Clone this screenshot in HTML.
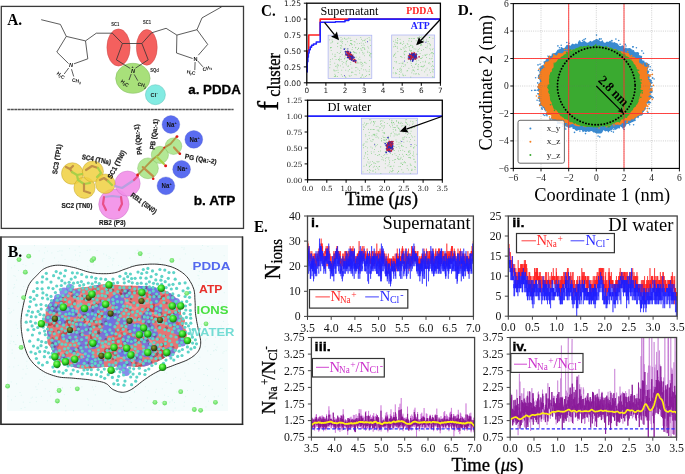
<!DOCTYPE html>
<html><head><meta charset="utf-8"><style>html,body{margin:0;padding:0;background:#fff;}svg{display:block;}</style></head>
<body><svg width="685" height="474" viewBox="0 0 685 474">
<rect width="685" height="474" fill="#fff"/>
<rect x="1.3" y="6.4" width="242.2" height="222" fill="#fff" stroke="#3a3a3a" stroke-width="1.3"/>
<text x="7.2" y="25.4" font-size="17" font-family="'Liberation Serif', 'DejaVu Serif', serif" fill="#000" font-weight="bold" textLength="15" lengthAdjust="spacingAndGlyphs" >A.</text>
<ellipse cx="118.5" cy="47.5" rx="11.6" ry="18.6" fill="#f4605e" stroke="#c84848" stroke-width="0.5"/>
<ellipse cx="146.8" cy="47.4" rx="10.4" ry="17.8" fill="#f4605e" stroke="#c84848" stroke-width="0.5"/>
<ellipse cx="132.9" cy="78.3" rx="17.2" ry="15" fill="#a8e07a" stroke="#7cb85a" stroke-width="0.5"/>
<circle cx="155.4" cy="94.7" r="10" fill="#82ebe2" stroke="#5cc0b8" stroke-width="0.5"/>
<polyline points="41.2,19.7 60.4,24.4 66.3,36.4" stroke="#333" stroke-width="0.8" fill="none" stroke-linejoin="round"/>
<polyline points="68.6,63.6 56.8,52.0 66.3,36.4 85.5,40.9 87.8,58.8 74.0,63.8" stroke="#333" stroke-width="0.8" fill="none" stroke-linejoin="round"/>
<polyline points="85.5,40.9 96.3,33.2 112.4,33.2 122.4,43.5 141.9,43.5 151.4,32.9 166.1,28.3 176.9,35.1" stroke="#333" stroke-width="0.8" fill="none" stroke-linejoin="round"/>
<polyline points="122.4,43.5 116.4,59.8 130.2,68.4" stroke="#333" stroke-width="0.8" fill="none" stroke-linejoin="round"/>
<polyline points="141.9,43.5 148.2,59.8 135.4,68.2" stroke="#333" stroke-width="0.8" fill="none" stroke-linejoin="round"/>
<polyline points="192.6,58.5 176.5,53.0 176.9,35.1 197.0,29.7 207.7,44.4 198.3,55.2" stroke="#333" stroke-width="0.8" fill="none" stroke-linejoin="round"/>
<polyline points="197.0,29.7 202.0,17.9 221.7,6.8" stroke="#333" stroke-width="0.8" fill="none" stroke-linejoin="round"/>
<polyline points="68.7,68.0 64.2,74.0" stroke="#333" stroke-width="0.8" fill="none" stroke-linejoin="round"/>
<polyline points="71.5,69.2 73.7,76.5" stroke="#333" stroke-width="0.8" fill="none" stroke-linejoin="round"/>
<polyline points="131.2,74.0 129.0,80.0" stroke="#333" stroke-width="0.8" fill="none" stroke-linejoin="round"/>
<polyline points="134.2,74.4 137.8,80.7" stroke="#333" stroke-width="0.8" fill="none" stroke-linejoin="round"/>
<polyline points="195.1,62.0 194.8,70.1" stroke="#333" stroke-width="0.8" fill="none" stroke-linejoin="round"/>
<polyline points="197.7,60.9 202.9,66.8" stroke="#333" stroke-width="0.8" fill="none" stroke-linejoin="round"/>
<text x="69.1" y="67.3" font-size="5.6" font-family="'Liberation Sans', 'DejaVu Sans', sans-serif" fill="#151515" font-weight="bold" font-style="italic">N</text>
<g transform="translate(56.3,74) rotate(38)" font-family="'Liberation Sans', 'DejaVu Sans', sans-serif" font-weight="bold" fill="#151515"><text x="0" y="0" font-size="5">H</text><text x="3.5" y="1.2" font-size="3.4">3</text><text x="5.1" y="0" font-size="5">C</text></g>
<g transform="translate(71.8,81.6) rotate(10)" font-family="'Liberation Sans', 'DejaVu Sans', sans-serif" font-weight="bold" fill="#151515"><text x="0" y="0" font-size="5">CH</text><text x="7.2" y="1.2" font-size="3.4">3</text></g>
<text x="130.9" y="72.8" font-size="5.6" font-family="'Liberation Sans', 'DejaVu Sans', sans-serif" fill="#151515" font-weight="bold" font-style="italic">N</text>
<text x="131.6" y="67.6" font-size="3.6" font-family="'Liberation Sans', 'DejaVu Sans', sans-serif" fill="#151515" font-weight="bold" >+</text>
<g transform="translate(120.2,82) rotate(35)" font-family="'Liberation Sans', 'DejaVu Sans', sans-serif" font-weight="bold" fill="#151515"><text x="0" y="0" font-size="5">H</text><text x="3.5" y="1.2" font-size="3.4">3</text><text x="5.1" y="0" font-size="5">C</text></g>
<g transform="translate(137.2,85.4) rotate(15)" font-family="'Liberation Sans', 'DejaVu Sans', sans-serif" font-weight="bold" fill="#151515"><text x="0" y="0" font-size="5">CH</text><text x="7.2" y="1.2" font-size="3.4">3</text></g>
<text x="193.6" y="60.9" font-size="5.6" font-family="'Liberation Sans', 'DejaVu Sans', sans-serif" fill="#151515" font-weight="bold" >N</text>
<g transform="translate(186.4,73.2) rotate(12)" font-family="'Liberation Sans', 'DejaVu Sans', sans-serif" font-weight="bold" fill="#151515"><text x="0" y="0" font-size="5">H</text><text x="3.5" y="1.2" font-size="3.4">3</text><text x="5.1" y="0" font-size="5">C</text></g>
<g transform="translate(203.2,71.4) rotate(-18)" font-family="'Liberation Sans', 'DejaVu Sans', sans-serif" font-weight="bold" fill="#151515"><text x="0" y="0" font-size="5">CH</text><text x="7.2" y="1.2" font-size="3.4">3</text></g>
<text x="111.2" y="26.2" font-size="4.6" font-family="'Liberation Sans', 'DejaVu Sans', sans-serif" fill="#151515" font-weight="bold" textLength="8" lengthAdjust="spacingAndGlyphs" >SC1</text>
<text x="143.0" y="24.4" font-size="4.6" font-family="'Liberation Sans', 'DejaVu Sans', sans-serif" fill="#151515" font-weight="bold" textLength="8" lengthAdjust="spacingAndGlyphs" >SC1</text>
<text x="150.2" y="71.8" font-size="4.8" font-family="'Liberation Sans', 'DejaVu Sans', sans-serif" fill="#151515" font-weight="bold" textLength="8.7" lengthAdjust="spacingAndGlyphs" >SQd</text>
<text x="150.6" y="97.4" font-size="5.8" font-family="'Liberation Sans', 'DejaVu Sans', sans-serif" fill="#151515" font-weight="bold" textLength="5.6" lengthAdjust="spacingAndGlyphs" >Cl</text>
<text x="156.4" y="93.6" font-size="3.5" font-family="'Liberation Sans', 'DejaVu Sans', sans-serif" fill="#151515" font-weight="bold" >-</text>
<text x="188.3" y="94.0" font-size="13.5" font-family="'Liberation Sans', 'DejaVu Sans', sans-serif" fill="#000" font-weight="bold" textLength="52.5" lengthAdjust="spacingAndGlyphs" stroke="#000" stroke-width="0.3">a. PDDA</text>
<line x1="7.3" y1="109.5" x2="233.6" y2="109.5" stroke="#505050" stroke-width="1.3" stroke-dasharray="3 0.5"/>
<circle cx="113.9" cy="204.2" r="15.2" fill="#f28ee8" fill-opacity="0.9" stroke="#c070c0" stroke-width="0.4"/>
<circle cx="127.6" cy="183.6" r="12.6" fill="#f28ee8" fill-opacity="0.9" stroke="#c070c0" stroke-width="0.4"/>
<circle cx="72.3" cy="173.5" r="10.8" fill="#f0d040" fill-opacity="0.85" stroke="#b89a20" stroke-width="0.4"/>
<circle cx="84.5" cy="187.8" r="10.6" fill="#f0d040" fill-opacity="0.85" stroke="#b89a20" stroke-width="0.4"/>
<circle cx="92.9" cy="171.5" r="10.6" fill="#f0d040" fill-opacity="0.85" stroke="#b89a20" stroke-width="0.4"/>
<circle cx="105.3" cy="183.8" r="9.8" fill="#f0d040" fill-opacity="0.85" stroke="#b89a20" stroke-width="0.4"/>
<circle cx="148" cy="168.3" r="10.4" fill="#ace68c" fill-opacity="0.92" stroke="#78b858" stroke-width="0.4"/>
<circle cx="159.9" cy="154.9" r="8.6" fill="#ace68c" fill-opacity="0.92" stroke="#78b858" stroke-width="0.4"/>
<circle cx="173.5" cy="146.2" r="8.3" fill="#ace68c" fill-opacity="0.92" stroke="#78b858" stroke-width="0.4"/>
<polyline points="66,167 70,169 73,166" stroke="#c09048" stroke-width="2.2" stroke-linecap="round" stroke-linejoin="round" fill="none"/>
<polyline points="70,169 72,172" stroke="#c09048" stroke-width="2.2" stroke-linecap="round" stroke-linejoin="round" fill="none"/>
<polyline points="72,172 77,175 82,174" stroke="#a8d048" stroke-width="2.2" stroke-linecap="round" stroke-linejoin="round" fill="none"/>
<polyline points="77,175 78,180" stroke="#a8d048" stroke-width="2.2" stroke-linecap="round" stroke-linejoin="round" fill="none"/>
<polyline points="78,180 84,184 90,183" stroke="#a8d048" stroke-width="2.2" stroke-linecap="round" stroke-linejoin="round" fill="none"/>
<polyline points="84,184 84,191 90,193" stroke="#c09048" stroke-width="2.2" stroke-linecap="round" stroke-linejoin="round" fill="none"/>
<polyline points="86,170 92,166 98,168" stroke="#c09048" stroke-width="2.2" stroke-linecap="round" stroke-linejoin="round" fill="none"/>
<polyline points="98,168 101,173 97,177" stroke="#a8d048" stroke-width="2.2" stroke-linecap="round" stroke-linejoin="round" fill="none"/>
<polyline points="100,180 104,178 108,181" stroke="#c09048" stroke-width="2.2" stroke-linecap="round" stroke-linejoin="round" fill="none"/>
<polyline points="108,181 112,185" stroke="#a8d048" stroke-width="2.2" stroke-linecap="round" stroke-linejoin="round" fill="none"/>
<polyline points="115,186 122,188 128,184 134,180" stroke="#b8a0e0" stroke-width="2.2" stroke-linecap="round" stroke-linejoin="round" fill="none"/>
<polyline points="134,180 138,176" stroke="#e8508a" stroke-width="2.2" stroke-linecap="round" stroke-linejoin="round" fill="none"/>
<polyline points="104,197 112,196 121,197" stroke="#b8a0e0" stroke-width="2.2" stroke-linecap="round" stroke-linejoin="round" fill="none"/>
<polyline points="104,197 103,204 106,210" stroke="#e8508a" stroke-width="2.2" stroke-linecap="round" stroke-linejoin="round" fill="none"/>
<polyline points="121,197 122,204 119,210" stroke="#e8508a" stroke-width="2.2" stroke-linecap="round" stroke-linejoin="round" fill="none"/>
<polyline points="138.1,174.7 147.4,164.8 153.2,159 159,154.4 164.8,147.4 170.6,143.9 176.4,137" stroke="#b09a48" stroke-width="1.9" stroke-linecap="round" stroke-linejoin="round" fill="none"/>
<polyline points="142.8,167.1 153.2,176.4" stroke="#c09048" stroke-width="2.2" stroke-linecap="round" stroke-linejoin="round" fill="none"/>
<polyline points="156.7,156.7 164,164" stroke="#a8d048" stroke-width="2.2" stroke-linecap="round" stroke-linejoin="round" fill="none"/>
<polyline points="174,147.4 179.5,153.4" stroke="#c09048" stroke-width="2.2" stroke-linecap="round" stroke-linejoin="round" fill="none"/>
<circle cx="137.5" cy="174.9" r="1.3" fill="#e01818"/>
<circle cx="153.2" cy="178.8" r="1.3" fill="#e01818"/>
<circle cx="165.6" cy="165.8" r="1.5" fill="#e01818"/>
<circle cx="179.9" cy="153.8" r="1.3" fill="#e01818"/>
<circle cx="177" cy="136.6" r="1.4" fill="#e01818"/>
<circle cx="164.2" cy="147.6" r="0.9" fill="#e01818"/>
<circle cx="170.9" cy="124.5" r="8.9" fill="#5a6cf0" stroke="#4a58c8" stroke-width="0.3"/>
<text x="166.6" y="126.6" font-size="6.3" font-family="'Liberation Sans', 'DejaVu Sans', sans-serif" fill="#101010" font-weight="bold" textLength="7.8" lengthAdjust="spacingAndGlyphs" >Na</text>
<text x="174.6" y="124.1" font-size="3.8" font-family="'Liberation Sans', 'DejaVu Sans', sans-serif" fill="#101010" font-weight="bold" >+</text>
<circle cx="193.8" cy="139.4" r="8.9" fill="#5a6cf0" stroke="#4a58c8" stroke-width="0.3"/>
<text x="189.5" y="141.5" font-size="6.3" font-family="'Liberation Sans', 'DejaVu Sans', sans-serif" fill="#101010" font-weight="bold" textLength="7.8" lengthAdjust="spacingAndGlyphs" >Na</text>
<text x="197.5" y="139.0" font-size="3.8" font-family="'Liberation Sans', 'DejaVu Sans', sans-serif" fill="#101010" font-weight="bold" >+</text>
<circle cx="181.6" cy="169.3" r="8.9" fill="#5a6cf0" stroke="#4a58c8" stroke-width="0.3"/>
<text x="177.3" y="171.4" font-size="6.3" font-family="'Liberation Sans', 'DejaVu Sans', sans-serif" fill="#101010" font-weight="bold" textLength="7.8" lengthAdjust="spacingAndGlyphs" >Na</text>
<text x="185.3" y="168.9" font-size="3.8" font-family="'Liberation Sans', 'DejaVu Sans', sans-serif" fill="#101010" font-weight="bold" >+</text>
<circle cx="165.9" cy="185.8" r="8.9" fill="#5a6cf0" stroke="#4a58c8" stroke-width="0.3"/>
<text x="161.6" y="187.9" font-size="6.3" font-family="'Liberation Sans', 'DejaVu Sans', sans-serif" fill="#101010" font-weight="bold" textLength="7.8" lengthAdjust="spacingAndGlyphs" >Na</text>
<text x="169.6" y="185.4" font-size="3.8" font-family="'Liberation Sans', 'DejaVu Sans', sans-serif" fill="#101010" font-weight="bold" >+</text>
<text x="57.0" y="174.5" font-size="7" font-family="'Liberation Sans', 'DejaVu Sans', sans-serif" fill="#1a1a1a" font-weight="bold" textLength="30.2" lengthAdjust="spacingAndGlyphs" transform="rotate(-81 57.0 174.5)" stroke="#1a1a1a" stroke-width="0.2">SC3 (TP1)</text>
<text x="81.5" y="158.9" font-size="7" font-family="'Liberation Sans', 'DejaVu Sans', sans-serif" fill="#1a1a1a" font-weight="bold" textLength="29.5" lengthAdjust="spacingAndGlyphs" transform="rotate(11.5 81.5 158.9)" stroke="#1a1a1a" stroke-width="0.2">SC4 (TNa)</text>
<text x="111.6" y="179.3" font-size="7" font-family="'Liberation Sans', 'DejaVu Sans', sans-serif" fill="#1a1a1a" font-weight="bold" textLength="31" lengthAdjust="spacingAndGlyphs" transform="rotate(-62.5 111.6 179.3)" stroke="#1a1a1a" stroke-width="0.2">SC1 (TN0)</text>
<text x="61.4" y="207.5" font-size="7" font-family="'Liberation Sans', 'DejaVu Sans', sans-serif" fill="#1a1a1a" font-weight="bold" textLength="31" lengthAdjust="spacingAndGlyphs" stroke="#1a1a1a" stroke-width="0.2">SC2 (TN0)</text>
<text x="99.1" y="224.8" font-size="7" font-family="'Liberation Sans', 'DejaVu Sans', sans-serif" fill="#1a1a1a" font-weight="bold" textLength="26.6" lengthAdjust="spacingAndGlyphs" stroke="#1a1a1a" stroke-width="0.2">RB2 (P3)</text>
<text x="130.0" y="196.2" font-size="7" font-family="'Liberation Sans', 'DejaVu Sans', sans-serif" fill="#1a1a1a" font-weight="bold" textLength="30.5" lengthAdjust="spacingAndGlyphs" transform="rotate(36 130.0 196.2)" stroke="#1a1a1a" stroke-width="0.2">RB1 (SN0)</text>
<text x="141.9" y="154.6" font-size="7" font-family="'Liberation Sans', 'DejaVu Sans', sans-serif" fill="#1a1a1a" font-weight="bold" textLength="30.6" lengthAdjust="spacingAndGlyphs" transform="rotate(-96 141.9 154.6)" stroke="#1a1a1a" stroke-width="0.2">PA (Qa:-1)</text>
<text x="154.6" y="149.8" font-size="7" font-family="'Liberation Sans', 'DejaVu Sans', sans-serif" fill="#1a1a1a" font-weight="bold" textLength="30.8" lengthAdjust="spacingAndGlyphs" transform="rotate(-83 154.6 149.8)" stroke="#1a1a1a" stroke-width="0.2">PB (Qa:-1)</text>
<text x="184.6" y="158.6" font-size="7" font-family="'Liberation Sans', 'DejaVu Sans', sans-serif" fill="#1a1a1a" font-weight="bold" textLength="32" lengthAdjust="spacingAndGlyphs" transform="rotate(10.5 184.6 158.6)" stroke="#1a1a1a" stroke-width="0.2">PG (Qa:-2)</text>
<text x="193.7" y="205.4" font-size="13.6" font-family="'Liberation Sans', 'DejaVu Sans', sans-serif" fill="#000" font-weight="bold" textLength="41.8" lengthAdjust="spacingAndGlyphs" stroke="#000" stroke-width="0.3">b. ATP</text>
<rect x="1" y="237" width="241.5" height="187.3" fill="#fff" stroke="#6a6a6a" stroke-width="1.5"/>
<rect x="7" y="245" width="221" height="166" fill="#f5fcfc"/>
<g fill="#d8f4f0"><rect x="35.4" y="386.4" width="0.9" height="0.9"/><rect x="117.3" y="341.2" width="0.9" height="0.9"/><rect x="139.9" y="345.5" width="0.9" height="0.9"/><rect x="13.3" y="309.7" width="0.9" height="0.9"/><rect x="39.7" y="379.1" width="0.9" height="0.9"/><rect x="212.1" y="328.3" width="0.9" height="0.9"/><rect x="22.6" y="368.8" width="0.9" height="0.9"/><rect x="35.7" y="396.8" width="0.9" height="0.9"/><rect x="216.6" y="346.6" width="0.9" height="0.9"/><rect x="144.4" y="317.2" width="0.9" height="0.9"/><rect x="88.5" y="288.8" width="0.9" height="0.9"/><rect x="120.0" y="396.4" width="0.9" height="0.9"/><rect x="153.5" y="372.0" width="0.9" height="0.9"/><rect x="67.8" y="377.7" width="0.9" height="0.9"/><rect x="37.5" y="281.8" width="0.9" height="0.9"/><rect x="181.2" y="317.5" width="0.9" height="0.9"/><rect x="155.1" y="391.7" width="0.9" height="0.9"/><rect x="120.2" y="285.8" width="0.9" height="0.9"/><rect x="187.5" y="380.1" width="0.9" height="0.9"/><rect x="128.3" y="334.4" width="0.9" height="0.9"/><rect x="223.8" y="281.3" width="0.9" height="0.9"/><rect x="52.2" y="307.3" width="0.9" height="0.9"/><rect x="129.4" y="257.7" width="0.9" height="0.9"/><rect x="113.9" y="356.7" width="0.9" height="0.9"/><rect x="85.1" y="365.7" width="0.9" height="0.9"/><rect x="137.7" y="249.8" width="0.9" height="0.9"/><rect x="59.0" y="295.0" width="0.9" height="0.9"/><rect x="184.3" y="372.6" width="0.9" height="0.9"/><rect x="198.7" y="278.3" width="0.9" height="0.9"/><rect x="35.5" y="334.1" width="0.9" height="0.9"/><rect x="110.2" y="378.8" width="0.9" height="0.9"/><rect x="68.2" y="339.6" width="0.9" height="0.9"/><rect x="25.4" y="265.3" width="0.9" height="0.9"/><rect x="205.0" y="395.9" width="0.9" height="0.9"/><rect x="102.0" y="369.0" width="0.9" height="0.9"/><rect x="39.6" y="338.8" width="0.9" height="0.9"/><rect x="155.8" y="300.3" width="0.9" height="0.9"/><rect x="51.7" y="341.7" width="0.9" height="0.9"/><rect x="206.2" y="310.0" width="0.9" height="0.9"/><rect x="55.0" y="264.7" width="0.9" height="0.9"/><rect x="14.3" y="265.3" width="0.9" height="0.9"/><rect x="51.4" y="252.5" width="0.9" height="0.9"/><rect x="83.4" y="273.3" width="0.9" height="0.9"/><rect x="110.6" y="285.8" width="0.9" height="0.9"/><rect x="207.3" y="350.5" width="0.9" height="0.9"/><rect x="161.1" y="341.3" width="0.9" height="0.9"/><rect x="82.0" y="343.0" width="0.9" height="0.9"/><rect x="10.7" y="381.5" width="0.9" height="0.9"/><rect x="42.3" y="260.8" width="0.9" height="0.9"/><rect x="227.2" y="309.6" width="0.9" height="0.9"/><rect x="108.6" y="258.2" width="0.9" height="0.9"/><rect x="159.7" y="314.5" width="0.9" height="0.9"/><rect x="19.1" y="258.1" width="0.9" height="0.9"/><rect x="14.5" y="256.0" width="0.9" height="0.9"/><rect x="193.9" y="262.3" width="0.9" height="0.9"/><rect x="136.9" y="309.7" width="0.9" height="0.9"/><rect x="75.2" y="371.7" width="0.9" height="0.9"/><rect x="77.1" y="291.8" width="0.9" height="0.9"/><rect x="26.7" y="368.1" width="0.9" height="0.9"/><rect x="45.2" y="283.7" width="0.9" height="0.9"/><rect x="12.4" y="292.7" width="0.9" height="0.9"/><rect x="192.4" y="323.3" width="0.9" height="0.9"/><rect x="110.1" y="257.4" width="0.9" height="0.9"/><rect x="35.1" y="319.5" width="0.9" height="0.9"/><rect x="170.4" y="341.9" width="0.9" height="0.9"/><rect x="50.2" y="381.9" width="0.9" height="0.9"/><rect x="20.7" y="254.3" width="0.9" height="0.9"/><rect x="139.2" y="377.8" width="0.9" height="0.9"/><rect x="205.0" y="339.6" width="0.9" height="0.9"/><rect x="13.0" y="341.0" width="0.9" height="0.9"/><rect x="184.9" y="253.5" width="0.9" height="0.9"/><rect x="49.0" y="391.1" width="0.9" height="0.9"/><rect x="27.5" y="291.0" width="0.9" height="0.9"/><rect x="11.0" y="335.7" width="0.9" height="0.9"/><rect x="71.7" y="334.4" width="0.9" height="0.9"/><rect x="167.7" y="396.1" width="0.9" height="0.9"/><rect x="116.0" y="344.8" width="0.9" height="0.9"/><rect x="195.5" y="409.6" width="0.9" height="0.9"/><rect x="55.0" y="283.5" width="0.9" height="0.9"/><rect x="76.7" y="354.9" width="0.9" height="0.9"/><rect x="64.0" y="340.8" width="0.9" height="0.9"/><rect x="223.2" y="330.2" width="0.9" height="0.9"/><rect x="215.0" y="349.2" width="0.9" height="0.9"/><rect x="82.3" y="336.4" width="0.9" height="0.9"/><rect x="103.4" y="300.9" width="0.9" height="0.9"/><rect x="76.5" y="351.5" width="0.9" height="0.9"/><rect x="172.0" y="258.8" width="0.9" height="0.9"/><rect x="15.8" y="324.5" width="0.9" height="0.9"/><rect x="21.9" y="320.2" width="0.9" height="0.9"/><rect x="96.3" y="280.4" width="0.9" height="0.9"/><rect x="61.2" y="339.3" width="0.9" height="0.9"/><rect x="193.8" y="356.2" width="0.9" height="0.9"/><rect x="170.9" y="265.8" width="0.9" height="0.9"/><rect x="127.6" y="294.3" width="0.9" height="0.9"/><rect x="153.2" y="255.3" width="0.9" height="0.9"/><rect x="160.0" y="344.1" width="0.9" height="0.9"/><rect x="179.6" y="258.6" width="0.9" height="0.9"/><rect x="212.0" y="283.1" width="0.9" height="0.9"/><rect x="40.1" y="319.3" width="0.9" height="0.9"/><rect x="145.4" y="320.0" width="0.9" height="0.9"/><rect x="38.7" y="250.5" width="0.9" height="0.9"/><rect x="104.9" y="402.3" width="0.9" height="0.9"/><rect x="180.8" y="283.2" width="0.9" height="0.9"/><rect x="204.7" y="346.3" width="0.9" height="0.9"/><rect x="174.8" y="281.9" width="0.9" height="0.9"/><rect x="14.8" y="343.9" width="0.9" height="0.9"/><rect x="86.4" y="303.6" width="0.9" height="0.9"/><rect x="43.0" y="297.9" width="0.9" height="0.9"/><rect x="227.7" y="323.8" width="0.9" height="0.9"/><rect x="38.8" y="342.3" width="0.9" height="0.9"/><rect x="61.0" y="344.3" width="0.9" height="0.9"/><rect x="85.9" y="359.3" width="0.9" height="0.9"/><rect x="20.5" y="289.6" width="0.9" height="0.9"/><rect x="199.4" y="260.2" width="0.9" height="0.9"/><rect x="147.6" y="287.1" width="0.9" height="0.9"/><rect x="42.3" y="299.2" width="0.9" height="0.9"/><rect x="117.1" y="345.8" width="0.9" height="0.9"/><rect x="24.4" y="313.8" width="0.9" height="0.9"/><rect x="142.0" y="296.7" width="0.9" height="0.9"/><rect x="58.2" y="261.3" width="0.9" height="0.9"/><rect x="15.5" y="344.0" width="0.9" height="0.9"/><rect x="32.5" y="263.3" width="0.9" height="0.9"/><rect x="129.7" y="330.8" width="0.9" height="0.9"/><rect x="147.8" y="359.3" width="0.9" height="0.9"/><rect x="78.8" y="348.4" width="0.9" height="0.9"/><rect x="149.2" y="271.5" width="0.9" height="0.9"/><rect x="84.8" y="304.1" width="0.9" height="0.9"/><rect x="35.9" y="401.2" width="0.9" height="0.9"/><rect x="76.7" y="260.1" width="0.9" height="0.9"/><rect x="94.4" y="357.7" width="0.9" height="0.9"/><rect x="208.7" y="317.4" width="0.9" height="0.9"/><rect x="32.6" y="346.8" width="0.9" height="0.9"/><rect x="26.0" y="310.4" width="0.9" height="0.9"/><rect x="131.1" y="265.5" width="0.9" height="0.9"/><rect x="219.9" y="338.4" width="0.9" height="0.9"/><rect x="207.5" y="246.0" width="0.9" height="0.9"/><rect x="161.8" y="388.4" width="0.9" height="0.9"/><rect x="21.8" y="377.6" width="0.9" height="0.9"/><rect x="185.2" y="307.0" width="0.9" height="0.9"/><rect x="158.0" y="334.2" width="0.9" height="0.9"/><rect x="38.8" y="332.6" width="0.9" height="0.9"/><rect x="109.8" y="407.6" width="0.9" height="0.9"/><rect x="17.9" y="252.3" width="0.9" height="0.9"/><rect x="184.2" y="294.4" width="0.9" height="0.9"/><rect x="165.8" y="312.6" width="0.9" height="0.9"/><rect x="184.8" y="375.7" width="0.9" height="0.9"/><rect x="175.1" y="366.2" width="0.9" height="0.9"/><rect x="66.1" y="315.3" width="0.9" height="0.9"/><rect x="181.5" y="246.9" width="0.9" height="0.9"/><rect x="62.1" y="352.6" width="0.9" height="0.9"/><rect x="37.5" y="312.5" width="0.9" height="0.9"/><rect x="93.3" y="264.4" width="0.9" height="0.9"/><rect x="117.0" y="349.7" width="0.9" height="0.9"/><rect x="70.2" y="318.9" width="0.9" height="0.9"/><rect x="140.9" y="295.9" width="0.9" height="0.9"/><rect x="140.2" y="289.7" width="0.9" height="0.9"/><rect x="60.0" y="331.5" width="0.9" height="0.9"/><rect x="144.6" y="286.1" width="0.9" height="0.9"/><rect x="86.0" y="310.3" width="0.9" height="0.9"/><rect x="169.4" y="401.4" width="0.9" height="0.9"/><rect x="71.2" y="324.3" width="0.9" height="0.9"/><rect x="183.5" y="287.1" width="0.9" height="0.9"/><rect x="98.7" y="331.5" width="0.9" height="0.9"/><rect x="129.3" y="397.3" width="0.9" height="0.9"/><rect x="155.8" y="388.8" width="0.9" height="0.9"/><rect x="121.6" y="357.4" width="0.9" height="0.9"/><rect x="63.9" y="394.2" width="0.9" height="0.9"/><rect x="223.4" y="370.6" width="0.9" height="0.9"/><rect x="28.2" y="357.9" width="0.9" height="0.9"/><rect x="78.8" y="316.1" width="0.9" height="0.9"/><rect x="128.4" y="269.8" width="0.9" height="0.9"/><rect x="13.3" y="366.5" width="0.9" height="0.9"/><rect x="41.2" y="350.3" width="0.9" height="0.9"/><rect x="183.6" y="405.7" width="0.9" height="0.9"/><rect x="180.2" y="298.3" width="0.9" height="0.9"/><rect x="147.8" y="390.5" width="0.9" height="0.9"/><rect x="206.3" y="281.3" width="0.9" height="0.9"/><rect x="174.0" y="402.1" width="0.9" height="0.9"/><rect x="73.0" y="410.3" width="0.9" height="0.9"/><rect x="149.5" y="252.8" width="0.9" height="0.9"/><rect x="82.2" y="298.9" width="0.9" height="0.9"/><rect x="172.7" y="410.7" width="0.9" height="0.9"/><rect x="92.0" y="405.7" width="0.9" height="0.9"/><rect x="40.9" y="356.3" width="0.9" height="0.9"/><rect x="200.7" y="267.3" width="0.9" height="0.9"/><rect x="159.6" y="246.1" width="0.9" height="0.9"/><rect x="171.6" y="286.4" width="0.9" height="0.9"/><rect x="130.7" y="401.8" width="0.9" height="0.9"/><rect x="180.0" y="378.6" width="0.9" height="0.9"/><rect x="106.0" y="316.1" width="0.9" height="0.9"/><rect x="132.0" y="371.4" width="0.9" height="0.9"/><rect x="20.8" y="394.8" width="0.9" height="0.9"/><rect x="129.7" y="294.8" width="0.9" height="0.9"/><rect x="187.0" y="390.1" width="0.9" height="0.9"/><rect x="162.9" y="289.7" width="0.9" height="0.9"/><rect x="184.5" y="299.6" width="0.9" height="0.9"/><rect x="116.6" y="252.4" width="0.9" height="0.9"/><rect x="201.8" y="271.6" width="0.9" height="0.9"/><rect x="30.9" y="336.4" width="0.9" height="0.9"/><rect x="200.5" y="249.0" width="0.9" height="0.9"/><rect x="89.1" y="335.6" width="0.9" height="0.9"/><rect x="27.1" y="273.2" width="0.9" height="0.9"/><rect x="143.9" y="369.3" width="0.9" height="0.9"/><rect x="107.5" y="266.2" width="0.9" height="0.9"/><rect x="101.7" y="279.4" width="0.9" height="0.9"/><rect x="195.3" y="289.6" width="0.9" height="0.9"/><rect x="37.5" y="341.7" width="0.9" height="0.9"/><rect x="143.3" y="379.2" width="0.9" height="0.9"/><rect x="98.4" y="370.0" width="0.9" height="0.9"/><rect x="123.7" y="368.0" width="0.9" height="0.9"/><rect x="117.4" y="358.2" width="0.9" height="0.9"/><rect x="36.6" y="335.2" width="0.9" height="0.9"/><rect x="120.2" y="301.9" width="0.9" height="0.9"/><rect x="197.5" y="274.9" width="0.9" height="0.9"/><rect x="44.8" y="388.4" width="0.9" height="0.9"/><rect x="9.5" y="312.9" width="0.9" height="0.9"/><rect x="21.9" y="352.9" width="0.9" height="0.9"/><rect x="108.6" y="256.3" width="0.9" height="0.9"/><rect x="222.4" y="304.9" width="0.9" height="0.9"/><rect x="16.8" y="261.7" width="0.9" height="0.9"/><rect x="226.0" y="303.9" width="0.9" height="0.9"/><rect x="125.5" y="366.7" width="0.9" height="0.9"/><rect x="33.6" y="301.6" width="0.9" height="0.9"/><rect x="99.5" y="358.2" width="0.9" height="0.9"/><rect x="52.8" y="265.4" width="0.9" height="0.9"/><rect x="164.8" y="308.9" width="0.9" height="0.9"/><rect x="126.7" y="313.1" width="0.9" height="0.9"/><rect x="70.6" y="329.5" width="0.9" height="0.9"/><rect x="63.4" y="282.9" width="0.9" height="0.9"/><rect x="198.6" y="361.0" width="0.9" height="0.9"/><rect x="176.3" y="391.5" width="0.9" height="0.9"/><rect x="103.4" y="379.9" width="0.9" height="0.9"/><rect x="96.6" y="250.1" width="0.9" height="0.9"/><rect x="170.0" y="326.0" width="0.9" height="0.9"/><rect x="221.5" y="302.1" width="0.9" height="0.9"/><rect x="24.6" y="340.1" width="0.9" height="0.9"/><rect x="42.2" y="258.8" width="0.9" height="0.9"/><rect x="87.1" y="366.1" width="0.9" height="0.9"/><rect x="119.2" y="314.2" width="0.9" height="0.9"/><rect x="22.8" y="401.7" width="0.9" height="0.9"/><rect x="18.8" y="248.2" width="0.9" height="0.9"/><rect x="55.5" y="314.3" width="0.9" height="0.9"/><rect x="92.3" y="325.8" width="0.9" height="0.9"/><rect x="170.4" y="383.0" width="0.9" height="0.9"/><rect x="141.8" y="370.6" width="0.9" height="0.9"/><rect x="13.5" y="275.2" width="0.9" height="0.9"/><rect x="16.9" y="296.1" width="0.9" height="0.9"/><rect x="106.9" y="367.1" width="0.9" height="0.9"/><rect x="200.3" y="314.7" width="0.9" height="0.9"/><rect x="209.2" y="288.7" width="0.9" height="0.9"/><rect x="87.7" y="399.5" width="0.9" height="0.9"/><rect x="203.1" y="385.0" width="0.9" height="0.9"/><rect x="212.3" y="304.0" width="0.9" height="0.9"/><rect x="96.9" y="336.2" width="0.9" height="0.9"/><rect x="171.9" y="399.2" width="0.9" height="0.9"/><rect x="87.7" y="280.9" width="0.9" height="0.9"/><rect x="40.9" y="395.9" width="0.9" height="0.9"/><rect x="134.1" y="391.8" width="0.9" height="0.9"/><rect x="26.1" y="365.6" width="0.9" height="0.9"/><rect x="153.6" y="358.9" width="0.9" height="0.9"/><rect x="185.8" y="358.7" width="0.9" height="0.9"/><rect x="209.3" y="335.3" width="0.9" height="0.9"/><rect x="106.0" y="341.7" width="0.9" height="0.9"/><rect x="32.9" y="277.8" width="0.9" height="0.9"/><rect x="206.5" y="338.4" width="0.9" height="0.9"/><rect x="199.4" y="356.7" width="0.9" height="0.9"/><rect x="220.8" y="325.6" width="0.9" height="0.9"/><rect x="138.3" y="357.8" width="0.9" height="0.9"/><rect x="155.8" y="321.1" width="0.9" height="0.9"/><rect x="89.5" y="378.4" width="0.9" height="0.9"/><rect x="47.5" y="364.7" width="0.9" height="0.9"/><rect x="71.5" y="259.8" width="0.9" height="0.9"/><rect x="166.3" y="372.7" width="0.9" height="0.9"/><rect x="78.8" y="292.3" width="0.9" height="0.9"/><rect x="159.8" y="258.5" width="0.9" height="0.9"/><rect x="118.0" y="265.1" width="0.9" height="0.9"/><rect x="106.2" y="298.8" width="0.9" height="0.9"/><rect x="220.8" y="332.1" width="0.9" height="0.9"/><rect x="43.7" y="299.8" width="0.9" height="0.9"/><rect x="114.7" y="278.8" width="0.9" height="0.9"/><rect x="42.3" y="372.7" width="0.9" height="0.9"/><rect x="214.2" y="307.0" width="0.9" height="0.9"/><rect x="115.0" y="390.1" width="0.9" height="0.9"/><rect x="80.4" y="285.6" width="0.9" height="0.9"/><rect x="44.2" y="359.5" width="0.9" height="0.9"/><rect x="138.3" y="304.3" width="0.9" height="0.9"/><rect x="95.2" y="386.1" width="0.9" height="0.9"/><rect x="35.1" y="352.3" width="0.9" height="0.9"/><rect x="14.2" y="357.6" width="0.9" height="0.9"/><rect x="93.5" y="260.4" width="0.9" height="0.9"/><rect x="135.9" y="369.7" width="0.9" height="0.9"/><rect x="121.7" y="303.8" width="0.9" height="0.9"/><rect x="205.9" y="367.9" width="0.9" height="0.9"/><rect x="208.5" y="385.3" width="0.9" height="0.9"/><rect x="213.9" y="265.3" width="0.9" height="0.9"/><rect x="183.7" y="247.5" width="0.9" height="0.9"/><rect x="112.6" y="370.8" width="0.9" height="0.9"/><rect x="122.8" y="405.8" width="0.9" height="0.9"/><rect x="94.8" y="394.5" width="0.9" height="0.9"/><rect x="95.3" y="317.3" width="0.9" height="0.9"/><rect x="16.2" y="383.4" width="0.9" height="0.9"/><rect x="183.5" y="248.9" width="0.9" height="0.9"/><rect x="61.4" y="254.7" width="0.9" height="0.9"/><rect x="13.5" y="341.5" width="0.9" height="0.9"/><rect x="110.1" y="332.6" width="0.9" height="0.9"/><rect x="165.6" y="381.9" width="0.9" height="0.9"/><rect x="103.4" y="283.8" width="0.9" height="0.9"/><rect x="87.5" y="321.8" width="0.9" height="0.9"/><rect x="152.5" y="409.3" width="0.9" height="0.9"/><rect x="43.0" y="295.3" width="0.9" height="0.9"/><rect x="9.5" y="312.1" width="0.9" height="0.9"/><rect x="137.9" y="345.8" width="0.9" height="0.9"/><rect x="124.2" y="410.2" width="0.9" height="0.9"/><rect x="198.3" y="275.3" width="0.9" height="0.9"/><rect x="98.9" y="359.7" width="0.9" height="0.9"/><rect x="180.7" y="313.8" width="0.9" height="0.9"/><rect x="11.0" y="311.5" width="0.9" height="0.9"/><rect x="13.0" y="287.6" width="0.9" height="0.9"/><rect x="139.3" y="322.3" width="0.9" height="0.9"/><rect x="57.0" y="340.4" width="0.9" height="0.9"/><rect x="21.9" y="310.1" width="0.9" height="0.9"/><rect x="35.2" y="328.9" width="0.9" height="0.9"/><rect x="89.8" y="350.6" width="0.9" height="0.9"/><rect x="81.5" y="386.4" width="0.9" height="0.9"/><rect x="131.6" y="338.1" width="0.9" height="0.9"/><rect x="203.2" y="308.5" width="0.9" height="0.9"/><rect x="87.8" y="404.6" width="0.9" height="0.9"/><rect x="47.7" y="273.6" width="0.9" height="0.9"/><rect x="134.7" y="252.6" width="0.9" height="0.9"/><rect x="7.5" y="395.8" width="0.9" height="0.9"/><rect x="92.0" y="289.1" width="0.9" height="0.9"/><rect x="77.1" y="270.2" width="0.9" height="0.9"/><rect x="92.6" y="309.0" width="0.9" height="0.9"/><rect x="18.2" y="301.9" width="0.9" height="0.9"/><rect x="129.5" y="303.9" width="0.9" height="0.9"/><rect x="144.9" y="386.3" width="0.9" height="0.9"/><rect x="172.6" y="293.2" width="0.9" height="0.9"/><rect x="218.6" y="267.0" width="0.9" height="0.9"/><rect x="85.4" y="280.8" width="0.9" height="0.9"/><rect x="152.0" y="402.6" width="0.9" height="0.9"/><rect x="104.7" y="316.2" width="0.9" height="0.9"/><rect x="54.5" y="304.9" width="0.9" height="0.9"/><rect x="203.5" y="374.0" width="0.9" height="0.9"/><rect x="171.8" y="400.3" width="0.9" height="0.9"/><rect x="215.4" y="329.7" width="0.9" height="0.9"/><rect x="188.6" y="380.2" width="0.9" height="0.9"/><rect x="209.8" y="288.9" width="0.9" height="0.9"/><rect x="35.3" y="303.2" width="0.9" height="0.9"/><rect x="10.5" y="340.7" width="0.9" height="0.9"/><rect x="50.9" y="284.2" width="0.9" height="0.9"/><rect x="98.1" y="290.7" width="0.9" height="0.9"/><rect x="159.0" y="276.1" width="0.9" height="0.9"/><rect x="103.9" y="288.5" width="0.9" height="0.9"/><rect x="120.4" y="384.3" width="0.9" height="0.9"/><rect x="175.2" y="376.9" width="0.9" height="0.9"/><rect x="22.6" y="263.9" width="0.9" height="0.9"/><rect x="156.9" y="302.9" width="0.9" height="0.9"/><rect x="17.8" y="364.9" width="0.9" height="0.9"/><rect x="62.0" y="387.7" width="0.9" height="0.9"/><rect x="166.6" y="338.0" width="0.9" height="0.9"/><rect x="158.0" y="365.6" width="0.9" height="0.9"/><rect x="96.6" y="284.4" width="0.9" height="0.9"/><rect x="72.1" y="374.8" width="0.9" height="0.9"/><rect x="190.0" y="381.3" width="0.9" height="0.9"/><rect x="67.7" y="312.6" width="0.9" height="0.9"/><rect x="13.9" y="284.1" width="0.9" height="0.9"/><rect x="61.6" y="250.5" width="0.9" height="0.9"/><rect x="11.7" y="349.5" width="0.9" height="0.9"/><rect x="186.2" y="350.0" width="0.9" height="0.9"/><rect x="34.0" y="245.2" width="0.9" height="0.9"/><rect x="222.2" y="331.3" width="0.9" height="0.9"/><rect x="54.1" y="400.8" width="0.9" height="0.9"/><rect x="74.6" y="249.8" width="0.9" height="0.9"/><rect x="136.3" y="267.8" width="0.9" height="0.9"/><rect x="75.1" y="254.6" width="0.9" height="0.9"/><rect x="90.8" y="317.5" width="0.9" height="0.9"/><rect x="30.0" y="308.9" width="0.9" height="0.9"/><rect x="93.0" y="389.4" width="0.9" height="0.9"/><rect x="12.6" y="256.0" width="0.9" height="0.9"/><rect x="56.5" y="278.3" width="0.9" height="0.9"/><rect x="208.0" y="400.7" width="0.9" height="0.9"/><rect x="69.1" y="248.2" width="0.9" height="0.9"/><rect x="66.9" y="288.0" width="0.9" height="0.9"/><rect x="157.1" y="310.4" width="0.9" height="0.9"/><rect x="202.1" y="245.1" width="0.9" height="0.9"/><rect x="72.4" y="292.7" width="0.9" height="0.9"/><rect x="90.2" y="345.1" width="0.9" height="0.9"/><rect x="164.9" y="347.1" width="0.9" height="0.9"/><rect x="182.1" y="346.1" width="0.9" height="0.9"/><rect x="142.6" y="353.0" width="0.9" height="0.9"/><rect x="46.6" y="347.0" width="0.9" height="0.9"/><rect x="46.9" y="250.7" width="0.9" height="0.9"/><rect x="174.5" y="353.7" width="0.9" height="0.9"/><rect x="163.2" y="341.9" width="0.9" height="0.9"/><rect x="205.1" y="281.1" width="0.9" height="0.9"/><rect x="179.3" y="314.6" width="0.9" height="0.9"/><rect x="100.1" y="284.5" width="0.9" height="0.9"/><rect x="36.5" y="389.1" width="0.9" height="0.9"/><rect x="203.8" y="291.3" width="0.9" height="0.9"/><rect x="160.7" y="272.0" width="0.9" height="0.9"/><rect x="134.4" y="377.2" width="0.9" height="0.9"/><rect x="157.7" y="371.3" width="0.9" height="0.9"/><rect x="92.1" y="386.5" width="0.9" height="0.9"/><rect x="82.9" y="357.4" width="0.9" height="0.9"/><rect x="134.2" y="314.2" width="0.9" height="0.9"/><rect x="113.7" y="323.9" width="0.9" height="0.9"/><rect x="163.7" y="337.2" width="0.9" height="0.9"/><rect x="213.9" y="343.9" width="0.9" height="0.9"/><rect x="194.3" y="401.9" width="0.9" height="0.9"/><rect x="92.6" y="289.1" width="0.9" height="0.9"/><rect x="89.3" y="372.6" width="0.9" height="0.9"/><rect x="211.8" y="247.8" width="0.9" height="0.9"/><rect x="94.2" y="276.6" width="0.9" height="0.9"/><rect x="183.9" y="401.8" width="0.9" height="0.9"/><rect x="27.5" y="286.7" width="0.9" height="0.9"/><rect x="106.7" y="329.8" width="0.9" height="0.9"/><rect x="121.1" y="397.1" width="0.9" height="0.9"/><rect x="185.8" y="353.7" width="0.9" height="0.9"/><rect x="201.0" y="326.1" width="0.9" height="0.9"/><rect x="40.7" y="361.5" width="0.9" height="0.9"/><rect x="143.4" y="407.4" width="0.9" height="0.9"/><rect x="146.0" y="401.2" width="0.9" height="0.9"/><rect x="40.5" y="275.1" width="0.9" height="0.9"/><rect x="191.2" y="268.2" width="0.9" height="0.9"/><rect x="129.3" y="292.8" width="0.9" height="0.9"/><rect x="219.5" y="269.1" width="0.9" height="0.9"/><rect x="48.2" y="371.8" width="0.9" height="0.9"/><rect x="123.0" y="383.4" width="0.9" height="0.9"/><rect x="78.5" y="268.4" width="0.9" height="0.9"/><rect x="149.0" y="257.1" width="0.9" height="0.9"/><rect x="141.4" y="298.7" width="0.9" height="0.9"/><rect x="120.2" y="359.0" width="0.9" height="0.9"/><rect x="78.8" y="372.9" width="0.9" height="0.9"/><rect x="118.4" y="321.5" width="0.9" height="0.9"/><rect x="89.3" y="351.1" width="0.9" height="0.9"/><rect x="203.9" y="397.3" width="0.9" height="0.9"/><rect x="109.0" y="391.1" width="0.9" height="0.9"/><rect x="112.0" y="264.5" width="0.9" height="0.9"/><rect x="64.1" y="363.4" width="0.9" height="0.9"/><rect x="63.1" y="373.9" width="0.9" height="0.9"/><rect x="217.8" y="395.6" width="0.9" height="0.9"/><rect x="76.4" y="314.4" width="0.9" height="0.9"/><rect x="198.9" y="270.9" width="0.9" height="0.9"/><rect x="138.4" y="323.6" width="0.9" height="0.9"/><rect x="223.7" y="306.5" width="0.9" height="0.9"/><rect x="43.3" y="310.4" width="0.9" height="0.9"/><rect x="215.1" y="378.3" width="0.9" height="0.9"/><rect x="177.7" y="353.2" width="0.9" height="0.9"/><rect x="132.5" y="357.9" width="0.9" height="0.9"/><rect x="163.7" y="353.3" width="0.9" height="0.9"/><rect x="166.7" y="268.5" width="0.9" height="0.9"/><rect x="106.1" y="254.7" width="0.9" height="0.9"/><rect x="147.2" y="310.6" width="0.9" height="0.9"/><rect x="57.5" y="386.1" width="0.9" height="0.9"/><rect x="11.7" y="352.7" width="0.9" height="0.9"/><rect x="156.5" y="376.4" width="0.9" height="0.9"/><rect x="111.9" y="348.3" width="0.9" height="0.9"/><rect x="207.1" y="375.2" width="0.9" height="0.9"/><rect x="65.4" y="410.4" width="0.9" height="0.9"/><rect x="187.8" y="363.4" width="0.9" height="0.9"/><rect x="225.0" y="388.0" width="0.9" height="0.9"/><rect x="205.5" y="406.5" width="0.9" height="0.9"/><rect x="220.1" y="367.9" width="0.9" height="0.9"/><rect x="42.2" y="380.0" width="0.9" height="0.9"/><rect x="43.5" y="258.0" width="0.9" height="0.9"/><rect x="57.5" y="251.0" width="0.9" height="0.9"/><rect x="86.9" y="398.3" width="0.9" height="0.9"/><rect x="32.5" y="284.5" width="0.9" height="0.9"/><rect x="40.3" y="295.7" width="0.9" height="0.9"/><rect x="11.1" y="267.4" width="0.9" height="0.9"/><rect x="213.3" y="350.3" width="0.9" height="0.9"/><rect x="86.8" y="249.9" width="0.9" height="0.9"/><rect x="145.4" y="377.6" width="0.9" height="0.9"/><rect x="107.5" y="294.5" width="0.9" height="0.9"/><rect x="171.2" y="368.5" width="0.9" height="0.9"/><rect x="185.2" y="396.2" width="0.9" height="0.9"/><rect x="91.6" y="359.6" width="0.9" height="0.9"/><rect x="125.3" y="315.5" width="0.9" height="0.9"/><rect x="28.5" y="348.7" width="0.9" height="0.9"/><rect x="70.1" y="387.0" width="0.9" height="0.9"/><rect x="56.2" y="363.1" width="0.9" height="0.9"/><rect x="75.2" y="286.9" width="0.9" height="0.9"/><rect x="78.7" y="246.3" width="0.9" height="0.9"/><rect x="134.1" y="391.0" width="0.9" height="0.9"/><rect x="80.5" y="348.5" width="0.9" height="0.9"/><rect x="79.2" y="255.5" width="0.9" height="0.9"/><rect x="190.7" y="336.5" width="0.9" height="0.9"/><rect x="9.7" y="342.8" width="0.9" height="0.9"/><rect x="8.2" y="293.7" width="0.9" height="0.9"/><rect x="19.6" y="392.1" width="0.9" height="0.9"/><rect x="198.3" y="284.8" width="0.9" height="0.9"/><rect x="147.1" y="268.9" width="0.9" height="0.9"/><rect x="167.9" y="296.3" width="0.9" height="0.9"/><rect x="218.6" y="301.2" width="0.9" height="0.9"/><rect x="55.2" y="391.8" width="0.9" height="0.9"/><rect x="210.3" y="354.1" width="0.9" height="0.9"/><rect x="60.6" y="265.2" width="0.9" height="0.9"/><rect x="121.7" y="310.3" width="0.9" height="0.9"/><rect x="157.5" y="262.1" width="0.9" height="0.9"/><rect x="183.2" y="362.2" width="0.9" height="0.9"/><rect x="61.8" y="386.9" width="0.9" height="0.9"/><rect x="112.4" y="260.5" width="0.9" height="0.9"/><rect x="17.1" y="328.0" width="0.9" height="0.9"/><rect x="70.6" y="285.6" width="0.9" height="0.9"/><rect x="223.8" y="292.3" width="0.9" height="0.9"/><rect x="207.0" y="369.0" width="0.9" height="0.9"/><rect x="135.6" y="407.2" width="0.9" height="0.9"/><rect x="180.8" y="291.3" width="0.9" height="0.9"/><rect x="206.4" y="335.1" width="0.9" height="0.9"/><rect x="80.3" y="296.5" width="0.9" height="0.9"/><rect x="223.7" y="255.3" width="0.9" height="0.9"/><rect x="106.1" y="345.0" width="0.9" height="0.9"/><rect x="42.1" y="270.8" width="0.9" height="0.9"/><rect x="124.1" y="359.2" width="0.9" height="0.9"/><rect x="138.2" y="369.0" width="0.9" height="0.9"/><rect x="160.1" y="268.6" width="0.9" height="0.9"/><rect x="155.3" y="344.0" width="0.9" height="0.9"/><rect x="16.2" y="279.6" width="0.9" height="0.9"/><rect x="148.2" y="371.7" width="0.9" height="0.9"/><rect x="210.7" y="292.5" width="0.9" height="0.9"/><rect x="155.1" y="359.5" width="0.9" height="0.9"/><rect x="222.5" y="352.6" width="0.9" height="0.9"/><rect x="120.0" y="340.5" width="0.9" height="0.9"/><rect x="186.1" y="281.1" width="0.9" height="0.9"/><rect x="38.0" y="383.5" width="0.9" height="0.9"/><rect x="204.9" y="303.9" width="0.9" height="0.9"/><rect x="103.5" y="372.9" width="0.9" height="0.9"/><rect x="200.7" y="323.8" width="0.9" height="0.9"/><rect x="77.9" y="319.4" width="0.9" height="0.9"/><rect x="145.0" y="363.2" width="0.9" height="0.9"/><rect x="194.1" y="301.6" width="0.9" height="0.9"/><rect x="164.2" y="371.7" width="0.9" height="0.9"/><rect x="144.0" y="318.9" width="0.9" height="0.9"/><rect x="221.5" y="367.9" width="0.9" height="0.9"/><rect x="26.4" y="360.8" width="0.9" height="0.9"/><rect x="29.5" y="401.9" width="0.9" height="0.9"/><rect x="128.9" y="312.8" width="0.9" height="0.9"/><rect x="218.0" y="302.9" width="0.9" height="0.9"/><rect x="158.7" y="410.1" width="0.9" height="0.9"/><rect x="75.4" y="330.7" width="0.9" height="0.9"/><rect x="30.8" y="314.5" width="0.9" height="0.9"/><rect x="106.1" y="361.3" width="0.9" height="0.9"/><rect x="113.1" y="286.5" width="0.9" height="0.9"/><rect x="110.5" y="404.0" width="0.9" height="0.9"/><rect x="143.9" y="370.1" width="0.9" height="0.9"/><rect x="67.3" y="352.7" width="0.9" height="0.9"/><rect x="201.6" y="293.4" width="0.9" height="0.9"/><rect x="70.7" y="379.3" width="0.9" height="0.9"/><rect x="30.7" y="397.6" width="0.9" height="0.9"/><rect x="84.1" y="376.4" width="0.9" height="0.9"/><rect x="213.8" y="396.4" width="0.9" height="0.9"/><rect x="42.2" y="260.3" width="0.9" height="0.9"/><rect x="68.4" y="368.0" width="0.9" height="0.9"/><rect x="211.8" y="388.8" width="0.9" height="0.9"/><rect x="83.9" y="324.0" width="0.9" height="0.9"/><rect x="193.3" y="258.3" width="0.9" height="0.9"/><rect x="17.0" y="335.1" width="0.9" height="0.9"/><rect x="203.4" y="285.3" width="0.9" height="0.9"/><rect x="59.4" y="250.4" width="0.9" height="0.9"/><rect x="46.9" y="400.3" width="0.9" height="0.9"/><rect x="171.0" y="383.2" width="0.9" height="0.9"/><rect x="225.7" y="350.3" width="0.9" height="0.9"/><rect x="219.0" y="369.3" width="0.9" height="0.9"/><rect x="173.3" y="356.5" width="0.9" height="0.9"/><rect x="209.1" y="321.8" width="0.9" height="0.9"/><rect x="225.1" y="265.1" width="0.9" height="0.9"/><rect x="129.2" y="292.9" width="0.9" height="0.9"/><rect x="39.0" y="329.0" width="0.9" height="0.9"/><rect x="194.7" y="341.6" width="0.9" height="0.9"/><rect x="94.5" y="295.0" width="0.9" height="0.9"/><rect x="76.1" y="266.1" width="0.9" height="0.9"/><rect x="117.7" y="301.8" width="0.9" height="0.9"/><rect x="14.7" y="275.8" width="0.9" height="0.9"/><rect x="11.1" y="399.5" width="0.9" height="0.9"/><rect x="65.4" y="281.7" width="0.9" height="0.9"/><rect x="138.7" y="310.4" width="0.9" height="0.9"/><rect x="172.6" y="334.9" width="0.9" height="0.9"/><rect x="218.5" y="286.9" width="0.9" height="0.9"/><rect x="187.8" y="327.2" width="0.9" height="0.9"/><rect x="215.0" y="336.8" width="0.9" height="0.9"/><rect x="147.6" y="253.2" width="0.9" height="0.9"/><rect x="169.2" y="402.3" width="0.9" height="0.9"/><rect x="136.8" y="334.3" width="0.9" height="0.9"/><rect x="25.0" y="269.2" width="0.9" height="0.9"/><rect x="20.7" y="408.1" width="0.9" height="0.9"/><rect x="175.0" y="272.9" width="0.9" height="0.9"/><rect x="51.7" y="365.8" width="0.9" height="0.9"/><rect x="181.6" y="325.1" width="0.9" height="0.9"/><rect x="109.6" y="287.8" width="0.9" height="0.9"/><rect x="8.5" y="308.0" width="0.9" height="0.9"/><rect x="131.1" y="324.9" width="0.9" height="0.9"/><rect x="104.9" y="306.6" width="0.9" height="0.9"/><rect x="23.3" y="286.0" width="0.9" height="0.9"/><rect x="64.7" y="314.1" width="0.9" height="0.9"/><rect x="74.8" y="317.3" width="0.9" height="0.9"/><rect x="83.4" y="359.2" width="0.9" height="0.9"/><rect x="163.2" y="277.8" width="0.9" height="0.9"/><rect x="44.0" y="252.5" width="0.9" height="0.9"/><rect x="105.0" y="383.4" width="0.9" height="0.9"/><rect x="141.1" y="256.5" width="0.9" height="0.9"/><rect x="216.1" y="349.8" width="0.9" height="0.9"/><rect x="32.4" y="336.1" width="0.9" height="0.9"/><rect x="24.5" y="406.9" width="0.9" height="0.9"/><rect x="49.4" y="276.5" width="0.9" height="0.9"/><rect x="55.7" y="392.4" width="0.9" height="0.9"/><rect x="43.0" y="266.6" width="0.9" height="0.9"/><rect x="23.8" y="273.5" width="0.9" height="0.9"/><rect x="53.3" y="353.5" width="0.9" height="0.9"/><rect x="56.4" y="272.5" width="0.9" height="0.9"/><rect x="113.0" y="342.4" width="0.9" height="0.9"/><rect x="150.1" y="357.1" width="0.9" height="0.9"/><rect x="87.4" y="265.8" width="0.9" height="0.9"/><rect x="44.2" y="376.2" width="0.9" height="0.9"/><rect x="27.9" y="315.2" width="0.9" height="0.9"/><rect x="65.1" y="405.5" width="0.9" height="0.9"/><rect x="44.8" y="246.9" width="0.9" height="0.9"/><rect x="113.3" y="258.0" width="0.9" height="0.9"/><rect x="199.5" y="347.9" width="0.9" height="0.9"/><rect x="165.3" y="287.7" width="0.9" height="0.9"/><rect x="51.9" y="311.8" width="0.9" height="0.9"/><rect x="14.9" y="395.9" width="0.9" height="0.9"/><rect x="21.9" y="302.1" width="0.9" height="0.9"/><rect x="103.3" y="253.5" width="0.9" height="0.9"/><rect x="87.4" y="268.7" width="0.9" height="0.9"/><rect x="157.8" y="337.2" width="0.9" height="0.9"/><rect x="25.5" y="373.6" width="0.9" height="0.9"/><rect x="63.3" y="370.8" width="0.9" height="0.9"/><rect x="158.6" y="323.3" width="0.9" height="0.9"/><rect x="132.5" y="284.8" width="0.9" height="0.9"/><rect x="121.2" y="266.3" width="0.9" height="0.9"/><rect x="206.3" y="282.1" width="0.9" height="0.9"/><rect x="32.0" y="278.3" width="0.9" height="0.9"/><rect x="50.2" y="395.6" width="0.9" height="0.9"/><rect x="132.0" y="312.7" width="0.9" height="0.9"/><rect x="131.9" y="264.4" width="0.9" height="0.9"/><rect x="223.6" y="350.9" width="0.9" height="0.9"/><rect x="223.0" y="320.9" width="0.9" height="0.9"/><rect x="136.8" y="249.8" width="0.9" height="0.9"/><rect x="174.7" y="407.6" width="0.9" height="0.9"/><rect x="161.1" y="402.1" width="0.9" height="0.9"/><rect x="36.4" y="288.6" width="0.9" height="0.9"/><rect x="140.1" y="383.3" width="0.9" height="0.9"/><rect x="74.6" y="320.5" width="0.9" height="0.9"/><rect x="86.3" y="356.8" width="0.9" height="0.9"/><rect x="41.5" y="353.5" width="0.9" height="0.9"/><rect x="8.8" y="366.5" width="0.9" height="0.9"/><rect x="195.7" y="318.1" width="0.9" height="0.9"/><rect x="165.5" y="269.3" width="0.9" height="0.9"/><rect x="173.2" y="378.5" width="0.9" height="0.9"/><rect x="70.7" y="318.1" width="0.9" height="0.9"/><rect x="99.2" y="318.4" width="0.9" height="0.9"/><rect x="45.9" y="371.0" width="0.9" height="0.9"/><rect x="140.1" y="358.8" width="0.9" height="0.9"/><rect x="192.5" y="409.2" width="0.9" height="0.9"/><rect x="179.1" y="309.4" width="0.9" height="0.9"/><rect x="213.4" y="350.4" width="0.9" height="0.9"/><rect x="64.6" y="258.9" width="0.9" height="0.9"/><rect x="162.0" y="263.7" width="0.9" height="0.9"/><rect x="35.0" y="287.3" width="0.9" height="0.9"/><rect x="125.5" y="291.5" width="0.9" height="0.9"/><rect x="31.4" y="319.1" width="0.9" height="0.9"/><rect x="126.4" y="283.0" width="0.9" height="0.9"/><rect x="126.8" y="400.4" width="0.9" height="0.9"/><rect x="83.7" y="316.0" width="0.9" height="0.9"/><rect x="84.2" y="308.5" width="0.9" height="0.9"/><rect x="164.2" y="394.7" width="0.9" height="0.9"/><rect x="113.3" y="377.1" width="0.9" height="0.9"/><rect x="97.1" y="372.8" width="0.9" height="0.9"/><rect x="31.9" y="396.7" width="0.9" height="0.9"/><rect x="69.4" y="367.3" width="0.9" height="0.9"/><rect x="194.2" y="295.7" width="0.9" height="0.9"/><rect x="221.8" y="404.6" width="0.9" height="0.9"/><rect x="89.5" y="249.5" width="0.9" height="0.9"/><rect x="199.4" y="393.9" width="0.9" height="0.9"/><rect x="200.1" y="314.6" width="0.9" height="0.9"/><rect x="55.2" y="301.1" width="0.9" height="0.9"/><rect x="67.5" y="323.8" width="0.9" height="0.9"/><rect x="160.8" y="311.4" width="0.9" height="0.9"/><rect x="74.6" y="387.8" width="0.9" height="0.9"/><rect x="218.1" y="378.8" width="0.9" height="0.9"/><rect x="87.7" y="368.9" width="0.9" height="0.9"/><rect x="168.4" y="283.6" width="0.9" height="0.9"/><rect x="163.3" y="318.0" width="0.9" height="0.9"/><rect x="54.2" y="257.5" width="0.9" height="0.9"/><rect x="198.4" y="368.3" width="0.9" height="0.9"/><rect x="79.6" y="252.0" width="0.9" height="0.9"/><rect x="31.3" y="310.7" width="0.9" height="0.9"/><rect x="18.1" y="270.1" width="0.9" height="0.9"/><rect x="106.9" y="386.4" width="0.9" height="0.9"/><rect x="146.9" y="397.5" width="0.9" height="0.9"/><rect x="67.0" y="293.1" width="0.9" height="0.9"/><rect x="193.1" y="389.8" width="0.9" height="0.9"/><rect x="66.1" y="274.6" width="0.9" height="0.9"/><rect x="194.3" y="363.0" width="0.9" height="0.9"/><rect x="14.3" y="286.6" width="0.9" height="0.9"/><rect x="65.0" y="319.0" width="0.9" height="0.9"/><rect x="42.2" y="346.4" width="0.9" height="0.9"/><rect x="105.9" y="303.3" width="0.9" height="0.9"/><rect x="84.5" y="277.8" width="0.9" height="0.9"/><rect x="94.2" y="342.6" width="0.9" height="0.9"/></g>
<text x="7.8" y="256.5" font-size="17" font-family="'Liberation Serif', 'DejaVu Serif', serif" fill="#000" font-weight="bold" textLength="14.5" lengthAdjust="spacingAndGlyphs" >B.</text>
<path d="M36.9,275.3 L37.9,274.3 L38.8,273.3 L39.7,272.4 L40.5,271.5 L41.5,270.6 L42.5,269.8 L43.6,269.1 L44.8,268.4 L46.1,267.8 L47.6,267.2 L49.1,266.7 L50.7,266.2 L52.3,265.8 L54.0,265.5 L55.7,265.3 L57.5,265.2 L59.3,265.2 L61.2,265.3 L63.2,265.5 L65.2,265.8 L67.2,266.1 L69.3,266.5 L71.3,267.0 L73.3,267.4 L75.3,267.9 L77.3,268.5 L79.4,269.2 L81.4,269.8 L83.5,270.5 L85.5,271.2 L87.4,271.7 L89.2,272.2 L90.9,272.6 L92.6,272.9 L94.2,273.1 L95.7,273.3 L97.2,273.5 L98.7,273.6 L100.2,273.6 L101.8,273.7 L103.4,273.7 L105.0,273.7 L106.6,273.7 L108.3,273.6 L109.9,273.5 L111.5,273.3 L113.0,273.1 L114.5,272.8 L115.9,272.5 L117.3,272.1 L118.6,271.6 L119.9,271.1 L121.2,270.6 L122.5,270.0 L123.9,269.5 L125.3,269.0 L126.8,268.5 L128.2,268.0 L129.6,267.5 L131.1,266.9 L132.7,266.4 L134.3,266.0 L136.1,265.5 L138.0,265.2 L140.1,264.9 L142.4,264.7 L144.8,264.4 L147.3,264.3 L149.8,264.1 L152.3,264.1 L154.7,264.1 L157.0,264.2 L159.1,264.4 L161.2,264.6 L163.3,264.9 L165.3,265.2 L167.2,265.7 L169.1,266.2 L171.0,266.7 L172.8,267.4 L174.6,268.1 L176.3,268.9 L178.0,269.8 L179.6,270.8 L181.2,271.8 L182.7,272.9 L184.2,274.1 L185.5,275.3 L186.8,276.7 L188.0,278.1 L189.1,279.7 L190.1,281.4 L191.1,283.0 L192.0,284.7 L192.7,286.4 L193.4,288.0 L193.9,289.6 L194.3,291.2 L194.5,292.8 L194.7,294.4 L194.8,295.9 L194.8,297.5 L194.9,299.1 L195.0,300.7 L195.1,302.3 L195.2,303.8 L195.2,305.3 L195.2,306.8 L195.2,308.3 L195.2,309.9 L195.3,311.6 L195.5,313.3 L195.7,315.2 L196.0,317.1 L196.4,319.2 L196.7,321.3 L197.1,323.3 L197.5,325.4 L197.9,327.3 L198.2,329.2 L198.6,331.0 L199.0,332.7 L199.4,334.3 L199.8,335.9 L200.1,337.4 L200.4,338.9 L200.6,340.4 L200.7,341.8 L200.7,343.1 L200.6,344.4 L200.4,345.7 L200.2,346.8 L199.9,348.0 L199.4,349.1 L198.9,350.2 L198.2,351.3 L197.4,352.4 L196.5,353.4 L195.4,354.4 L194.3,355.4 L193.0,356.4 L191.7,357.4 L190.2,358.3 L188.7,359.2 L187.0,360.1 L185.2,360.9 L183.2,361.7 L181.1,362.5 L179.0,363.3 L176.9,364.0 L174.8,364.8 L172.8,365.6 L170.8,366.4 L168.8,367.1 L166.7,367.9 L164.7,368.7 L162.7,369.4 L160.7,370.2 L158.8,371.0 L157.0,371.9 L155.3,372.8 L153.6,373.7 L152.0,374.7 L150.5,375.6 L148.9,376.6 L147.4,377.7 L145.9,378.7 L144.3,379.8 L142.7,381.0 L141.1,382.2 L139.4,383.5 L137.8,384.9 L136.2,386.1 L134.6,387.3 L133.1,388.4 L131.7,389.3 L130.4,390.0 L129.1,390.6 L127.9,391.2 L126.8,391.6 L125.6,391.9 L124.5,392.1 L123.4,392.3 L122.2,392.3 L121.0,392.2 L119.8,392.0 L118.6,391.8 L117.3,391.4 L116.1,390.9 L114.9,390.4 L113.8,389.9 L112.7,389.3 L111.7,388.6 L110.8,387.9 L110.0,387.0 L109.2,386.2 L108.4,385.3 L107.5,384.4 L106.3,383.7 L105.0,383.0 L103.4,382.4 L101.6,381.9 L99.7,381.5 L97.6,381.1 L95.5,380.7 L93.3,380.4 L91.2,380.1 L89.2,379.8 L87.2,379.5 L85.2,379.3 L83.2,379.1 L81.3,378.9 L79.3,378.7 L77.3,378.6 L75.3,378.4 L73.3,378.2 L71.3,378.0 L69.3,377.9 L67.4,377.8 L65.4,377.7 L63.4,377.6 L61.4,377.4 L59.5,377.1 L57.5,376.7 L55.5,376.2 L53.5,375.6 L51.4,374.9 L49.4,374.2 L47.4,373.4 L45.4,372.5 L43.5,371.4 L41.7,370.3 L39.9,369.1 L38.2,367.7 L36.4,366.3 L34.8,364.8 L33.2,363.2 L31.7,361.4 L30.3,359.6 L29.0,357.7 L27.9,355.6 L26.9,353.4 L26.0,351.0 L25.2,348.6 L24.4,346.1 L23.8,343.6 L23.2,341.1 L22.7,338.7 L22.2,336.3 L21.9,333.9 L21.5,331.6 L21.3,329.2 L21.1,326.8 L21.1,324.4 L21.0,322.1 L21.1,319.7 L21.3,317.3 L21.5,314.9 L21.9,312.4 L22.3,310.0 L22.8,307.6 L23.3,305.2 L23.8,302.9 L24.3,300.7 L24.8,298.5 L25.3,296.4 L25.8,294.2 L26.4,292.2 L26.9,290.2 L27.6,288.3 L28.2,286.5 L29.0,284.8 L29.8,283.3 L30.8,281.9 L31.7,280.7 L32.8,279.5 L33.8,278.4 L34.9,277.3 L35.9,276.3 Z" fill="#fff" stroke="none"/>
<path d="M183.3,326.0 L184.3,327.8 L185.9,329.7 L187.0,331.6 L187.2,333.4 L187.0,335.3 L186.5,337.2 L185.8,339.1 L184.9,340.9 L183.7,342.7 L182.0,344.3 L180.1,345.8 L178.3,347.4 L177.2,349.2 L176.3,351.2 L174.9,352.9 L172.6,354.1 L169.7,355.2 L167.0,356.3 L164.7,357.6 L162.6,359.0 L160.3,360.3 L157.9,361.6 L155.4,362.7 L152.7,363.8 L150.0,364.8 L147.1,365.7 L144.1,366.4 L141.0,366.7 L137.7,366.8 L134.4,366.7 L131.2,366.5 L128.0,366.2 L124.9,366.1 L121.9,366.2 L118.9,366.4 L116.0,366.6 L113.0,366.7 L110.0,366.8 L106.9,366.9 L103.8,367.1 L100.6,367.4 L97.2,367.7 L93.6,368.2 L89.8,368.7 L86.1,368.9 L82.5,368.8 L79.0,368.3 L75.6,367.6 L72.3,366.8 L69.1,365.8 L66.1,364.6 L63.2,363.4 L60.4,362.0 L58.0,360.5 L56.1,358.6 L54.7,356.6 L53.5,354.5 L52.6,352.4 L52.1,350.2 L51.3,348.2 L50.0,346.4 L48.4,344.7 L47.4,342.9 L47.2,340.9 L47.6,338.9 L47.8,336.9 L47.5,335.0 L47.2,333.2 L46.9,331.4 L47.0,329.6 L47.1,327.8 L46.9,326.0 L46.0,324.1 L44.8,322.3 L44.0,320.4 L44.2,318.5 L44.9,316.7 L45.5,314.8 L45.7,312.8 L45.8,310.8 L46.2,308.8 L47.0,306.9 L48.1,305.0 L49.4,303.2 L51.0,301.4 L52.8,299.7 L55.0,298.2 L57.8,297.1 L61.0,296.1 L63.9,295.1 L66.1,293.5 L67.9,291.8 L70.0,290.4 L72.7,289.3 L75.7,288.4 L78.8,287.8 L82.1,287.3 L85.4,287.0 L88.6,286.7 L91.6,286.1 L94.5,285.5 L97.5,284.9 L100.5,284.6 L103.6,284.3 L106.7,284.2 L109.8,284.3 L112.9,284.5 L116.0,284.8 L119.0,285.1 L122.0,285.4 L124.9,285.6 L128.0,285.7 L131.1,285.7 L134.2,285.7 L137.4,285.8 L140.6,285.9 L143.8,286.1 L147.1,286.4 L150.3,286.9 L153.5,287.4 L156.7,288.0 L160.0,288.7 L163.0,289.6 L165.7,290.8 L168.2,292.2 L170.5,293.6 L172.7,295.1 L174.7,296.8 L176.2,298.5 L177.0,300.6 L177.4,302.7 L177.8,304.8 L178.8,306.6 L179.9,308.3 L180.7,310.1 L181.0,311.9 L181.0,313.8 L181.4,315.6 L182.6,317.3 L184.1,318.9 L185.1,320.6 L184.7,322.4 L183.7,324.2 Z" fill="#e57575"/>
<clipPath id="coreclip"><path d="M183.3,326.0 L184.3,327.8 L185.9,329.7 L187.0,331.6 L187.2,333.4 L187.0,335.3 L186.5,337.2 L185.8,339.1 L184.9,340.9 L183.7,342.7 L182.0,344.3 L180.1,345.8 L178.3,347.4 L177.2,349.2 L176.3,351.2 L174.9,352.9 L172.6,354.1 L169.7,355.2 L167.0,356.3 L164.7,357.6 L162.6,359.0 L160.3,360.3 L157.9,361.6 L155.4,362.7 L152.7,363.8 L150.0,364.8 L147.1,365.7 L144.1,366.4 L141.0,366.7 L137.7,366.8 L134.4,366.7 L131.2,366.5 L128.0,366.2 L124.9,366.1 L121.9,366.2 L118.9,366.4 L116.0,366.6 L113.0,366.7 L110.0,366.8 L106.9,366.9 L103.8,367.1 L100.6,367.4 L97.2,367.7 L93.6,368.2 L89.8,368.7 L86.1,368.9 L82.5,368.8 L79.0,368.3 L75.6,367.6 L72.3,366.8 L69.1,365.8 L66.1,364.6 L63.2,363.4 L60.4,362.0 L58.0,360.5 L56.1,358.6 L54.7,356.6 L53.5,354.5 L52.6,352.4 L52.1,350.2 L51.3,348.2 L50.0,346.4 L48.4,344.7 L47.4,342.9 L47.2,340.9 L47.6,338.9 L47.8,336.9 L47.5,335.0 L47.2,333.2 L46.9,331.4 L47.0,329.6 L47.1,327.8 L46.9,326.0 L46.0,324.1 L44.8,322.3 L44.0,320.4 L44.2,318.5 L44.9,316.7 L45.5,314.8 L45.7,312.8 L45.8,310.8 L46.2,308.8 L47.0,306.9 L48.1,305.0 L49.4,303.2 L51.0,301.4 L52.8,299.7 L55.0,298.2 L57.8,297.1 L61.0,296.1 L63.9,295.1 L66.1,293.5 L67.9,291.8 L70.0,290.4 L72.7,289.3 L75.7,288.4 L78.8,287.8 L82.1,287.3 L85.4,287.0 L88.6,286.7 L91.6,286.1 L94.5,285.5 L97.5,284.9 L100.5,284.6 L103.6,284.3 L106.7,284.2 L109.8,284.3 L112.9,284.5 L116.0,284.8 L119.0,285.1 L122.0,285.4 L124.9,285.6 L128.0,285.7 L131.1,285.7 L134.2,285.7 L137.4,285.8 L140.6,285.9 L143.8,286.1 L147.1,286.4 L150.3,286.9 L153.5,287.4 L156.7,288.0 L160.0,288.7 L163.0,289.6 L165.7,290.8 L168.2,292.2 L170.5,293.6 L172.7,295.1 L174.7,296.8 L176.2,298.5 L177.0,300.6 L177.4,302.7 L177.8,304.8 L178.8,306.6 L179.9,308.3 L180.7,310.1 L181.0,311.9 L181.0,313.8 L181.4,315.6 L182.6,317.3 L184.1,318.9 L185.1,320.6 L184.7,322.4 L183.7,324.2 Z"/></clipPath>
<g clip-path="url(#coreclip)">
<polyline points="158.7,369.6 156.8,373.1 158.6,376.7 162.5,377.6 166.5,377.3 169.6,379.8" fill="none" stroke="#d85a5a" stroke-width="2.2" stroke-linecap="round" stroke-linejoin="round"/>
<polyline points="137.8,306.5 134.7,309.1 131.1,307.3 130.6,303.3 126.7,302.7 125.0,299.1" fill="none" stroke="#f08a8a" stroke-width="2.2" stroke-linecap="round" stroke-linejoin="round"/>
<polyline points="174.1,280.8 177.0,278.1 176.7,274.1 176.3,270.1 172.8,268.1 168.9,268.6" fill="none" stroke="#c84848" stroke-width="2.2" stroke-linecap="round" stroke-linejoin="round"/>
<polyline points="176.8,335.5 180.8,335.8 182.4,339.4 185.0,342.5 185.8,346.4 189.3,348.4" fill="none" stroke="#d85a5a" stroke-width="2.2" stroke-linecap="round" stroke-linejoin="round"/>
<polyline points="50.0,282.6 50.9,286.5 54.4,288.5 58.2,289.6 62.2,289.2 65.2,291.9" fill="none" stroke="#f08a8a" stroke-width="2.2" stroke-linecap="round" stroke-linejoin="round"/>
<polyline points="162.6,343.8 163.1,347.8 162.1,351.6 162.6,355.6 166.5,356.6 168.4,360.1" fill="none" stroke="#c84848" stroke-width="2.2" stroke-linecap="round" stroke-linejoin="round"/>
<polyline points="70.8,356.6 67.7,359.1 67.8,363.1 69.1,366.9 68.4,370.8 64.5,371.7" fill="none" stroke="#d85a5a" stroke-width="2.2" stroke-linecap="round" stroke-linejoin="round"/>
<polyline points="176.7,322.3 179.7,319.7 177.8,316.1 178.5,312.2 181.0,309.1 183.2,312.5" fill="none" stroke="#f08a8a" stroke-width="2.2" stroke-linecap="round" stroke-linejoin="round"/>
<polyline points="131.8,285.0 129.8,288.4 127.2,291.5 125.4,295.1 121.6,293.9 118.7,291.2" fill="none" stroke="#c84848" stroke-width="2.2" stroke-linecap="round" stroke-linejoin="round"/>
<polyline points="116.5,336.1 112.8,334.5 108.8,334.5 104.9,333.6 101.9,330.9 99.4,327.8" fill="none" stroke="#d85a5a" stroke-width="2.2" stroke-linecap="round" stroke-linejoin="round"/>
<polyline points="147.7,291.2 148.8,295.0 147.7,298.8 148.1,302.8 144.2,303.5 140.2,303.4" fill="none" stroke="#f08a8a" stroke-width="2.2" stroke-linecap="round" stroke-linejoin="round"/>
<polyline points="67.0,320.6 68.6,324.2 69.6,328.1 69.3,332.1 65.7,333.7 61.7,333.9" fill="none" stroke="#c84848" stroke-width="2.2" stroke-linecap="round" stroke-linejoin="round"/>
<polyline points="167.6,284.6 168.8,280.8 171.0,277.5 169.5,273.8 171.6,270.4 171.6,266.4" fill="none" stroke="#d85a5a" stroke-width="2.2" stroke-linecap="round" stroke-linejoin="round"/>
<polyline points="61.0,298.2 57.8,295.9 57.4,291.9 61.3,291.0 64.3,293.7 68.3,293.0" fill="none" stroke="#f08a8a" stroke-width="2.2" stroke-linecap="round" stroke-linejoin="round"/>
<polyline points="161.2,297.8 157.3,296.8 153.6,295.3 150.4,292.9 148.8,289.2 149.1,285.3" fill="none" stroke="#c84848" stroke-width="2.2" stroke-linecap="round" stroke-linejoin="round"/>
<polyline points="109.4,314.0 105.9,315.9 105.8,319.9 107.8,323.4 111.7,323.9 115.6,325.1" fill="none" stroke="#d85a5a" stroke-width="2.2" stroke-linecap="round" stroke-linejoin="round"/>
<polyline points="165.1,351.4 161.8,349.1 158.9,346.5 155.0,345.3 151.8,342.9 149.3,339.8" fill="none" stroke="#f08a8a" stroke-width="2.2" stroke-linecap="round" stroke-linejoin="round"/>
<polyline points="86.9,330.6 90.9,331.1 91.0,335.1 91.3,339.1 89.1,342.4 86.7,345.7" fill="none" stroke="#c84848" stroke-width="2.2" stroke-linecap="round" stroke-linejoin="round"/>
<polyline points="138.9,339.5 135.6,337.3 131.6,337.0 127.7,338.0 124.7,335.3 121.5,333.0" fill="none" stroke="#d85a5a" stroke-width="2.2" stroke-linecap="round" stroke-linejoin="round"/>
<polyline points="96.1,305.5 93.3,308.3 90.2,310.9 89.6,306.9 91.6,303.4 95.4,302.4" fill="none" stroke="#f08a8a" stroke-width="2.2" stroke-linecap="round" stroke-linejoin="round"/>
<polyline points="179.6,309.7 177.1,312.9 173.7,315.0 169.7,314.7 165.9,315.6 162.2,317.2" fill="none" stroke="#c84848" stroke-width="2.2" stroke-linecap="round" stroke-linejoin="round"/>
<polyline points="122.1,337.2 118.5,338.9 115.1,341.0 116.5,344.7 120.2,346.3 124.1,345.9" fill="none" stroke="#d85a5a" stroke-width="2.2" stroke-linecap="round" stroke-linejoin="round"/>
<polyline points="77.7,304.9 78.8,301.1 76.7,297.7 73.0,296.1 70.2,293.2 68.3,289.7" fill="none" stroke="#f08a8a" stroke-width="2.2" stroke-linecap="round" stroke-linejoin="round"/>
<polyline points="104.6,353.6 105.4,349.7 109.4,349.2 113.0,347.4 116.9,346.9 120.9,347.5" fill="none" stroke="#c84848" stroke-width="2.2" stroke-linecap="round" stroke-linejoin="round"/>
<polyline points="178.7,289.9 182.7,289.9 186.7,290.0 190.7,290.0 194.7,290.0 197.7,287.3" fill="none" stroke="#d85a5a" stroke-width="2.2" stroke-linecap="round" stroke-linejoin="round"/>
<polyline points="102.0,286.6 105.6,285.0 108.7,282.4 112.6,281.7 116.3,280.1 118.9,277.1" fill="none" stroke="#f08a8a" stroke-width="2.2" stroke-linecap="round" stroke-linejoin="round"/>
<polyline points="102.9,315.8 99.0,316.6 96.8,313.2 96.4,309.3 97.4,305.4 94.6,302.4" fill="none" stroke="#c84848" stroke-width="2.2" stroke-linecap="round" stroke-linejoin="round"/>
<polyline points="182.9,343.5 186.9,343.9 186.8,347.9 190.7,348.7 192.3,352.3 191.7,356.3" fill="none" stroke="#d85a5a" stroke-width="2.2" stroke-linecap="round" stroke-linejoin="round"/>
<polyline points="80.6,306.0 76.7,306.5 76.4,310.5 77.9,314.2 81.8,315.0 84.9,312.5" fill="none" stroke="#f08a8a" stroke-width="2.2" stroke-linecap="round" stroke-linejoin="round"/>
<polyline points="57.8,322.2 53.9,322.9 50.4,324.8 46.4,324.8 42.8,323.0 39.0,324.1" fill="none" stroke="#c84848" stroke-width="2.2" stroke-linecap="round" stroke-linejoin="round"/>
<polyline points="126.5,320.4 127.5,324.3 124.0,326.2 121.2,329.1 118.1,331.5 114.3,330.2" fill="none" stroke="#d85a5a" stroke-width="2.2" stroke-linecap="round" stroke-linejoin="round"/>
<polyline points="57.6,366.8 56.0,363.1 56.2,359.1 58.8,356.2 61.3,353.0 65.1,354.2" fill="none" stroke="#f08a8a" stroke-width="2.2" stroke-linecap="round" stroke-linejoin="round"/>
<polyline points="150.8,295.5 151.1,291.5 149.2,288.0 148.3,284.1 150.5,280.7 150.8,276.8" fill="none" stroke="#c84848" stroke-width="2.2" stroke-linecap="round" stroke-linejoin="round"/>
<polyline points="112.7,330.6 112.7,326.6 115.7,323.9 115.2,319.9 113.5,316.3 113.6,312.3" fill="none" stroke="#d85a5a" stroke-width="2.2" stroke-linecap="round" stroke-linejoin="round"/>
<polyline points="77.5,308.7 79.1,305.0 80.0,301.2 81.2,297.3 79.2,293.9 83.1,294.6" fill="none" stroke="#f08a8a" stroke-width="2.2" stroke-linecap="round" stroke-linejoin="round"/>
<polyline points="91.5,316.7 91.0,320.6 87.1,321.7 83.3,322.9 79.3,322.3 75.5,323.6" fill="none" stroke="#c84848" stroke-width="2.2" stroke-linecap="round" stroke-linejoin="round"/>
<polyline points="95.5,325.6 92.0,327.5 89.3,330.5 85.7,332.1 81.9,333.5 78.0,334.3" fill="none" stroke="#d85a5a" stroke-width="2.2" stroke-linecap="round" stroke-linejoin="round"/>
<polyline points="118.0,353.5 121.0,356.2 124.4,358.3 127.3,361.0 131.1,362.2 132.0,358.3" fill="none" stroke="#f08a8a" stroke-width="2.2" stroke-linecap="round" stroke-linejoin="round"/>
<polyline points="186.8,310.9 183.8,313.5 185.1,317.2 188.1,320.0 191.8,321.5 195.7,322.2" fill="none" stroke="#c84848" stroke-width="2.2" stroke-linecap="round" stroke-linejoin="round"/>
<polyline points="172.9,362.3 175.2,365.6 176.7,369.3 178.8,372.7 176.0,375.6 172.9,378.1" fill="none" stroke="#d85a5a" stroke-width="2.2" stroke-linecap="round" stroke-linejoin="round"/>
<polyline points="154.5,319.2 156.8,316.0 154.1,313.0 150.1,313.0 146.5,311.4 143.1,313.4" fill="none" stroke="#f08a8a" stroke-width="2.2" stroke-linecap="round" stroke-linejoin="round"/>
<polyline points="165.0,359.3 161.5,357.3 162.8,353.5 161.2,349.8 157.2,349.6 153.5,348.1" fill="none" stroke="#c84848" stroke-width="2.2" stroke-linecap="round" stroke-linejoin="round"/>
<polyline points="74.6,353.4 78.0,355.5 81.0,358.2 80.7,362.2 76.7,361.6 72.7,361.6" fill="none" stroke="#d85a5a" stroke-width="2.2" stroke-linecap="round" stroke-linejoin="round"/>
<polyline points="71.2,361.0 75.1,361.7 78.6,359.8 82.5,358.9 84.7,355.6 88.5,354.2" fill="none" stroke="#f08a8a" stroke-width="2.2" stroke-linecap="round" stroke-linejoin="round"/>
<polyline points="178.7,291.3 182.6,290.4 186.6,289.8 189.8,292.1 185.8,292.4 183.9,296.0" fill="none" stroke="#c84848" stroke-width="2.2" stroke-linecap="round" stroke-linejoin="round"/>
<polyline points="104.7,281.2 100.8,282.1 98.6,285.5 96.8,289.0 92.9,289.8 94.0,293.6" fill="none" stroke="#d85a5a" stroke-width="2.2" stroke-linecap="round" stroke-linejoin="round"/>
<polyline points="120.2,345.9 116.2,346.6 112.2,346.4 108.4,347.6 105.1,345.3 101.6,347.1" fill="none" stroke="#f08a8a" stroke-width="2.2" stroke-linecap="round" stroke-linejoin="round"/>
<polyline points="164.0,295.7 160.5,297.7 157.9,300.7 154.0,301.7 153.7,305.7 154.3,309.6" fill="none" stroke="#c84848" stroke-width="2.2" stroke-linecap="round" stroke-linejoin="round"/>
<polyline points="109.6,352.6 113.5,351.7 113.0,347.7 113.4,343.7 113.1,339.7 113.8,335.8" fill="none" stroke="#d85a5a" stroke-width="2.2" stroke-linecap="round" stroke-linejoin="round"/>
<polyline points="88.1,353.7 84.1,353.6 80.2,353.1 76.9,355.4 72.9,355.2 69.7,357.6" fill="none" stroke="#f08a8a" stroke-width="2.2" stroke-linecap="round" stroke-linejoin="round"/>
<polyline points="179.0,335.7 179.8,339.6 183.3,341.6 186.4,344.1 187.1,348.1 183.1,348.5" fill="none" stroke="#c84848" stroke-width="2.2" stroke-linecap="round" stroke-linejoin="round"/>
<polyline points="150.7,292.4 147.0,293.7 143.0,294.1 139.0,294.1 135.5,292.2 131.5,292.4" fill="none" stroke="#d85a5a" stroke-width="2.2" stroke-linecap="round" stroke-linejoin="round"/>
<polyline points="86.9,364.9 83.2,363.4 79.2,363.4 77.8,367.1 73.8,367.0 71.1,364.0" fill="none" stroke="#f08a8a" stroke-width="2.2" stroke-linecap="round" stroke-linejoin="round"/>
<polyline points="161.3,369.5 161.9,365.6 164.3,362.4 163.8,358.4 163.3,354.4 162.8,350.5" fill="none" stroke="#c84848" stroke-width="2.2" stroke-linecap="round" stroke-linejoin="round"/>
<polyline points="156.2,288.9 153.7,285.7 150.6,283.2 147.4,285.7 146.0,289.4 144.8,293.2" fill="none" stroke="#d85a5a" stroke-width="2.2" stroke-linecap="round" stroke-linejoin="round"/>
<polyline points="125.3,350.9 121.8,352.9 120.2,356.6 124.0,355.3 124.9,351.4 121.5,349.3" fill="none" stroke="#f08a8a" stroke-width="2.2" stroke-linecap="round" stroke-linejoin="round"/>
<polyline points="157.9,318.2 154.1,317.0 150.9,319.5 149.3,315.8 148.4,311.9 146.4,308.4" fill="none" stroke="#c84848" stroke-width="2.2" stroke-linecap="round" stroke-linejoin="round"/>
<polyline points="73.2,302.4 73.3,306.4 69.5,307.8 65.9,306.0 64.1,302.5 66.0,298.9" fill="none" stroke="#d85a5a" stroke-width="2.2" stroke-linecap="round" stroke-linejoin="round"/>
<polyline points="80.5,324.7 84.4,325.5 87.0,322.5 89.1,319.1 90.1,315.2 92.7,312.2" fill="none" stroke="#f08a8a" stroke-width="2.2" stroke-linecap="round" stroke-linejoin="round"/>
<polyline points="153.5,311.1 149.7,309.9 148.3,313.6 149.4,317.5 150.6,321.3 154.6,321.8" fill="none" stroke="#c84848" stroke-width="2.2" stroke-linecap="round" stroke-linejoin="round"/>
<polyline points="142.2,291.3 145.3,293.7 147.6,297.0 151.6,296.6 155.6,296.1 158.6,298.7" fill="none" stroke="#d85a5a" stroke-width="2.2" stroke-linecap="round" stroke-linejoin="round"/>
<polyline points="86.5,328.1 82.8,326.4 81.3,322.7 80.8,318.7 77.6,316.4 75.5,313.0" fill="none" stroke="#f08a8a" stroke-width="2.2" stroke-linecap="round" stroke-linejoin="round"/>
<polyline points="75.2,283.8 74.7,287.8 71.0,289.3 67.1,290.2 64.0,287.7 64.6,283.7" fill="none" stroke="#c84848" stroke-width="2.2" stroke-linecap="round" stroke-linejoin="round"/>
<polyline points="135.5,329.8 131.9,331.6 128.5,333.6 126.3,337.0 124.3,340.5 122.6,344.1" fill="none" stroke="#d85a5a" stroke-width="2.2" stroke-linecap="round" stroke-linejoin="round"/>
<polyline points="48.9,296.5 45.5,294.5 42.7,291.7 41.1,288.0 39.7,284.3 43.6,284.9" fill="none" stroke="#f08a8a" stroke-width="2.2" stroke-linecap="round" stroke-linejoin="round"/>
<polyline points="131.3,361.9 134.5,364.4 136.9,367.6 140.4,365.8 144.1,364.2 147.9,362.8" fill="none" stroke="#c84848" stroke-width="2.2" stroke-linecap="round" stroke-linejoin="round"/>
<polyline points="59.4,331.2 60.8,335.0 59.3,338.7 58.7,342.7 57.6,346.5 53.9,348.0" fill="none" stroke="#d85a5a" stroke-width="2.2" stroke-linecap="round" stroke-linejoin="round"/>
<polyline points="136.4,352.5 134.4,356.0 133.1,359.7 133.3,363.7 133.9,367.7 130.6,370.0" fill="none" stroke="#f08a8a" stroke-width="2.2" stroke-linecap="round" stroke-linejoin="round"/>
<polyline points="186.2,288.1 190.1,287.3 193.3,289.7 192.7,293.6 189.1,295.2 186.9,298.6" fill="none" stroke="#c84848" stroke-width="2.2" stroke-linecap="round" stroke-linejoin="round"/>
<polyline points="173.1,323.0 173.5,327.0 177.4,327.9 178.1,323.9 175.1,321.3 172.7,318.1" fill="none" stroke="#d85a5a" stroke-width="2.2" stroke-linecap="round" stroke-linejoin="round"/>
<g fill="#6f72e4" fill-opacity="0.85"><circle cx="110.3" cy="331.0" r="4.9"/><circle cx="60.0" cy="319.4" r="4.2"/><circle cx="96.1" cy="283.8" r="3.3"/><circle cx="114.7" cy="300.7" r="5.2"/><circle cx="109.6" cy="315.6" r="3.7"/><circle cx="137.1" cy="327.9" r="4.8"/><circle cx="142.6" cy="288.4" r="3.4"/><circle cx="152.2" cy="335.7" r="4.1"/><circle cx="122.1" cy="353.6" r="3.1"/><circle cx="50.3" cy="310.0" r="3.3"/><circle cx="155.3" cy="286.0" r="3.5"/><circle cx="157.2" cy="293.2" r="2.9"/><circle cx="149.6" cy="348.7" r="4.8"/><circle cx="108.1" cy="327.9" r="3.9"/><circle cx="171.9" cy="292.2" r="3.5"/><circle cx="59.7" cy="295.1" r="4.3"/><circle cx="151.1" cy="355.0" r="3.2"/><circle cx="130.7" cy="341.2" r="3.8"/><circle cx="145.4" cy="342.6" r="4.2"/><circle cx="55.6" cy="292.6" r="4.3"/><circle cx="183.5" cy="369.1" r="3.8"/><circle cx="50.3" cy="302.9" r="4.7"/><circle cx="71.1" cy="311.9" r="5.1"/><circle cx="119.4" cy="301.1" r="5.4"/><circle cx="127.4" cy="364.8" r="4.2"/><circle cx="71.3" cy="336.8" r="5.4"/><circle cx="86.8" cy="329.8" r="5.3"/><circle cx="176.0" cy="317.3" r="4.5"/><circle cx="91.6" cy="344.5" r="2.9"/><circle cx="109.2" cy="322.2" r="4.4"/><circle cx="61.8" cy="321.5" r="4.1"/><circle cx="126.8" cy="293.7" r="4.6"/><circle cx="145.5" cy="354.1" r="3.3"/><circle cx="151.2" cy="286.0" r="5.5"/><circle cx="79.0" cy="361.7" r="3.5"/><circle cx="98.4" cy="362.5" r="5.5"/><circle cx="138.9" cy="327.1" r="3.3"/><circle cx="184.2" cy="294.7" r="3.9"/><circle cx="155.3" cy="299.6" r="4.5"/><circle cx="77.1" cy="292.6" r="3.3"/><circle cx="55.3" cy="343.1" r="3.7"/><circle cx="92.6" cy="312.6" r="4.5"/><circle cx="121.2" cy="368.4" r="4.8"/><circle cx="84.6" cy="310.7" r="5.3"/><circle cx="158.2" cy="309.7" r="4.2"/><circle cx="82.4" cy="340.9" r="5.4"/><circle cx="63.6" cy="359.0" r="3.3"/><circle cx="131.5" cy="327.4" r="4.3"/><circle cx="153.9" cy="291.0" r="4.8"/><circle cx="75.1" cy="295.4" r="2.7"/><circle cx="93.4" cy="344.4" r="4.9"/><circle cx="82.9" cy="348.9" r="5.0"/><circle cx="50.1" cy="369.1" r="4.2"/><circle cx="143.0" cy="331.6" r="5.3"/><circle cx="53.2" cy="350.4" r="4.6"/><circle cx="132.9" cy="340.7" r="3.6"/><circle cx="135.1" cy="329.5" r="4.9"/><circle cx="121.3" cy="352.7" r="4.1"/><circle cx="52.0" cy="298.3" r="4.5"/><circle cx="51.3" cy="293.8" r="5.5"/><circle cx="119.1" cy="307.9" r="4.6"/><circle cx="115.7" cy="314.6" r="4.8"/><circle cx="48.2" cy="365.5" r="4.9"/><circle cx="47.5" cy="354.2" r="3.1"/><circle cx="155.8" cy="347.0" r="2.6"/><circle cx="92.1" cy="360.2" r="2.7"/><circle cx="147.8" cy="314.5" r="3.9"/><circle cx="74.2" cy="368.6" r="5.4"/><circle cx="83.7" cy="361.7" r="3.8"/><circle cx="173.5" cy="296.7" r="5.3"/><circle cx="74.1" cy="314.0" r="3.4"/><circle cx="104.0" cy="307.7" r="2.9"/><circle cx="116.8" cy="297.4" r="3.7"/><circle cx="147.1" cy="364.4" r="5.0"/><circle cx="91.5" cy="315.2" r="5.4"/><circle cx="138.2" cy="358.2" r="4.1"/><circle cx="77.6" cy="333.7" r="3.6"/><circle cx="142.8" cy="285.4" r="4.9"/><circle cx="49.0" cy="319.0" r="3.8"/><circle cx="72.5" cy="350.2" r="3.4"/><circle cx="54.7" cy="308.7" r="4.8"/><circle cx="60.5" cy="306.3" r="2.7"/><circle cx="152.2" cy="288.4" r="4.8"/><circle cx="111.9" cy="322.7" r="5.4"/><circle cx="157.2" cy="364.8" r="2.8"/><circle cx="184.4" cy="281.7" r="4.8"/><circle cx="72.4" cy="359.8" r="2.6"/><circle cx="155.2" cy="334.0" r="2.9"/><circle cx="184.0" cy="305.2" r="3.4"/><circle cx="89.9" cy="360.9" r="5.5"/><circle cx="57.0" cy="363.5" r="2.7"/><circle cx="111.6" cy="367.6" r="3.9"/><circle cx="123.0" cy="321.6" r="3.8"/><circle cx="143.7" cy="317.3" r="3.0"/><circle cx="127.1" cy="339.8" r="5.4"/><circle cx="88.8" cy="360.0" r="3.2"/><circle cx="69.1" cy="311.5" r="5.2"/><circle cx="94.3" cy="309.9" r="4.1"/><circle cx="112.6" cy="316.8" r="4.6"/><circle cx="72.4" cy="281.9" r="4.7"/><circle cx="88.4" cy="355.6" r="4.5"/><circle cx="171.5" cy="321.2" r="4.9"/><circle cx="106.1" cy="322.0" r="5.1"/><circle cx="63.8" cy="337.0" r="2.9"/><circle cx="140.5" cy="352.8" r="2.8"/><circle cx="96.4" cy="343.5" r="3.9"/><circle cx="119.1" cy="310.0" r="2.8"/><circle cx="101.8" cy="306.5" r="4.3"/><circle cx="62.3" cy="310.0" r="5.3"/><circle cx="150.7" cy="327.9" r="4.0"/><circle cx="126.8" cy="353.0" r="3.0"/><circle cx="186.4" cy="280.7" r="2.9"/><circle cx="46.7" cy="334.5" r="4.1"/><circle cx="128.0" cy="355.9" r="4.7"/><circle cx="106.5" cy="330.5" r="4.9"/><circle cx="107.7" cy="314.3" r="4.8"/><circle cx="148.6" cy="322.7" r="3.9"/><circle cx="80.4" cy="326.3" r="5.1"/><circle cx="102.8" cy="336.4" r="4.1"/><circle cx="64.9" cy="286.8" r="4.5"/></g>
<g fill="#5a3a4a" fill-opacity="0.45"><circle cx="46.4" cy="355.5" r="1.2"/><circle cx="115.7" cy="306.0" r="0.8"/><circle cx="58.3" cy="330.8" r="1.3"/><circle cx="76.2" cy="314.4" r="1.2"/><circle cx="88.8" cy="286.3" r="1.1"/><circle cx="127.4" cy="283.3" r="0.9"/><circle cx="56.9" cy="342.5" r="0.9"/><circle cx="147.1" cy="336.5" r="1.5"/><circle cx="102.0" cy="324.3" r="1.3"/><circle cx="76.9" cy="296.0" r="1.1"/><circle cx="181.7" cy="310.6" r="1.5"/><circle cx="139.8" cy="325.6" r="0.9"/><circle cx="93.7" cy="299.4" r="1.1"/><circle cx="63.4" cy="331.9" r="0.9"/><circle cx="115.6" cy="355.6" r="1.4"/><circle cx="155.6" cy="296.0" r="1.5"/><circle cx="118.7" cy="363.8" r="1.0"/><circle cx="90.0" cy="325.7" r="1.5"/><circle cx="62.0" cy="368.0" r="1.6"/><circle cx="77.8" cy="367.1" r="1.0"/><circle cx="158.2" cy="285.7" r="1.6"/><circle cx="68.7" cy="341.4" r="1.1"/><circle cx="185.3" cy="301.9" r="1.4"/><circle cx="149.6" cy="335.9" r="1.2"/><circle cx="103.3" cy="360.1" r="1.1"/><circle cx="72.8" cy="321.2" r="1.3"/><circle cx="112.1" cy="338.8" r="0.8"/><circle cx="181.3" cy="340.1" r="1.2"/><circle cx="62.9" cy="296.9" r="1.2"/><circle cx="80.6" cy="318.3" r="1.3"/><circle cx="56.9" cy="306.2" r="1.4"/><circle cx="148.8" cy="323.5" r="1.5"/><circle cx="181.0" cy="348.6" r="1.4"/><circle cx="125.1" cy="293.1" r="1.5"/><circle cx="88.3" cy="329.8" r="1.1"/><circle cx="182.9" cy="325.4" r="0.9"/><circle cx="129.4" cy="314.6" r="1.3"/><circle cx="182.3" cy="355.8" r="0.8"/><circle cx="99.0" cy="311.5" r="1.6"/><circle cx="66.7" cy="352.0" r="1.2"/><circle cx="55.9" cy="286.4" r="1.0"/><circle cx="83.9" cy="319.5" r="0.8"/><circle cx="107.5" cy="289.8" r="1.5"/><circle cx="154.4" cy="356.2" r="1.5"/><circle cx="112.6" cy="339.8" r="0.9"/><circle cx="84.2" cy="299.1" r="1.4"/><circle cx="173.9" cy="313.5" r="0.9"/><circle cx="127.9" cy="291.4" r="1.4"/><circle cx="131.6" cy="359.7" r="1.2"/><circle cx="162.5" cy="360.3" r="1.3"/><circle cx="141.3" cy="360.3" r="0.9"/><circle cx="80.3" cy="334.5" r="1.4"/><circle cx="181.3" cy="303.8" r="1.4"/><circle cx="68.9" cy="321.0" r="1.5"/><circle cx="68.8" cy="339.8" r="1.1"/><circle cx="138.1" cy="318.3" r="1.0"/><circle cx="128.7" cy="285.2" r="1.2"/><circle cx="78.5" cy="327.3" r="1.4"/><circle cx="145.7" cy="287.9" r="1.4"/><circle cx="60.1" cy="301.2" r="1.2"/><circle cx="113.5" cy="353.5" r="1.3"/><circle cx="180.5" cy="335.2" r="1.3"/><circle cx="173.2" cy="351.7" r="1.3"/><circle cx="131.7" cy="341.1" r="1.4"/><circle cx="158.6" cy="339.2" r="1.0"/><circle cx="140.2" cy="302.3" r="1.0"/><circle cx="79.1" cy="343.7" r="1.0"/><circle cx="167.9" cy="291.4" r="1.4"/><circle cx="132.8" cy="281.6" r="1.6"/><circle cx="130.6" cy="310.5" r="1.1"/><circle cx="181.4" cy="294.1" r="1.3"/><circle cx="125.4" cy="342.5" r="1.3"/><circle cx="92.3" cy="305.7" r="1.5"/><circle cx="106.0" cy="283.1" r="0.8"/><circle cx="124.9" cy="349.8" r="1.3"/><circle cx="169.8" cy="364.1" r="1.5"/><circle cx="165.6" cy="344.0" r="1.6"/><circle cx="102.5" cy="366.0" r="1.1"/><circle cx="115.4" cy="350.5" r="1.2"/><circle cx="53.1" cy="363.6" r="1.5"/><circle cx="136.7" cy="340.6" r="1.5"/><circle cx="160.0" cy="350.6" r="1.0"/><circle cx="74.1" cy="351.6" r="1.5"/><circle cx="136.3" cy="290.5" r="0.9"/><circle cx="65.9" cy="308.8" r="0.8"/><circle cx="165.1" cy="335.5" r="0.8"/><circle cx="149.7" cy="308.9" r="0.9"/><circle cx="178.7" cy="358.6" r="0.9"/><circle cx="86.3" cy="284.9" r="1.0"/><circle cx="70.2" cy="291.5" r="1.0"/><circle cx="127.0" cy="309.5" r="1.6"/><circle cx="54.2" cy="310.9" r="1.4"/><circle cx="162.6" cy="354.9" r="0.9"/><circle cx="75.0" cy="281.3" r="1.0"/><circle cx="64.9" cy="354.4" r="1.4"/><circle cx="67.0" cy="367.5" r="1.3"/><circle cx="145.9" cy="284.5" r="1.2"/><circle cx="53.0" cy="365.7" r="1.1"/><circle cx="105.9" cy="339.4" r="1.4"/><circle cx="71.8" cy="291.9" r="1.2"/><circle cx="156.8" cy="354.8" r="1.4"/><circle cx="53.7" cy="290.7" r="0.8"/><circle cx="73.9" cy="314.6" r="0.9"/><circle cx="155.6" cy="301.5" r="0.9"/><circle cx="119.2" cy="314.6" r="1.3"/><circle cx="62.4" cy="293.1" r="1.3"/><circle cx="186.6" cy="314.1" r="1.5"/><circle cx="98.7" cy="331.2" r="1.5"/><circle cx="105.6" cy="321.8" r="1.4"/><circle cx="151.3" cy="326.9" r="1.1"/><circle cx="115.9" cy="360.4" r="0.8"/><circle cx="163.8" cy="356.6" r="1.5"/><circle cx="122.1" cy="290.2" r="1.5"/><circle cx="80.9" cy="346.1" r="0.8"/><circle cx="122.1" cy="351.7" r="0.8"/><circle cx="165.1" cy="361.8" r="0.9"/><circle cx="85.8" cy="315.4" r="1.1"/><circle cx="136.3" cy="363.1" r="1.4"/><circle cx="128.3" cy="330.1" r="1.2"/><circle cx="144.4" cy="322.2" r="1.3"/><circle cx="97.1" cy="325.7" r="1.5"/><circle cx="78.2" cy="317.1" r="0.9"/><circle cx="140.4" cy="342.1" r="1.0"/><circle cx="166.4" cy="327.9" r="1.6"/><circle cx="112.9" cy="359.0" r="1.2"/><circle cx="65.4" cy="322.2" r="1.2"/><circle cx="160.2" cy="284.7" r="1.2"/><circle cx="121.0" cy="294.1" r="1.2"/><circle cx="142.9" cy="317.1" r="1.4"/><circle cx="60.4" cy="322.4" r="1.5"/><circle cx="157.4" cy="353.2" r="1.3"/><circle cx="98.9" cy="333.2" r="1.3"/><circle cx="172.4" cy="295.3" r="1.3"/><circle cx="81.2" cy="307.2" r="1.0"/><circle cx="46.9" cy="328.3" r="1.4"/><circle cx="91.3" cy="351.4" r="1.0"/><circle cx="148.8" cy="343.8" r="1.0"/><circle cx="148.2" cy="337.6" r="1.1"/><circle cx="166.4" cy="303.0" r="1.2"/><circle cx="75.9" cy="331.3" r="1.5"/><circle cx="130.3" cy="302.1" r="1.1"/><circle cx="56.3" cy="285.9" r="1.3"/><circle cx="77.9" cy="348.3" r="1.1"/><circle cx="52.5" cy="338.5" r="1.2"/><circle cx="135.3" cy="368.9" r="1.6"/><circle cx="173.1" cy="347.2" r="1.3"/><circle cx="131.4" cy="302.7" r="0.8"/><circle cx="131.6" cy="282.5" r="1.5"/><circle cx="174.3" cy="318.7" r="1.2"/><circle cx="92.8" cy="310.6" r="1.6"/><circle cx="125.1" cy="326.4" r="0.9"/><circle cx="161.0" cy="313.7" r="1.6"/><circle cx="73.6" cy="284.3" r="1.3"/><circle cx="145.9" cy="286.2" r="1.3"/><circle cx="56.9" cy="312.3" r="1.2"/><circle cx="98.5" cy="333.0" r="1.6"/><circle cx="72.3" cy="295.8" r="1.5"/><circle cx="107.4" cy="296.2" r="1.2"/><circle cx="75.0" cy="300.9" r="1.1"/><circle cx="54.7" cy="346.8" r="1.1"/><circle cx="109.1" cy="348.8" r="1.2"/><circle cx="101.4" cy="323.9" r="0.9"/><circle cx="150.2" cy="284.9" r="1.0"/><circle cx="48.0" cy="364.6" r="1.3"/><circle cx="136.3" cy="358.2" r="1.4"/><circle cx="52.3" cy="307.1" r="1.5"/><circle cx="115.0" cy="280.8" r="0.9"/><circle cx="48.9" cy="324.3" r="1.0"/><circle cx="175.4" cy="295.1" r="0.9"/><circle cx="115.2" cy="314.2" r="1.3"/><circle cx="113.8" cy="316.0" r="1.0"/><circle cx="56.1" cy="308.0" r="1.1"/><circle cx="157.7" cy="362.2" r="0.9"/><circle cx="83.8" cy="315.1" r="1.4"/><circle cx="112.8" cy="290.1" r="1.5"/><circle cx="148.5" cy="331.7" r="0.9"/><circle cx="158.4" cy="359.9" r="1.2"/><circle cx="100.8" cy="300.8" r="1.4"/><circle cx="54.6" cy="325.7" r="1.5"/><circle cx="186.0" cy="314.0" r="1.1"/><circle cx="82.2" cy="340.8" r="0.8"/><circle cx="52.0" cy="308.1" r="1.4"/><circle cx="134.0" cy="303.0" r="1.4"/><circle cx="170.0" cy="366.5" r="1.1"/><circle cx="58.5" cy="354.1" r="1.6"/><circle cx="52.5" cy="343.3" r="1.4"/><circle cx="142.2" cy="339.1" r="1.3"/><circle cx="127.3" cy="364.0" r="1.3"/><circle cx="82.8" cy="285.1" r="0.9"/><circle cx="83.6" cy="319.6" r="1.6"/><circle cx="155.0" cy="336.1" r="1.6"/><circle cx="49.0" cy="291.6" r="0.9"/><circle cx="80.2" cy="369.6" r="1.4"/><circle cx="97.5" cy="341.8" r="1.3"/><circle cx="155.9" cy="348.3" r="1.1"/><circle cx="90.6" cy="366.9" r="1.3"/><circle cx="53.7" cy="332.0" r="0.9"/><circle cx="151.6" cy="362.2" r="1.1"/><circle cx="143.7" cy="313.6" r="1.1"/><circle cx="64.1" cy="362.9" r="1.3"/><circle cx="149.4" cy="325.7" r="1.2"/><circle cx="134.5" cy="349.8" r="0.8"/><circle cx="98.2" cy="304.4" r="1.0"/><circle cx="128.1" cy="322.9" r="1.1"/><circle cx="117.4" cy="330.1" r="1.1"/><circle cx="158.7" cy="326.4" r="1.4"/><circle cx="181.1" cy="363.1" r="1.5"/><circle cx="94.4" cy="321.1" r="1.6"/><circle cx="58.8" cy="358.8" r="1.6"/><circle cx="97.8" cy="290.0" r="1.2"/><circle cx="131.1" cy="298.9" r="1.2"/><circle cx="82.4" cy="295.8" r="1.3"/><circle cx="68.0" cy="296.5" r="1.2"/><circle cx="76.1" cy="332.7" r="0.8"/><circle cx="166.5" cy="289.2" r="0.9"/><circle cx="147.4" cy="340.6" r="1.4"/><circle cx="63.8" cy="358.4" r="1.4"/><circle cx="88.5" cy="363.0" r="1.0"/><circle cx="84.5" cy="285.0" r="1.0"/><circle cx="62.0" cy="302.2" r="1.3"/></g>
</g>
<circle cx="178" cy="330" r="5" fill="#7378e6" fill-opacity="0.85"/>
<circle cx="182" cy="342" r="4.5" fill="#7378e6" fill-opacity="0.85"/>
<circle cx="170" cy="352" r="5" fill="#7378e6" fill-opacity="0.85"/>
<circle cx="122" cy="366" r="5" fill="#7378e6" fill-opacity="0.85"/>
<circle cx="64" cy="292" r="4.5" fill="#7378e6" fill-opacity="0.85"/>
<circle cx="58" cy="298" r="4" fill="#7378e6" fill-opacity="0.85"/>
<circle cx="176" cy="302" r="4" fill="#7378e6" fill-opacity="0.85"/>
<circle cx="88" cy="352" r="4" fill="#7378e6" fill-opacity="0.85"/>
<circle cx="126" cy="372" r="4" fill="#7378e6" fill-opacity="0.85"/>
<circle cx="70" cy="288" r="4" fill="#7378e6" fill-opacity="0.85"/>
<g fill="#5ed4c8"><circle cx="30.4" cy="297.3" r="1.6"/><circle cx="62.3" cy="359.4" r="1.6"/><circle cx="68.1" cy="365.9" r="1.6"/><circle cx="103.0" cy="353.1" r="1.6"/><circle cx="160.1" cy="358.0" r="1.6"/><circle cx="38.1" cy="311.4" r="1.6"/><circle cx="113.1" cy="342.0" r="1.6"/><circle cx="145.6" cy="290.7" r="1.6"/><circle cx="124.0" cy="385.2" r="1.6"/><circle cx="44.4" cy="356.7" r="1.6"/><circle cx="196.5" cy="343.8" r="1.6"/><circle cx="136.8" cy="377.1" r="1.6"/><circle cx="132.3" cy="282.8" r="1.6"/><circle cx="93.0" cy="334.9" r="1.6"/><circle cx="124.3" cy="282.8" r="1.6"/><circle cx="89.5" cy="324.4" r="1.6"/><circle cx="43.9" cy="315.2" r="1.6"/><circle cx="78.4" cy="329.0" r="1.6"/><circle cx="53.9" cy="322.8" r="1.6"/><circle cx="174.5" cy="309.0" r="1.6"/><circle cx="33.5" cy="346.1" r="1.6"/><circle cx="113.0" cy="279.1" r="1.6"/><circle cx="42.1" cy="282.1" r="1.6"/><circle cx="138.0" cy="272.1" r="1.6"/><circle cx="61.8" cy="328.9" r="1.6"/><circle cx="124.5" cy="333.8" r="1.6"/><circle cx="46.3" cy="273.3" r="1.6"/><circle cx="176.6" cy="288.4" r="1.6"/><circle cx="112.9" cy="365.1" r="1.6"/><circle cx="164.8" cy="329.6" r="1.6"/><circle cx="121.9" cy="325.9" r="1.6"/><circle cx="72.9" cy="310.4" r="1.6"/><circle cx="74.2" cy="353.3" r="1.6"/><circle cx="93.0" cy="352.9" r="1.6"/><circle cx="164.9" cy="355.6" r="1.6"/><circle cx="56.5" cy="337.9" r="1.6"/><circle cx="51.0" cy="282.1" r="1.6"/><circle cx="182.2" cy="338.8" r="1.6"/><circle cx="144.4" cy="341.7" r="1.6"/><circle cx="50.0" cy="332.8" r="1.6"/><circle cx="66.2" cy="370.3" r="1.6"/><circle cx="32.4" cy="335.0" r="1.6"/><circle cx="143.9" cy="303.1" r="1.6"/><circle cx="71.8" cy="306.5" r="1.6"/><circle cx="144.8" cy="327.3" r="1.6"/><circle cx="186.7" cy="301.4" r="1.6"/><circle cx="142.4" cy="309.3" r="1.6"/><circle cx="157.7" cy="344.9" r="1.6"/><circle cx="106.7" cy="334.7" r="1.6"/><circle cx="99.8" cy="326.9" r="1.6"/><circle cx="54.3" cy="333.8" r="1.6"/><circle cx="32.4" cy="312.2" r="1.6"/><circle cx="92.1" cy="365.3" r="1.6"/><circle cx="125.1" cy="352.8" r="1.6"/><circle cx="159.9" cy="269.5" r="1.6"/><circle cx="166.0" cy="310.0" r="1.6"/><circle cx="54.5" cy="360.0" r="1.6"/><circle cx="165.2" cy="281.7" r="1.6"/><circle cx="79.7" cy="285.5" r="1.6"/><circle cx="127.0" cy="300.5" r="1.6"/><circle cx="179.1" cy="351.2" r="1.6"/><circle cx="98.5" cy="365.4" r="1.6"/><circle cx="175.2" cy="279.2" r="1.6"/><circle cx="128.1" cy="346.4" r="1.6"/><circle cx="63.0" cy="335.2" r="1.6"/><circle cx="179.2" cy="310.8" r="1.6"/><circle cx="133.2" cy="352.4" r="1.6"/><circle cx="167.9" cy="353.5" r="1.6"/><circle cx="84.9" cy="325.0" r="1.6"/><circle cx="129.4" cy="323.0" r="1.6"/><circle cx="95.3" cy="359.8" r="1.6"/><circle cx="104.3" cy="285.9" r="1.6"/><circle cx="186.5" cy="342.9" r="1.6"/><circle cx="50.4" cy="357.2" r="1.6"/><circle cx="88.8" cy="304.7" r="1.6"/><circle cx="146.7" cy="353.9" r="1.6"/><circle cx="46.9" cy="310.0" r="1.6"/><circle cx="190.4" cy="310.5" r="1.6"/><circle cx="73.0" cy="331.8" r="1.6"/><circle cx="117.9" cy="330.0" r="1.6"/><circle cx="130.4" cy="274.0" r="1.6"/><circle cx="121.5" cy="309.6" r="1.6"/><circle cx="137.8" cy="351.3" r="1.6"/><circle cx="102.7" cy="301.0" r="1.6"/><circle cx="179.5" cy="283.4" r="1.6"/><circle cx="56.2" cy="271.6" r="1.6"/><circle cx="120.7" cy="346.0" r="1.6"/><circle cx="73.9" cy="291.9" r="1.6"/><circle cx="155.2" cy="351.4" r="1.6"/><circle cx="143.3" cy="363.5" r="1.6"/><circle cx="185.5" cy="306.0" r="1.6"/><circle cx="149.7" cy="292.5" r="1.6"/><circle cx="52.0" cy="345.3" r="1.6"/><circle cx="140.6" cy="332.2" r="1.6"/><circle cx="160.8" cy="305.7" r="1.6"/><circle cx="133.7" cy="368.8" r="1.6"/><circle cx="126.7" cy="362.4" r="1.6"/><circle cx="86.6" cy="337.5" r="1.6"/><circle cx="106.5" cy="289.3" r="1.6"/><circle cx="69.9" cy="337.4" r="1.6"/><circle cx="61.3" cy="285.5" r="1.6"/><circle cx="89.7" cy="351.0" r="1.6"/><circle cx="156.6" cy="294.0" r="1.6"/><circle cx="74.4" cy="297.1" r="1.6"/><circle cx="65.3" cy="299.5" r="1.6"/><circle cx="82.2" cy="374.0" r="1.6"/><circle cx="87.1" cy="307.9" r="1.6"/><circle cx="169.7" cy="340.9" r="1.6"/><circle cx="78.5" cy="360.6" r="1.6"/><circle cx="129.4" cy="293.1" r="1.6"/><circle cx="59.5" cy="350.5" r="1.6"/><circle cx="43.4" cy="318.9" r="1.6"/><circle cx="99.3" cy="316.4" r="1.6"/><circle cx="62.4" cy="316.6" r="1.6"/><circle cx="82.3" cy="351.1" r="1.6"/><circle cx="149.1" cy="347.5" r="1.6"/><circle cx="66.9" cy="352.6" r="1.6"/><circle cx="121.6" cy="302.1" r="1.6"/><circle cx="178.8" cy="330.7" r="1.6"/><circle cx="171.3" cy="289.0" r="1.6"/><circle cx="53.6" cy="275.7" r="1.6"/><circle cx="44.8" cy="351.4" r="1.6"/><circle cx="166.1" cy="287.6" r="1.6"/><circle cx="46.6" cy="324.7" r="1.6"/><circle cx="123.2" cy="329.3" r="1.6"/><circle cx="75.7" cy="337.0" r="1.6"/><circle cx="98.0" cy="288.9" r="1.6"/><circle cx="175.3" cy="350.3" r="1.6"/><circle cx="152.5" cy="270.9" r="1.6"/><circle cx="109.2" cy="364.6" r="1.6"/><circle cx="91.9" cy="361.7" r="1.6"/><circle cx="106.2" cy="323.7" r="1.6"/><circle cx="153.5" cy="283.3" r="1.6"/><circle cx="98.2" cy="295.9" r="1.6"/><circle cx="149.5" cy="337.2" r="1.6"/><circle cx="63.2" cy="308.8" r="1.6"/><circle cx="37.8" cy="327.5" r="1.6"/><circle cx="141.6" cy="339.4" r="1.6"/><circle cx="129.7" cy="368.1" r="1.6"/><circle cx="101.4" cy="372.0" r="1.6"/><circle cx="38.1" cy="339.7" r="1.6"/><circle cx="118.7" cy="311.9" r="1.6"/><circle cx="188.2" cy="352.0" r="1.6"/><circle cx="139.8" cy="297.9" r="1.6"/><circle cx="31.3" cy="316.7" r="1.6"/><circle cx="91.6" cy="277.1" r="1.6"/><circle cx="65.5" cy="304.5" r="1.6"/><circle cx="71.1" cy="374.0" r="1.6"/><circle cx="146.1" cy="278.2" r="1.6"/><circle cx="36.9" cy="295.4" r="1.6"/><circle cx="160.3" cy="352.4" r="1.6"/><circle cx="77.9" cy="354.4" r="1.6"/><circle cx="29.7" cy="341.2" r="1.6"/><circle cx="172.4" cy="331.9" r="1.6"/><circle cx="108.7" cy="286.3" r="1.6"/><circle cx="83.7" cy="284.7" r="1.6"/><circle cx="97.1" cy="299.9" r="1.6"/><circle cx="105.1" cy="309.8" r="1.6"/><circle cx="146.3" cy="284.1" r="1.6"/><circle cx="82.5" cy="366.7" r="1.6"/><circle cx="110.7" cy="290.4" r="1.6"/><circle cx="169.4" cy="321.1" r="1.6"/><circle cx="94.9" cy="339.2" r="1.6"/><circle cx="39.7" cy="351.7" r="1.6"/><circle cx="163.9" cy="302.5" r="1.6"/><circle cx="37.1" cy="282.6" r="1.6"/><circle cx="51.9" cy="340.2" r="1.6"/><circle cx="147.9" cy="268.4" r="1.6"/><circle cx="192.4" cy="337.2" r="1.6"/><circle cx="65.2" cy="330.8" r="1.6"/><circle cx="119.8" cy="335.9" r="1.6"/><circle cx="168.7" cy="330.5" r="1.6"/><circle cx="134.1" cy="365.1" r="1.6"/><circle cx="53.8" cy="313.3" r="1.6"/><circle cx="105.5" cy="360.0" r="1.6"/><circle cx="92.1" cy="313.9" r="1.6"/><circle cx="151.6" cy="306.4" r="1.6"/><circle cx="112.4" cy="346.1" r="1.6"/><circle cx="96.6" cy="374.7" r="1.6"/><circle cx="101.5" cy="307.3" r="1.6"/><circle cx="187.2" cy="339.3" r="1.6"/><circle cx="125.8" cy="273.4" r="1.6"/><circle cx="88.4" cy="356.1" r="1.6"/><circle cx="162.9" cy="318.3" r="1.6"/><circle cx="160.1" cy="335.1" r="1.6"/><circle cx="170.3" cy="348.7" r="1.6"/><circle cx="162.6" cy="322.3" r="1.6"/><circle cx="184.9" cy="327.3" r="1.6"/><circle cx="151.9" cy="365.5" r="1.6"/><circle cx="143.7" cy="350.1" r="1.6"/><circle cx="82.9" cy="288.1" r="1.6"/><circle cx="84.2" cy="363.3" r="1.6"/><circle cx="185.1" cy="282.8" r="1.6"/><circle cx="148.8" cy="369.0" r="1.6"/><circle cx="115.2" cy="317.6" r="1.6"/><circle cx="103.1" cy="346.6" r="1.6"/><circle cx="130.7" cy="377.0" r="1.6"/><circle cx="186.4" cy="317.4" r="1.6"/><circle cx="81.4" cy="281.6" r="1.6"/><circle cx="58.8" cy="357.5" r="1.6"/><circle cx="94.2" cy="302.7" r="1.6"/><circle cx="150.4" cy="344.0" r="1.6"/><circle cx="151.2" cy="358.1" r="1.6"/><circle cx="128.6" cy="337.1" r="1.6"/><circle cx="46.7" cy="295.0" r="1.6"/><circle cx="148.9" cy="321.6" r="1.6"/><circle cx="99.2" cy="283.6" r="1.6"/><circle cx="114.1" cy="371.5" r="1.6"/><circle cx="139.2" cy="319.4" r="1.6"/><circle cx="95.9" cy="278.3" r="1.6"/><circle cx="175.9" cy="301.4" r="1.6"/><circle cx="69.4" cy="322.1" r="1.6"/><circle cx="99.1" cy="358.9" r="1.6"/><circle cx="159.5" cy="314.7" r="1.6"/><circle cx="191.0" cy="348.9" r="1.6"/><circle cx="131.6" cy="384.7" r="1.6"/><circle cx="124.4" cy="365.4" r="1.6"/><circle cx="72.4" cy="272.8" r="1.6"/><circle cx="60.4" cy="289.5" r="1.6"/><circle cx="112.4" cy="377.4" r="1.6"/><circle cx="114.9" cy="357.3" r="1.6"/><circle cx="46.3" cy="347.3" r="1.6"/><circle cx="110.2" cy="370.1" r="1.6"/><circle cx="36.2" cy="305.1" r="1.6"/><circle cx="72.8" cy="286.8" r="1.6"/><circle cx="76.4" cy="324.2" r="1.6"/><circle cx="149.5" cy="286.9" r="1.6"/><circle cx="135.1" cy="278.3" r="1.6"/><circle cx="57.8" cy="296.1" r="1.6"/><circle cx="57.3" cy="367.0" r="1.6"/><circle cx="130.3" cy="307.3" r="1.6"/><circle cx="98.5" cy="350.1" r="1.6"/><circle cx="167.2" cy="292.5" r="1.6"/><circle cx="70.5" cy="351.2" r="1.6"/><circle cx="105.7" cy="341.8" r="1.6"/><circle cx="146.6" cy="332.3" r="1.6"/><circle cx="109.3" cy="305.0" r="1.6"/><circle cx="108.8" cy="343.8" r="1.6"/><circle cx="190.4" cy="314.3" r="1.6"/><circle cx="73.5" cy="283.2" r="1.6"/><circle cx="41.0" cy="304.5" r="1.6"/><circle cx="117.1" cy="323.2" r="1.6"/><circle cx="140.5" cy="313.4" r="1.6"/><circle cx="137.3" cy="311.4" r="1.6"/><circle cx="116.5" cy="307.3" r="1.6"/><circle cx="154.1" cy="334.5" r="1.6"/><circle cx="153.3" cy="354.3" r="1.6"/><circle cx="82.2" cy="334.7" r="1.6"/><circle cx="79.5" cy="315.2" r="1.6"/><circle cx="134.6" cy="358.1" r="1.6"/><circle cx="46.2" cy="305.6" r="1.6"/><circle cx="140.6" cy="277.8" r="1.6"/><circle cx="139.3" cy="289.0" r="1.6"/><circle cx="97.3" cy="346.0" r="1.6"/><circle cx="52.9" cy="367.1" r="1.6"/><circle cx="139.3" cy="368.2" r="1.6"/><circle cx="37.3" cy="288.5" r="1.6"/><circle cx="149.2" cy="361.2" r="1.6"/><circle cx="172.1" cy="315.2" r="1.6"/><circle cx="48.3" cy="337.8" r="1.6"/><circle cx="156.6" cy="308.7" r="1.6"/><circle cx="194.6" cy="347.4" r="1.6"/><circle cx="36.4" cy="358.5" r="1.6"/><circle cx="110.1" cy="324.6" r="1.6"/><circle cx="131.7" cy="318.6" r="1.6"/><circle cx="119.9" cy="276.3" r="1.6"/><circle cx="100.0" cy="338.2" r="1.6"/><circle cx="71.2" cy="279.1" r="1.6"/><circle cx="163.3" cy="348.6" r="1.6"/><circle cx="73.0" cy="314.2" r="1.6"/><circle cx="126.2" cy="310.3" r="1.6"/><circle cx="65.5" cy="270.5" r="1.6"/><circle cx="52.4" cy="353.3" r="1.6"/><circle cx="143.3" cy="346.5" r="1.6"/><circle cx="113.5" cy="303.2" r="1.6"/><circle cx="55.4" cy="292.6" r="1.6"/><circle cx="84.0" cy="369.9" r="1.6"/><circle cx="155.8" cy="279.9" r="1.6"/><circle cx="118.6" cy="376.3" r="1.6"/><circle cx="190.8" cy="323.2" r="1.6"/><circle cx="118.2" cy="384.5" r="1.6"/><circle cx="189.1" cy="333.5" r="1.6"/><circle cx="116.7" cy="296.6" r="1.6"/><circle cx="168.4" cy="316.9" r="1.6"/><circle cx="174.4" cy="324.8" r="1.6"/><circle cx="132.0" cy="360.4" r="1.6"/><circle cx="59.8" cy="322.4" r="1.6"/><circle cx="71.8" cy="365.6" r="1.6"/><circle cx="93.1" cy="307.1" r="1.6"/><circle cx="131.9" cy="296.7" r="1.6"/><circle cx="143.2" cy="353.8" r="1.6"/><circle cx="87.5" cy="319.5" r="1.6"/><circle cx="165.1" cy="315.0" r="1.6"/><circle cx="55.8" cy="304.9" r="1.6"/><circle cx="80.7" cy="324.4" r="1.6"/><circle cx="177.2" cy="342.1" r="1.6"/><circle cx="95.5" cy="332.0" r="1.6"/><circle cx="149.9" cy="296.8" r="1.6"/><circle cx="155.3" cy="330.1" r="1.6"/><circle cx="129.7" cy="287.7" r="1.6"/><circle cx="123.8" cy="287.7" r="1.6"/><circle cx="151.7" cy="318.0" r="1.6"/><circle cx="104.9" cy="316.6" r="1.6"/><circle cx="109.4" cy="339.2" r="1.6"/><circle cx="118.7" cy="319.7" r="1.6"/><circle cx="34.1" cy="299.2" r="1.6"/><circle cx="172.7" cy="297.7" r="1.6"/><circle cx="143.3" cy="321.4" r="1.6"/><circle cx="56.1" cy="351.9" r="1.6"/><circle cx="42.5" cy="365.0" r="1.6"/><circle cx="193.1" cy="329.6" r="1.6"/><circle cx="125.1" cy="291.0" r="1.6"/><circle cx="102.4" cy="343.2" r="1.6"/><circle cx="169.0" cy="272.5" r="1.6"/><circle cx="152.1" cy="327.7" r="1.6"/><circle cx="185.1" cy="296.5" r="1.6"/><circle cx="81.8" cy="356.8" r="1.6"/><circle cx="139.5" cy="373.7" r="1.6"/><circle cx="151.0" cy="302.6" r="1.6"/><circle cx="68.8" cy="333.6" r="1.6"/><circle cx="122.4" cy="296.2" r="1.6"/><circle cx="155.7" cy="363.6" r="1.6"/><circle cx="109.2" cy="359.5" r="1.6"/><circle cx="53.0" cy="288.6" r="1.6"/><circle cx="91.3" cy="369.7" r="1.6"/><circle cx="86.6" cy="288.9" r="1.6"/><circle cx="76.8" cy="340.5" r="1.6"/><circle cx="48.4" cy="352.8" r="1.6"/><circle cx="39.6" cy="333.1" r="1.6"/><circle cx="95.6" cy="314.9" r="1.6"/><circle cx="96.2" cy="322.0" r="1.6"/><circle cx="73.2" cy="370.0" r="1.6"/><circle cx="27.9" cy="329.8" r="1.6"/><circle cx="65.8" cy="314.3" r="1.6"/><circle cx="147.8" cy="317.4" r="1.6"/><circle cx="173.0" cy="284.3" r="1.6"/><circle cx="166.0" cy="360.1" r="1.6"/><circle cx="70.7" cy="289.6" r="1.6"/><circle cx="145.7" cy="338.2" r="1.6"/><circle cx="120.0" cy="371.9" r="1.6"/><circle cx="134.8" cy="325.6" r="1.6"/><circle cx="107.2" cy="350.3" r="1.6"/><circle cx="131.4" cy="341.5" r="1.6"/><circle cx="140.6" cy="357.1" r="1.6"/><circle cx="137.0" cy="335.9" r="1.6"/><circle cx="88.3" cy="283.0" r="1.6"/><circle cx="70.3" cy="345.0" r="1.6"/><circle cx="172.8" cy="354.6" r="1.6"/><circle cx="123.8" cy="313.6" r="1.6"/><circle cx="40.9" cy="321.8" r="1.6"/><circle cx="78.1" cy="305.9" r="1.6"/><circle cx="117.7" cy="282.7" r="1.6"/><circle cx="158.1" cy="288.4" r="1.6"/><circle cx="133.3" cy="335.1" r="1.6"/><circle cx="136.7" cy="354.9" r="1.6"/><circle cx="86.3" cy="300.0" r="1.6"/><circle cx="98.1" cy="369.6" r="1.6"/><circle cx="114.9" cy="326.7" r="1.6"/><circle cx="81.9" cy="298.6" r="1.6"/><circle cx="102.8" cy="365.7" r="1.6"/><circle cx="107.2" cy="292.7" r="1.6"/><circle cx="78.9" cy="343.6" r="1.6"/><circle cx="42.5" cy="298.1" r="1.6"/><circle cx="43.2" cy="327.1" r="1.6"/><circle cx="62.9" cy="295.7" r="1.6"/><circle cx="95.6" cy="282.0" r="1.6"/><circle cx="67.2" cy="340.9" r="1.6"/><circle cx="72.1" cy="358.8" r="1.6"/><circle cx="173.8" cy="360.1" r="1.6"/><circle cx="113.1" cy="338.5" r="1.6"/><circle cx="57.1" cy="325.9" r="1.6"/><circle cx="55.7" cy="343.7" r="1.6"/><circle cx="112.0" cy="333.0" r="1.6"/><circle cx="133.9" cy="302.8" r="1.6"/><circle cx="58.7" cy="278.0" r="1.6"/><circle cx="151.1" cy="276.7" r="1.6"/><circle cx="123.6" cy="375.0" r="1.6"/><circle cx="183.1" cy="290.8" r="1.6"/><circle cx="105.6" cy="279.4" r="1.6"/><circle cx="125.8" cy="326.4" r="1.6"/><circle cx="68.2" cy="348.1" r="1.6"/><circle cx="132.6" cy="312.1" r="1.6"/><circle cx="187.4" cy="346.9" r="1.6"/><circle cx="110.8" cy="311.7" r="1.6"/><circle cx="119.7" cy="366.6" r="1.6"/><circle cx="64.3" cy="364.5" r="1.6"/><circle cx="77.7" cy="371.6" r="1.6"/><circle cx="51.0" cy="296.4" r="1.6"/><circle cx="137.3" cy="283.4" r="1.6"/><circle cx="81.0" cy="347.8" r="1.6"/><circle cx="102.1" cy="295.4" r="1.6"/><circle cx="72.3" cy="326.5" r="1.6"/><circle cx="59.0" cy="332.0" r="1.6"/><circle cx="156.4" cy="301.3" r="1.6"/><circle cx="100.9" cy="278.8" r="1.6"/><circle cx="78.0" cy="298.4" r="1.6"/><circle cx="145.6" cy="360.7" r="1.6"/><circle cx="42.1" cy="288.8" r="1.6"/><circle cx="177.7" cy="356.4" r="1.6"/><circle cx="59.0" cy="309.1" r="1.6"/><circle cx="185.8" cy="310.0" r="1.6"/><circle cx="90.6" cy="287.0" r="1.6"/><circle cx="58.6" cy="318.4" r="1.6"/><circle cx="184.0" cy="313.4" r="1.6"/><circle cx="99.1" cy="341.7" r="1.6"/><circle cx="117.4" cy="380.4" r="1.6"/><circle cx="138.5" cy="325.9" r="1.6"/><circle cx="127.8" cy="356.8" r="1.6"/><circle cx="143.3" cy="269.5" r="1.6"/><circle cx="140.1" cy="292.9" r="1.6"/><circle cx="155.7" cy="319.1" r="1.6"/><circle cx="91.4" cy="374.6" r="1.6"/><circle cx="108.3" cy="318.2" r="1.6"/><circle cx="119.7" cy="350.9" r="1.6"/><circle cx="115.8" cy="362.8" r="1.6"/><circle cx="108.2" cy="374.7" r="1.6"/><circle cx="135.5" cy="344.5" r="1.6"/><circle cx="35.9" cy="316.8" r="1.6"/><circle cx="171.5" cy="344.7" r="1.6"/><circle cx="65.9" cy="291.8" r="1.6"/><circle cx="59.1" cy="371.8" r="1.6"/><circle cx="63.2" cy="355.3" r="1.6"/><circle cx="179.6" cy="345.6" r="1.6"/><circle cx="35.5" cy="323.1" r="1.6"/><circle cx="189.7" cy="292.4" r="1.6"/><circle cx="64.7" cy="348.8" r="1.6"/><circle cx="129.9" cy="331.4" r="1.6"/><circle cx="123.2" cy="339.4" r="1.6"/><circle cx="172.8" cy="293.9" r="1.6"/><circle cx="100.9" cy="376.6" r="1.6"/><circle cx="77.0" cy="294.5" r="1.6"/><circle cx="148.2" cy="328.9" r="1.6"/><circle cx="83.5" cy="291.8" r="1.6"/><circle cx="48.5" cy="287.8" r="1.6"/><circle cx="75.1" cy="319.9" r="1.6"/><circle cx="140.2" cy="361.6" r="1.6"/><circle cx="84.6" cy="295.9" r="1.6"/><circle cx="115.2" cy="353.0" r="1.6"/><circle cx="108.6" cy="299.8" r="1.6"/><circle cx="125.0" cy="381.1" r="1.6"/><circle cx="159.0" cy="349.1" r="1.6"/><circle cx="87.2" cy="359.6" r="1.6"/><circle cx="51.5" cy="300.6" r="1.6"/><circle cx="84.9" cy="316.8" r="1.6"/><circle cx="35.5" cy="353.6" r="1.6"/><circle cx="101.5" cy="330.1" r="1.6"/><circle cx="144.9" cy="374.5" r="1.6"/><circle cx="82.3" cy="319.6" r="1.6"/><circle cx="163.7" cy="336.2" r="1.6"/><circle cx="81.7" cy="339.6" r="1.6"/><circle cx="175.4" cy="317.2" r="1.6"/><circle cx="141.7" cy="273.5" r="1.6"/><circle cx="155.7" cy="313.2" r="1.6"/><circle cx="182.4" cy="349.5" r="1.6"/><circle cx="83.4" cy="310.5" r="1.6"/><circle cx="61.8" cy="280.7" r="1.6"/><circle cx="76.6" cy="311.0" r="1.6"/><circle cx="77.3" cy="273.0" r="1.6"/><circle cx="165.6" cy="339.6" r="1.6"/><circle cx="146.9" cy="313.1" r="1.6"/><circle cx="161.8" cy="276.4" r="1.6"/><circle cx="157.3" cy="339.2" r="1.6"/><circle cx="124.1" cy="357.8" r="1.6"/><circle cx="141.2" cy="283.2" r="1.6"/><circle cx="152.8" cy="338.7" r="1.6"/><circle cx="51.4" cy="329.5" r="1.6"/><circle cx="95.1" cy="286.6" r="1.6"/><circle cx="41.0" cy="345.7" r="1.6"/><circle cx="136.0" cy="315.1" r="1.6"/><circle cx="58.0" cy="361.7" r="1.6"/><circle cx="45.3" cy="334.7" r="1.6"/><circle cx="181.8" cy="302.0" r="1.6"/><circle cx="68.2" cy="358.3" r="1.6"/><circle cx="98.4" cy="353.7" r="1.6"/><circle cx="117.9" cy="291.6" r="1.6"/><circle cx="41.2" cy="309.1" r="1.6"/><circle cx="94.1" cy="318.7" r="1.6"/><circle cx="76.7" cy="332.3" r="1.6"/><circle cx="161.4" cy="344.6" r="1.6"/><circle cx="45.9" cy="342.4" r="1.6"/><circle cx="158.8" cy="322.7" r="1.6"/><circle cx="162.1" cy="288.1" r="1.6"/><circle cx="156.2" cy="274.3" r="1.6"/><circle cx="68.2" cy="286.2" r="1.6"/><circle cx="180.9" cy="333.8" r="1.6"/><circle cx="182.3" cy="323.3" r="1.6"/><circle cx="86.6" cy="276.9" r="1.6"/><circle cx="150.4" cy="313.5" r="1.6"/><circle cx="183.0" cy="318.9" r="1.6"/><circle cx="149.4" cy="281.8" r="1.6"/><circle cx="128.8" cy="314.1" r="1.6"/><circle cx="91.0" cy="340.6" r="1.6"/><circle cx="73.1" cy="341.6" r="1.6"/><circle cx="163.5" cy="298.7" r="1.6"/><circle cx="52.8" cy="316.9" r="1.6"/><circle cx="127.0" cy="306.1" r="1.6"/><circle cx="67.5" cy="327.3" r="1.6"/><circle cx="135.1" cy="320.1" r="1.6"/><circle cx="60.5" cy="273.2" r="1.6"/><circle cx="105.5" cy="296.2" r="1.6"/><circle cx="124.0" cy="278.9" r="1.6"/><circle cx="128.8" cy="281.3" r="1.6"/><circle cx="185.6" cy="332.4" r="1.6"/><circle cx="108.4" cy="282.0" r="1.6"/><circle cx="113.8" cy="383.8" r="1.6"/><circle cx="50.3" cy="312.6" r="1.6"/><circle cx="105.1" cy="331.5" r="1.6"/><circle cx="160.9" cy="280.2" r="1.6"/><circle cx="178.7" cy="295.5" r="1.6"/><circle cx="118.4" cy="341.4" r="1.6"/><circle cx="124.2" cy="319.0" r="1.6"/><circle cx="26.2" cy="322.2" r="1.6"/><circle cx="124.9" cy="343.3" r="1.6"/><circle cx="86.2" cy="347.0" r="1.6"/><circle cx="64.5" cy="276.0" r="1.6"/><circle cx="90.7" cy="346.6" r="1.6"/><circle cx="165.4" cy="343.7" r="1.6"/><circle cx="75.2" cy="277.2" r="1.6"/><circle cx="161.7" cy="284.4" r="1.6"/><circle cx="78.4" cy="366.0" r="1.6"/><circle cx="81.7" cy="274.5" r="1.6"/><circle cx="176.0" cy="337.0" r="1.6"/><circle cx="159.3" cy="296.7" r="1.6"/><circle cx="190.7" cy="318.2" r="1.6"/><circle cx="33.6" cy="291.4" r="1.6"/><circle cx="52.8" cy="348.8" r="1.6"/><circle cx="73.0" cy="323.0" r="1.6"/><circle cx="192.6" cy="343.1" r="1.6"/><circle cx="127.7" cy="276.7" r="1.6"/><circle cx="29.5" cy="306.8" r="1.6"/><circle cx="163.3" cy="292.3" r="1.6"/><circle cx="89.2" cy="291.8" r="1.6"/><circle cx="144.3" cy="295.9" r="1.6"/><circle cx="119.9" cy="287.7" r="1.6"/><circle cx="138.9" cy="342.5" r="1.6"/><circle cx="190.1" cy="304.6" r="1.6"/><circle cx="134.7" cy="288.9" r="1.6"/><circle cx="59.6" cy="313.2" r="1.6"/><circle cx="41.6" cy="341.6" r="1.6"/><circle cx="159.7" cy="327.7" r="1.6"/><circle cx="47.7" cy="298.9" r="1.6"/><circle cx="153.3" cy="346.3" r="1.6"/><circle cx="177.5" cy="326.8" r="1.6"/><circle cx="127.9" cy="317.7" r="1.6"/><circle cx="168.3" cy="278.3" r="1.6"/><circle cx="54.4" cy="371.4" r="1.6"/><circle cx="186.0" cy="323.4" r="1.6"/><circle cx="47.2" cy="362.4" r="1.6"/><circle cx="90.2" cy="332.8" r="1.6"/><circle cx="60.8" cy="299.0" r="1.6"/><circle cx="30.6" cy="321.5" r="1.6"/><circle cx="94.2" cy="343.8" r="1.6"/><circle cx="123.5" cy="370.0" r="1.6"/><circle cx="95.2" cy="363.4" r="1.6"/><circle cx="127.7" cy="350.2" r="1.6"/><circle cx="98.4" cy="311.7" r="1.6"/><circle cx="86.2" cy="329.5" r="1.6"/><circle cx="177.7" cy="305.8" r="1.6"/><circle cx="100.1" cy="321.7" r="1.6"/><circle cx="188.5" cy="325.9" r="1.6"/><circle cx="61.3" cy="303.3" r="1.6"/><circle cx="182.0" cy="355.5" r="1.6"/><circle cx="133.1" cy="374.1" r="1.6"/><circle cx="93.0" cy="356.6" r="1.6"/><circle cx="142.5" cy="335.2" r="1.6"/><circle cx="134.3" cy="329.9" r="1.6"/><circle cx="79.2" cy="289.8" r="1.6"/><circle cx="174.2" cy="328.5" r="1.6"/><circle cx="94.5" cy="295.2" r="1.6"/><circle cx="69.1" cy="282.3" r="1.6"/><circle cx="74.9" cy="362.8" r="1.6"/><circle cx="31.0" cy="352.0" r="1.6"/><circle cx="59.0" cy="341.9" r="1.6"/><circle cx="150.2" cy="332.3" r="1.6"/><circle cx="52.1" cy="308.3" r="1.6"/><circle cx="189.5" cy="297.3" r="1.6"/><circle cx="180.5" cy="316.4" r="1.6"/><circle cx="112.9" cy="299.6" r="1.6"/><circle cx="26.9" cy="315.0" r="1.6"/><circle cx="85.3" cy="353.8" r="1.6"/><circle cx="81.0" cy="304.0" r="1.6"/><circle cx="88.0" cy="314.3" r="1.6"/><circle cx="170.3" cy="325.4" r="1.6"/><circle cx="147.9" cy="309.6" r="1.6"/><circle cx="104.3" cy="369.1" r="1.6"/><circle cx="48.0" cy="317.5" r="1.6"/><circle cx="65.2" cy="318.8" r="1.6"/><circle cx="69.5" cy="301.9" r="1.6"/><circle cx="74.5" cy="303.9" r="1.6"/><circle cx="168.3" cy="297.4" r="1.6"/><circle cx="169.4" cy="311.9" r="1.6"/><circle cx="146.8" cy="272.5" r="1.6"/><circle cx="57.1" cy="300.2" r="1.6"/><circle cx="91.5" cy="321.1" r="1.6"/><circle cx="82.3" cy="331.0" r="1.6"/><circle cx="153.0" cy="287.4" r="1.6"/><circle cx="37.8" cy="347.9" r="1.6"/><circle cx="131.6" cy="278.6" r="1.6"/><circle cx="144.0" cy="287.4" r="1.6"/><circle cx="86.2" cy="343.1" r="1.6"/><circle cx="67.8" cy="309.2" r="1.6"/><circle cx="114.6" cy="349.2" r="1.6"/><circle cx="150.5" cy="352.1" r="1.6"/><circle cx="170.9" cy="358.1" r="1.6"/><circle cx="154.0" cy="296.7" r="1.6"/><circle cx="164.8" cy="270.1" r="1.6"/><circle cx="69.4" cy="313.7" r="1.6"/><circle cx="131.8" cy="346.9" r="1.6"/><circle cx="65.6" cy="344.5" r="1.6"/><circle cx="68.2" cy="295.9" r="1.6"/><circle cx="187.9" cy="288.2" r="1.6"/><circle cx="135.4" cy="340.3" r="1.6"/><circle cx="63.5" cy="325.2" r="1.6"/><circle cx="166.2" cy="323.4" r="1.6"/><circle cx="134.5" cy="292.8" r="1.6"/><circle cx="163.5" cy="363.3" r="1.6"/><circle cx="179.4" cy="320.5" r="1.6"/><circle cx="65.0" cy="283.1" r="1.6"/><circle cx="93.8" cy="327.0" r="1.6"/><circle cx="121.2" cy="360.5" r="1.6"/><circle cx="76.1" cy="349.6" r="1.6"/><circle cx="109.9" cy="329.9" r="1.6"/><circle cx="195.4" cy="339.8" r="1.6"/><circle cx="110.8" cy="356.3" r="1.6"/><circle cx="93.2" cy="298.9" r="1.6"/><circle cx="173.7" cy="272.6" r="1.6"/><circle cx="175.7" cy="312.3" r="1.6"/><circle cx="94.5" cy="291.1" r="1.6"/><circle cx="137.6" cy="305.2" r="1.6"/><circle cx="104.4" cy="356.5" r="1.6"/><circle cx="96.4" cy="305.7" r="1.6"/><circle cx="169.3" cy="305.6" r="1.6"/><circle cx="181.6" cy="342.5" r="1.6"/><circle cx="28.4" cy="311.0" r="1.6"/><circle cx="102.1" cy="291.4" r="1.6"/><circle cx="38.7" cy="362.8" r="1.6"/><circle cx="50.6" cy="320.7" r="1.6"/><circle cx="111.0" cy="350.3" r="1.6"/><circle cx="42.6" cy="276.9" r="1.6"/><circle cx="68.9" cy="318.0" r="1.6"/><circle cx="130.1" cy="371.8" r="1.6"/><circle cx="83.9" cy="306.2" r="1.6"/><circle cx="46.8" cy="279.0" r="1.6"/><circle cx="174.3" cy="304.6" r="1.6"/><circle cx="118.2" cy="356.0" r="1.6"/><circle cx="135.1" cy="348.8" r="1.6"/><circle cx="169.1" cy="284.9" r="1.6"/><circle cx="42.9" cy="292.9" r="1.6"/><circle cx="145.3" cy="370.5" r="1.6"/><circle cx="159.8" cy="310.5" r="1.6"/><circle cx="87.6" cy="373.5" r="1.6"/><circle cx="106.0" cy="302.9" r="1.6"/><circle cx="90.8" cy="329.1" r="1.6"/><circle cx="112.9" cy="307.6" r="1.6"/><circle cx="40.0" cy="314.4" r="1.6"/><circle cx="147.0" cy="300.9" r="1.6"/><circle cx="153.2" cy="321.7" r="1.6"/><circle cx="114.2" cy="293.5" r="1.6"/><circle cx="112.8" cy="287.1" r="1.6"/><circle cx="157.5" cy="284.0" r="1.6"/><circle cx="124.6" cy="323.0" r="1.6"/><circle cx="135.7" cy="381.2" r="1.6"/><circle cx="32.1" cy="325.9" r="1.6"/><circle cx="74.6" cy="345.0" r="1.6"/><circle cx="115.1" cy="311.6" r="1.6"/><circle cx="63.7" cy="338.8" r="1.6"/><circle cx="62.0" cy="344.2" r="1.6"/><circle cx="144.3" cy="316.9" r="1.6"/><circle cx="87.5" cy="369.6" r="1.6"/><circle cx="154.0" cy="342.5" r="1.6"/><circle cx="78.8" cy="320.0" r="1.6"/><circle cx="33.8" cy="329.5" r="1.6"/><circle cx="124.4" cy="347.5" r="1.6"/><circle cx="170.9" cy="336.2" r="1.6"/><circle cx="131.0" cy="355.3" r="1.6"/><circle cx="100.6" cy="362.4" r="1.6"/><circle cx="113.4" cy="283.4" r="1.6"/><circle cx="115.8" cy="334.0" r="1.6"/><circle cx="56.7" cy="286.0" r="1.6"/><circle cx="116.8" cy="368.8" r="1.6"/><circle cx="89.3" cy="296.2" r="1.6"/><circle cx="47.5" cy="329.0" r="1.6"/><circle cx="120.3" cy="315.9" r="1.6"/><circle cx="87.0" cy="365.5" r="1.6"/><circle cx="153.3" cy="290.9" r="1.6"/><circle cx="44.6" cy="331.1" r="1.6"/><circle cx="117.5" cy="301.7" r="1.6"/><circle cx="155.9" cy="358.6" r="1.6"/><circle cx="92.2" cy="283.8" r="1.6"/><circle cx="63.1" cy="373.1" r="1.6"/><circle cx="126.9" cy="295.6" r="1.6"/><circle cx="123.4" cy="306.2" r="1.6"/><circle cx="30.5" cy="301.5" r="1.6"/><circle cx="101.5" cy="313.6" r="1.6"/><circle cx="77.7" cy="282.5" r="1.6"/><circle cx="97.2" cy="335.8" r="1.6"/><circle cx="104.7" cy="378.3" r="1.6"/><circle cx="50.5" cy="304.9" r="1.6"/><circle cx="127.6" cy="340.6" r="1.6"/></g>
<path d="M36.9,275.3 L37.9,274.3 L38.8,273.3 L39.7,272.4 L40.5,271.5 L41.5,270.6 L42.5,269.8 L43.6,269.1 L44.8,268.4 L46.1,267.8 L47.6,267.2 L49.1,266.7 L50.7,266.2 L52.3,265.8 L54.0,265.5 L55.7,265.3 L57.5,265.2 L59.3,265.2 L61.2,265.3 L63.2,265.5 L65.2,265.8 L67.2,266.1 L69.3,266.5 L71.3,267.0 L73.3,267.4 L75.3,267.9 L77.3,268.5 L79.4,269.2 L81.4,269.8 L83.5,270.5 L85.5,271.2 L87.4,271.7 L89.2,272.2 L90.9,272.6 L92.6,272.9 L94.2,273.1 L95.7,273.3 L97.2,273.5 L98.7,273.6 L100.2,273.6 L101.8,273.7 L103.4,273.7 L105.0,273.7 L106.6,273.7 L108.3,273.6 L109.9,273.5 L111.5,273.3 L113.0,273.1 L114.5,272.8 L115.9,272.5 L117.3,272.1 L118.6,271.6 L119.9,271.1 L121.2,270.6 L122.5,270.0 L123.9,269.5 L125.3,269.0 L126.8,268.5 L128.2,268.0 L129.6,267.5 L131.1,266.9 L132.7,266.4 L134.3,266.0 L136.1,265.5 L138.0,265.2 L140.1,264.9 L142.4,264.7 L144.8,264.4 L147.3,264.3 L149.8,264.1 L152.3,264.1 L154.7,264.1 L157.0,264.2 L159.1,264.4 L161.2,264.6 L163.3,264.9 L165.3,265.2 L167.2,265.7 L169.1,266.2 L171.0,266.7 L172.8,267.4 L174.6,268.1 L176.3,268.9 L178.0,269.8 L179.6,270.8 L181.2,271.8 L182.7,272.9 L184.2,274.1 L185.5,275.3 L186.8,276.7 L188.0,278.1 L189.1,279.7 L190.1,281.4 L191.1,283.0 L192.0,284.7 L192.7,286.4 L193.4,288.0 L193.9,289.6 L194.3,291.2 L194.5,292.8 L194.7,294.4 L194.8,295.9 L194.8,297.5 L194.9,299.1 L195.0,300.7 L195.1,302.3 L195.2,303.8 L195.2,305.3 L195.2,306.8 L195.2,308.3 L195.2,309.9 L195.3,311.6 L195.5,313.3 L195.7,315.2 L196.0,317.1 L196.4,319.2 L196.7,321.3 L197.1,323.3 L197.5,325.4 L197.9,327.3 L198.2,329.2 L198.6,331.0 L199.0,332.7 L199.4,334.3 L199.8,335.9 L200.1,337.4 L200.4,338.9 L200.6,340.4 L200.7,341.8 L200.7,343.1 L200.6,344.4 L200.4,345.7 L200.2,346.8 L199.9,348.0 L199.4,349.1 L198.9,350.2 L198.2,351.3 L197.4,352.4 L196.5,353.4 L195.4,354.4 L194.3,355.4 L193.0,356.4 L191.7,357.4 L190.2,358.3 L188.7,359.2 L187.0,360.1 L185.2,360.9 L183.2,361.7 L181.1,362.5 L179.0,363.3 L176.9,364.0 L174.8,364.8 L172.8,365.6 L170.8,366.4 L168.8,367.1 L166.7,367.9 L164.7,368.7 L162.7,369.4 L160.7,370.2 L158.8,371.0 L157.0,371.9 L155.3,372.8 L153.6,373.7 L152.0,374.7 L150.5,375.6 L148.9,376.6 L147.4,377.7 L145.9,378.7 L144.3,379.8 L142.7,381.0 L141.1,382.2 L139.4,383.5 L137.8,384.9 L136.2,386.1 L134.6,387.3 L133.1,388.4 L131.7,389.3 L130.4,390.0 L129.1,390.6 L127.9,391.2 L126.8,391.6 L125.6,391.9 L124.5,392.1 L123.4,392.3 L122.2,392.3 L121.0,392.2 L119.8,392.0 L118.6,391.8 L117.3,391.4 L116.1,390.9 L114.9,390.4 L113.8,389.9 L112.7,389.3 L111.7,388.6 L110.8,387.9 L110.0,387.0 L109.2,386.2 L108.4,385.3 L107.5,384.4 L106.3,383.7 L105.0,383.0 L103.4,382.4 L101.6,381.9 L99.7,381.5 L97.6,381.1 L95.5,380.7 L93.3,380.4 L91.2,380.1 L89.2,379.8 L87.2,379.5 L85.2,379.3 L83.2,379.1 L81.3,378.9 L79.3,378.7 L77.3,378.6 L75.3,378.4 L73.3,378.2 L71.3,378.0 L69.3,377.9 L67.4,377.8 L65.4,377.7 L63.4,377.6 L61.4,377.4 L59.5,377.1 L57.5,376.7 L55.5,376.2 L53.5,375.6 L51.4,374.9 L49.4,374.2 L47.4,373.4 L45.4,372.5 L43.5,371.4 L41.7,370.3 L39.9,369.1 L38.2,367.7 L36.4,366.3 L34.8,364.8 L33.2,363.2 L31.7,361.4 L30.3,359.6 L29.0,357.7 L27.9,355.6 L26.9,353.4 L26.0,351.0 L25.2,348.6 L24.4,346.1 L23.8,343.6 L23.2,341.1 L22.7,338.7 L22.2,336.3 L21.9,333.9 L21.5,331.6 L21.3,329.2 L21.1,326.8 L21.1,324.4 L21.0,322.1 L21.1,319.7 L21.3,317.3 L21.5,314.9 L21.9,312.4 L22.3,310.0 L22.8,307.6 L23.3,305.2 L23.8,302.9 L24.3,300.7 L24.8,298.5 L25.3,296.4 L25.8,294.2 L26.4,292.2 L26.9,290.2 L27.6,288.3 L28.2,286.5 L29.0,284.8 L29.8,283.3 L30.8,281.9 L31.7,280.7 L32.8,279.5 L33.8,278.4 L34.9,277.3 L35.9,276.3 Z" fill="none" stroke="#1a1a1a" stroke-width="0.9"/>
<defs><radialGradient id="gi" cx="0.4" cy="0.35" r="0.65"><stop offset="0" stop-color="#8cff70"/><stop offset="0.55" stop-color="#2ed620"/><stop offset="1" stop-color="#157010"/></radialGradient><radialGradient id="gb" cx="0.4" cy="0.35" r="0.65"><stop offset="0" stop-color="#8aa030"/><stop offset="0.6" stop-color="#4a5a18"/><stop offset="1" stop-color="#2a2a10"/></radialGradient><radialGradient id="go" cx="0.45" cy="0.4" r="0.6"><stop offset="0" stop-color="#a8f8a0"/><stop offset="1" stop-color="#5cd85a"/></radialGradient></defs>
<circle cx="54.9" cy="318.7" r="3.1" fill="url(#gb)"/>
<circle cx="88.7" cy="297.6" r="3.1" fill="url(#gb)"/>
<circle cx="110.6" cy="313.6" r="3.1" fill="url(#gb)"/>
<circle cx="141.5" cy="301" r="3.1" fill="url(#gb)"/>
<circle cx="129.6" cy="320.8" r="3.1" fill="url(#gb)"/>
<circle cx="101.4" cy="355.8" r="3.1" fill="url(#gb)"/>
<circle cx="154.1" cy="348.2" r="3.1" fill="url(#gb)"/>
<circle cx="70" cy="330" r="3.1" fill="url(#gb)"/>
<circle cx="160" cy="320" r="3.1" fill="url(#gb)"/>
<circle cx="63.3" cy="307.3" r="3.7" fill="url(#gi)"/>
<circle cx="84.5" cy="308.5" r="3.7" fill="url(#gi)"/>
<circle cx="41.4" cy="323.8" r="3.7" fill="url(#gi)"/>
<circle cx="105.6" cy="304.3" r="3.7" fill="url(#gi)"/>
<circle cx="92" cy="294.2" r="3.7" fill="url(#gi)"/>
<circle cx="109" cy="284.9" r="3.7" fill="url(#gi)"/>
<circle cx="141.9" cy="292.5" r="3.7" fill="url(#gi)"/>
<circle cx="161.3" cy="288.3" r="3.7" fill="url(#gi)"/>
<circle cx="172.3" cy="306" r="3.7" fill="url(#gi)"/>
<circle cx="180.7" cy="306" r="3.7" fill="url(#gi)"/>
<circle cx="173.1" cy="318.7" r="3.7" fill="url(#gi)"/>
<circle cx="182.4" cy="333.9" r="3.7" fill="url(#gi)"/>
<circle cx="187.5" cy="340.6" r="3.7" fill="url(#gi)"/>
<circle cx="147.8" cy="333.9" r="3.7" fill="url(#gi)"/>
<circle cx="143.6" cy="328" r="3.7" fill="url(#gi)"/>
<circle cx="139.4" cy="334.7" r="3.7" fill="url(#gi)"/>
<circle cx="114" cy="347.4" r="3.7" fill="url(#gi)"/>
<circle cx="126.7" cy="348.2" r="3.7" fill="url(#gi)"/>
<circle cx="130.9" cy="355" r="3.7" fill="url(#gi)"/>
<circle cx="147.8" cy="352.5" r="3.7" fill="url(#gi)"/>
<circle cx="166.8" cy="352.5" r="3.7" fill="url(#gi)"/>
<circle cx="54.9" cy="356.7" r="3.7" fill="url(#gi)"/>
<circle cx="57" cy="364.3" r="3.7" fill="url(#gi)"/>
<circle cx="65.5" cy="361.8" r="3.7" fill="url(#gi)"/>
<circle cx="111.1" cy="370.2" r="3.7" fill="url(#gi)"/>
<circle cx="162.6" cy="367.2" r="3.7" fill="url(#gi)"/>
<circle cx="92.9" cy="343.2" r="3.7" fill="url(#gi)"/>
<circle cx="108.1" cy="355.8" r="3.7" fill="url(#gi)"/>
<circle cx="74.7" cy="359.2" r="3.7" fill="url(#gi)"/>
<g><circle cx="19" cy="259.6" r="2.4" fill="url(#go)"/><circle cx="28.7" cy="256.2" r="2.4" fill="url(#go)"/><circle cx="25.3" cy="272.2" r="2.4" fill="url(#go)"/><circle cx="92" cy="260.4" r="2.4" fill="url(#go)"/><circle cx="93.7" cy="258.7" r="2.4" fill="url(#go)"/><circle cx="140.2" cy="253.6" r="2.4" fill="url(#go)"/><circle cx="171.9" cy="260.4" r="2.4" fill="url(#go)"/><circle cx="23.6" cy="297.6" r="2.4" fill="url(#go)"/><circle cx="21.1" cy="347.4" r="2.4" fill="url(#go)"/><circle cx="186.7" cy="293.3" r="2.4" fill="url(#go)"/><circle cx="206" cy="323.8" r="2.4" fill="url(#go)"/><circle cx="7.6" cy="386.2" r="2.4" fill="url(#go)"/><circle cx="59.1" cy="390.5" r="2.4" fill="url(#go)"/><circle cx="77.3" cy="388.8" r="2.4" fill="url(#go)"/><circle cx="57.4" cy="401" r="2.4" fill="url(#go)"/><circle cx="155" cy="402.3" r="2.4" fill="url(#go)"/><circle cx="164.7" cy="403.1" r="2.4" fill="url(#go)"/><circle cx="180.7" cy="391.7" r="2.4" fill="url(#go)"/><circle cx="194.3" cy="409.5" r="2.4" fill="url(#go)"/><circle cx="200.6" cy="410.3" r="2.4" fill="url(#go)"/><circle cx="215.4" cy="402.3" r="2.4" fill="url(#go)"/></g>
<text x="192.5" y="270.2" font-size="10.5" font-family="'Liberation Sans', 'DejaVu Sans', sans-serif" fill="#5468ee" font-weight="bold" textLength="38" lengthAdjust="spacingAndGlyphs" >PDDA</text>
<text x="199.0" y="293.3" font-size="10.5" font-family="'Liberation Sans', 'DejaVu Sans', sans-serif" fill="#e8302a" font-weight="bold" textLength="23.5" lengthAdjust="spacingAndGlyphs" >ATP</text>
<text x="196.5" y="313.8" font-size="10.5" font-family="'Liberation Sans', 'DejaVu Sans', sans-serif" fill="#48e040" font-weight="bold" textLength="32" lengthAdjust="spacingAndGlyphs" >IONS</text>
<text x="188.5" y="336.0" font-size="10.5" font-family="'Liberation Sans', 'DejaVu Sans', sans-serif" fill="#74dcd4" font-weight="bold" textLength="46" lengthAdjust="spacingAndGlyphs" >WATER</text>
<line x1="0.9" y1="236.5" x2="0.9" y2="424.8" stroke="#2a2a2a" stroke-width="1.4" />
<line x1="0.5" y1="424.3" x2="243.2" y2="424.3" stroke="#2a2a2a" stroke-width="1.3" />
<line x1="242.5" y1="236.5" x2="242.5" y2="424.8" stroke="#2a2a2a" stroke-width="1.3" />
<text x="261.1" y="16.4" font-size="17" font-family="'Liberation Serif', 'DejaVu Serif', serif" fill="#000" font-weight="bold" textLength="14.6" lengthAdjust="spacingAndGlyphs" >C.</text>
<rect x="328.1" y="35.2" width="43.7" height="43.3" fill="#eeeeee" stroke="#a8b0f4" stroke-width="0.7"/>
<g fill="#50c050" fill-opacity="0.75"><rect x="350.4" y="63.9" width="0.75" height="0.75"/><rect x="368.7" y="71.1" width="0.75" height="0.75"/><rect x="335.1" y="75.0" width="0.75" height="0.75"/><rect x="368.7" y="37.1" width="0.75" height="0.75"/><rect x="342.1" y="41.1" width="0.75" height="0.75"/><rect x="346.8" y="51.1" width="0.75" height="0.75"/><rect x="363.6" y="40.1" width="0.75" height="0.75"/><rect x="346.2" y="61.0" width="0.75" height="0.75"/><rect x="352.0" y="47.0" width="0.75" height="0.75"/><rect x="330.2" y="47.1" width="0.75" height="0.75"/><rect x="360.5" y="48.1" width="0.75" height="0.75"/><rect x="351.5" y="40.2" width="0.75" height="0.75"/><rect x="342.8" y="66.8" width="0.75" height="0.75"/><rect x="362.0" y="63.1" width="0.75" height="0.75"/><rect x="341.7" y="61.2" width="0.75" height="0.75"/><rect x="348.0" y="37.6" width="0.75" height="0.75"/><rect x="334.7" y="53.9" width="0.75" height="0.75"/><rect x="345.9" y="64.5" width="0.75" height="0.75"/><rect x="337.6" y="42.7" width="0.75" height="0.75"/><rect x="340.0" y="52.1" width="0.75" height="0.75"/><rect x="360.4" y="37.0" width="0.75" height="0.75"/><rect x="340.8" y="39.6" width="0.75" height="0.75"/><rect x="349.3" y="45.1" width="0.75" height="0.75"/><rect x="370.0" y="53.3" width="0.75" height="0.75"/><rect x="369.2" y="55.3" width="0.75" height="0.75"/><rect x="359.3" y="72.7" width="0.75" height="0.75"/><rect x="351.7" y="49.3" width="0.75" height="0.75"/><rect x="340.6" y="37.1" width="0.75" height="0.75"/><rect x="335.8" y="70.3" width="0.75" height="0.75"/><rect x="369.5" y="38.8" width="0.75" height="0.75"/><rect x="350.6" y="40.0" width="0.75" height="0.75"/><rect x="333.9" y="76.0" width="0.75" height="0.75"/><rect x="355.1" y="67.3" width="0.75" height="0.75"/><rect x="361.5" y="50.2" width="0.75" height="0.75"/><rect x="354.7" y="41.7" width="0.75" height="0.75"/><rect x="367.4" y="52.2" width="0.75" height="0.75"/><rect x="330.8" y="50.2" width="0.75" height="0.75"/><rect x="351.1" y="72.3" width="0.75" height="0.75"/><rect x="348.3" y="53.5" width="0.75" height="0.75"/><rect x="331.7" y="39.6" width="0.75" height="0.75"/><rect x="355.8" y="74.5" width="0.75" height="0.75"/><rect x="364.7" y="61.9" width="0.75" height="0.75"/><rect x="353.8" y="41.0" width="0.75" height="0.75"/><rect x="339.9" y="40.9" width="0.75" height="0.75"/><rect x="364.1" y="55.4" width="0.75" height="0.75"/><rect x="350.3" y="40.0" width="0.75" height="0.75"/><rect x="350.4" y="62.3" width="0.75" height="0.75"/><rect x="360.5" y="61.7" width="0.75" height="0.75"/><rect x="335.3" y="37.5" width="0.75" height="0.75"/><rect x="363.3" y="69.5" width="0.75" height="0.75"/><rect x="357.6" y="68.7" width="0.75" height="0.75"/><rect x="361.9" y="74.0" width="0.75" height="0.75"/><rect x="337.1" y="63.9" width="0.75" height="0.75"/><rect x="362.6" y="64.8" width="0.75" height="0.75"/><rect x="337.1" y="43.0" width="0.75" height="0.75"/><rect x="332.5" y="37.2" width="0.75" height="0.75"/><rect x="364.8" y="38.9" width="0.75" height="0.75"/><rect x="365.0" y="76.0" width="0.75" height="0.75"/><rect x="365.7" y="62.9" width="0.75" height="0.75"/><rect x="348.8" y="75.3" width="0.75" height="0.75"/><rect x="340.5" y="50.6" width="0.75" height="0.75"/><rect x="329.4" y="67.4" width="0.75" height="0.75"/><rect x="356.0" y="38.9" width="0.75" height="0.75"/><rect x="359.1" y="43.1" width="0.75" height="0.75"/><rect x="363.9" y="47.6" width="0.75" height="0.75"/><rect x="340.9" y="58.9" width="0.75" height="0.75"/><rect x="338.1" y="59.2" width="0.75" height="0.75"/><rect x="355.8" y="56.8" width="0.75" height="0.75"/><rect x="362.7" y="53.7" width="0.75" height="0.75"/><rect x="369.3" y="60.0" width="0.75" height="0.75"/><rect x="335.4" y="76.1" width="0.75" height="0.75"/><rect x="349.2" y="55.1" width="0.75" height="0.75"/><rect x="366.4" y="70.8" width="0.75" height="0.75"/><rect x="346.7" y="38.5" width="0.75" height="0.75"/><rect x="353.7" y="52.1" width="0.75" height="0.75"/><rect x="330.1" y="59.3" width="0.75" height="0.75"/><rect x="357.2" y="61.8" width="0.75" height="0.75"/><rect x="367.4" y="46.5" width="0.75" height="0.75"/><rect x="363.6" y="52.7" width="0.75" height="0.75"/><rect x="366.0" y="75.3" width="0.75" height="0.75"/><rect x="356.6" y="63.0" width="0.75" height="0.75"/><rect x="339.3" y="60.4" width="0.75" height="0.75"/><rect x="361.1" y="38.9" width="0.75" height="0.75"/><rect x="337.9" y="38.4" width="0.75" height="0.75"/><rect x="363.8" y="44.9" width="0.75" height="0.75"/><rect x="331.7" y="41.9" width="0.75" height="0.75"/><rect x="363.5" y="76.8" width="0.75" height="0.75"/><rect x="336.0" y="36.3" width="0.75" height="0.75"/><rect x="344.7" y="51.3" width="0.75" height="0.75"/><rect x="342.3" y="38.6" width="0.75" height="0.75"/><rect x="357.9" y="62.6" width="0.75" height="0.75"/><rect x="336.5" y="38.1" width="0.75" height="0.75"/><rect x="345.6" y="39.0" width="0.75" height="0.75"/><rect x="329.3" y="39.5" width="0.75" height="0.75"/><rect x="340.0" y="47.4" width="0.75" height="0.75"/><rect x="346.7" y="60.0" width="0.75" height="0.75"/><rect x="333.5" y="69.5" width="0.75" height="0.75"/><rect x="355.5" y="47.2" width="0.75" height="0.75"/><rect x="345.0" y="47.9" width="0.75" height="0.75"/><rect x="359.3" y="70.3" width="0.75" height="0.75"/><rect x="356.4" y="67.0" width="0.75" height="0.75"/><rect x="347.1" y="41.4" width="0.75" height="0.75"/><rect x="365.3" y="69.5" width="0.75" height="0.75"/><rect x="355.5" y="70.5" width="0.75" height="0.75"/><rect x="362.9" y="43.5" width="0.75" height="0.75"/><rect x="343.4" y="62.1" width="0.75" height="0.75"/><rect x="351.8" y="44.3" width="0.75" height="0.75"/><rect x="337.3" y="46.3" width="0.75" height="0.75"/><rect x="370.6" y="56.6" width="0.75" height="0.75"/><rect x="339.2" y="57.8" width="0.75" height="0.75"/><rect x="339.8" y="56.0" width="0.75" height="0.75"/><rect x="332.2" y="58.5" width="0.75" height="0.75"/><rect x="339.9" y="45.0" width="0.75" height="0.75"/><rect x="360.9" y="68.4" width="0.75" height="0.75"/><rect x="358.2" y="47.7" width="0.75" height="0.75"/><rect x="334.5" y="73.9" width="0.75" height="0.75"/><rect x="344.8" y="57.5" width="0.75" height="0.75"/><rect x="346.7" y="48.7" width="0.75" height="0.75"/><rect x="356.8" y="43.4" width="0.75" height="0.75"/><rect x="348.1" y="56.2" width="0.75" height="0.75"/><rect x="353.6" y="51.7" width="0.75" height="0.75"/><rect x="364.1" y="61.9" width="0.75" height="0.75"/><rect x="359.4" y="56.8" width="0.75" height="0.75"/><rect x="344.3" y="37.7" width="0.75" height="0.75"/><rect x="347.8" y="70.6" width="0.75" height="0.75"/><rect x="344.4" y="38.3" width="0.75" height="0.75"/><rect x="333.7" y="70.4" width="0.75" height="0.75"/><rect x="337.6" y="69.8" width="0.75" height="0.75"/><rect x="340.9" y="74.4" width="0.75" height="0.75"/><rect x="342.2" y="63.6" width="0.75" height="0.75"/><rect x="342.2" y="42.8" width="0.75" height="0.75"/><rect x="353.1" y="54.5" width="0.75" height="0.75"/><rect x="369.6" y="54.3" width="0.75" height="0.75"/><rect x="361.4" y="62.3" width="0.75" height="0.75"/><rect x="362.1" y="51.9" width="0.75" height="0.75"/><rect x="360.8" y="64.1" width="0.75" height="0.75"/><rect x="354.0" y="44.6" width="0.75" height="0.75"/><rect x="367.4" y="50.8" width="0.75" height="0.75"/><rect x="357.9" y="58.6" width="0.75" height="0.75"/><rect x="350.0" y="53.9" width="0.75" height="0.75"/><rect x="332.3" y="41.3" width="0.75" height="0.75"/><rect x="349.5" y="76.1" width="0.75" height="0.75"/><rect x="338.0" y="64.8" width="0.75" height="0.75"/><rect x="334.6" y="70.6" width="0.75" height="0.75"/><rect x="350.2" y="51.0" width="0.75" height="0.75"/><rect x="361.8" y="75.2" width="0.75" height="0.75"/><rect x="341.4" y="69.8" width="0.75" height="0.75"/><rect x="361.2" y="76.7" width="0.75" height="0.75"/><rect x="351.0" y="44.4" width="0.75" height="0.75"/><rect x="335.3" y="55.9" width="0.75" height="0.75"/><rect x="369.3" y="52.1" width="0.75" height="0.75"/><rect x="345.8" y="61.6" width="0.75" height="0.75"/><rect x="341.4" y="46.5" width="0.75" height="0.75"/><rect x="364.4" y="40.3" width="0.75" height="0.75"/><rect x="334.3" y="55.9" width="0.75" height="0.75"/><rect x="359.7" y="62.6" width="0.75" height="0.75"/><rect x="336.9" y="52.1" width="0.75" height="0.75"/><rect x="345.5" y="77.0" width="0.75" height="0.75"/><rect x="338.8" y="53.0" width="0.75" height="0.75"/><rect x="364.2" y="48.6" width="0.75" height="0.75"/><rect x="345.4" y="69.8" width="0.75" height="0.75"/><rect x="369.7" y="55.5" width="0.75" height="0.75"/><rect x="355.2" y="47.5" width="0.75" height="0.75"/><rect x="358.0" y="48.0" width="0.75" height="0.75"/><rect x="350.8" y="75.3" width="0.75" height="0.75"/><rect x="342.0" y="75.9" width="0.75" height="0.75"/><rect x="345.6" y="62.9" width="0.75" height="0.75"/><rect x="368.3" y="47.7" width="0.75" height="0.75"/><rect x="337.5" y="65.6" width="0.75" height="0.75"/><rect x="370.3" y="45.2" width="0.75" height="0.75"/><rect x="360.7" y="49.5" width="0.75" height="0.75"/><rect x="344.1" y="58.6" width="0.75" height="0.75"/><rect x="355.9" y="52.8" width="0.75" height="0.75"/><rect x="345.0" y="50.7" width="0.75" height="0.75"/><rect x="345.0" y="76.4" width="0.75" height="0.75"/><rect x="350.1" y="43.2" width="0.75" height="0.75"/><rect x="329.8" y="61.5" width="0.75" height="0.75"/><rect x="349.7" y="37.8" width="0.75" height="0.75"/><rect x="369.6" y="40.0" width="0.75" height="0.75"/><rect x="341.0" y="44.9" width="0.75" height="0.75"/><rect x="360.3" y="77.2" width="0.75" height="0.75"/><rect x="347.6" y="66.2" width="0.75" height="0.75"/><rect x="337.8" y="72.0" width="0.75" height="0.75"/><rect x="366.8" y="38.2" width="0.75" height="0.75"/><rect x="329.8" y="64.3" width="0.75" height="0.75"/><rect x="341.8" y="54.4" width="0.75" height="0.75"/><rect x="370.8" y="53.4" width="0.75" height="0.75"/><rect x="340.0" y="65.5" width="0.75" height="0.75"/><rect x="364.5" y="48.9" width="0.75" height="0.75"/><rect x="354.4" y="57.4" width="0.75" height="0.75"/><rect x="362.7" y="47.0" width="0.75" height="0.75"/><rect x="355.4" y="52.4" width="0.75" height="0.75"/><rect x="344.2" y="58.2" width="0.75" height="0.75"/><rect x="360.8" y="42.7" width="0.75" height="0.75"/><rect x="330.2" y="47.6" width="0.75" height="0.75"/><rect x="347.7" y="53.6" width="0.75" height="0.75"/><rect x="344.6" y="55.7" width="0.75" height="0.75"/><rect x="349.0" y="69.2" width="0.75" height="0.75"/><rect x="334.4" y="62.8" width="0.75" height="0.75"/><rect x="338.4" y="59.4" width="0.75" height="0.75"/><rect x="352.5" y="72.1" width="0.75" height="0.75"/><rect x="345.3" y="44.4" width="0.75" height="0.75"/><rect x="362.1" y="40.5" width="0.75" height="0.75"/><rect x="354.3" y="52.5" width="0.75" height="0.75"/><rect x="365.0" y="41.9" width="0.75" height="0.75"/><rect x="359.6" y="59.2" width="0.75" height="0.75"/><rect x="354.2" y="59.9" width="0.75" height="0.75"/><rect x="341.1" y="41.6" width="0.75" height="0.75"/><rect x="361.7" y="65.8" width="0.75" height="0.75"/><rect x="339.6" y="59.2" width="0.75" height="0.75"/><rect x="332.2" y="53.7" width="0.75" height="0.75"/><rect x="369.3" y="74.1" width="0.75" height="0.75"/><rect x="351.6" y="71.5" width="0.75" height="0.75"/><rect x="361.4" y="45.3" width="0.75" height="0.75"/><rect x="351.2" y="43.1" width="0.75" height="0.75"/><rect x="354.6" y="74.0" width="0.75" height="0.75"/><rect x="330.5" y="42.7" width="0.75" height="0.75"/><rect x="336.9" y="67.5" width="0.75" height="0.75"/><rect x="357.2" y="49.1" width="0.75" height="0.75"/><rect x="352.9" y="51.1" width="0.75" height="0.75"/><rect x="335.7" y="59.1" width="0.75" height="0.75"/><rect x="368.8" y="74.4" width="0.75" height="0.75"/><rect x="335.5" y="36.3" width="0.75" height="0.75"/><rect x="350.4" y="42.9" width="0.75" height="0.75"/><rect x="335.1" y="65.9" width="0.75" height="0.75"/><rect x="359.0" y="52.5" width="0.75" height="0.75"/><rect x="340.6" y="48.1" width="0.75" height="0.75"/><rect x="334.7" y="76.0" width="0.75" height="0.75"/><rect x="331.0" y="47.1" width="0.75" height="0.75"/><rect x="336.4" y="65.7" width="0.75" height="0.75"/><rect x="337.1" y="76.0" width="0.75" height="0.75"/><rect x="351.5" y="67.7" width="0.75" height="0.75"/><rect x="347.9" y="65.5" width="0.75" height="0.75"/><rect x="369.0" y="66.1" width="0.75" height="0.75"/><rect x="368.9" y="69.5" width="0.75" height="0.75"/><rect x="362.3" y="47.4" width="0.75" height="0.75"/></g>
<g><circle cx="350.5" cy="56.4" r="0.85" fill="#2a2ab8"/><circle cx="349.8" cy="56.1" r="0.85" fill="#c0203c"/><circle cx="351.8" cy="56.9" r="0.85" fill="#2a2ab8"/><circle cx="351.4" cy="55.5" r="0.85" fill="#c0203c"/><circle cx="350.4" cy="57.5" r="0.85" fill="#2a2ab8"/><circle cx="350.4" cy="57.1" r="0.85" fill="#c0203c"/><circle cx="352.0" cy="57.4" r="0.85" fill="#2a2ab8"/><circle cx="349.4" cy="56.3" r="0.85" fill="#c0203c"/><circle cx="352.0" cy="59.1" r="0.85" fill="#2a2ab8"/><circle cx="355.6" cy="62.3" r="0.85" fill="#c0203c"/><circle cx="351.4" cy="59.6" r="0.85" fill="#2a2ab8"/><circle cx="350.6" cy="55.7" r="0.85" fill="#c0203c"/><circle cx="347.8" cy="53.9" r="0.85" fill="#2a2ab8"/><circle cx="352.4" cy="59.2" r="0.85" fill="#c0203c"/><circle cx="350.9" cy="56.7" r="0.85" fill="#2a2ab8"/><circle cx="353.0" cy="56.4" r="0.85" fill="#c0203c"/><circle cx="350.8" cy="57.1" r="0.85" fill="#2a2ab8"/><circle cx="345.9" cy="54.8" r="0.85" fill="#c0203c"/><circle cx="348.3" cy="52.6" r="0.85" fill="#2a2ab8"/><circle cx="347.0" cy="54.4" r="0.85" fill="#c0203c"/><circle cx="348.0" cy="54.9" r="0.85" fill="#2a2ab8"/><circle cx="351.3" cy="58.0" r="0.85" fill="#c0203c"/><circle cx="348.1" cy="53.1" r="0.85" fill="#2a2ab8"/><circle cx="354.7" cy="59.5" r="0.85" fill="#c0203c"/><circle cx="348.7" cy="54.5" r="0.85" fill="#2a2ab8"/><circle cx="351.8" cy="58.5" r="0.85" fill="#c0203c"/><circle cx="352.6" cy="57.5" r="0.85" fill="#2a2ab8"/><circle cx="351.8" cy="59.1" r="0.85" fill="#c0203c"/><circle cx="345.9" cy="53.8" r="0.85" fill="#2a2ab8"/><circle cx="355.5" cy="61.3" r="0.85" fill="#c0203c"/><circle cx="349.4" cy="57.5" r="0.85" fill="#2a2ab8"/><circle cx="348.8" cy="51.8" r="0.85" fill="#c0203c"/><circle cx="348.1" cy="53.1" r="0.85" fill="#2a2ab8"/><circle cx="348.7" cy="55.6" r="0.85" fill="#c0203c"/><circle cx="351.8" cy="56.3" r="0.85" fill="#2a2ab8"/><circle cx="350.1" cy="59.0" r="0.85" fill="#c0203c"/><circle cx="352.0" cy="59.9" r="0.85" fill="#2a2ab8"/><circle cx="349.6" cy="57.2" r="0.85" fill="#c0203c"/><circle cx="347.8" cy="54.8" r="0.85" fill="#2a2ab8"/><circle cx="349.3" cy="57.0" r="0.85" fill="#c0203c"/><circle cx="352.1" cy="56.9" r="0.85" fill="#2a2ab8"/><circle cx="349.7" cy="57.6" r="0.85" fill="#c0203c"/><circle cx="348.4" cy="53.5" r="0.85" fill="#2a2ab8"/><circle cx="349.8" cy="53.7" r="0.85" fill="#c0203c"/><circle cx="351.3" cy="59.6" r="0.85" fill="#2a2ab8"/><circle cx="351.7" cy="58.5" r="0.85" fill="#c0203c"/><circle cx="350.0" cy="56.5" r="0.85" fill="#2a2ab8"/><circle cx="348.1" cy="55.4" r="0.85" fill="#c0203c"/><circle cx="351.7" cy="59.5" r="0.85" fill="#2a2ab8"/><circle cx="349.2" cy="55.3" r="0.85" fill="#c0203c"/><circle cx="348.6" cy="57.3" r="0.85" fill="#2a2ab8"/><circle cx="352.1" cy="55.7" r="0.85" fill="#c0203c"/><circle cx="349.7" cy="58.7" r="0.85" fill="#2a2ab8"/><circle cx="351.0" cy="58.7" r="0.85" fill="#c0203c"/><circle cx="351.8" cy="55.3" r="0.85" fill="#2a2ab8"/><circle cx="347.5" cy="51.5" r="0.85" fill="#c0203c"/><circle cx="349.8" cy="56.4" r="0.85" fill="#2a2ab8"/><circle cx="352.0" cy="57.9" r="0.85" fill="#c0203c"/><circle cx="352.5" cy="58.5" r="0.85" fill="#2a2ab8"/><circle cx="348.2" cy="55.4" r="0.85" fill="#c0203c"/><circle cx="350.5" cy="52.6" r="0.85" fill="#2a2ab8"/><circle cx="348.1" cy="54.1" r="0.85" fill="#c0203c"/><circle cx="344.3" cy="49.1" r="0.85" fill="#2a2ab8"/><circle cx="350.7" cy="54.8" r="0.85" fill="#c0203c"/><circle cx="347.6" cy="52.8" r="0.85" fill="#2a2ab8"/><circle cx="348.3" cy="56.1" r="0.85" fill="#c0203c"/><circle cx="352.2" cy="56.3" r="0.85" fill="#2a2ab8"/><circle cx="348.0" cy="55.0" r="0.85" fill="#c0203c"/><circle cx="353.9" cy="61.1" r="0.85" fill="#2a2ab8"/><circle cx="349.5" cy="58.4" r="0.85" fill="#c0203c"/><circle cx="350.5" cy="56.2" r="0.85" fill="#2a2ab8"/><circle cx="347.8" cy="52.9" r="0.85" fill="#c0203c"/><circle cx="355.8" cy="60.6" r="0.85" fill="#2a2ab8"/><circle cx="351.4" cy="55.6" r="0.85" fill="#c0203c"/><circle cx="349.9" cy="57.4" r="0.85" fill="#2a2ab8"/><circle cx="349.3" cy="56.4" r="0.85" fill="#c0203c"/><circle cx="351.4" cy="58.5" r="0.85" fill="#2a2ab8"/><circle cx="353.2" cy="61.0" r="0.85" fill="#c0203c"/><circle cx="350.2" cy="55.3" r="0.85" fill="#2a2ab8"/><circle cx="348.2" cy="54.9" r="0.85" fill="#c0203c"/><circle cx="347.6" cy="57.5" r="0.85" fill="#2a2ab8"/><circle cx="354.2" cy="60.6" r="0.85" fill="#c0203c"/><circle cx="348.4" cy="56.8" r="0.85" fill="#2a2ab8"/><circle cx="346.8" cy="51.8" r="0.85" fill="#c0203c"/><circle cx="352.9" cy="58.1" r="0.85" fill="#2a2ab8"/><circle cx="349.6" cy="55.2" r="0.85" fill="#c0203c"/><circle cx="351.5" cy="58.1" r="0.85" fill="#2a2ab8"/><circle cx="350.7" cy="57.8" r="0.85" fill="#c0203c"/><circle cx="349.5" cy="57.3" r="0.85" fill="#2a2ab8"/><circle cx="349.9" cy="53.9" r="0.85" fill="#c0203c"/><circle cx="347.9" cy="51.3" r="0.85" fill="#2a2ab8"/><circle cx="348.4" cy="55.9" r="0.85" fill="#c0203c"/><circle cx="351.1" cy="56.5" r="0.85" fill="#2a2ab8"/><circle cx="348.5" cy="53.7" r="0.85" fill="#c0203c"/><circle cx="349.9" cy="55.2" r="0.85" fill="#2a2ab8"/><circle cx="347.7" cy="52.9" r="0.85" fill="#c0203c"/><circle cx="354.0" cy="57.4" r="0.85" fill="#2a2ab8"/><circle cx="351.4" cy="54.6" r="0.85" fill="#c0203c"/><circle cx="351.2" cy="56.4" r="0.85" fill="#2a2ab8"/><circle cx="346.0" cy="51.7" r="0.85" fill="#c0203c"/><circle cx="353.9" cy="60.8" r="0.85" fill="#2a2ab8"/><circle cx="352.7" cy="59.1" r="0.85" fill="#c0203c"/><circle cx="345.5" cy="51.8" r="0.85" fill="#2a2ab8"/><circle cx="350.5" cy="54.6" r="0.85" fill="#c0203c"/><circle cx="351.7" cy="58.5" r="0.85" fill="#2a2ab8"/><circle cx="348.6" cy="55.9" r="0.85" fill="#c0203c"/><circle cx="348.0" cy="54.9" r="0.85" fill="#2a2ab8"/><circle cx="348.0" cy="54.7" r="0.85" fill="#c0203c"/><circle cx="347.0" cy="54.9" r="0.85" fill="#2a2ab8"/><circle cx="349.8" cy="58.0" r="0.85" fill="#c0203c"/></g>
<rect x="347.4" y="48.4" width="0.9" height="0.9" fill="#3030c0"/>
<rect x="344.0" y="75.3" width="0.9" height="0.9" fill="#3030c0"/>
<rect x="367.1" y="41.3" width="0.9" height="0.9" fill="#3030c0"/>
<rect x="391.7" y="35" width="43.0" height="42.8" fill="#eeeeee" stroke="#a8b0f4" stroke-width="0.7"/>
<g fill="#50c050" fill-opacity="0.75"><rect x="403.4" y="42.9" width="0.75" height="0.75"/><rect x="404.9" y="50.6" width="0.75" height="0.75"/><rect x="426.1" y="39.6" width="0.75" height="0.75"/><rect x="396.5" y="42.2" width="0.75" height="0.75"/><rect x="417.3" y="37.8" width="0.75" height="0.75"/><rect x="422.6" y="61.4" width="0.75" height="0.75"/><rect x="400.4" y="56.1" width="0.75" height="0.75"/><rect x="395.0" y="45.9" width="0.75" height="0.75"/><rect x="404.0" y="57.5" width="0.75" height="0.75"/><rect x="419.7" y="53.3" width="0.75" height="0.75"/><rect x="415.8" y="62.9" width="0.75" height="0.75"/><rect x="398.9" y="74.1" width="0.75" height="0.75"/><rect x="410.4" y="50.4" width="0.75" height="0.75"/><rect x="420.1" y="62.3" width="0.75" height="0.75"/><rect x="410.0" y="44.9" width="0.75" height="0.75"/><rect x="418.7" y="74.3" width="0.75" height="0.75"/><rect x="432.4" y="61.2" width="0.75" height="0.75"/><rect x="420.7" y="42.5" width="0.75" height="0.75"/><rect x="408.8" y="46.5" width="0.75" height="0.75"/><rect x="400.4" y="42.5" width="0.75" height="0.75"/><rect x="406.9" y="43.3" width="0.75" height="0.75"/><rect x="413.7" y="48.5" width="0.75" height="0.75"/><rect x="429.2" y="69.6" width="0.75" height="0.75"/><rect x="424.5" y="54.6" width="0.75" height="0.75"/><rect x="405.7" y="47.3" width="0.75" height="0.75"/><rect x="430.6" y="53.1" width="0.75" height="0.75"/><rect x="412.0" y="46.9" width="0.75" height="0.75"/><rect x="421.1" y="65.9" width="0.75" height="0.75"/><rect x="397.1" y="38.4" width="0.75" height="0.75"/><rect x="397.0" y="47.8" width="0.75" height="0.75"/><rect x="401.0" y="49.2" width="0.75" height="0.75"/><rect x="429.0" y="43.4" width="0.75" height="0.75"/><rect x="420.6" y="66.1" width="0.75" height="0.75"/><rect x="427.5" y="43.4" width="0.75" height="0.75"/><rect x="419.1" y="48.3" width="0.75" height="0.75"/><rect x="409.4" y="38.3" width="0.75" height="0.75"/><rect x="413.9" y="66.8" width="0.75" height="0.75"/><rect x="417.0" y="50.8" width="0.75" height="0.75"/><rect x="428.0" y="62.8" width="0.75" height="0.75"/><rect x="410.7" y="44.9" width="0.75" height="0.75"/><rect x="429.3" y="36.9" width="0.75" height="0.75"/><rect x="417.9" y="49.2" width="0.75" height="0.75"/><rect x="426.7" y="67.8" width="0.75" height="0.75"/><rect x="413.1" y="70.2" width="0.75" height="0.75"/><rect x="421.1" y="50.2" width="0.75" height="0.75"/><rect x="406.6" y="70.6" width="0.75" height="0.75"/><rect x="414.1" y="38.1" width="0.75" height="0.75"/><rect x="401.6" y="57.3" width="0.75" height="0.75"/><rect x="396.8" y="46.5" width="0.75" height="0.75"/><rect x="394.3" y="53.9" width="0.75" height="0.75"/><rect x="421.5" y="45.0" width="0.75" height="0.75"/><rect x="411.4" y="72.5" width="0.75" height="0.75"/><rect x="429.5" y="48.3" width="0.75" height="0.75"/><rect x="426.9" y="74.6" width="0.75" height="0.75"/><rect x="408.5" y="40.5" width="0.75" height="0.75"/><rect x="432.6" y="53.5" width="0.75" height="0.75"/><rect x="417.0" y="54.1" width="0.75" height="0.75"/><rect x="424.1" y="64.9" width="0.75" height="0.75"/><rect x="409.4" y="50.1" width="0.75" height="0.75"/><rect x="400.7" y="56.1" width="0.75" height="0.75"/><rect x="399.7" y="38.9" width="0.75" height="0.75"/><rect x="400.1" y="48.7" width="0.75" height="0.75"/><rect x="417.5" y="65.6" width="0.75" height="0.75"/><rect x="397.3" y="40.3" width="0.75" height="0.75"/><rect x="393.5" y="54.9" width="0.75" height="0.75"/><rect x="426.9" y="45.7" width="0.75" height="0.75"/><rect x="396.8" y="42.8" width="0.75" height="0.75"/><rect x="411.2" y="40.9" width="0.75" height="0.75"/><rect x="412.7" y="69.2" width="0.75" height="0.75"/><rect x="418.1" y="64.0" width="0.75" height="0.75"/><rect x="413.4" y="51.5" width="0.75" height="0.75"/><rect x="431.1" y="52.0" width="0.75" height="0.75"/><rect x="423.5" y="65.7" width="0.75" height="0.75"/><rect x="416.3" y="60.6" width="0.75" height="0.75"/><rect x="418.0" y="73.4" width="0.75" height="0.75"/><rect x="413.5" y="73.5" width="0.75" height="0.75"/><rect x="432.3" y="55.7" width="0.75" height="0.75"/><rect x="402.0" y="62.9" width="0.75" height="0.75"/><rect x="421.0" y="58.2" width="0.75" height="0.75"/><rect x="415.5" y="48.7" width="0.75" height="0.75"/><rect x="394.4" y="54.5" width="0.75" height="0.75"/><rect x="404.8" y="65.4" width="0.75" height="0.75"/><rect x="430.7" y="58.5" width="0.75" height="0.75"/><rect x="424.9" y="61.8" width="0.75" height="0.75"/><rect x="393.2" y="55.9" width="0.75" height="0.75"/><rect x="404.9" y="74.9" width="0.75" height="0.75"/><rect x="393.1" y="67.7" width="0.75" height="0.75"/><rect x="426.6" y="41.3" width="0.75" height="0.75"/><rect x="397.2" y="69.2" width="0.75" height="0.75"/><rect x="395.1" y="73.4" width="0.75" height="0.75"/><rect x="433.0" y="69.3" width="0.75" height="0.75"/><rect x="411.0" y="50.0" width="0.75" height="0.75"/><rect x="405.8" y="51.0" width="0.75" height="0.75"/><rect x="394.7" y="45.9" width="0.75" height="0.75"/><rect x="408.7" y="38.3" width="0.75" height="0.75"/><rect x="407.7" y="55.3" width="0.75" height="0.75"/><rect x="414.2" y="70.7" width="0.75" height="0.75"/><rect x="393.0" y="67.4" width="0.75" height="0.75"/><rect x="398.8" y="63.0" width="0.75" height="0.75"/><rect x="401.3" y="70.6" width="0.75" height="0.75"/><rect x="410.8" y="62.9" width="0.75" height="0.75"/><rect x="405.1" y="45.1" width="0.75" height="0.75"/><rect x="417.8" y="68.8" width="0.75" height="0.75"/><rect x="404.4" y="51.0" width="0.75" height="0.75"/><rect x="430.0" y="72.3" width="0.75" height="0.75"/><rect x="432.1" y="49.3" width="0.75" height="0.75"/><rect x="395.1" y="39.7" width="0.75" height="0.75"/><rect x="401.3" y="65.8" width="0.75" height="0.75"/><rect x="415.8" y="40.4" width="0.75" height="0.75"/><rect x="424.3" y="71.5" width="0.75" height="0.75"/><rect x="395.3" y="52.8" width="0.75" height="0.75"/><rect x="400.3" y="67.8" width="0.75" height="0.75"/><rect x="411.4" y="38.1" width="0.75" height="0.75"/><rect x="420.1" y="58.2" width="0.75" height="0.75"/><rect x="429.7" y="63.6" width="0.75" height="0.75"/><rect x="428.2" y="41.3" width="0.75" height="0.75"/><rect x="425.2" y="60.8" width="0.75" height="0.75"/><rect x="394.9" y="41.8" width="0.75" height="0.75"/><rect x="432.7" y="48.4" width="0.75" height="0.75"/><rect x="417.9" y="50.9" width="0.75" height="0.75"/><rect x="396.2" y="61.3" width="0.75" height="0.75"/><rect x="403.2" y="41.3" width="0.75" height="0.75"/><rect x="418.2" y="43.5" width="0.75" height="0.75"/><rect x="408.5" y="67.9" width="0.75" height="0.75"/><rect x="411.0" y="65.2" width="0.75" height="0.75"/><rect x="425.7" y="54.5" width="0.75" height="0.75"/><rect x="426.5" y="47.5" width="0.75" height="0.75"/><rect x="415.1" y="64.2" width="0.75" height="0.75"/><rect x="425.2" y="55.1" width="0.75" height="0.75"/><rect x="409.3" y="48.7" width="0.75" height="0.75"/><rect x="432.7" y="71.7" width="0.75" height="0.75"/><rect x="417.5" y="44.2" width="0.75" height="0.75"/><rect x="432.4" y="68.8" width="0.75" height="0.75"/><rect x="394.5" y="61.2" width="0.75" height="0.75"/><rect x="428.9" y="62.4" width="0.75" height="0.75"/><rect x="415.6" y="63.8" width="0.75" height="0.75"/><rect x="422.0" y="66.5" width="0.75" height="0.75"/><rect x="400.6" y="71.9" width="0.75" height="0.75"/><rect x="415.2" y="73.6" width="0.75" height="0.75"/><rect x="404.6" y="46.4" width="0.75" height="0.75"/><rect x="397.0" y="42.7" width="0.75" height="0.75"/><rect x="392.8" y="72.6" width="0.75" height="0.75"/><rect x="429.9" y="44.3" width="0.75" height="0.75"/><rect x="420.2" y="45.1" width="0.75" height="0.75"/><rect x="401.1" y="68.9" width="0.75" height="0.75"/><rect x="403.3" y="75.4" width="0.75" height="0.75"/><rect x="411.8" y="70.5" width="0.75" height="0.75"/><rect x="426.2" y="57.1" width="0.75" height="0.75"/><rect x="397.5" y="51.3" width="0.75" height="0.75"/><rect x="432.4" y="76.3" width="0.75" height="0.75"/><rect x="431.4" y="66.0" width="0.75" height="0.75"/><rect x="402.7" y="61.7" width="0.75" height="0.75"/><rect x="419.0" y="36.5" width="0.75" height="0.75"/><rect x="407.5" y="44.0" width="0.75" height="0.75"/><rect x="421.3" y="36.6" width="0.75" height="0.75"/><rect x="396.3" y="73.0" width="0.75" height="0.75"/><rect x="412.0" y="45.6" width="0.75" height="0.75"/><rect x="416.8" y="43.0" width="0.75" height="0.75"/><rect x="418.4" y="59.8" width="0.75" height="0.75"/><rect x="421.1" y="44.3" width="0.75" height="0.75"/><rect x="429.2" y="58.3" width="0.75" height="0.75"/><rect x="402.6" y="74.8" width="0.75" height="0.75"/><rect x="399.0" y="71.2" width="0.75" height="0.75"/><rect x="408.7" y="46.0" width="0.75" height="0.75"/><rect x="416.0" y="73.4" width="0.75" height="0.75"/><rect x="432.1" y="52.3" width="0.75" height="0.75"/><rect x="421.8" y="57.3" width="0.75" height="0.75"/><rect x="423.0" y="49.3" width="0.75" height="0.75"/><rect x="432.6" y="76.8" width="0.75" height="0.75"/><rect x="403.7" y="48.5" width="0.75" height="0.75"/><rect x="403.3" y="66.1" width="0.75" height="0.75"/><rect x="410.0" y="61.3" width="0.75" height="0.75"/><rect x="404.8" y="64.1" width="0.75" height="0.75"/><rect x="419.4" y="40.2" width="0.75" height="0.75"/><rect x="431.7" y="57.9" width="0.75" height="0.75"/><rect x="399.0" y="76.7" width="0.75" height="0.75"/><rect x="413.9" y="59.0" width="0.75" height="0.75"/><rect x="420.5" y="44.0" width="0.75" height="0.75"/><rect x="412.9" y="38.1" width="0.75" height="0.75"/><rect x="430.2" y="49.5" width="0.75" height="0.75"/><rect x="422.9" y="66.4" width="0.75" height="0.75"/><rect x="428.9" y="37.0" width="0.75" height="0.75"/><rect x="397.3" y="38.0" width="0.75" height="0.75"/><rect x="400.7" y="62.8" width="0.75" height="0.75"/><rect x="395.4" y="72.0" width="0.75" height="0.75"/><rect x="426.7" y="53.9" width="0.75" height="0.75"/><rect x="432.2" y="61.5" width="0.75" height="0.75"/><rect x="393.3" y="46.5" width="0.75" height="0.75"/><rect x="425.1" y="47.1" width="0.75" height="0.75"/><rect x="422.5" y="55.4" width="0.75" height="0.75"/><rect x="429.9" y="44.9" width="0.75" height="0.75"/><rect x="403.8" y="54.5" width="0.75" height="0.75"/><rect x="422.0" y="42.1" width="0.75" height="0.75"/><rect x="402.4" y="73.7" width="0.75" height="0.75"/><rect x="395.8" y="62.4" width="0.75" height="0.75"/><rect x="423.3" y="39.8" width="0.75" height="0.75"/><rect x="394.4" y="43.9" width="0.75" height="0.75"/><rect x="421.4" y="69.8" width="0.75" height="0.75"/><rect x="404.3" y="51.2" width="0.75" height="0.75"/><rect x="412.7" y="46.6" width="0.75" height="0.75"/><rect x="429.3" y="37.0" width="0.75" height="0.75"/><rect x="402.7" y="63.5" width="0.75" height="0.75"/><rect x="411.9" y="59.3" width="0.75" height="0.75"/><rect x="407.3" y="70.3" width="0.75" height="0.75"/><rect x="400.5" y="42.9" width="0.75" height="0.75"/><rect x="412.1" y="66.7" width="0.75" height="0.75"/><rect x="400.1" y="69.7" width="0.75" height="0.75"/><rect x="425.5" y="69.6" width="0.75" height="0.75"/><rect x="417.9" y="66.5" width="0.75" height="0.75"/><rect x="404.3" y="54.0" width="0.75" height="0.75"/><rect x="432.6" y="37.9" width="0.75" height="0.75"/><rect x="406.9" y="62.3" width="0.75" height="0.75"/><rect x="420.2" y="37.0" width="0.75" height="0.75"/><rect x="422.8" y="39.5" width="0.75" height="0.75"/><rect x="403.6" y="52.7" width="0.75" height="0.75"/><rect x="393.2" y="40.9" width="0.75" height="0.75"/><rect x="429.3" y="54.4" width="0.75" height="0.75"/><rect x="431.9" y="70.7" width="0.75" height="0.75"/><rect x="399.7" y="43.1" width="0.75" height="0.75"/><rect x="399.0" y="68.6" width="0.75" height="0.75"/><rect x="410.4" y="76.7" width="0.75" height="0.75"/><rect x="417.2" y="37.5" width="0.75" height="0.75"/><rect x="433.2" y="53.3" width="0.75" height="0.75"/><rect x="432.2" y="64.9" width="0.75" height="0.75"/><rect x="433.2" y="65.9" width="0.75" height="0.75"/><rect x="402.8" y="47.4" width="0.75" height="0.75"/><rect x="417.3" y="69.0" width="0.75" height="0.75"/><rect x="410.6" y="51.1" width="0.75" height="0.75"/><rect x="402.2" y="44.2" width="0.75" height="0.75"/><rect x="395.4" y="57.1" width="0.75" height="0.75"/></g>
<g><circle cx="416.2" cy="54.1" r="0.85" fill="#2a2ab8"/><circle cx="411.7" cy="54.8" r="0.85" fill="#c0203c"/><circle cx="409.7" cy="54.1" r="0.85" fill="#2a2ab8"/><circle cx="410.7" cy="57.3" r="0.85" fill="#c0203c"/><circle cx="412.5" cy="55.5" r="0.85" fill="#2a2ab8"/><circle cx="414.1" cy="57.0" r="0.85" fill="#c0203c"/><circle cx="412.3" cy="56.9" r="0.85" fill="#2a2ab8"/><circle cx="410.9" cy="57.2" r="0.85" fill="#c0203c"/><circle cx="413.9" cy="55.9" r="0.85" fill="#2a2ab8"/><circle cx="409.9" cy="58.5" r="0.85" fill="#c0203c"/><circle cx="412.5" cy="61.1" r="0.85" fill="#2a2ab8"/><circle cx="411.2" cy="57.6" r="0.85" fill="#c0203c"/><circle cx="411.8" cy="56.7" r="0.85" fill="#2a2ab8"/><circle cx="414.7" cy="55.4" r="0.85" fill="#c0203c"/><circle cx="412.6" cy="56.6" r="0.85" fill="#2a2ab8"/><circle cx="413.0" cy="57.3" r="0.85" fill="#c0203c"/><circle cx="414.9" cy="57.9" r="0.85" fill="#2a2ab8"/><circle cx="413.4" cy="55.9" r="0.85" fill="#c0203c"/><circle cx="410.4" cy="55.0" r="0.85" fill="#2a2ab8"/><circle cx="411.5" cy="57.3" r="0.85" fill="#c0203c"/><circle cx="412.2" cy="54.4" r="0.85" fill="#2a2ab8"/><circle cx="414.3" cy="55.3" r="0.85" fill="#c0203c"/><circle cx="411.2" cy="55.9" r="0.85" fill="#2a2ab8"/><circle cx="414.2" cy="52.8" r="0.85" fill="#c0203c"/><circle cx="410.3" cy="56.4" r="0.85" fill="#2a2ab8"/><circle cx="412.1" cy="55.0" r="0.85" fill="#c0203c"/><circle cx="411.4" cy="58.4" r="0.85" fill="#2a2ab8"/><circle cx="411.7" cy="57.4" r="0.85" fill="#c0203c"/><circle cx="414.6" cy="55.9" r="0.85" fill="#2a2ab8"/><circle cx="413.8" cy="55.8" r="0.85" fill="#c0203c"/><circle cx="411.6" cy="54.5" r="0.85" fill="#2a2ab8"/><circle cx="414.8" cy="56.0" r="0.85" fill="#c0203c"/><circle cx="411.8" cy="54.6" r="0.85" fill="#2a2ab8"/><circle cx="416.6" cy="57.9" r="0.85" fill="#c0203c"/><circle cx="412.6" cy="55.3" r="0.85" fill="#2a2ab8"/><circle cx="409.4" cy="56.5" r="0.85" fill="#c0203c"/><circle cx="413.6" cy="54.3" r="0.85" fill="#2a2ab8"/><circle cx="415.2" cy="57.8" r="0.85" fill="#c0203c"/><circle cx="410.8" cy="55.3" r="0.85" fill="#2a2ab8"/><circle cx="411.8" cy="56.6" r="0.85" fill="#c0203c"/><circle cx="412.7" cy="53.9" r="0.85" fill="#2a2ab8"/><circle cx="416.0" cy="57.2" r="0.85" fill="#c0203c"/><circle cx="415.4" cy="58.6" r="0.85" fill="#2a2ab8"/><circle cx="412.3" cy="56.9" r="0.85" fill="#c0203c"/><circle cx="414.3" cy="57.7" r="0.85" fill="#2a2ab8"/><circle cx="412.5" cy="55.4" r="0.85" fill="#c0203c"/><circle cx="413.0" cy="55.2" r="0.85" fill="#2a2ab8"/><circle cx="411.9" cy="53.2" r="0.85" fill="#c0203c"/><circle cx="413.1" cy="54.8" r="0.85" fill="#2a2ab8"/><circle cx="411.6" cy="56.2" r="0.85" fill="#c0203c"/><circle cx="413.2" cy="59.4" r="0.85" fill="#2a2ab8"/><circle cx="413.5" cy="54.3" r="0.85" fill="#c0203c"/><circle cx="413.2" cy="55.5" r="0.85" fill="#2a2ab8"/><circle cx="413.8" cy="55.4" r="0.85" fill="#c0203c"/><circle cx="411.3" cy="55.5" r="0.85" fill="#2a2ab8"/><circle cx="411.7" cy="53.5" r="0.85" fill="#c0203c"/><circle cx="411.3" cy="56.2" r="0.85" fill="#2a2ab8"/><circle cx="415.5" cy="56.2" r="0.85" fill="#c0203c"/><circle cx="411.9" cy="57.2" r="0.85" fill="#2a2ab8"/><circle cx="413.7" cy="59.0" r="0.85" fill="#c0203c"/><circle cx="414.1" cy="56.5" r="0.85" fill="#2a2ab8"/><circle cx="415.5" cy="59.0" r="0.85" fill="#c0203c"/><circle cx="411.7" cy="56.5" r="0.85" fill="#2a2ab8"/><circle cx="409.2" cy="55.5" r="0.85" fill="#c0203c"/><circle cx="410.9" cy="55.9" r="0.85" fill="#2a2ab8"/><circle cx="411.8" cy="56.0" r="0.85" fill="#c0203c"/><circle cx="412.5" cy="57.1" r="0.85" fill="#2a2ab8"/><circle cx="413.4" cy="55.6" r="0.85" fill="#c0203c"/><circle cx="409.8" cy="58.0" r="0.85" fill="#2a2ab8"/><circle cx="416.0" cy="56.0" r="0.85" fill="#c0203c"/><circle cx="414.3" cy="54.2" r="0.85" fill="#2a2ab8"/><circle cx="409.4" cy="55.6" r="0.85" fill="#c0203c"/><circle cx="416.2" cy="55.1" r="0.85" fill="#2a2ab8"/><circle cx="410.7" cy="58.7" r="0.85" fill="#c0203c"/><circle cx="408.6" cy="57.0" r="0.85" fill="#2a2ab8"/><circle cx="413.9" cy="56.2" r="0.85" fill="#c0203c"/><circle cx="412.8" cy="60.5" r="0.85" fill="#2a2ab8"/><circle cx="410.4" cy="55.7" r="0.85" fill="#c0203c"/><circle cx="412.4" cy="55.3" r="0.85" fill="#2a2ab8"/><circle cx="409.6" cy="58.5" r="0.85" fill="#c0203c"/><circle cx="413.6" cy="53.8" r="0.85" fill="#2a2ab8"/><circle cx="411.2" cy="56.9" r="0.85" fill="#c0203c"/><circle cx="413.9" cy="54.3" r="0.85" fill="#2a2ab8"/><circle cx="412.6" cy="56.8" r="0.85" fill="#c0203c"/><circle cx="413.6" cy="57.1" r="0.85" fill="#2a2ab8"/><circle cx="408.5" cy="58.8" r="0.85" fill="#c0203c"/><circle cx="413.0" cy="59.2" r="0.85" fill="#2a2ab8"/><circle cx="419.1" cy="56.8" r="0.85" fill="#c0203c"/><circle cx="410.0" cy="57.5" r="0.85" fill="#2a2ab8"/><circle cx="412.5" cy="55.7" r="0.85" fill="#c0203c"/><circle cx="410.3" cy="58.8" r="0.85" fill="#2a2ab8"/><circle cx="412.0" cy="54.2" r="0.85" fill="#c0203c"/><circle cx="412.0" cy="54.5" r="0.85" fill="#2a2ab8"/><circle cx="413.2" cy="55.8" r="0.85" fill="#c0203c"/><circle cx="410.4" cy="57.1" r="0.85" fill="#2a2ab8"/><circle cx="411.3" cy="57.4" r="0.85" fill="#c0203c"/><circle cx="415.6" cy="56.1" r="0.85" fill="#2a2ab8"/><circle cx="411.4" cy="56.6" r="0.85" fill="#c0203c"/><circle cx="414.8" cy="56.6" r="0.85" fill="#2a2ab8"/><circle cx="413.1" cy="56.4" r="0.85" fill="#c0203c"/><circle cx="413.4" cy="57.4" r="0.85" fill="#2a2ab8"/><circle cx="411.3" cy="55.5" r="0.85" fill="#c0203c"/><circle cx="413.0" cy="55.4" r="0.85" fill="#2a2ab8"/><circle cx="413.0" cy="57.3" r="0.85" fill="#c0203c"/><circle cx="412.8" cy="55.5" r="0.85" fill="#2a2ab8"/><circle cx="410.8" cy="58.9" r="0.85" fill="#c0203c"/><circle cx="414.9" cy="54.9" r="0.85" fill="#2a2ab8"/><circle cx="410.7" cy="59.1" r="0.85" fill="#c0203c"/><circle cx="416.1" cy="56.9" r="0.85" fill="#2a2ab8"/><circle cx="415.6" cy="54.4" r="0.85" fill="#c0203c"/></g>
<rect x="404.0" y="60.6" width="0.9" height="0.9" fill="#3030c0"/>
<rect x="425.4" y="41.8" width="0.9" height="0.9" fill="#3030c0"/>
<rect x="410.1" y="59.8" width="0.9" height="0.9" fill="#3030c0"/>
<polyline points="306.8,60.5 307.2,60.5 307.2,51.0 308.7,51.0 308.7,35.0 320.2,35.0 320.2,19.1 440.4,19.1" fill="none" stroke="#ff2020" stroke-width="1.6" stroke-linejoin="round" />
<polyline points="306.8,72.0 307.2,72.0 307.2,61.8 307.8,61.8 307.8,57.3 308.3,57.3 308.3,52.9 309.1,52.9 309.1,49.7 310.2,49.7 310.2,47.1 311.6,47.1 311.6,45.2 313.5,45.2 313.5,44.0 316.3,44.0 316.3,42.0 320.2,42.0 320.2,22.3 335.4,22.3 335.4,21.7 345.0,21.7 345.0,20.4 348.8,20.4 348.8,19.1 440.4,19.1" fill="none" stroke="#2020ff" stroke-width="1.6" stroke-linejoin="round" />
<line x1="324.5" y1="22.4" x2="334.6" y2="34.8" stroke="#000" stroke-width="1.3" />
<polygon points="339.0,40.2 331.0,36.4 334.7,34.9 336.9,31.6" fill="#000"/>
<line x1="440.2" y1="19.5" x2="421.0" y2="40.2" stroke="#000" stroke-width="1.3" />
<polygon points="416.2,45.3 418.9,36.9 420.8,40.3 424.4,42.0" fill="#000"/>
<rect x="306.8" y="3.2" width="133.6" height="79.6" fill="none" stroke="#000" stroke-width="1.3"/>
<line x1="303.8" y1="82.8" x2="306.8" y2="82.8" stroke="#000" stroke-width="1" />
<text x="301.0" y="85.6" font-size="7.6" font-family="'DejaVu Sans', 'Liberation Sans', sans-serif" fill="#222" text-anchor="end" >0.00</text>
<line x1="303.8" y1="66.9" x2="306.8" y2="66.9" stroke="#000" stroke-width="1" />
<text x="301.0" y="69.7" font-size="7.6" font-family="'DejaVu Sans', 'Liberation Sans', sans-serif" fill="#222" text-anchor="end" >0.25</text>
<line x1="303.8" y1="51.0" x2="306.8" y2="51.0" stroke="#000" stroke-width="1" />
<text x="301.0" y="53.8" font-size="7.6" font-family="'DejaVu Sans', 'Liberation Sans', sans-serif" fill="#222" text-anchor="end" >0.50</text>
<line x1="303.8" y1="35.0" x2="306.8" y2="35.0" stroke="#000" stroke-width="1" />
<text x="301.0" y="37.8" font-size="7.6" font-family="'DejaVu Sans', 'Liberation Sans', sans-serif" fill="#222" text-anchor="end" >0.75</text>
<line x1="303.8" y1="19.1" x2="306.8" y2="19.1" stroke="#000" stroke-width="1" />
<text x="301.0" y="21.9" font-size="7.6" font-family="'DejaVu Sans', 'Liberation Sans', sans-serif" fill="#222" text-anchor="end" >1.00</text>
<line x1="303.8" y1="3.2" x2="306.8" y2="3.2" stroke="#000" stroke-width="1" />
<text x="301.0" y="6.0" font-size="7.6" font-family="'DejaVu Sans', 'Liberation Sans', sans-serif" fill="#222" text-anchor="end" >1.25</text>
<line x1="306.8" y1="82.8" x2="306.8" y2="85.8" stroke="#000" stroke-width="1" />
<text x="306.8" y="93.4" font-size="7.3" font-family="'DejaVu Sans', 'Liberation Sans', sans-serif" fill="#222" text-anchor="middle" >0</text>
<line x1="325.9" y1="82.8" x2="325.9" y2="85.8" stroke="#000" stroke-width="1" />
<text x="325.9" y="93.4" font-size="7.3" font-family="'DejaVu Sans', 'Liberation Sans', sans-serif" fill="#222" text-anchor="middle" >1</text>
<line x1="345.0" y1="82.8" x2="345.0" y2="85.8" stroke="#000" stroke-width="1" />
<text x="345.0" y="93.4" font-size="7.3" font-family="'DejaVu Sans', 'Liberation Sans', sans-serif" fill="#222" text-anchor="middle" >2</text>
<line x1="364.1" y1="82.8" x2="364.1" y2="85.8" stroke="#000" stroke-width="1" />
<text x="364.1" y="93.4" font-size="7.3" font-family="'DejaVu Sans', 'Liberation Sans', sans-serif" fill="#222" text-anchor="middle" >3</text>
<line x1="383.1" y1="82.8" x2="383.1" y2="85.8" stroke="#000" stroke-width="1" />
<text x="383.1" y="93.4" font-size="7.3" font-family="'DejaVu Sans', 'Liberation Sans', sans-serif" fill="#222" text-anchor="middle" >4</text>
<line x1="402.2" y1="82.8" x2="402.2" y2="85.8" stroke="#000" stroke-width="1" />
<text x="402.2" y="93.4" font-size="7.3" font-family="'DejaVu Sans', 'Liberation Sans', sans-serif" fill="#222" text-anchor="middle" >5</text>
<line x1="421.3" y1="82.8" x2="421.3" y2="85.8" stroke="#000" stroke-width="1" />
<text x="421.3" y="93.4" font-size="7.3" font-family="'DejaVu Sans', 'Liberation Sans', sans-serif" fill="#222" text-anchor="middle" >6</text>
<line x1="440.4" y1="82.8" x2="440.4" y2="85.8" stroke="#000" stroke-width="1" />
<text x="440.4" y="93.4" font-size="7.3" font-family="'DejaVu Sans', 'Liberation Sans', sans-serif" fill="#222" text-anchor="middle" >7</text>
<text x="320.5" y="15.2" font-size="12.5" font-family="'Liberation Serif', 'DejaVu Serif', serif" fill="#000" textLength="58" lengthAdjust="spacingAndGlyphs" >Supernatant</text>
<text x="406.3" y="13.7" font-size="9.5" font-family="'Liberation Serif', 'DejaVu Serif', serif" fill="#ff2020" font-weight="bold" textLength="27.2" lengthAdjust="spacingAndGlyphs" >PDDA</text>
<text x="410.8" y="28.9" font-size="9.5" font-family="'Liberation Serif', 'DejaVu Serif', serif" fill="#2020ff" font-weight="bold" textLength="18.9" lengthAdjust="spacingAndGlyphs" >ATP</text>
<rect x="361.5" y="118.2" width="56.0" height="55.8" fill="#eeeeee" stroke="#a8b0f4" stroke-width="0.7"/>
<g fill="#50c050" fill-opacity="0.75"><rect x="367.1" y="147.5" width="0.75" height="0.75"/><rect x="375.3" y="171.8" width="0.75" height="0.75"/><rect x="405.8" y="147.3" width="0.75" height="0.75"/><rect x="393.9" y="123.7" width="0.75" height="0.75"/><rect x="367.6" y="123.2" width="0.75" height="0.75"/><rect x="385.9" y="151.2" width="0.75" height="0.75"/><rect x="388.4" y="158.6" width="0.75" height="0.75"/><rect x="371.1" y="153.0" width="0.75" height="0.75"/><rect x="402.2" y="159.2" width="0.75" height="0.75"/><rect x="368.6" y="135.0" width="0.75" height="0.75"/><rect x="383.6" y="139.2" width="0.75" height="0.75"/><rect x="390.4" y="133.5" width="0.75" height="0.75"/><rect x="385.8" y="139.2" width="0.75" height="0.75"/><rect x="394.2" y="133.5" width="0.75" height="0.75"/><rect x="402.3" y="164.1" width="0.75" height="0.75"/><rect x="414.1" y="127.2" width="0.75" height="0.75"/><rect x="377.8" y="130.4" width="0.75" height="0.75"/><rect x="397.5" y="157.6" width="0.75" height="0.75"/><rect x="400.1" y="140.6" width="0.75" height="0.75"/><rect x="378.3" y="137.6" width="0.75" height="0.75"/><rect x="362.6" y="171.6" width="0.75" height="0.75"/><rect x="415.1" y="167.3" width="0.75" height="0.75"/><rect x="378.6" y="131.0" width="0.75" height="0.75"/><rect x="379.5" y="127.6" width="0.75" height="0.75"/><rect x="410.7" y="145.7" width="0.75" height="0.75"/><rect x="394.1" y="150.1" width="0.75" height="0.75"/><rect x="388.0" y="137.9" width="0.75" height="0.75"/><rect x="404.3" y="151.0" width="0.75" height="0.75"/><rect x="364.1" y="155.7" width="0.75" height="0.75"/><rect x="400.7" y="163.0" width="0.75" height="0.75"/><rect x="382.7" y="132.2" width="0.75" height="0.75"/><rect x="367.4" y="153.9" width="0.75" height="0.75"/><rect x="398.2" y="122.3" width="0.75" height="0.75"/><rect x="412.8" y="122.7" width="0.75" height="0.75"/><rect x="373.7" y="122.2" width="0.75" height="0.75"/><rect x="396.5" y="125.5" width="0.75" height="0.75"/><rect x="378.6" y="161.3" width="0.75" height="0.75"/><rect x="402.6" y="139.2" width="0.75" height="0.75"/><rect x="401.5" y="145.7" width="0.75" height="0.75"/><rect x="374.3" y="143.5" width="0.75" height="0.75"/><rect x="407.3" y="130.3" width="0.75" height="0.75"/><rect x="398.0" y="121.7" width="0.75" height="0.75"/><rect x="399.4" y="129.0" width="0.75" height="0.75"/><rect x="406.8" y="165.4" width="0.75" height="0.75"/><rect x="385.6" y="137.4" width="0.75" height="0.75"/><rect x="403.5" y="141.8" width="0.75" height="0.75"/><rect x="409.9" y="133.4" width="0.75" height="0.75"/><rect x="368.0" y="159.1" width="0.75" height="0.75"/><rect x="408.4" y="157.0" width="0.75" height="0.75"/><rect x="383.8" y="139.9" width="0.75" height="0.75"/><rect x="388.4" y="146.4" width="0.75" height="0.75"/><rect x="370.4" y="140.5" width="0.75" height="0.75"/><rect x="400.2" y="150.0" width="0.75" height="0.75"/><rect x="378.3" y="151.1" width="0.75" height="0.75"/><rect x="409.5" y="150.3" width="0.75" height="0.75"/><rect x="377.4" y="167.7" width="0.75" height="0.75"/><rect x="392.8" y="170.3" width="0.75" height="0.75"/><rect x="384.1" y="122.0" width="0.75" height="0.75"/><rect x="395.6" y="139.6" width="0.75" height="0.75"/><rect x="373.1" y="121.4" width="0.75" height="0.75"/><rect x="372.2" y="139.4" width="0.75" height="0.75"/><rect x="402.8" y="162.4" width="0.75" height="0.75"/><rect x="403.1" y="155.8" width="0.75" height="0.75"/><rect x="393.1" y="149.7" width="0.75" height="0.75"/><rect x="412.2" y="123.8" width="0.75" height="0.75"/><rect x="373.6" y="162.9" width="0.75" height="0.75"/><rect x="408.4" y="152.1" width="0.75" height="0.75"/><rect x="371.6" y="135.5" width="0.75" height="0.75"/><rect x="414.6" y="161.5" width="0.75" height="0.75"/><rect x="396.2" y="121.3" width="0.75" height="0.75"/><rect x="395.3" y="129.3" width="0.75" height="0.75"/><rect x="414.9" y="161.7" width="0.75" height="0.75"/><rect x="405.0" y="121.7" width="0.75" height="0.75"/><rect x="405.2" y="126.3" width="0.75" height="0.75"/><rect x="365.4" y="146.2" width="0.75" height="0.75"/><rect x="382.4" y="157.4" width="0.75" height="0.75"/><rect x="367.1" y="150.9" width="0.75" height="0.75"/><rect x="373.0" y="121.2" width="0.75" height="0.75"/><rect x="374.0" y="134.0" width="0.75" height="0.75"/><rect x="408.9" y="157.2" width="0.75" height="0.75"/><rect x="369.3" y="137.9" width="0.75" height="0.75"/><rect x="378.5" y="129.6" width="0.75" height="0.75"/><rect x="389.1" y="119.3" width="0.75" height="0.75"/><rect x="408.4" y="133.3" width="0.75" height="0.75"/><rect x="414.6" y="169.3" width="0.75" height="0.75"/><rect x="400.7" y="121.9" width="0.75" height="0.75"/><rect x="374.0" y="149.0" width="0.75" height="0.75"/><rect x="391.9" y="168.1" width="0.75" height="0.75"/><rect x="400.6" y="156.9" width="0.75" height="0.75"/><rect x="365.3" y="134.3" width="0.75" height="0.75"/><rect x="399.2" y="154.1" width="0.75" height="0.75"/><rect x="382.4" y="125.6" width="0.75" height="0.75"/><rect x="394.3" y="146.0" width="0.75" height="0.75"/><rect x="398.7" y="133.4" width="0.75" height="0.75"/><rect x="398.6" y="166.3" width="0.75" height="0.75"/><rect x="390.7" y="165.8" width="0.75" height="0.75"/><rect x="392.5" y="160.2" width="0.75" height="0.75"/><rect x="373.2" y="139.4" width="0.75" height="0.75"/><rect x="389.2" y="162.1" width="0.75" height="0.75"/><rect x="369.3" y="171.9" width="0.75" height="0.75"/><rect x="388.5" y="139.1" width="0.75" height="0.75"/><rect x="391.5" y="147.5" width="0.75" height="0.75"/><rect x="404.3" y="127.9" width="0.75" height="0.75"/><rect x="383.8" y="125.0" width="0.75" height="0.75"/><rect x="363.6" y="157.9" width="0.75" height="0.75"/><rect x="391.0" y="122.4" width="0.75" height="0.75"/><rect x="373.6" y="151.6" width="0.75" height="0.75"/><rect x="402.5" y="125.3" width="0.75" height="0.75"/><rect x="383.5" y="155.2" width="0.75" height="0.75"/><rect x="383.0" y="159.7" width="0.75" height="0.75"/><rect x="411.6" y="169.8" width="0.75" height="0.75"/><rect x="383.7" y="140.2" width="0.75" height="0.75"/><rect x="381.3" y="140.2" width="0.75" height="0.75"/><rect x="381.3" y="140.7" width="0.75" height="0.75"/><rect x="388.5" y="157.2" width="0.75" height="0.75"/><rect x="367.5" y="161.6" width="0.75" height="0.75"/><rect x="392.0" y="125.4" width="0.75" height="0.75"/><rect x="412.3" y="136.7" width="0.75" height="0.75"/><rect x="392.9" y="122.2" width="0.75" height="0.75"/><rect x="402.7" y="131.8" width="0.75" height="0.75"/><rect x="413.6" y="158.7" width="0.75" height="0.75"/><rect x="408.0" y="169.6" width="0.75" height="0.75"/><rect x="402.7" y="171.9" width="0.75" height="0.75"/><rect x="406.4" y="122.9" width="0.75" height="0.75"/><rect x="406.8" y="140.8" width="0.75" height="0.75"/><rect x="376.2" y="166.1" width="0.75" height="0.75"/><rect x="388.5" y="146.4" width="0.75" height="0.75"/><rect x="381.0" y="138.0" width="0.75" height="0.75"/><rect x="376.6" y="161.3" width="0.75" height="0.75"/><rect x="393.4" y="165.7" width="0.75" height="0.75"/><rect x="379.7" y="127.1" width="0.75" height="0.75"/><rect x="395.9" y="147.0" width="0.75" height="0.75"/><rect x="394.0" y="127.1" width="0.75" height="0.75"/><rect x="368.1" y="128.9" width="0.75" height="0.75"/><rect x="386.4" y="147.7" width="0.75" height="0.75"/><rect x="383.6" y="132.8" width="0.75" height="0.75"/><rect x="400.7" y="162.5" width="0.75" height="0.75"/><rect x="367.3" y="138.9" width="0.75" height="0.75"/><rect x="371.6" y="129.0" width="0.75" height="0.75"/><rect x="390.2" y="153.1" width="0.75" height="0.75"/><rect x="384.3" y="133.3" width="0.75" height="0.75"/><rect x="398.4" y="122.8" width="0.75" height="0.75"/><rect x="380.5" y="173.0" width="0.75" height="0.75"/><rect x="373.1" y="129.1" width="0.75" height="0.75"/><rect x="412.8" y="126.3" width="0.75" height="0.75"/><rect x="375.7" y="145.1" width="0.75" height="0.75"/><rect x="370.4" y="119.4" width="0.75" height="0.75"/><rect x="377.6" y="161.7" width="0.75" height="0.75"/><rect x="380.8" y="123.2" width="0.75" height="0.75"/><rect x="374.7" y="121.3" width="0.75" height="0.75"/><rect x="391.5" y="171.2" width="0.75" height="0.75"/><rect x="413.1" y="147.0" width="0.75" height="0.75"/><rect x="369.3" y="169.2" width="0.75" height="0.75"/><rect x="384.9" y="167.5" width="0.75" height="0.75"/><rect x="398.6" y="158.7" width="0.75" height="0.75"/><rect x="410.3" y="120.8" width="0.75" height="0.75"/><rect x="416.5" y="153.8" width="0.75" height="0.75"/><rect x="370.3" y="122.7" width="0.75" height="0.75"/><rect x="391.5" y="119.8" width="0.75" height="0.75"/><rect x="410.1" y="164.6" width="0.75" height="0.75"/><rect x="365.4" y="135.7" width="0.75" height="0.75"/><rect x="394.3" y="159.4" width="0.75" height="0.75"/><rect x="371.9" y="147.7" width="0.75" height="0.75"/><rect x="404.0" y="161.4" width="0.75" height="0.75"/><rect x="413.1" y="153.6" width="0.75" height="0.75"/><rect x="391.6" y="171.5" width="0.75" height="0.75"/><rect x="363.0" y="144.7" width="0.75" height="0.75"/><rect x="366.0" y="165.1" width="0.75" height="0.75"/><rect x="384.9" y="163.4" width="0.75" height="0.75"/><rect x="408.3" y="150.8" width="0.75" height="0.75"/><rect x="375.3" y="146.4" width="0.75" height="0.75"/><rect x="398.6" y="142.3" width="0.75" height="0.75"/><rect x="384.4" y="154.0" width="0.75" height="0.75"/><rect x="376.8" y="129.7" width="0.75" height="0.75"/><rect x="400.5" y="142.8" width="0.75" height="0.75"/><rect x="379.1" y="154.0" width="0.75" height="0.75"/><rect x="382.6" y="135.7" width="0.75" height="0.75"/><rect x="403.8" y="130.9" width="0.75" height="0.75"/><rect x="389.2" y="124.9" width="0.75" height="0.75"/><rect x="404.8" y="162.5" width="0.75" height="0.75"/><rect x="390.4" y="166.3" width="0.75" height="0.75"/><rect x="371.1" y="164.1" width="0.75" height="0.75"/><rect x="386.5" y="157.2" width="0.75" height="0.75"/><rect x="409.6" y="151.7" width="0.75" height="0.75"/><rect x="393.0" y="122.3" width="0.75" height="0.75"/><rect x="414.6" y="166.6" width="0.75" height="0.75"/><rect x="362.6" y="144.7" width="0.75" height="0.75"/><rect x="380.9" y="156.1" width="0.75" height="0.75"/><rect x="404.0" y="125.7" width="0.75" height="0.75"/><rect x="399.6" y="159.3" width="0.75" height="0.75"/><rect x="392.8" y="127.1" width="0.75" height="0.75"/><rect x="398.3" y="170.8" width="0.75" height="0.75"/><rect x="409.8" y="157.4" width="0.75" height="0.75"/><rect x="399.4" y="147.7" width="0.75" height="0.75"/><rect x="392.1" y="154.3" width="0.75" height="0.75"/><rect x="392.9" y="131.6" width="0.75" height="0.75"/><rect x="398.5" y="146.0" width="0.75" height="0.75"/><rect x="380.0" y="123.8" width="0.75" height="0.75"/><rect x="398.6" y="134.2" width="0.75" height="0.75"/><rect x="395.7" y="134.6" width="0.75" height="0.75"/><rect x="404.9" y="128.1" width="0.75" height="0.75"/><rect x="388.4" y="141.6" width="0.75" height="0.75"/><rect x="364.0" y="122.6" width="0.75" height="0.75"/><rect x="391.5" y="120.6" width="0.75" height="0.75"/><rect x="408.8" y="137.1" width="0.75" height="0.75"/><rect x="397.1" y="172.5" width="0.75" height="0.75"/><rect x="397.2" y="158.3" width="0.75" height="0.75"/><rect x="383.6" y="142.2" width="0.75" height="0.75"/><rect x="381.8" y="129.9" width="0.75" height="0.75"/><rect x="401.3" y="125.7" width="0.75" height="0.75"/><rect x="366.7" y="141.6" width="0.75" height="0.75"/><rect x="409.3" y="154.4" width="0.75" height="0.75"/><rect x="409.8" y="163.6" width="0.75" height="0.75"/><rect x="414.5" y="144.1" width="0.75" height="0.75"/><rect x="369.8" y="165.0" width="0.75" height="0.75"/><rect x="368.7" y="162.8" width="0.75" height="0.75"/><rect x="410.8" y="164.9" width="0.75" height="0.75"/><rect x="384.2" y="137.1" width="0.75" height="0.75"/><rect x="377.1" y="144.3" width="0.75" height="0.75"/><rect x="383.1" y="127.8" width="0.75" height="0.75"/><rect x="398.1" y="150.6" width="0.75" height="0.75"/><rect x="371.2" y="121.5" width="0.75" height="0.75"/><rect x="388.8" y="144.5" width="0.75" height="0.75"/><rect x="398.1" y="128.0" width="0.75" height="0.75"/><rect x="401.4" y="144.9" width="0.75" height="0.75"/><rect x="363.2" y="129.0" width="0.75" height="0.75"/><rect x="406.3" y="119.3" width="0.75" height="0.75"/><rect x="385.9" y="141.9" width="0.75" height="0.75"/><rect x="386.0" y="142.2" width="0.75" height="0.75"/><rect x="392.9" y="148.3" width="0.75" height="0.75"/><rect x="377.6" y="125.9" width="0.75" height="0.75"/><rect x="410.4" y="146.0" width="0.75" height="0.75"/><rect x="374.0" y="135.3" width="0.75" height="0.75"/><rect x="391.8" y="123.6" width="0.75" height="0.75"/><rect x="371.6" y="141.3" width="0.75" height="0.75"/><rect x="395.8" y="155.1" width="0.75" height="0.75"/><rect x="411.2" y="135.5" width="0.75" height="0.75"/><rect x="410.2" y="157.6" width="0.75" height="0.75"/><rect x="369.8" y="161.6" width="0.75" height="0.75"/><rect x="396.2" y="120.0" width="0.75" height="0.75"/><rect x="410.7" y="130.8" width="0.75" height="0.75"/><rect x="373.3" y="134.5" width="0.75" height="0.75"/><rect x="384.9" y="151.1" width="0.75" height="0.75"/><rect x="401.0" y="145.4" width="0.75" height="0.75"/><rect x="402.4" y="149.8" width="0.75" height="0.75"/><rect x="386.9" y="123.2" width="0.75" height="0.75"/><rect x="397.0" y="134.6" width="0.75" height="0.75"/><rect x="398.6" y="127.9" width="0.75" height="0.75"/><rect x="381.6" y="159.3" width="0.75" height="0.75"/><rect x="397.7" y="156.0" width="0.75" height="0.75"/><rect x="393.7" y="135.6" width="0.75" height="0.75"/><rect x="400.2" y="166.3" width="0.75" height="0.75"/><rect x="390.1" y="126.5" width="0.75" height="0.75"/><rect x="380.7" y="120.2" width="0.75" height="0.75"/><rect x="386.0" y="139.3" width="0.75" height="0.75"/><rect x="412.3" y="155.2" width="0.75" height="0.75"/><rect x="372.6" y="170.1" width="0.75" height="0.75"/><rect x="370.5" y="146.6" width="0.75" height="0.75"/><rect x="363.2" y="126.5" width="0.75" height="0.75"/><rect x="408.5" y="151.3" width="0.75" height="0.75"/><rect x="415.9" y="120.1" width="0.75" height="0.75"/><rect x="375.3" y="163.2" width="0.75" height="0.75"/><rect x="376.9" y="136.5" width="0.75" height="0.75"/><rect x="373.2" y="124.7" width="0.75" height="0.75"/><rect x="394.9" y="127.2" width="0.75" height="0.75"/><rect x="388.7" y="163.8" width="0.75" height="0.75"/><rect x="406.8" y="168.0" width="0.75" height="0.75"/><rect x="373.8" y="129.1" width="0.75" height="0.75"/><rect x="409.9" y="172.9" width="0.75" height="0.75"/><rect x="387.6" y="165.5" width="0.75" height="0.75"/><rect x="406.1" y="136.9" width="0.75" height="0.75"/><rect x="405.8" y="122.0" width="0.75" height="0.75"/><rect x="411.7" y="127.3" width="0.75" height="0.75"/><rect x="389.4" y="142.7" width="0.75" height="0.75"/><rect x="395.4" y="130.3" width="0.75" height="0.75"/><rect x="392.8" y="129.0" width="0.75" height="0.75"/><rect x="372.8" y="133.9" width="0.75" height="0.75"/><rect x="389.6" y="166.4" width="0.75" height="0.75"/><rect x="412.5" y="121.2" width="0.75" height="0.75"/><rect x="411.6" y="168.8" width="0.75" height="0.75"/><rect x="363.7" y="143.4" width="0.75" height="0.75"/><rect x="398.3" y="158.9" width="0.75" height="0.75"/><rect x="380.1" y="146.7" width="0.75" height="0.75"/><rect x="369.8" y="170.1" width="0.75" height="0.75"/><rect x="370.0" y="129.0" width="0.75" height="0.75"/><rect x="405.4" y="132.9" width="0.75" height="0.75"/><rect x="414.3" y="146.5" width="0.75" height="0.75"/><rect x="390.6" y="146.5" width="0.75" height="0.75"/><rect x="383.2" y="137.0" width="0.75" height="0.75"/><rect x="390.0" y="135.6" width="0.75" height="0.75"/><rect x="407.3" y="124.0" width="0.75" height="0.75"/><rect x="402.8" y="146.2" width="0.75" height="0.75"/><rect x="366.0" y="163.9" width="0.75" height="0.75"/><rect x="374.0" y="165.8" width="0.75" height="0.75"/><rect x="409.4" y="141.5" width="0.75" height="0.75"/><rect x="389.1" y="171.9" width="0.75" height="0.75"/><rect x="398.0" y="171.2" width="0.75" height="0.75"/><rect x="404.5" y="136.4" width="0.75" height="0.75"/><rect x="396.9" y="125.5" width="0.75" height="0.75"/><rect x="402.1" y="164.2" width="0.75" height="0.75"/><rect x="392.0" y="169.8" width="0.75" height="0.75"/><rect x="374.9" y="154.1" width="0.75" height="0.75"/><rect x="372.6" y="171.1" width="0.75" height="0.75"/><rect x="416.2" y="144.9" width="0.75" height="0.75"/><rect x="363.1" y="147.4" width="0.75" height="0.75"/><rect x="399.8" y="123.2" width="0.75" height="0.75"/><rect x="410.1" y="139.1" width="0.75" height="0.75"/><rect x="375.0" y="168.9" width="0.75" height="0.75"/><rect x="365.1" y="124.8" width="0.75" height="0.75"/><rect x="384.1" y="126.6" width="0.75" height="0.75"/><rect x="380.3" y="121.0" width="0.75" height="0.75"/><rect x="387.4" y="145.9" width="0.75" height="0.75"/><rect x="385.6" y="151.7" width="0.75" height="0.75"/><rect x="413.4" y="147.8" width="0.75" height="0.75"/><rect x="368.9" y="166.5" width="0.75" height="0.75"/><rect x="413.5" y="155.8" width="0.75" height="0.75"/><rect x="365.0" y="153.5" width="0.75" height="0.75"/><rect x="413.2" y="151.6" width="0.75" height="0.75"/><rect x="380.5" y="146.4" width="0.75" height="0.75"/><rect x="401.8" y="123.2" width="0.75" height="0.75"/><rect x="362.7" y="124.4" width="0.75" height="0.75"/><rect x="386.7" y="153.9" width="0.75" height="0.75"/><rect x="399.1" y="130.6" width="0.75" height="0.75"/><rect x="396.4" y="141.5" width="0.75" height="0.75"/><rect x="406.0" y="154.0" width="0.75" height="0.75"/><rect x="370.8" y="151.5" width="0.75" height="0.75"/><rect x="384.2" y="132.3" width="0.75" height="0.75"/><rect x="395.6" y="133.6" width="0.75" height="0.75"/><rect x="364.1" y="126.8" width="0.75" height="0.75"/><rect x="407.6" y="154.8" width="0.75" height="0.75"/><rect x="385.0" y="157.9" width="0.75" height="0.75"/><rect x="375.8" y="126.3" width="0.75" height="0.75"/><rect x="374.5" y="133.8" width="0.75" height="0.75"/><rect x="397.6" y="127.2" width="0.75" height="0.75"/><rect x="365.1" y="152.1" width="0.75" height="0.75"/><rect x="375.7" y="135.1" width="0.75" height="0.75"/><rect x="378.9" y="166.0" width="0.75" height="0.75"/><rect x="376.5" y="133.5" width="0.75" height="0.75"/><rect x="402.0" y="153.9" width="0.75" height="0.75"/><rect x="394.5" y="153.4" width="0.75" height="0.75"/><rect x="411.3" y="169.9" width="0.75" height="0.75"/><rect x="400.4" y="158.1" width="0.75" height="0.75"/><rect x="378.4" y="169.4" width="0.75" height="0.75"/><rect x="380.0" y="150.6" width="0.75" height="0.75"/><rect x="369.2" y="119.4" width="0.75" height="0.75"/><rect x="375.6" y="136.8" width="0.75" height="0.75"/><rect x="395.1" y="159.0" width="0.75" height="0.75"/><rect x="402.0" y="137.6" width="0.75" height="0.75"/><rect x="378.5" y="154.6" width="0.75" height="0.75"/><rect x="381.1" y="125.5" width="0.75" height="0.75"/><rect x="405.9" y="154.0" width="0.75" height="0.75"/><rect x="414.3" y="139.9" width="0.75" height="0.75"/><rect x="367.1" y="170.1" width="0.75" height="0.75"/><rect x="366.3" y="123.0" width="0.75" height="0.75"/><rect x="403.5" y="138.6" width="0.75" height="0.75"/><rect x="389.3" y="160.5" width="0.75" height="0.75"/><rect x="385.5" y="140.3" width="0.75" height="0.75"/><rect x="396.7" y="144.1" width="0.75" height="0.75"/><rect x="403.6" y="137.2" width="0.75" height="0.75"/><rect x="366.3" y="124.4" width="0.75" height="0.75"/><rect x="414.4" y="136.4" width="0.75" height="0.75"/><rect x="414.2" y="166.4" width="0.75" height="0.75"/><rect x="385.0" y="160.5" width="0.75" height="0.75"/><rect x="387.9" y="135.9" width="0.75" height="0.75"/><rect x="377.2" y="155.2" width="0.75" height="0.75"/><rect x="394.2" y="161.9" width="0.75" height="0.75"/><rect x="373.6" y="162.1" width="0.75" height="0.75"/><rect x="391.4" y="122.2" width="0.75" height="0.75"/><rect x="411.3" y="128.0" width="0.75" height="0.75"/><rect x="389.8" y="170.6" width="0.75" height="0.75"/><rect x="407.2" y="134.3" width="0.75" height="0.75"/><rect x="372.2" y="161.1" width="0.75" height="0.75"/><rect x="410.2" y="153.1" width="0.75" height="0.75"/><rect x="369.2" y="166.1" width="0.75" height="0.75"/><rect x="374.0" y="123.4" width="0.75" height="0.75"/><rect x="401.4" y="169.4" width="0.75" height="0.75"/><rect x="378.8" y="166.3" width="0.75" height="0.75"/><rect x="368.9" y="132.0" width="0.75" height="0.75"/><rect x="367.2" y="157.4" width="0.75" height="0.75"/><rect x="405.3" y="119.5" width="0.75" height="0.75"/><rect x="363.6" y="165.8" width="0.75" height="0.75"/><rect x="365.5" y="141.5" width="0.75" height="0.75"/><rect x="413.6" y="159.0" width="0.75" height="0.75"/><rect x="404.7" y="162.0" width="0.75" height="0.75"/><rect x="382.5" y="120.6" width="0.75" height="0.75"/><rect x="372.9" y="166.7" width="0.75" height="0.75"/><rect x="409.3" y="124.8" width="0.75" height="0.75"/><rect x="405.0" y="127.5" width="0.75" height="0.75"/><rect x="398.6" y="143.8" width="0.75" height="0.75"/><rect x="391.1" y="132.8" width="0.75" height="0.75"/></g>
<g><circle cx="389.7" cy="143.7" r="0.85" fill="#2a2ab8"/><circle cx="386.8" cy="145.6" r="0.85" fill="#c0203c"/><circle cx="392.3" cy="147.5" r="0.85" fill="#2a2ab8"/><circle cx="388.3" cy="150.1" r="0.85" fill="#c0203c"/><circle cx="389.3" cy="144.2" r="0.85" fill="#2a2ab8"/><circle cx="388.2" cy="143.1" r="0.85" fill="#c0203c"/><circle cx="388.6" cy="151.1" r="0.85" fill="#2a2ab8"/><circle cx="389.9" cy="143.2" r="0.85" fill="#c0203c"/><circle cx="388.9" cy="145.2" r="0.85" fill="#2a2ab8"/><circle cx="387.0" cy="145.8" r="0.85" fill="#c0203c"/><circle cx="390.8" cy="146.9" r="0.85" fill="#2a2ab8"/><circle cx="391.3" cy="142.7" r="0.85" fill="#c0203c"/><circle cx="386.5" cy="148.8" r="0.85" fill="#2a2ab8"/><circle cx="392.2" cy="142.1" r="0.85" fill="#c0203c"/><circle cx="390.1" cy="146.0" r="0.85" fill="#2a2ab8"/><circle cx="390.6" cy="146.6" r="0.85" fill="#c0203c"/><circle cx="388.9" cy="146.3" r="0.85" fill="#2a2ab8"/><circle cx="390.1" cy="145.8" r="0.85" fill="#c0203c"/><circle cx="388.0" cy="137.6" r="0.85" fill="#2a2ab8"/><circle cx="389.2" cy="141.4" r="0.85" fill="#c0203c"/><circle cx="389.9" cy="147.8" r="0.85" fill="#2a2ab8"/><circle cx="390.4" cy="145.0" r="0.85" fill="#c0203c"/><circle cx="389.5" cy="149.0" r="0.85" fill="#2a2ab8"/><circle cx="388.2" cy="148.1" r="0.85" fill="#c0203c"/><circle cx="390.9" cy="146.8" r="0.85" fill="#2a2ab8"/><circle cx="392.5" cy="144.4" r="0.85" fill="#c0203c"/><circle cx="391.7" cy="143.7" r="0.85" fill="#2a2ab8"/><circle cx="389.0" cy="142.9" r="0.85" fill="#c0203c"/><circle cx="390.9" cy="143.6" r="0.85" fill="#2a2ab8"/><circle cx="390.3" cy="142.9" r="0.85" fill="#c0203c"/><circle cx="390.8" cy="151.0" r="0.85" fill="#2a2ab8"/><circle cx="389.5" cy="150.2" r="0.85" fill="#c0203c"/><circle cx="389.9" cy="151.7" r="0.85" fill="#2a2ab8"/><circle cx="390.6" cy="141.8" r="0.85" fill="#c0203c"/><circle cx="392.3" cy="145.9" r="0.85" fill="#2a2ab8"/><circle cx="388.4" cy="143.9" r="0.85" fill="#c0203c"/><circle cx="387.2" cy="145.1" r="0.85" fill="#2a2ab8"/><circle cx="387.5" cy="149.5" r="0.85" fill="#c0203c"/><circle cx="391.5" cy="141.7" r="0.85" fill="#2a2ab8"/><circle cx="387.6" cy="144.0" r="0.85" fill="#c0203c"/><circle cx="386.7" cy="145.1" r="0.85" fill="#2a2ab8"/><circle cx="390.0" cy="143.9" r="0.85" fill="#c0203c"/><circle cx="388.7" cy="147.1" r="0.85" fill="#2a2ab8"/><circle cx="391.5" cy="150.2" r="0.85" fill="#c0203c"/><circle cx="389.5" cy="148.1" r="0.85" fill="#2a2ab8"/><circle cx="388.4" cy="146.8" r="0.85" fill="#c0203c"/><circle cx="387.9" cy="147.6" r="0.85" fill="#2a2ab8"/><circle cx="388.2" cy="143.1" r="0.85" fill="#c0203c"/><circle cx="389.6" cy="147.4" r="0.85" fill="#2a2ab8"/><circle cx="387.7" cy="144.1" r="0.85" fill="#c0203c"/><circle cx="389.9" cy="146.5" r="0.85" fill="#2a2ab8"/><circle cx="388.4" cy="145.9" r="0.85" fill="#c0203c"/><circle cx="388.8" cy="149.5" r="0.85" fill="#2a2ab8"/><circle cx="391.2" cy="142.6" r="0.85" fill="#c0203c"/><circle cx="386.2" cy="145.6" r="0.85" fill="#2a2ab8"/><circle cx="391.7" cy="146.6" r="0.85" fill="#c0203c"/><circle cx="391.4" cy="144.9" r="0.85" fill="#2a2ab8"/><circle cx="387.3" cy="147.5" r="0.85" fill="#c0203c"/><circle cx="389.7" cy="147.7" r="0.85" fill="#2a2ab8"/><circle cx="387.5" cy="146.0" r="0.85" fill="#c0203c"/><circle cx="388.5" cy="147.9" r="0.85" fill="#2a2ab8"/><circle cx="389.1" cy="144.2" r="0.85" fill="#c0203c"/><circle cx="388.3" cy="149.1" r="0.85" fill="#2a2ab8"/><circle cx="390.1" cy="143.9" r="0.85" fill="#c0203c"/><circle cx="388.5" cy="142.9" r="0.85" fill="#2a2ab8"/><circle cx="392.9" cy="141.5" r="0.85" fill="#c0203c"/><circle cx="388.2" cy="147.4" r="0.85" fill="#2a2ab8"/><circle cx="391.8" cy="145.8" r="0.85" fill="#c0203c"/><circle cx="390.8" cy="148.1" r="0.85" fill="#2a2ab8"/><circle cx="391.4" cy="146.3" r="0.85" fill="#c0203c"/><circle cx="392.4" cy="146.9" r="0.85" fill="#2a2ab8"/><circle cx="392.8" cy="143.5" r="0.85" fill="#c0203c"/><circle cx="391.9" cy="142.9" r="0.85" fill="#2a2ab8"/><circle cx="387.2" cy="146.9" r="0.85" fill="#c0203c"/><circle cx="388.3" cy="146.9" r="0.85" fill="#2a2ab8"/><circle cx="387.5" cy="149.9" r="0.85" fill="#c0203c"/><circle cx="390.3" cy="143.1" r="0.85" fill="#2a2ab8"/><circle cx="389.8" cy="148.4" r="0.85" fill="#c0203c"/><circle cx="388.4" cy="147.2" r="0.85" fill="#2a2ab8"/><circle cx="392.9" cy="148.8" r="0.85" fill="#c0203c"/><circle cx="390.1" cy="144.6" r="0.85" fill="#2a2ab8"/><circle cx="391.4" cy="142.2" r="0.85" fill="#c0203c"/><circle cx="385.2" cy="143.6" r="0.85" fill="#2a2ab8"/><circle cx="387.4" cy="150.3" r="0.85" fill="#c0203c"/><circle cx="390.5" cy="143.5" r="0.85" fill="#2a2ab8"/><circle cx="387.8" cy="147.1" r="0.85" fill="#c0203c"/><circle cx="388.7" cy="144.3" r="0.85" fill="#2a2ab8"/><circle cx="389.7" cy="146.3" r="0.85" fill="#c0203c"/><circle cx="390.0" cy="146.4" r="0.85" fill="#2a2ab8"/><circle cx="391.3" cy="150.9" r="0.85" fill="#c0203c"/><circle cx="386.2" cy="152.4" r="0.85" fill="#2a2ab8"/><circle cx="389.6" cy="149.4" r="0.85" fill="#c0203c"/><circle cx="388.6" cy="146.8" r="0.85" fill="#2a2ab8"/><circle cx="390.2" cy="146.5" r="0.85" fill="#c0203c"/><circle cx="391.0" cy="148.0" r="0.85" fill="#2a2ab8"/><circle cx="388.3" cy="145.6" r="0.85" fill="#c0203c"/><circle cx="390.8" cy="148.1" r="0.85" fill="#2a2ab8"/><circle cx="389.5" cy="145.3" r="0.85" fill="#c0203c"/><circle cx="390.1" cy="143.2" r="0.85" fill="#2a2ab8"/><circle cx="387.2" cy="149.9" r="0.85" fill="#c0203c"/><circle cx="389.2" cy="146.3" r="0.85" fill="#2a2ab8"/><circle cx="388.2" cy="149.3" r="0.85" fill="#c0203c"/><circle cx="392.8" cy="146.0" r="0.85" fill="#2a2ab8"/><circle cx="391.0" cy="144.3" r="0.85" fill="#c0203c"/><circle cx="392.4" cy="149.0" r="0.85" fill="#2a2ab8"/><circle cx="388.0" cy="149.2" r="0.85" fill="#c0203c"/><circle cx="390.3" cy="147.3" r="0.85" fill="#2a2ab8"/><circle cx="390.7" cy="144.5" r="0.85" fill="#c0203c"/><circle cx="388.8" cy="147.6" r="0.85" fill="#2a2ab8"/><circle cx="390.2" cy="143.6" r="0.85" fill="#c0203c"/></g>
<rect x="401.3" y="141.0" width="0.9" height="0.9" fill="#3030c0"/>
<rect x="410.6" y="144.0" width="0.9" height="0.9" fill="#3030c0"/>
<rect x="374.2" y="144.3" width="0.9" height="0.9" fill="#3030c0"/>
<polyline points="307.6,116.1 442.3,116.1" fill="none" stroke="#2020ff" stroke-width="1.8" stroke-linejoin="round" />
<line x1="441.8" y1="116.5" x2="406.4" y2="129.1" stroke="#000" stroke-width="1.3" />
<polygon points="399.8,131.5 406.1,125.2 406.2,129.2 408.6,132.4" fill="#000"/>
<rect x="307.6" y="100.2" width="134.7" height="79.6" fill="none" stroke="#000" stroke-width="1.3"/>
<line x1="304.6" y1="179.8" x2="307.6" y2="179.8" stroke="#000" stroke-width="1" />
<text x="302.4" y="182.6" font-size="7.2" font-family="'DejaVu Serif', 'Liberation Serif', serif" fill="#222" text-anchor="end" >0.00</text>
<line x1="304.6" y1="163.9" x2="307.6" y2="163.9" stroke="#000" stroke-width="1" />
<text x="302.4" y="166.7" font-size="7.2" font-family="'DejaVu Serif', 'Liberation Serif', serif" fill="#222" text-anchor="end" >0.25</text>
<line x1="304.6" y1="148.0" x2="307.6" y2="148.0" stroke="#000" stroke-width="1" />
<text x="302.4" y="150.8" font-size="7.2" font-family="'DejaVu Serif', 'Liberation Serif', serif" fill="#222" text-anchor="end" >0.50</text>
<line x1="304.6" y1="132.0" x2="307.6" y2="132.0" stroke="#000" stroke-width="1" />
<text x="302.4" y="134.8" font-size="7.2" font-family="'DejaVu Serif', 'Liberation Serif', serif" fill="#222" text-anchor="end" >0.75</text>
<line x1="304.6" y1="116.1" x2="307.6" y2="116.1" stroke="#000" stroke-width="1" />
<text x="302.4" y="118.9" font-size="7.2" font-family="'DejaVu Serif', 'Liberation Serif', serif" fill="#222" text-anchor="end" >1.00</text>
<line x1="304.6" y1="100.2" x2="307.6" y2="100.2" stroke="#000" stroke-width="1" />
<text x="302.4" y="103.0" font-size="7.2" font-family="'DejaVu Serif', 'Liberation Serif', serif" fill="#222" text-anchor="end" >1.25</text>
<line x1="307.6" y1="179.8" x2="307.6" y2="182.8" stroke="#000" stroke-width="1" />
<text x="307.6" y="190.6" font-size="7.1" font-family="'DejaVu Serif', 'Liberation Serif', serif" fill="#222" text-anchor="middle" >0.0</text>
<line x1="326.8" y1="179.8" x2="326.8" y2="182.8" stroke="#000" stroke-width="1" />
<text x="326.8" y="190.6" font-size="7.1" font-family="'DejaVu Serif', 'Liberation Serif', serif" fill="#222" text-anchor="middle" >0.5</text>
<line x1="346.1" y1="179.8" x2="346.1" y2="182.8" stroke="#000" stroke-width="1" />
<text x="346.1" y="190.6" font-size="7.1" font-family="'DejaVu Serif', 'Liberation Serif', serif" fill="#222" text-anchor="middle" >1.0</text>
<line x1="365.3" y1="179.8" x2="365.3" y2="182.8" stroke="#000" stroke-width="1" />
<text x="365.3" y="190.6" font-size="7.1" font-family="'DejaVu Serif', 'Liberation Serif', serif" fill="#222" text-anchor="middle" >1.5</text>
<line x1="384.6" y1="179.8" x2="384.6" y2="182.8" stroke="#000" stroke-width="1" />
<text x="384.6" y="190.6" font-size="7.1" font-family="'DejaVu Serif', 'Liberation Serif', serif" fill="#222" text-anchor="middle" >2.0</text>
<line x1="403.8" y1="179.8" x2="403.8" y2="182.8" stroke="#000" stroke-width="1" />
<text x="403.8" y="190.6" font-size="7.1" font-family="'DejaVu Serif', 'Liberation Serif', serif" fill="#222" text-anchor="middle" >2.5</text>
<line x1="423.1" y1="179.8" x2="423.1" y2="182.8" stroke="#000" stroke-width="1" />
<text x="423.1" y="190.6" font-size="7.1" font-family="'DejaVu Serif', 'Liberation Serif', serif" fill="#222" text-anchor="middle" >3.0</text>
<line x1="442.3" y1="179.8" x2="442.3" y2="182.8" stroke="#000" stroke-width="1" />
<text x="442.3" y="190.6" font-size="7.1" font-family="'DejaVu Serif', 'Liberation Serif', serif" fill="#222" text-anchor="middle" >3.5</text>
<text x="327.4" y="111.0" font-size="12.5" font-family="'Liberation Serif', 'DejaVu Serif', serif" fill="#000" textLength="43.8" lengthAdjust="spacingAndGlyphs" >DI water</text>
<text x="344.9" y="205.4" font-size="18.5" font-family="'Liberation Serif', 'DejaVu Serif', serif" fill="#000" textLength="73" lengthAdjust="spacingAndGlyphs" stroke="#000" stroke-width="0.3">Time (<tspan font-style="italic">μ</tspan>s)</text>
<g transform="translate(278,110.4) rotate(-90)" font-family="'Liberation Serif', 'DejaVu Serif', serif" stroke="#000" stroke-width="0.35"><text x="0" y="0" font-size="28.5">f</text><text x="13.7" y="1.5" font-size="18.3" textLength="43.6" lengthAdjust="spacingAndGlyphs">cluster</text></g>
<text x="457.8" y="14.8" font-size="15.5" font-family="'Liberation Serif', 'DejaVu Serif', serif" fill="#000" font-weight="bold" textLength="15" lengthAdjust="spacingAndGlyphs" >D.</text>
<path d="M649.8,86.5 L650.1,87.7 L652.4,88.9 L651.5,90.1 L652.6,91.3 L652.5,92.6 L649.7,93.4 L649.6,94.6 L652.8,96.3 L652.8,97.6 L650.3,98.4 L648.9,99.3 L648.6,100.4 L651.3,102.5 L650.1,103.4 L646.2,103.5 L647.2,105.1 L645.6,105.8 L645.7,107.2 L645.9,108.6 L645.4,109.8 L644.3,110.7 L643.6,111.8 L642.7,112.7 L642.5,114.1 L642.1,115.4 L640.0,115.7 L638.5,116.3 L637.7,117.3 L636.2,117.8 L635.4,118.9 L635.8,121.0 L634.1,121.3 L632.7,121.9 L631.3,122.4 L630.1,123.2 L628.9,123.9 L626.9,123.7 L626.2,125.1 L625.6,126.6 L624.5,127.5 L623.4,128.5 L620.3,126.3 L619.9,128.4 L618.1,128.2 L616.9,129.1 L615.7,130.0 L613.3,128.1 L612.4,129.7 L611.1,130.2 L609.8,130.9 L608.3,131.3 L606.7,131.1 L605.3,131.4 L603.5,130.1 L602.4,132.3 L601.1,133.6 L599.5,133.5 L597.9,133.4 L596.4,133.5 L594.8,132.4 L593.3,132.4 L591.9,130.9 L590.4,131.3 L588.9,132.0 L587.5,131.3 L585.8,132.3 L584.5,131.2 L582.7,132.2 L581.7,130.1 L580.3,130.0 L578.7,130.0 L576.7,131.0 L575.4,130.2 L574.4,129.0 L572.7,129.1 L572.2,127.1 L570.5,127.2 L568.1,128.4 L567.5,126.7 L565.7,126.8 L565.0,125.3 L563.0,125.6 L562.2,124.4 L561.4,123.3 L558.9,123.9 L557.8,123.1 L556.9,121.9 L556.3,120.7 L554.1,120.7 L552.8,120.0 L551.5,119.4 L551.2,117.9 L551.9,115.8 L551.1,114.8 L548.9,114.7 L548.4,113.4 L546.4,113.1 L546.7,111.4 L546.1,110.3 L544.2,109.8 L543.9,108.6 L543.5,107.4 L542.1,106.6 L540.2,105.9 L538.7,105.1 L539.6,103.4 L541.4,101.6 L538.6,101.1 L538.9,99.7 L540.6,98.1 L538.0,97.4 L538.5,96.1 L539.1,94.7 L538.7,93.6 L540.1,92.3 L538.6,91.2 L536.0,90.2 L538.2,88.9 L537.6,87.7 L537.4,86.5 L538.7,85.3 L538.0,84.1 L539.5,83.0 L539.8,81.9 L539.9,80.7 L539.3,79.5 L537.6,78.0 L538.0,76.8 L537.9,75.6 L538.7,74.5 L539.8,73.5 L539.3,72.1 L539.5,70.9 L540.0,69.7 L539.0,68.0 L540.2,67.1 L541.0,66.0 L542.6,65.3 L544.7,64.8 L543.7,62.9 L543.5,61.4 L545.4,60.9 L545.8,59.6 L547.0,58.8 L548.2,57.9 L547.1,55.6 L550.1,56.0 L551.8,55.6 L551.7,53.8 L553.2,53.3 L555.1,53.1 L556.1,52.2 L556.7,50.9 L557.6,49.8 L559.1,49.3 L560.6,48.8 L561.3,47.5 L563.7,48.2 L565.2,47.8 L565.7,46.2 L566.6,45.0 L568.2,44.7 L570.5,45.8 L571.5,44.7 L572.5,43.5 L574.8,44.7 L575.6,43.2 L577.6,44.2 L578.2,41.6 L579.7,41.3 L581.5,42.2 L582.9,41.5 L584.2,40.5 L586.1,42.2 L587.6,42.7 L589.0,42.0 L590.3,40.7 L591.9,41.7 L593.3,40.4 L594.8,40.0 L596.4,38.7 L597.9,39.4 L599.4,40.6 L600.8,41.5 L602.5,39.9 L603.6,42.3 L605.0,42.9 L606.9,41.4 L608.3,41.9 L610.3,40.4 L611.4,41.9 L612.6,42.9 L614.6,42.1 L615.8,43.0 L617.3,43.3 L618.3,44.5 L619.2,45.7 L620.5,46.2 L622.8,45.3 L624.0,46.2 L624.1,48.4 L625.9,48.3 L627.8,48.2 L629.8,48.1 L631.1,48.8 L631.7,50.2 L634.0,49.9 L634.3,51.5 L635.6,52.2 L637.9,52.1 L639.2,52.9 L638.9,54.9 L640.3,55.5 L642.2,55.9 L642.0,57.6 L642.0,59.2 L642.4,60.4 L644.5,60.8 L644.4,62.3 L646.9,62.5 L648.0,63.5 L648.4,64.7 L649.4,65.7 L648.5,67.4 L647.8,69.0 L647.6,70.3 L649.4,71.1 L649.0,72.5 L648.0,73.9 L650.1,74.7 L650.3,75.9 L649.8,77.2 L649.2,78.5 L651.0,79.4 L652.1,80.5 L651.5,81.7 L653.1,82.8 L650.9,84.2 L651.1,85.3 Z" fill="#3a8ad0"/>
<g fill="#3a8ad0"><circle cx="556.2" cy="54.0" r="0.8"/><circle cx="599.5" cy="39.5" r="0.8"/><circle cx="584.0" cy="39.6" r="0.8"/><circle cx="638.0" cy="117.5" r="0.8"/><circle cx="644.8" cy="106.8" r="0.8"/><circle cx="538.2" cy="93.7" r="0.8"/><circle cx="546.4" cy="114.6" r="0.8"/><circle cx="636.4" cy="47.7" r="0.8"/><circle cx="613.4" cy="132.1" r="0.8"/><circle cx="559.9" cy="122.8" r="0.8"/><circle cx="608.4" cy="131.6" r="0.8"/><circle cx="611.8" cy="40.9" r="0.8"/><circle cx="565.8" cy="129.1" r="0.8"/><circle cx="537.1" cy="100.2" r="0.8"/><circle cx="601.1" cy="38.9" r="0.8"/><circle cx="650.0" cy="69.6" r="0.8"/><circle cx="631.9" cy="121.1" r="0.8"/><circle cx="544.8" cy="115.5" r="0.8"/><circle cx="611.9" cy="40.6" r="0.8"/><circle cx="620.1" cy="44.2" r="0.8"/><circle cx="612.6" cy="43.0" r="0.8"/><circle cx="649.2" cy="108.6" r="0.8"/><circle cx="561.2" cy="45.2" r="0.8"/><circle cx="564.8" cy="125.6" r="0.8"/><circle cx="611.5" cy="131.2" r="0.8"/><circle cx="630.4" cy="121.6" r="0.8"/><circle cx="654.1" cy="79.0" r="0.8"/><circle cx="546.5" cy="114.5" r="0.8"/><circle cx="574.9" cy="44.9" r="0.8"/><circle cx="543.4" cy="114.7" r="0.8"/><circle cx="650.2" cy="66.8" r="0.8"/><circle cx="599.8" cy="136.9" r="0.8"/><circle cx="641.9" cy="50.9" r="0.8"/><circle cx="545.2" cy="109.4" r="0.8"/><circle cx="625.8" cy="48.4" r="0.8"/><circle cx="569.0" cy="43.2" r="0.8"/><circle cx="562.2" cy="48.6" r="0.8"/><circle cx="543.4" cy="65.6" r="0.8"/><circle cx="647.9" cy="112.4" r="0.8"/><circle cx="598.1" cy="136.1" r="0.8"/><circle cx="638.4" cy="116.2" r="0.8"/><circle cx="579.6" cy="41.0" r="0.8"/><circle cx="628.0" cy="122.9" r="0.8"/><circle cx="579.9" cy="42.0" r="0.8"/><circle cx="648.2" cy="86.5" r="0.8"/><circle cx="542.2" cy="109.3" r="0.8"/><circle cx="599.5" cy="38.9" r="0.8"/><circle cx="541.3" cy="97.9" r="0.8"/><circle cx="652.6" cy="78.0" r="0.8"/><circle cx="624.1" cy="129.5" r="0.8"/><circle cx="546.8" cy="114.4" r="0.8"/><circle cx="625.3" cy="44.4" r="0.8"/><circle cx="565.4" cy="48.1" r="0.8"/><circle cx="556.8" cy="126.1" r="0.8"/><circle cx="545.4" cy="110.7" r="0.8"/><circle cx="579.9" cy="131.1" r="0.8"/><circle cx="604.8" cy="43.6" r="0.8"/><circle cx="648.3" cy="64.8" r="0.8"/><circle cx="538.4" cy="70.5" r="0.8"/><circle cx="574.5" cy="132.4" r="0.8"/><circle cx="650.9" cy="86.5" r="0.8"/><circle cx="613.9" cy="129.4" r="0.8"/><circle cx="633.0" cy="46.8" r="0.8"/><circle cx="550.8" cy="119.8" r="0.8"/><circle cx="646.5" cy="74.3" r="0.8"/><circle cx="537.7" cy="82.9" r="0.8"/><circle cx="596.5" cy="35.1" r="0.8"/><circle cx="551.2" cy="56.8" r="0.8"/><circle cx="582.6" cy="40.5" r="0.8"/><circle cx="547.0" cy="115.8" r="0.8"/><circle cx="534.6" cy="90.3" r="0.8"/><circle cx="571.9" cy="45.4" r="0.8"/><circle cx="550.0" cy="118.7" r="0.8"/><circle cx="651.3" cy="92.4" r="0.8"/><circle cx="596.4" cy="132.4" r="0.8"/><circle cx="648.8" cy="64.6" r="0.8"/><circle cx="623.1" cy="128.0" r="0.8"/><circle cx="539.2" cy="98.4" r="0.8"/><circle cx="531.7" cy="90.5" r="0.8"/><circle cx="541.7" cy="101.5" r="0.8"/><circle cx="557.9" cy="45.9" r="0.8"/><circle cx="540.9" cy="101.7" r="0.8"/><circle cx="626.0" cy="46.0" r="0.8"/><circle cx="585.5" cy="133.6" r="0.8"/><circle cx="538.0" cy="64.9" r="0.8"/><circle cx="618.7" cy="40.5" r="0.8"/><circle cx="652.6" cy="78.0" r="0.8"/><circle cx="539.4" cy="100.9" r="0.8"/><circle cx="615.9" cy="39.1" r="0.8"/><circle cx="642.8" cy="111.3" r="0.8"/><circle cx="540.0" cy="64.2" r="0.8"/><circle cx="562.2" cy="122.3" r="0.8"/><circle cx="631.8" cy="50.1" r="0.8"/><circle cx="539.5" cy="91.1" r="0.8"/><circle cx="541.6" cy="108.2" r="0.8"/><circle cx="557.6" cy="123.2" r="0.8"/><circle cx="564.8" cy="128.1" r="0.8"/><circle cx="642.2" cy="113.9" r="0.8"/><circle cx="538.0" cy="93.7" r="0.8"/><circle cx="643.5" cy="53.3" r="0.8"/><circle cx="535.6" cy="77.7" r="0.8"/><circle cx="629.7" cy="124.8" r="0.8"/><circle cx="632.9" cy="46.9" r="0.8"/><circle cx="585.4" cy="38.7" r="0.8"/><circle cx="653.2" cy="97.7" r="0.8"/><circle cx="544.8" cy="108.2" r="0.8"/><circle cx="561.4" cy="47.7" r="0.8"/><circle cx="538.9" cy="88.8" r="0.8"/><circle cx="562.5" cy="126.2" r="0.8"/><circle cx="566.8" cy="42.5" r="0.8"/><circle cx="652.4" cy="70.3" r="0.8"/><circle cx="651.5" cy="91.3" r="0.8"/><circle cx="570.8" cy="126.7" r="0.8"/><circle cx="535.4" cy="90.2" r="0.8"/><circle cx="633.6" cy="124.7" r="0.8"/><circle cx="539.3" cy="98.4" r="0.8"/><circle cx="542.0" cy="108.0" r="0.8"/><circle cx="543.4" cy="107.4" r="0.8"/><circle cx="559.5" cy="47.7" r="0.8"/><circle cx="651.8" cy="86.5" r="0.8"/></g>
<path d="M650.5,87.5 L649.1,88.5 L649.2,89.5 L651.9,90.6 L650.0,91.6 L649.3,92.5 L650.0,93.6 L650.9,94.8 L649.5,95.6 L648.2,96.5 L649.9,97.8 L650.4,99.0 L649.6,99.9 L648.2,100.7 L647.7,101.7 L646.7,102.5 L646.4,103.6 L647.6,105.1 L647.5,106.3 L645.9,106.9 L645.0,107.8 L644.3,108.7 L644.6,110.2 L642.7,110.6 L642.2,111.6 L642.5,113.1 L642.2,114.4 L640.2,114.6 L639.1,115.4 L637.8,116.1 L636.0,116.4 L635.5,117.6 L634.4,118.4 L633.8,119.6 L631.3,119.2 L630.9,120.6 L629.3,120.8 L627.2,120.6 L625.2,120.4 L624.0,121.0 L624.1,123.3 L622.2,123.1 L621.4,124.3 L620.1,124.9 L618.2,124.7 L616.3,124.2 L614.9,124.6 L613.3,124.6 L611.6,124.4 L610.4,125.0 L609.2,125.9 L607.8,126.3 L606.4,126.9 L604.5,125.7 L603.0,125.4 L601.7,126.3 L600.3,126.6 L598.7,126.0 L597.2,125.3 L595.8,125.4 L594.3,125.4 L592.9,126.1 L591.4,126.4 L590.1,125.0 L588.5,125.8 L586.8,127.1 L585.3,127.2 L584.3,125.3 L582.9,125.0 L581.2,125.4 L579.3,126.4 L577.8,126.2 L576.4,125.9 L575.0,125.4 L573.8,124.6 L572.8,123.7 L570.6,124.4 L568.7,124.8 L567.6,123.9 L566.6,123.0 L564.8,123.0 L563.0,123.0 L560.9,123.2 L560.1,122.1 L559.7,120.6 L558.6,119.8 L556.6,119.8 L555.1,119.4 L553.0,119.4 L551.5,118.8 L551.0,117.6 L551.5,115.7 L550.1,115.1 L548.1,114.9 L547.6,113.7 L546.3,113.1 L546.9,111.4 L545.7,110.7 L545.2,109.6 L544.6,108.6 L544.5,107.5 L543.1,106.8 L542.3,105.9 L541.2,105.1 L540.2,104.2 L540.6,102.9 L540.7,101.8 L539.5,101.0 L539.9,99.8 L540.2,98.6 L539.9,97.6 L539.9,96.6 L539.0,95.7 L537.9,94.8 L539.0,93.6 L539.2,92.5 L538.4,91.6 L538.6,90.5 L540.0,89.5 L538.2,88.5 L537.5,87.5 L538.5,86.5 L538.4,85.5 L537.8,84.4 L539.3,83.5 L540.7,82.6 L541.5,81.7 L541.2,80.7 L540.7,79.6 L539.8,78.4 L539.9,77.4 L540.1,76.4 L539.7,75.2 L539.3,74.0 L540.6,73.2 L539.5,71.7 L541.4,71.1 L540.9,69.8 L542.1,69.0 L543.8,68.4 L544.8,67.6 L543.3,65.8 L543.6,64.6 L545.0,64.0 L544.7,62.5 L545.8,61.7 L548.1,61.5 L548.8,60.5 L550.0,59.8 L551.2,59.1 L551.5,57.8 L552.8,57.1 L552.9,55.5 L554.2,54.9 L556.9,55.5 L557.5,54.2 L558.1,52.9 L560.5,53.3 L562.3,53.2 L563.3,52.4 L564.0,51.0 L566.0,51.3 L568.1,51.8 L568.7,50.3 L570.3,50.1 L572.0,50.0 L573.3,49.5 L575.1,49.9 L576.8,50.0 L578.3,49.9 L579.7,49.6 L581.2,49.6 L582.9,50.1 L584.3,50.0 L585.6,49.1 L586.9,48.4 L588.4,48.1 L590.0,49.0 L591.4,48.8 L592.9,49.8 L594.3,49.6 L595.8,48.6 L597.3,48.6 L598.8,48.2 L600.2,49.1 L601.6,49.1 L603.0,49.6 L604.3,50.4 L606.0,49.5 L607.6,49.3 L609.2,49.1 L610.3,50.2 L612.1,49.7 L613.8,49.3 L615.8,48.8 L616.5,50.5 L617.3,51.8 L619.6,50.8 L621.0,51.2 L622.6,51.4 L623.7,52.2 L625.2,52.6 L626.9,52.7 L628.7,52.9 L629.2,54.2 L629.9,55.4 L630.7,56.4 L632.1,56.8 L634.4,56.7 L635.0,57.8 L636.5,58.3 L638.8,58.2 L639.1,59.5 L639.2,61.0 L638.9,62.5 L640.0,63.2 L641.6,63.7 L642.1,64.7 L644.1,65.1 L644.3,66.3 L646.0,66.8 L648.6,67.1 L646.9,68.9 L647.0,70.1 L646.8,71.3 L647.2,72.3 L646.7,73.6 L648.7,74.1 L650.1,74.9 L647.9,76.5 L647.6,77.6 L648.6,78.5 L647.7,79.6 L649.9,80.4 L649.3,81.5 L650.2,82.4 L651.0,83.4 L650.5,84.4 L650.9,85.4 L650.0,86.5 Z" fill="#f57e20"/>
<g fill="#f57e20"><circle cx="647.2" cy="111.3" r="0.8"/><circle cx="538.8" cy="78.3" r="0.8"/><circle cx="549.0" cy="57.6" r="0.8"/><circle cx="636.5" cy="116.7" r="0.8"/><circle cx="616.3" cy="124.2" r="0.8"/><circle cx="653.4" cy="85.4" r="0.8"/><circle cx="638.6" cy="62.6" r="0.8"/><circle cx="588.3" cy="47.8" r="0.8"/><circle cx="549.6" cy="117.0" r="0.8"/><circle cx="547.4" cy="113.9" r="0.8"/><circle cx="631.7" cy="55.5" r="0.8"/><circle cx="540.9" cy="89.4" r="0.8"/><circle cx="651.3" cy="90.6" r="0.8"/><circle cx="540.8" cy="67.3" r="0.8"/><circle cx="609.0" cy="125.4" r="0.8"/><circle cx="557.2" cy="119.4" r="0.8"/><circle cx="543.6" cy="69.6" r="0.8"/><circle cx="567.2" cy="122.2" r="0.8"/><circle cx="576.7" cy="49.8" r="0.8"/><circle cx="643.3" cy="64.1" r="0.8"/><circle cx="649.0" cy="104.4" r="0.8"/><circle cx="627.0" cy="122.4" r="0.8"/><circle cx="543.7" cy="68.4" r="0.8"/><circle cx="650.9" cy="74.7" r="0.8"/><circle cx="647.8" cy="106.4" r="0.8"/><circle cx="539.5" cy="76.2" r="0.8"/><circle cx="594.4" cy="47.8" r="0.8"/><circle cx="539.5" cy="97.7" r="0.8"/><circle cx="651.3" cy="89.6" r="0.8"/><circle cx="536.4" cy="96.0" r="0.8"/><circle cx="610.5" cy="125.2" r="0.8"/><circle cx="652.0" cy="90.6" r="0.8"/><circle cx="641.1" cy="65.2" r="0.8"/><circle cx="566.8" cy="125.0" r="0.8"/><circle cx="608.1" cy="47.7" r="0.8"/><circle cx="538.4" cy="97.9" r="0.8"/><circle cx="540.9" cy="82.6" r="0.8"/><circle cx="652.3" cy="99.4" r="0.8"/><circle cx="609.0" cy="49.5" r="0.8"/><circle cx="651.6" cy="89.6" r="0.8"/><circle cx="566.7" cy="49.8" r="0.8"/><circle cx="649.1" cy="88.5" r="0.8"/><circle cx="577.9" cy="49.0" r="0.8"/><circle cx="549.5" cy="59.5" r="0.8"/><circle cx="650.0" cy="93.6" r="0.8"/><circle cx="651.9" cy="88.5" r="0.8"/><circle cx="606.0" cy="49.6" r="0.8"/><circle cx="652.4" cy="74.4" r="0.8"/><circle cx="538.9" cy="69.2" r="0.8"/><circle cx="552.3" cy="58.4" r="0.8"/><circle cx="549.6" cy="56.4" r="0.8"/><circle cx="582.8" cy="49.9" r="0.8"/><circle cx="647.1" cy="70.0" r="0.8"/><circle cx="650.4" cy="97.9" r="0.8"/><circle cx="585.5" cy="48.9" r="0.8"/><circle cx="538.1" cy="86.5" r="0.8"/><circle cx="549.9" cy="120.0" r="0.8"/><circle cx="610.3" cy="124.9" r="0.8"/><circle cx="638.2" cy="62.9" r="0.8"/><circle cx="648.0" cy="66.0" r="0.8"/><circle cx="627.5" cy="120.9" r="0.8"/><circle cx="558.0" cy="120.4" r="0.8"/><circle cx="643.9" cy="109.8" r="0.8"/><circle cx="613.9" cy="125.7" r="0.8"/><circle cx="627.7" cy="51.8" r="0.8"/><circle cx="539.8" cy="105.6" r="0.8"/><circle cx="626.8" cy="122.2" r="0.8"/><circle cx="569.3" cy="123.9" r="0.8"/><circle cx="538.9" cy="78.3" r="0.8"/><circle cx="630.4" cy="118.3" r="0.8"/><circle cx="547.5" cy="113.8" r="0.8"/><circle cx="604.5" cy="49.4" r="0.8"/><circle cx="647.2" cy="108.6" r="0.8"/><circle cx="606.4" cy="126.7" r="0.8"/><circle cx="564.6" cy="49.4" r="0.8"/><circle cx="646.7" cy="63.9" r="0.8"/><circle cx="599.0" cy="128.0" r="0.8"/><circle cx="588.3" cy="47.7" r="0.8"/><circle cx="584.0" cy="126.2" r="0.8"/><circle cx="631.1" cy="56.0" r="0.8"/><circle cx="543.3" cy="69.5" r="0.8"/><circle cx="585.6" cy="49.3" r="0.8"/><circle cx="650.3" cy="76.0" r="0.8"/><circle cx="638.5" cy="59.9" r="0.8"/><circle cx="553.8" cy="54.6" r="0.8"/><circle cx="649.5" cy="76.2" r="0.8"/><circle cx="568.6" cy="50.0" r="0.8"/><circle cx="650.5" cy="89.5" r="0.8"/><circle cx="559.0" cy="121.3" r="0.8"/><circle cx="591.5" cy="125.7" r="0.8"/></g>
<path d="M640.9,86.3 L641.3,87.4 L640.3,88.4 L640.6,89.5 L641.3,90.6 L641.4,91.7 L641.1,92.8 L640.2,93.7 L640.2,94.8 L640.0,95.9 L639.5,96.9 L639.5,98.0 L639.3,99.0 L638.4,99.9 L638.8,101.2 L638.2,102.2 L637.9,103.2 L636.7,103.9 L636.2,104.9 L636.0,106.0 L635.3,106.9 L634.1,107.5 L633.3,108.4 L633.2,109.6 L632.4,110.4 L631.5,111.1 L631.0,112.2 L630.0,112.8 L629.5,113.9 L629.4,115.3 L628.1,115.7 L627.5,116.8 L626.9,117.9 L625.3,117.8 L624.3,118.5 L623.8,119.7 L621.9,119.3 L621.1,120.1 L620.5,121.3 L619.7,122.3 L618.1,122.1 L616.8,122.3 L615.6,122.5 L614.7,123.3 L613.5,123.6 L612.4,124.1 L611.6,125.3 L610.3,125.4 L609.1,125.5 L607.9,125.8 L606.8,126.3 L605.6,126.5 L604.2,126.2 L603.1,126.7 L601.7,126.1 L600.6,126.6 L599.4,126.7 L598.2,127.4 L597.0,127.6 L595.8,127.3 L594.5,127.3 L593.3,127.4 L592.1,126.8 L590.9,126.9 L589.7,127.0 L588.5,126.7 L587.2,127.1 L586.0,126.8 L584.8,126.5 L583.7,125.9 L582.5,125.9 L581.1,126.2 L580.0,125.5 L578.9,125.0 L577.8,124.7 L576.5,124.4 L575.8,123.3 L574.1,123.9 L573.2,123.1 L572.3,122.2 L570.8,122.3 L569.7,121.9 L569.0,120.9 L567.9,120.3 L567.0,119.6 L565.8,119.2 L564.2,119.1 L563.8,117.8 L562.7,117.4 L561.8,116.6 L560.5,116.2 L560.0,115.1 L559.2,114.2 L558.6,113.2 L557.9,112.3 L557.3,111.4 L556.6,110.4 L555.7,109.7 L554.2,109.3 L553.5,108.4 L553.3,107.2 L552.8,106.2 L552.3,105.2 L551.5,104.3 L551.9,102.9 L551.3,102.0 L550.6,101.1 L550.1,100.1 L550.0,99.0 L549.9,97.9 L549.9,96.8 L549.5,95.8 L549.8,94.6 L549.0,93.7 L548.5,92.7 L548.2,91.7 L548.7,90.5 L548.5,89.5 L547.7,88.5 L548.3,87.4 L547.6,86.3 L548.2,85.2 L549.3,84.2 L549.3,83.2 L548.9,82.1 L549.2,81.1 L548.9,80.0 L549.1,78.9 L549.3,77.9 L549.3,76.8 L549.2,75.7 L549.7,74.7 L550.1,73.6 L550.2,72.5 L551.5,71.8 L552.1,70.9 L551.7,69.6 L552.3,68.6 L553.3,67.9 L553.6,66.8 L553.6,65.6 L553.5,64.2 L554.8,63.7 L555.2,62.6 L556.2,61.9 L556.9,61.0 L557.5,60.0 L558.0,58.9 L559.2,58.4 L560.3,57.8 L561.0,56.9 L562.1,56.3 L563.3,55.9 L564.4,55.3 L564.8,54.1 L566.0,53.7 L567.0,53.0 L567.7,52.0 L568.9,51.7 L569.7,50.7 L571.1,50.7 L572.2,50.2 L572.9,49.1 L574.5,49.5 L575.3,48.4 L576.5,48.0 L577.6,47.7 L578.8,47.3 L579.8,46.4 L581.1,46.5 L582.4,46.7 L583.5,46.0 L584.8,46.0 L586.1,46.2 L587.3,46.0 L588.5,45.7 L589.7,46.2 L591.0,46.3 L592.2,46.6 L593.3,45.7 L594.5,45.0 L595.8,45.0 L597.0,45.7 L598.2,45.6 L599.5,45.3 L600.6,45.9 L601.8,46.1 L603.0,46.5 L604.1,46.9 L605.5,46.1 L606.8,46.3 L607.7,47.4 L608.8,48.0 L610.2,47.6 L611.4,47.8 L612.5,48.3 L613.4,49.2 L614.6,49.4 L616.1,49.2 L617.2,49.8 L618.1,50.5 L618.9,51.4 L620.5,51.3 L621.1,52.4 L621.8,53.4 L623.1,53.7 L624.6,53.7 L625.4,54.6 L625.8,55.9 L627.0,56.3 L628.1,56.9 L629.3,57.4 L629.5,58.7 L630.5,59.4 L631.4,60.2 L632.3,60.9 L633.0,61.8 L633.5,62.8 L633.8,64.0 L634.9,64.6 L635.6,65.5 L635.8,66.7 L636.8,67.4 L636.6,68.7 L637.8,69.4 L637.9,70.6 L637.6,71.8 L638.4,72.7 L638.9,73.6 L639.8,74.5 L639.9,75.6 L639.5,76.8 L639.7,77.9 L639.6,79.0 L640.2,80.0 L640.1,81.0 L640.9,82.0 L641.1,83.1 L640.7,84.2 L641.0,85.2 Z" fill="#3aaa30"/>
<g fill="#3aaa30"><circle cx="581.3" cy="47.1" r="0.8"/><circle cx="614.4" cy="122.7" r="0.8"/><circle cx="553.9" cy="106.9" r="0.8"/><circle cx="594.5" cy="126.1" r="0.8"/><circle cx="636.3" cy="72.2" r="0.8"/><circle cx="609.5" cy="126.6" r="0.8"/><circle cx="566.6" cy="52.6" r="0.8"/><circle cx="563.7" cy="56.2" r="0.8"/><circle cx="550.1" cy="81.2" r="0.8"/><circle cx="570.1" cy="121.3" r="0.8"/><circle cx="619.4" cy="121.8" r="0.8"/><circle cx="573.8" cy="122.0" r="0.8"/><circle cx="569.5" cy="50.4" r="0.8"/><circle cx="587.4" cy="46.4" r="0.8"/><circle cx="549.2" cy="91.5" r="0.8"/><circle cx="550.5" cy="104.7" r="0.8"/><circle cx="638.6" cy="70.3" r="0.8"/><circle cx="564.3" cy="55.2" r="0.8"/><circle cx="554.2" cy="63.3" r="0.8"/><circle cx="595.8" cy="44.9" r="0.8"/><circle cx="623.8" cy="118.0" r="0.8"/><circle cx="640.8" cy="97.2" r="0.8"/><circle cx="641.4" cy="90.6" r="0.8"/><circle cx="606.4" cy="47.4" r="0.8"/><circle cx="550.5" cy="95.6" r="0.8"/><circle cx="588.5" cy="46.0" r="0.8"/><circle cx="641.0" cy="79.9" r="0.8"/><circle cx="631.3" cy="58.8" r="0.8"/><circle cx="554.5" cy="110.4" r="0.8"/><circle cx="547.9" cy="87.4" r="0.8"/><circle cx="570.6" cy="49.9" r="0.8"/><circle cx="566.7" cy="52.7" r="0.8"/><circle cx="642.2" cy="92.9" r="0.8"/><circle cx="608.3" cy="126.9" r="0.8"/><circle cx="641.0" cy="83.1" r="0.8"/><circle cx="583.8" cy="125.4" r="0.8"/><circle cx="548.3" cy="85.2" r="0.8"/><circle cx="636.6" cy="103.9" r="0.8"/><circle cx="550.9" cy="73.9" r="0.8"/><circle cx="642.3" cy="90.7" r="0.8"/></g>
<line x1="541.0" y1="3.6" x2="541.0" y2="168.4" stroke="#707070" stroke-width="0.6" stroke-dasharray="1 1.2" stroke-opacity="0.55"/>
<line x1="513.3" y1="140.9" x2="679.4" y2="140.9" stroke="#707070" stroke-width="0.6" stroke-dasharray="1 1.2" stroke-opacity="0.55"/>
<line x1="568.7" y1="3.6" x2="568.7" y2="168.4" stroke="#707070" stroke-width="0.6" stroke-dasharray="1 1.2" stroke-opacity="0.55"/>
<line x1="513.3" y1="113.5" x2="679.4" y2="113.5" stroke="#707070" stroke-width="0.6" stroke-dasharray="1 1.2" stroke-opacity="0.55"/>
<line x1="596.3" y1="3.6" x2="596.3" y2="168.4" stroke="#707070" stroke-width="0.6" stroke-dasharray="1 1.2" stroke-opacity="0.55"/>
<line x1="513.3" y1="86.0" x2="679.4" y2="86.0" stroke="#707070" stroke-width="0.6" stroke-dasharray="1 1.2" stroke-opacity="0.55"/>
<line x1="624.0" y1="3.6" x2="624.0" y2="168.4" stroke="#707070" stroke-width="0.6" stroke-dasharray="1 1.2" stroke-opacity="0.55"/>
<line x1="513.3" y1="58.5" x2="679.4" y2="58.5" stroke="#707070" stroke-width="0.6" stroke-dasharray="1 1.2" stroke-opacity="0.55"/>
<line x1="651.7" y1="3.6" x2="651.7" y2="168.4" stroke="#707070" stroke-width="0.6" stroke-dasharray="1 1.2" stroke-opacity="0.55"/>
<line x1="513.3" y1="31.1" x2="679.4" y2="31.1" stroke="#707070" stroke-width="0.6" stroke-dasharray="1 1.2" stroke-opacity="0.55"/>
<line x1="568.7" y1="3.6" x2="568.7" y2="168.4" stroke="#ff3030" stroke-width="0.9" />
<line x1="513.3" y1="113.5" x2="679.4" y2="113.5" stroke="#ff3030" stroke-width="0.9" />
<line x1="624.0" y1="3.6" x2="624.0" y2="168.4" stroke="#ff3030" stroke-width="0.9" />
<line x1="513.3" y1="58.5" x2="679.4" y2="58.5" stroke="#ff3030" stroke-width="0.9" />
<circle cx="596.3" cy="86.0" r="38.8" fill="none" stroke="#000" stroke-width="1.9" stroke-dasharray="0.1 3" stroke-linecap="round"/>
<line x1="596.3" y1="86.0" x2="620.2" y2="109.9" stroke="#000" stroke-width="1.2" />
<polygon points="623.8,113.4 617.5,111.1 620.4,110.0 621.5,107.2" fill="#000"/>
<text transform="translate(597.5,81.0) rotate(45)" font-family="'Liberation Serif', 'DejaVu Serif', serif" font-size="13.5" font-weight="bold" textLength="37" lengthAdjust="spacingAndGlyphs">2.8 nm</text>
<rect x="518" y="120.3" width="46.4" height="42.9" rx="2" fill="#fff" fill-opacity="0.85" stroke="#6a6a6a" stroke-width="1"/>
<circle cx="530.4" cy="128.5" r="1" fill="#3a8ad0"/>
<text x="546.8" y="131.1" font-size="9" font-family="'Liberation Serif', 'DejaVu Serif', serif" fill="#222" textLength="13.6" lengthAdjust="spacingAndGlyphs" >x_y</text>
<circle cx="530.4" cy="141.8" r="1" fill="#f57e20"/>
<text x="546.8" y="144.4" font-size="9" font-family="'Liberation Serif', 'DejaVu Serif', serif" fill="#222" textLength="13.6" lengthAdjust="spacingAndGlyphs" >x_z</text>
<circle cx="530.4" cy="155" r="1" fill="#3aaa30"/>
<text x="546.8" y="157.6" font-size="9" font-family="'Liberation Serif', 'DejaVu Serif', serif" fill="#222" textLength="13.6" lengthAdjust="spacingAndGlyphs" >y_z</text>
<rect x="513.3" y="3.6" width="166.1" height="164.8" fill="none" stroke="#000" stroke-width="1.1"/>
<line x1="513.3" y1="168.4" x2="513.3" y2="171.4" stroke="#000" stroke-width="0.9" />
<line x1="510.3" y1="168.4" x2="513.3" y2="168.4" stroke="#000" stroke-width="0.9" />
<text x="513.3" y="180.9" font-size="9.5" font-family="'Liberation Serif', 'DejaVu Serif', serif" fill="#222" text-anchor="middle" >−6</text>
<text x="508.8" y="171.7" font-size="9.5" font-family="'Liberation Serif', 'DejaVu Serif', serif" fill="#222" text-anchor="end" >−6</text>
<line x1="541.0" y1="168.4" x2="541.0" y2="171.4" stroke="#000" stroke-width="0.9" />
<line x1="510.3" y1="140.9" x2="513.3" y2="140.9" stroke="#000" stroke-width="0.9" />
<text x="541.0" y="180.9" font-size="9.5" font-family="'Liberation Serif', 'DejaVu Serif', serif" fill="#222" text-anchor="middle" >−4</text>
<text x="508.8" y="144.2" font-size="9.5" font-family="'Liberation Serif', 'DejaVu Serif', serif" fill="#222" text-anchor="end" >−4</text>
<line x1="568.7" y1="168.4" x2="568.7" y2="171.4" stroke="#000" stroke-width="0.9" />
<line x1="510.3" y1="113.5" x2="513.3" y2="113.5" stroke="#000" stroke-width="0.9" />
<text x="568.7" y="180.9" font-size="9.5" font-family="'Liberation Serif', 'DejaVu Serif', serif" fill="#222" text-anchor="middle" >−2</text>
<text x="508.8" y="116.8" font-size="9.5" font-family="'Liberation Serif', 'DejaVu Serif', serif" fill="#222" text-anchor="end" >−2</text>
<line x1="596.3" y1="168.4" x2="596.3" y2="171.4" stroke="#000" stroke-width="0.9" />
<line x1="510.3" y1="86.0" x2="513.3" y2="86.0" stroke="#000" stroke-width="0.9" />
<text x="596.3" y="180.9" font-size="9.5" font-family="'Liberation Serif', 'DejaVu Serif', serif" fill="#222" text-anchor="middle" >0</text>
<text x="508.8" y="89.3" font-size="9.5" font-family="'Liberation Serif', 'DejaVu Serif', serif" fill="#222" text-anchor="end" >0</text>
<line x1="624.0" y1="168.4" x2="624.0" y2="171.4" stroke="#000" stroke-width="0.9" />
<line x1="510.3" y1="58.5" x2="513.3" y2="58.5" stroke="#000" stroke-width="0.9" />
<text x="624.0" y="180.9" font-size="9.5" font-family="'Liberation Serif', 'DejaVu Serif', serif" fill="#222" text-anchor="middle" >2</text>
<text x="508.8" y="61.8" font-size="9.5" font-family="'Liberation Serif', 'DejaVu Serif', serif" fill="#222" text-anchor="end" >2</text>
<line x1="651.7" y1="168.4" x2="651.7" y2="171.4" stroke="#000" stroke-width="0.9" />
<line x1="510.3" y1="31.1" x2="513.3" y2="31.1" stroke="#000" stroke-width="0.9" />
<text x="651.7" y="180.9" font-size="9.5" font-family="'Liberation Serif', 'DejaVu Serif', serif" fill="#222" text-anchor="middle" >4</text>
<text x="508.8" y="34.4" font-size="9.5" font-family="'Liberation Serif', 'DejaVu Serif', serif" fill="#222" text-anchor="end" >4</text>
<line x1="679.4" y1="168.4" x2="679.4" y2="171.4" stroke="#000" stroke-width="0.9" />
<line x1="510.3" y1="3.6" x2="513.3" y2="3.6" stroke="#000" stroke-width="0.9" />
<text x="679.4" y="180.9" font-size="9.5" font-family="'Liberation Serif', 'DejaVu Serif', serif" fill="#222" text-anchor="middle" >6</text>
<text x="508.8" y="6.9" font-size="9.5" font-family="'Liberation Serif', 'DejaVu Serif', serif" fill="#222" text-anchor="end" >6</text>
<text x="534.2" y="200.6" font-size="19.2" font-family="'Liberation Serif', 'DejaVu Serif', serif" fill="#000" textLength="136" lengthAdjust="spacingAndGlyphs" >Coordinate 1 (nm)</text>
<text transform="translate(492.4,150.6) rotate(-90)" font-family="'Liberation Serif', 'DejaVu Serif', serif" font-size="19.6" textLength="135.8" lengthAdjust="spacingAndGlyphs">Coordinate 2 (nm)</text>
<defs>
<clipPath id="ci"><rect x="307.5" y="216.0" width="165.9" height="100.2"/></clipPath>
<clipPath id="cii"><rect x="508.3" y="216.0" width="168.9" height="100.2"/></clipPath>
<clipPath id="ciii"><rect x="311.4" y="337.5" width="163.2" height="99.7"/></clipPath>
<clipPath id="civ"><rect x="510.2" y="337.5" width="166.4" height="99.7"/></clipPath>
</defs>
<text x="254.0" y="232.0" font-size="16" font-family="'Liberation Serif', 'DejaVu Serif', serif" fill="#000" font-weight="bold" textLength="13.8" lengthAdjust="spacingAndGlyphs" >E.</text>
<g clip-path="url(#ci)">
<path d="M307.5,246.1l0.1,2.5 0.1,-7.5 0.1,5 0.1,2.5 0.2,-5 0.1,0 0.1,15.1 0.1,-7.6 0.1,-5 0.1,0 0.1,7.5 0.1,-7.5 0.1,10.1 0.1,-2.6 0.2,0 0.1,0 0.1,0 0.1,0 0.1,5.1 0.1,-5.1 0.1,10.1 0.1,-2.5 0.1,-10.1 0.2,7.6 0.1,-2.5 0.1,5 0.1,-2.5 0.1,0 0.1,-2.5 0.1,2.5 0.1,0 0.1,-2.5 0.2,-2.6 0.1,2.6 0.1,-2.6 0.1,0 0.1,7.6 0.1,5 0.1,-15.1 0.1,2.5 0.1,5.1 0.1,0 0.2,5 0.1,2.5 0.1,-7.5 0.1,7.5 0.1,-7.5 0.1,5 0.1,-2.5 0.1,-7.6 0.1,0 0.2,10.1 0.1,-7.5 0.1,10 0.1,-2.5 0.1,-2.5 0.1,-5 0.1,7.5 0.1,-5 0.1,2.5 0.2,5 0.1,-5 0.1,-7.6 0.1,5.1 0.1,-2.5 0.1,0 0.1,7.5 0.1,-7.5 0.1,-2.6 0.1,0 0.2,2.6 0.1,7.5 0.1,0 0.1,2.5 0.1,0 0.1,0 0.1,-7.5 0.1,-5.1 0.1,10.1 0.2,-5 0.1,7.5 0.1,-5 0.1,2.5 0.1,2.5 0.1,-7.5 0.1,0 0.1,2.5 0.1,0 0.1,0 0.2,-5 0.1,2.5 0.1,-5.1 0.1,7.6 0.1,-5 0.1,-2.6 0.1,-2.5 0.1,0 0.1,5.1 0.2,2.5 0.1,2.5 0.1,-5 0.1,-7.6 0.1,0 0.1,17.6 0.1,-7.5 0.1,-2.5 0.1,2.5 0.2,-7.6 0.1,0 0.1,2.5 0.1,-2.5 0.1,5.1 0.1,-2.6 0.1,0 0.1,-7.5 0.1,7.5 0.1,-5 0.2,-2.5 0.1,2.5 0.1,-2.5 0.1,5 0.1,-5 0.1,-2.5 0.1,-5 0.1,7.5 0.1,-2.5 0.2,7.5 0.1,-2.5 0.1,-5 0.1,5 0.1,-2.5 0.1,5 0.1,-7.5 0.1,0 0.1,12.6 0.2,-10.1 0.1,5 0.1,2.5 0.1,2.6 0.1,-2.6 0.1,5.1 0.1,0 0.1,0 0.1,-5.1 0.1,0 0.2,0 0.1,2.6 0.1,2.5 0.1,7.5 0.1,-10 0.1,2.5 0.1,-2.5 0.1,-5.1 0.1,7.6 0.2,0 0.1,10 0.1,-12.5 0.1,2.5 0.1,2.5 0.1,-5 0.1,5 0.1,-2.5 0.1,-10.1 0.2,5 0.1,-2.5 0.1,0 0.1,2.5 0.1,0 0.1,-7.5 0.1,10.1 0.1,-5.1 0.1,5.1 0.1,0 0.2,10 0.1,-2.5 0.1,-15.1 0.1,0 0.1,7.6 0.1,-2.6 0.1,-2.5 0.1,7.6 0.1,-12.6 0.2,12.6 0.1,-2.5 0.1,10 0.1,-17.6 0.1,5 0.1,-5 0.1,10.1 0.1,-5.1 0.1,0 0.1,0 0.2,-7.5 0.1,0 0.1,5 0.1,7.6 0.1,-5.1 0.1,-2.5 0.1,2.5 0.1,2.6 0.1,0 0.2,7.5 0.1,-5 0.1,-5.1 0.1,10.1 0.1,-2.5 0.1,-5 0.1,10 0.1,-5 0.1,7.5 0.2,-5 0.1,5 0.1,-2.5 0.1,-2.5 0.1,0 0.1,0 0.1,7.5 0.1,-15 0.1,7.5 0.1,5 0.2,-2.5 0.1,-2.5 0.1,5 0.1,-5 0.1,0 0.1,-2.5 0.1,5 0.1,-5 0.1,0 0.2,2.5 0.1,-7.5 0.1,5 0.1,5 0.1,-5 0.1,0 0.1,0 0.1,-2.5 0.1,-7.6 0.2,7.6 0.1,0 0.1,2.5 0.1,-7.6 0.1,5.1 0.1,5 0.1,0 0.1,-7.5 0.1,-2.6 0.1,10.1 0.2,-2.5 0.1,-7.6 0.1,-2.5 0.1,10.1 0.1,-5 0.1,-5.1 0.1,5.1 0.1,0 0.1,0 0.2,2.5 0.1,-5.1 0.1,-2.5 0.1,7.6 0.1,-5.1 0.1,-5 0.1,5 0.1,-5 0.1,7.6 0.1,-10.1 0.2,10.1 0.1,-10.1 0.1,10.1 0.1,2.5 0.1,0 0.1,-2.5 0.1,0 0.1,2.5 0.1,-2.5 0.2,-5.1 0.1,0 0.1,5.1 0.1,-5.1 0.1,10.1 0.1,0 0.1,0 0.1,-7.6 0.1,10.1 0.2,0 0.1,-10.1 0.1,-2.5 0.1,2.5 0.1,10.1 0.1,-5 0.1,-5.1 0.1,5.1 0.1,7.5 0.1,-5 0.2,5 0.1,0 0.1,-15.1 0.1,7.6 0.1,7.5 0.1,0 0.1,-7.5 0.1,5 0.1,-5 0.2,5 0.1,0 0.1,-2.5 0.1,7.5 0.1,2.5 0.1,-5 0.1,-2.5 0.1,-2.5 0.1,0 0.2,0 0.1,-2.5 0.1,7.5 0.1,-10 0.1,-2.6 0.1,7.6 0.1,0 0.1,-5 0.1,2.5 0.1,2.5 0.2,0 0.1,2.5 0.1,2.5 0.1,-10 0.1,-2.6 0.1,10.1 0.1,-2.5 0.1,-2.5 0.1,5 0.2,0 0.1,-2.5 0.1,5 0.1,-7.5 0.1,2.5 0.1,-10.1 0.1,5.1 0.1,5 0.1,-2.5 0.2,-7.6 0.1,0 0.1,5.1 0.1,2.5 0.1,5 0.1,-5 0.1,0 0.1,2.5 0.1,-10.1 0.1,17.6 0.2,-7.5 0.1,-2.5 0.1,0 0.1,-5.1 0.1,12.6 0.1,-2.5 0.1,-5 0.1,0 0.1,0 0.2,2.5 0.1,-7.6 0.1,7.6 0.1,0 0.1,-10.1 0.1,0 0.1,2.5 0.1,7.6 0.1,0 0.1,0 0.2,2.5 0.1,-5 0.1,-7.6 0.1,5.1 0.1,5 0.1,0 0.1,2.5 0.1,-10.1 0.1,12.6 0.2,-7.5 0.1,7.5 0.1,-2.5 0.1,2.5 0.1,-12.6 0.1,5.1 0.1,-12.6 0.1,15.1 0.1,0 0.2,-7.6 0.1,0 0.1,2.6 0.1,7.5 0.1,-15.1 0.1,2.5 0.1,2.5 0.1,2.6 0.1,-5.1 0.1,5.1 0.2,-2.6 0.1,2.6 0.1,-7.6 0.1,7.6 0.1,0 0.1,-7.6 0.1,5 0.1,0 0.1,2.6 0.2,-5.1 0.1,7.6 0.1,-7.6 0.1,-5 0.1,7.5 0.1,5.1 0.1,2.5 0.1,-7.6 0.1,7.6 0.2,0 0.1,-2.5 0.1,2.5 0.1,-10.1 0.1,10.1 0.1,-12.6 0.1,10.1 0.1,-2.5 0.1,-2.6 0.1,2.6 0.2,0 0.1,7.5 0.1,5 0.1,-7.5 0.1,5 0.1,-5 0.1,-5 0.1,5 0.1,2.5 0.2,2.5 0.1,-5 0.1,0 0.1,5 0.1,-7.5 0.1,5 0.1,-5 0.1,2.5 0.1,-5 0.1,0 0.2,5 0.1,0 0.1,-2.5 0.1,-5.1 0.1,0 0.1,5.1 0.1,0 0.1,-5.1 0.1,12.6 0.2,-10 0.1,7.5 0.1,-10.1 0.1,7.6 0.1,-2.5 0.1,5 0.1,-5 0.1,-2.5 0.1,-5.1 0.2,12.6 0.1,-2.5 0.1,-20.1 0.1,12.5 0.1,5.1 0.1,-2.5 0.1,15 0.1,-20.1 0.1,7.6 0.1,5 0.2,-12.6 0.1,7.6 0.1,2.5 0.1,-7.6 0.1,2.6 0.1,2.5 0.1,-2.5 0.1,7.5 0.1,0 0.2,-10.1 0.1,-2.5 0.1,2.5 0.1,0 0.1,2.6 0.1,0 0.1,5 0.1,-12.6 0.1,10.1 0.2,-5.1 0.1,2.6 0.1,5 0.1,-15.1 0.1,10.1 0.1,2.5 0.1,-5.1 0.1,5.1 0.1,-2.5 0.1,2.5 0.2,-5.1 0.1,0 0.1,7.6 0.1,-10.1 0.1,2.5 0.1,5.1 0.1,-7.6 0.1,0 0.1,-5 0.2,12.6 0.1,-7.6 0.1,5.1 0.1,-2.6 0.1,2.6 0.1,0 0.1,-2.6 0.1,7.6 0.1,5 0.2,-10 0.1,2.5 0.1,-2.5 0.1,-2.6 0.1,5.1 0.1,-7.6 0.1,5.1 0.1,0 0.1,-2.6 0.1,2.6 0.2,0 0.1,0 0.1,5 0.1,0 0.1,-2.5 0.1,-2.5 0.1,5 0.1,-7.6 0.1,-5 0.2,0 0.1,10.1 0.1,-5.1 0.1,0 0.1,0 0.1,2.6 0.1,0 0.1,0 0.1,2.5 0.1,2.5 0.2,-2.5 0.1,0 0.1,-5.1 0.1,2.6 0.1,0 0.1,-2.6 0.1,10.1 0.1,-5 0.1,-2.5 0.2,2.5 0.1,2.5 0.1,-7.6 0.1,5.1 0.1,5 0.1,-12.6 0.1,12.6 0.1,-5 0.1,2.5 0.2,-2.5 0.1,-2.5 0.1,7.5 0.1,-5 0.1,0 0.1,5 0.1,-10.1 0.1,2.6 0.1,2.5 0.1,2.5 0.2,-2.5 0.1,0 0.1,0 0.1,-7.6 0.1,17.6 0.1,0 0.1,-10 0.1,7.5 0.1,-10 0.2,2.5 0.1,-5.1 0.1,0 0.1,-2.5 0.1,2.5 0.1,-2.5 0.1,2.5 0.1,0 0.1,2.6 0.2,2.5 0.1,2.5 0.1,0 0.1,-7.6 0.1,12.6 0.1,-10 0.1,2.5 0.1,-7.6 0.1,2.5 0.1,7.6 0.2,-5 0.1,10 0.1,-10 0.1,0 0.1,7.5 0.1,-10.1 0.1,5.1 0.1,-2.5 0.1,7.5 0.2,-10.1 0.1,0 0.1,2.6 0.1,5 0.1,-7.6 0.1,-2.5 0.1,5.1 0.1,-2.6 0.1,5.1 0.1,-2.5 0.2,0 0.1,0 0.1,-12.6 0.1,12.6 0.1,2.5 0.1,-5.1 0.1,7.6 0.1,-5 0.1,-2.6 0.2,5.1 0.1,0 0.1,5 0.1,-5 0.1,2.5 0.1,-10.1 0.1,5.1 0.1,2.5 0.1,5 0.2,-12.6 0.1,2.5 0.1,2.6 0.1,2.5 0.1,0 0.1,2.5 0.1,-10.1 0.1,7.6 0.1,7.5 0.1,-5 0.2,7.5 0.1,-12.5 0.1,0 0.1,-5.1 0.1,-2.5 0.1,12.6 0.1,-5 0.1,-2.6 0.1,0 0.2,5.1 0.1,-5.1 0.1,0 0.1,-2.5 0.1,5.1 0.1,2.5 0.1,0 0.1,0 0.1,2.5 0.2,-2.5 0.1,-5.1 0.1,0 0.1,-5 0.1,2.5 0.1,2.5 0.1,5.1 0.1,-7.6 0.1,0 0.1,10.1 0.2,0 0.1,0 0.1,0 0.1,-5 0.1,2.5 0.1,-5.1 0.1,7.6 0.1,-5 0.1,2.5 0.2,2.5 0.1,-10.1 0.1,5.1 0.1,-2.6 0.1,5.1 0.1,-5.1 0.1,2.6 0.1,2.5 0.1,7.5 0.2,-10 0.1,0 0.1,2.5 0.1,0 0.1,2.5 0.1,0 0.1,5 0.1,-5 0.1,-2.5 0.1,5 0.2,2.5 0.1,-12.6 0.1,5.1 0.1,5 0.1,0 0.1,10 0.1,-5 0.1,-5 0.1,-5 0.2,12.5 0.1,-5 0.1,-10 0.1,5 0.1,0 0.1,-2.5 0.1,5 0.1,2.5 0.1,-2.5 0.1,-2.5 0.2,7.5 0.1,-10 0.1,15 0.1,-5 0.1,-15.1 0.1,15.1 0.1,-5 0.1,7.5 0.1,-2.5 0.2,0 0.1,-2.5 0.1,-5 0.1,-2.5 0.1,2.5 0.1,-2.5 0.1,10 0.1,-7.5 0.1,2.5 0.2,-5 0.1,7.5 0.1,-2.5 0.1,-5 0.1,2.5 0.1,2.5 0.1,2.5 0.1,-2.5 0.1,-2.5 0.1,-2.5 0.2,7.5 0.1,-2.5 0.1,-2.5 0.1,5 0.1,-7.5 0.1,2.5 0.1,2.5 0.1,7.5 0.1,-2.5 0.2,-2.5 0.1,-2.5 0.1,2.5 0.1,-5 0.1,0 0.1,2.5 0.1,5 0.1,-12.5 0.1,5 0.2,-2.5 0.1,5 0.1,-2.5 0.1,-2.5 0.1,2.5 0.1,-2.5 0.1,5 0.1,-7.5 0.1,15 0.1,-7.5 0.2,-5 0.1,5 0.1,0 0.1,7.5 0.1,-12.5 0.1,12.5 0.1,-10 0.1,0 0.1,-2.5 0.2,-5.1 0.1,10.1 0.1,2.5 0.1,-2.5 0.1,5 0.1,-10 0.1,5 0.1,-2.5 0.1,5 0.1,-5 0.2,2.5 0.1,-2.5 0.1,2.5 0.1,-10.1 0.1,7.6 0.1,10 0.1,-15 0.1,5 0.1,2.5 0.2,-15.1 0.1,12.6 0.1,5 0.1,-2.5 0.1,-5 0.1,2.5 0.1,-7.6 0.1,0 0.1,7.6 0.2,-2.5 0.1,-2.5 0.1,5 0.1,0 0.1,-5 0.1,2.5 0.1,7.5 0.1,-5 0.1,0 0.1,0 0.2,2.5 0.1,-10.1 0.1,10.1 0.1,0 0.1,-5 0.1,10 0.1,-5 0.1,-7.5 0.1,10 0.2,-2.5 0.1,-7.5 0.1,2.5 0.1,2.5 0.1,0 0.1,5 0.1,-5 0.1,2.5 0.1,-12.6 0.2,10.1 0.1,2.5 0.1,-2.5 0.1,-2.5 0.1,2.5 0.1,-2.5 0.1,-10.1 0.1,10.1 0.1,-2.5 0.1,-7.6 0.2,-2.5 0.1,12.6 0.1,-10.1 0.1,7.6 0.1,-7.6 0.1,7.6 0.1,2.5 0.1,-2.5 0.1,0 0.2,7.5 0.1,-10.1 0.1,10.1 0.1,-7.5 0.1,7.5 0.1,7.5 0.1,-2.5 0.1,-7.5 0.1,-2.5 0.2,-5.1 0.1,7.6 0.1,0 0.1,5 0.1,-7.5 0.1,0 0.1,10 0.1,-15.1 0.1,0 0.1,-5 0.2,15.1 0.1,-5 0.1,0 0.1,5 0.1,0 0.1,0 0.1,-7.5 0.1,2.5 0.1,-5.1 0.2,7.6 0.1,5 0.1,-10 0.1,0 0.1,-2.6 0.1,-2.5 0.1,10.1 0.1,-7.6 0.1,7.6 0.1,-2.5 0.2,-2.5 0.1,5 0.1,-2.5 0.1,5 0.1,-2.5 0.1,-2.5 0.1,5 0.1,-2.5 0.1,-12.6 0.2,10.1 0.1,5 0.1,0 0.1,-10.1 0.1,17.6 0.1,-10 0.1,-2.5 0.1,2.5 0.1,-2.5 0.2,5 0.1,-5 0.1,0 0.1,0 0.1,0 0.1,0 0.1,-5.1 0.1,5.1 0.1,2.5 0.1,-2.5 0.2,0 0.1,5 0.1,2.5 0.1,-2.5 0.1,-7.5 0.1,7.5 0.1,-2.5 0.1,-15.1 0.1,7.5 0.2,7.6 0.1,0 0.1,-10.1 0.1,10.1 0.1,-10.1 0.1,2.5 0.1,-2.5 0.1,7.6 0.1,-7.6 0.2,12.6 0.1,-7.5 0.1,-7.6 0.1,2.5 0.1,10.1 0.1,-10.1 0.1,2.5 0.1,2.6 0.1,2.5 0.1,-2.5 0.2,2.5 0.1,-7.6 0.1,2.5 0.1,-2.5 0.1,2.5 0.1,7.6 0.1,-5 0.1,-10.1 0.1,15.1 0.2,-5 0.1,5 0.1,0 0.1,-5 0.1,-2.6 0.1,0 0.1,0 0.1,-2.5 0.1,10.1 0.1,-10.1 0.2,2.5 0.1,5.1 0.1,-2.5 0.1,5 0.1,-7.6 0.1,7.6 0.1,5 0.1,-7.5 0.1,2.5 0.2,0 0.1,-7.6 0.1,7.6 0.1,0 0.1,-10.1 0.1,15.1 0.1,-7.5 0.1,-2.5 0.1,-2.6 0.2,-2.5 0.1,12.6 0.1,-5 0.1,2.5 0.1,2.5 0.1,0 0.1,2.5 0.1,-5 0.1,-2.5 0.1,7.5 0.2,-7.5 0.1,5 0.1,2.5 0.1,7.5 0.1,-17.5 0.1,2.5 0.1,5 0.1,0 0.1,5 0.2,-7.5 0.1,2.5 0.1,-5 0.1,2.5 0.1,5 0.1,0 0.1,-7.5 0.1,7.5 0.1,-7.5 0.2,-2.5 0.1,10 0.1,-10 0.1,5 0.1,-2.5 0.1,5 0.1,-5 0.1,0 0.1,-5.1 0.1,5.1 0.2,0 0.1,7.5 0.1,-7.5 0.1,5 0.1,-5 0.1,0 0.1,-2.5 0.1,0 0.1,2.5 0.2,0 0.1,-5.1 0.1,10.1 0.1,-5 0.1,-2.5 0.1,5 0.1,-5 0.1,-2.6 0.1,-5 0.2,5 0.1,12.6 0.1,-7.5 0.1,0 0.1,-2.5 0.1,2.5 0.1,-5.1 0.1,2.6 0.1,10 0.1,-2.5 0.2,5 0.1,-15.1 0.1,7.6 0.1,0 0.1,5 0.1,-5 0.1,-5 0.1,5 0.1,0 0.2,0 0.1,-12.6 0.1,12.6 0.1,2.5 0.1,-2.5 0.1,-2.5 0.1,0 0.1,0 0.1,5 0.1,-2.5 0.2,-2.5 0.1,5 0.1,-12.6 0.1,2.5 0.1,15.1 0.1,-7.5 0.1,-5 0.1,-2.6 0.1,-2.5 0.2,17.6 0.1,-2.5 0.1,-5 0.1,-5 0.1,7.5 0.1,-7.5 0.1,0 0.1,-2.6 0.1,10.1 0.2,-7.5 0.1,2.5 0.1,0 0.1,-7.6 0.1,7.6 0.1,-7.6 0.1,10.1 0.1,-10.1 0.1,0 0.1,10.1 0.2,-5 0.1,0 0.1,7.5 0.1,-7.5 0.1,0 0.1,7.5 0.1,-5 0.1,-2.5 0.1,5 0.2,2.5 0.1,-10.1 0.1,10.1 0.1,-5 0.1,-2.5 0.1,0 0.1,10 0.1,-7.5 0.1,0 0.2,0 0.1,-2.5 0.1,0 0.1,0 0.1,0 0.1,-2.6 0.1,0 0.1,12.6 0.1,-17.6 0.1,12.6 0.2,-5 0.1,10 0.1,-5 0.1,2.5 0.1,-10.1 0.1,2.6 0.1,5 0.1,0 0.1,-2.5 0.2,5 0.1,0 0.1,0 0.1,-7.5 0.1,2.5 0.1,5 0.1,-7.5 0.1,0 0.1,-5.1 0.1,7.6 0.2,-2.5 0.1,-7.6 0.1,10.1 0.1,0 0.1,-5.1 0.1,5.1 0.1,0 0.1,2.5 0.1,0 0.2,-5 0.1,5 0.1,2.5 0.1,-5 0.1,0 0.1,-2.5 0.1,0 0.1,-5.1 0.1,15.1 0.2,-5 0.1,7.5 0.1,-10 0.1,-2.5 0.1,5 0.1,0 0.1,2.5 0.1,0 0.1,-10.1 0.1,-5 0.2,12.6 0.1,-12.6 0.1,7.6 0.1,5 0.1,-7.6 0.1,0 0.1,0 0.1,5.1 0.1,-10.1 0.2,7.6 0.1,-2.6 0.1,0 0.1,7.6 0.1,2.5 0.1,0 0.1,-5 0.1,-2.5 0.1,10 0.2,-5 0.1,-10.1 0.1,12.6 0.1,-10.1 0.1,2.6 0.1,-2.6 0.1,10.1 0.1,-7.5 0.1,7.5 0.1,-12.6 0.2,10.1 0.1,-7.6 0.1,5.1 0.1,-2.5 0.1,7.5 0.1,-7.5 0.1,0 0.1,2.5 0.1,-7.6 0.2,5.1 0.1,0 0.1,0 0.1,-5.1 0.1,12.6 0.1,-2.5 0.1,-2.5 0.1,-2.5 0.1,2.5 0.2,-2.5 0.1,2.5 0.1,2.5 0.1,0 0.1,-5 0.1,12.5 0.1,-15.1 0.1,7.6 0.1,0 0.1,-2.5 0.2,2.5 0.1,5 0.1,-5 0.1,-7.6 0.1,2.6 0.1,-2.6 0.1,10.1 0.1,-2.5 0.1,-5 0.2,-2.6 0.1,7.6 0.1,2.5 0.1,2.5 0.1,-12.6 0.1,12.6 0.1,-10 0.1,0 0.1,-12.6 0.1,15.1 0.2,0 0.1,-2.5 0.1,0 0.1,-5.1 0.1,2.5 0.1,7.6 0.1,5 0.1,-10 0.1,7.5 0.2,-10.1 0.1,12.6 0.1,-7.5 0.1,2.5 0.1,2.5 0.1,-12.6 0.1,7.6 0.1,2.5 0.1,-5 0.2,7.5 0.1,-2.5 0.1,0 0.1,-10.1 0.1,5.1 0.1,0 0.1,-2.6 0.1,5.1 0.1,0 0.1,5 0.2,-10.1 0.1,2.6 0.1,2.5 0.1,-7.6 0.1,12.6 0.1,-10.1 0.1,7.6 0.1,0 0.1,-5 0.2,-7.6 0.1,12.6 0.1,-2.5 0.1,2.5 0.1,-15.1 0.1,7.5 0.1,0 0.1,-7.5 0.1,7.5 0.2,10.1 0.1,-5 0.1,2.5 0.1,-15.1 0.1,15.1 0.1,-7.6 0.1,5.1 0.1,-2.5 0.1,-2.6 0.1,2.6 0.2,2.5 0.1,2.5 0.1,-2.5 0.1,0 0.1,0 0.1,-5.1 0.1,2.6 0.1,-2.6 0.1,5.1 0.2,-10.1 0.1,10.1 0.1,2.5 0.1,-10.1 0.1,7.6 0.1,-2.5 0.1,-5.1 0.1,5.1 0.1,2.5 0.1,-5.1 0.2,2.6 0.1,2.5 0.1,5 0.1,-2.5 0.1,5 0.1,-2.5 0.1,0 0.1,-5 0.1,-2.5 0.2,7.5 0.1,0 0.1,2.5 0.1,0 0.1,-5 0.1,-2.5 0.1,0 0.1,0 0.1,2.5 0.2,12.5 0.1,-17.5 0.1,-2.6 0.1,2.6 0.1,0 0.1,0 0.1,-7.6 0.1,10.1 0.1,-5.1 0.1,2.6 0.2,2.5 0.1,2.5 0.1,0 0.1,5 0.1,-7.5 0.1,2.5 0.1,5 0.1,-2.5 0.1,0 0.2,-12.6 0.1,10.1 0.1,-2.5 0.1,5 0.1,0 0.1,-10.1 0.1,5.1 0.1,0 0.1,-7.6 0.2,-2.5 0.1,7.6 0.1,0 0.1,2.5 0.1,2.5 0.1,-10.1 0.1,15.1 0.1,-5 0.1,7.5 0.1,-2.5 0.2,-7.5 0.1,0 0.1,0 0.1,2.5 0.1,2.5 0.1,-2.5 0.1,0 0.1,-7.6 0.1,0 0.2,5.1 0.1,2.5 0.1,2.5 0.1,-5 0.1,2.5 0.1,7.5 0.1,-15.1 0.1,7.6 0.1,0 0.2,2.5 0.1,0 0.1,-7.5 0.1,7.5 0.1,-2.5 0.1,-2.5 0.1,-5.1 0.1,5.1 0.1,2.5 0.1,2.5 0.2,-7.5 0.1,0 0.1,7.5 0.1,-5 0.1,2.5 0.1,7.5 0.1,-2.5 0.1,-7.5 0.1,-5.1 0.2,2.6 0.1,5 0.1,2.5 0.1,-7.5 0.1,2.5 0.1,7.5 0.1,-10 0.1,7.5 0.1,-5 0.1,0 0.2,0 0.1,-2.5 0.1,0 0.1,10 0.1,-2.5 0.1,-7.5 0.1,2.5 0.1,10 0.1,0 0.2,-12.5 0.1,-5.1 0.1,5.1 0.1,5 0.1,-2.5 0.1,15 0.1,-7.5 0.1,-7.5 0.1,0 0.2,15 0.1,-17.5 0.1,2.5 0.1,0 0.1,5 0.1,-2.5 0.1,5 0.1,-7.5 0.1,-2.5 0.1,7.5 0.2,-5 0.1,2.5 0.1,-7.6 0.1,0 0.1,15.1 0.1,-10 0.1,-5.1 0.1,7.6 0.1,-2.5 0.2,0 0.1,5 0.1,-5 0.1,-7.6 0.1,5.1 0.1,-5.1 0.1,2.5 0.1,-2.5 0.1,5.1 0.2,-2.6 0.1,-7.5 0.1,2.5 0.1,5 0.1,5.1 0.1,0 0.1,-5.1 0.1,-2.5 0.1,10.1 0.1,-10.1 0.2,-2.5 0.1,0 0.1,2.5 0.1,-10 0.1,5" fill="none" stroke="#ff2020" stroke-width="0.6" stroke-linejoin="round" />
<path d="M307.5,258.7l0.1,-2.5 0.1,-10.1 0.1,2.5 0.1,2.5 0.2,2.5 0.1,2.6 0.1,0 0.1,5 0.1,-10.1 0.1,22.6 0.1,-12.5 0.1,-12.6 0.1,15.1 0.1,2.5 0.2,-20.1 0.1,7.5 0.1,10.1 0.1,2.5 0.1,0 0.1,2.5 0.1,0 0.1,2.5 0.1,-10 0.2,7.5 0.1,10.1 0.1,-5.1 0.1,-10 0.1,7.5 0.1,7.6 0.1,-25.2 0.1,7.6 0.1,7.5 0.2,0 0.1,-7.5 0.1,-7.6 0.1,15.1 0.1,-7.5 0.1,7.5 0.1,-5 0.1,7.5 0.1,5 0.1,-10 0.2,0 0.1,-5 0.1,10 0.1,-12.5 0.1,7.5 0.1,-10 0.1,15 0.1,-12.5 0.1,10 0.2,-2.5 0.1,-5 0.1,20.1 0.1,-5.1 0.1,-20 0.1,22.6 0.1,-7.6 0.1,-7.5 0.1,-5 0.2,12.5 0.1,-5 0.1,7.5 0.1,-5 0.1,-10 0.1,5 0.1,2.5 0.1,-2.5 0.1,2.5 0.1,0 0.2,5 0.1,2.5 0.1,-10 0.1,12.5 0.1,-15 0.1,-7.6 0.1,5.1 0.1,-7.6 0.1,22.6 0.2,-7.5 0.1,5 0.1,0 0.1,5 0.1,-2.5 0.1,-15 0.1,2.5 0.1,-5 0.1,0 0.1,2.5 0.2,10 0.1,-5 0.1,-7.5 0.1,-2.6 0.1,10.1 0.1,2.5 0.1,-2.5 0.1,-12.6 0.1,7.6 0.2,5 0.1,2.5 0.1,-7.5 0.1,15 0.1,-10 0.1,0 0.1,0 0.1,-5 0.1,-2.5 0.2,-17.6 0.1,17.6 0.1,-5.1 0.1,10.1 0.1,5 0.1,-17.6 0.1,-5 0.1,17.6 0.1,-7.6 0.1,-7.5 0.2,7.5 0.1,17.6 0.1,-22.6 0.1,7.6 0.1,-7.6 0.1,12.6 0.1,-12.6 0.1,-2.5 0.1,12.6 0.2,-7.6 0.1,10.1 0.1,-2.5 0.1,5 0.1,-2.5 0.1,2.5 0.1,-12.6 0.1,10.1 0.1,5 0.2,-15.1 0.1,5.1 0.1,-2.6 0.1,7.6 0.1,-5 0.1,5 0.1,5 0.1,-5 0.1,0 0.1,0 0.2,-5 0.1,17.5 0.1,-12.5 0.1,7.5 0.1,-2.5 0.1,-5 0.1,2.5 0.1,5 0.1,-10 0.2,5 0.1,-7.5 0.1,0 0.1,10 0.1,5 0.1,-10 0.1,-5 0.1,2.5 0.1,10 0.2,5 0.1,-5 0.1,-2.5 0.1,-10 0.1,5 0.1,-5 0.1,5 0.1,-12.6 0.1,12.6 0.1,-5 0.2,7.5 0.1,-5 0.1,-5.1 0.1,2.6 0.1,-5.1 0.1,12.6 0.1,-7.5 0.1,-7.6 0.1,7.6 0.2,2.5 0.1,2.5 0.1,2.5 0.1,-5 0.1,-7.6 0.1,5.1 0.1,5 0.1,2.5 0.1,5 0.1,-25.1 0.2,20.1 0.1,-2.5 0.1,5 0.1,-5 0.1,2.5 0.1,-2.5 0.1,-7.6 0.1,15.1 0.1,-7.5 0.2,5 0.1,-5 0.1,10 0.1,-10 0.1,12.5 0.1,5.1 0.1,-5.1 0.1,0 0.1,0 0.2,-5 0.1,-7.5 0.1,15 0.1,-12.5 0.1,2.5 0.1,5 0.1,2.5 0.1,-10 0.1,0 0.1,7.5 0.2,0 0.1,-2.5 0.1,7.5 0.1,-7.5 0.1,-2.5 0.1,-10 0.1,20 0.1,-2.5 0.1,-7.5 0.2,5 0.1,0 0.1,-2.5 0.1,0 0.1,-2.5 0.1,-2.5 0.1,12.5 0.1,-15 0.1,20.1 0.2,-27.7 0.1,5.1 0.1,10 0.1,-10 0.1,7.5 0.1,-5 0.1,0 0.1,0 0.1,2.5 0.1,-5 0.2,5 0.1,2.5 0.1,2.5 0.1,5 0.1,-22.6 0.1,5.1 0.1,12.5 0.1,-10 0.1,0 0.2,15 0.1,-10 0.1,-5 0.1,-10.1 0.1,2.5 0.1,0 0.1,7.6 0.1,-7.6 0.1,15.1 0.1,-12.6 0.2,0 0.1,12.6 0.1,-10 0.1,-7.6 0.1,-2.5 0.1,5 0.1,12.6 0.1,-2.5 0.1,2.5 0.2,-12.6 0.1,12.6 0.1,5 0.1,2.5 0.1,-12.5 0.1,0 0.1,7.5 0.1,0 0.1,-2.5 0.2,-10.1 0.1,20.1 0.1,-10 0.1,0 0.1,-2.5 0.1,-5 0.1,2.5 0.1,2.5 0.1,-5 0.1,2.5 0.2,5 0.1,0 0.1,10 0.1,-10 0.1,7.5 0.1,2.5 0.1,-5 0.1,7.5 0.1,-2.5 0.2,-2.5 0.1,-5 0.1,5 0.1,-5 0.1,-7.5 0.1,2.5 0.1,12.5 0.1,5.1 0.1,-5.1 0.2,-2.5 0.1,10.1 0.1,-2.5 0.1,0 0.1,-5.1 0.1,-15 0.1,-2.5 0.1,17.5 0.1,-2.5 0.1,5 0.2,0 0.1,-10 0.1,0 0.1,2.5 0.1,-7.5 0.1,7.5 0.1,-10 0.1,10 0.1,-7.5 0.2,5 0.1,-2.5 0.1,-2.5 0.1,12.5 0.1,-2.5 0.1,-5 0.1,0 0.1,-2.5 0.1,7.5 0.2,2.5 0.1,-10 0.1,-2.5 0.1,7.5 0.1,-12.5 0.1,2.5 0.1,0 0.1,0 0.1,12.5 0.1,-20.1 0.2,17.6 0.1,-5 0.1,-2.5 0.1,2.5 0.1,0 0.1,7.5 0.1,-5 0.1,-2.5 0.1,-10.1 0.2,15.1 0.1,-10 0.1,2.5 0.1,2.5 0.1,2.5 0.1,-2.5 0.1,10 0.1,-12.5 0.1,0 0.1,5 0.2,-7.5 0.1,2.5 0.1,5 0.1,-10 0.1,10 0.1,-17.6 0.1,22.6 0.1,-2.5 0.1,-2.5 0.2,-5 0.1,-5 0.1,7.5 0.1,2.5 0.1,-15.1 0.1,5.1 0.1,7.5 0.1,0 0.1,7.5 0.2,-10 0.1,-12.6 0.1,20.1 0.1,0 0.1,-10 0.1,15 0.1,-22.6 0.1,17.6 0.1,-5 0.1,-2.5 0.2,-10.1 0.1,5.1 0.1,15 0.1,0 0.1,-12.5 0.1,15 0.1,-12.5 0.1,5 0.1,-12.6 0.2,-2.5 0.1,25.1 0.1,-20 0.1,-2.6 0.1,10.1 0.1,0 0.1,5 0.1,-5 0.1,-5 0.2,-7.6 0.1,0 0.1,12.6 0.1,2.5 0.1,-12.6 0.1,25.2 0.1,-7.6 0.1,-12.5 0.1,-10.1 0.1,20.1 0.2,-5 0.1,7.5 0.1,-7.5 0.1,2.5 0.1,5 0.1,-7.5 0.1,2.5 0.1,-2.5 0.1,2.5 0.2,7.5 0.1,-10 0.1,-5 0.1,12.5 0.1,-15 0.1,5 0.1,7.5 0.1,-2.5 0.1,2.5 0.1,2.5 0.2,-12.5 0.1,2.5 0.1,7.5 0.1,-2.5 0.1,0 0.1,-5 0.1,-5 0.1,12.5 0.1,-5 0.2,0 0.1,-2.5 0.1,-5 0.1,15 0.1,7.6 0.1,-12.6 0.1,7.5 0.1,-20.1 0.1,15.1 0.2,-2.5 0.1,-2.5 0.1,0 0.1,2.5 0.1,-2.5 0.1,-5 0.1,7.5 0.1,-15.1 0.1,10.1 0.1,17.6 0.2,-22.6 0.1,17.5 0.1,-15 0.1,-12.6 0.1,10.1 0.1,15 0.1,-2.5 0.1,-7.5 0.1,-10.1 0.2,15.1 0.1,-12.6 0.1,5.1 0.1,2.5 0.1,0 0.1,-10.1 0.1,20.1 0.1,0 0.1,-15 0.2,0 0.1,15 0.1,-5 0.1,2.5 0.1,-12.5 0.1,7.5 0.1,-12.6 0.1,5.1 0.1,2.5 0.1,0 0.2,-2.5 0.1,-2.6 0.1,7.6 0.1,-2.5 0.1,-2.5 0.1,2.5 0.1,-5.1 0.1,5.1 0.1,5 0.2,-5 0.1,-10.1 0.1,2.5 0.1,20.1 0.1,-12.5 0.1,7.5 0.1,-2.5 0.1,0 0.1,0 0.2,2.5 0.1,-2.5 0.1,-2.5 0.1,10 0.1,0 0.1,-2.5 0.1,2.5 0.1,-12.5 0.1,12.5 0.1,-7.5 0.2,-2.5 0.1,-2.5 0.1,5 0.1,-7.5 0.1,10 0.1,-2.5 0.1,-5 0.1,15 0.1,-12.5 0.2,-7.6 0.1,10.1 0.1,0 0.1,-12.6 0.1,12.6 0.1,-7.5 0.1,25.1 0.1,-17.6 0.1,5 0.1,-5 0.2,-7.5 0.1,10 0.1,0 0.1,17.6 0.1,-25.1 0.1,-2.5 0.1,7.5 0.1,2.5 0.1,-5 0.2,-2.5 0.1,0 0.1,-7.6 0.1,17.6 0.1,5 0.1,-12.5 0.1,-5 0.1,10 0.1,0 0.2,2.5 0.1,5 0.1,-2.5 0.1,7.6 0.1,-15.1 0.1,-2.5 0.1,-2.5 0.1,10 0.1,-2.5 0.1,7.5 0.2,0 0.1,-15 0.1,-12.6 0.1,25.1 0.1,-5 0.1,-7.5 0.1,10 0.1,-10 0.1,5 0.2,0 0.1,-7.5 0.1,7.5 0.1,7.5 0.1,-15 0.1,5 0.1,5 0.1,2.5 0.1,-10 0.2,7.5 0.1,-5 0.1,-5 0.1,5 0.1,-7.6 0.1,17.6 0.1,-15 0.1,2.5 0.1,-10.1 0.1,15.1 0.2,-7.5 0.1,7.5 0.1,5 0.1,0 0.1,-2.5 0.1,-7.5 0.1,10 0.1,-5 0.1,-7.5 0.2,0 0.1,0 0.1,-2.6 0.1,17.6 0.1,-5 0.1,-5 0.1,-5 0.1,2.5 0.1,7.5 0.1,-2.5 0.2,10 0.1,-17.5 0.1,17.5 0.1,-12.5 0.1,-5 0.1,0 0.1,17.5 0.1,-12.5 0.1,5 0.2,0 0.1,-12.6 0.1,10.1 0.1,10 0.1,-2.5 0.1,-10 0.1,2.5 0.1,7.5 0.1,5 0.2,-7.5 0.1,0 0.1,-10 0.1,10 0.1,-7.5 0.1,-2.5 0.1,17.5 0.1,-7.5 0.1,-15.1 0.1,12.6 0.2,0 0.1,-7.5 0.1,12.5 0.1,-2.5 0.1,7.5 0.1,-15 0.1,5 0.1,0 0.1,15.1 0.2,-25.1 0.1,2.5 0.1,10 0.1,-15.1 0.1,25.2 0.1,-15.1 0.1,10 0.1,-30.1 0.1,37.7 0.2,-10.1 0.1,-2.5 0.1,-12.5 0.1,0 0.1,2.5 0.1,5 0.1,-17.6 0.1,20.1 0.1,-7.5 0.1,-7.6 0.2,20.1 0.1,-2.5 0.1,-12.5 0.1,2.5 0.1,12.5 0.1,-10 0.1,-12.6 0.1,15.1 0.1,-7.5 0.2,5 0.1,5 0.1,-12.6 0.1,2.6 0.1,0 0.1,7.5 0.1,0 0.1,0 0.1,0 0.2,5 0.1,0 0.1,-10 0.1,15 0.1,-2.5 0.1,-2.5 0.1,2.5 0.1,5 0.1,-5 0.1,-7.5 0.2,5 0.1,5 0.1,-17.5 0.1,20 0.1,-15 0.1,5 0.1,10 0.1,-5 0.1,0 0.2,-10 0.1,2.5 0.1,7.5 0.1,5 0.1,5.1 0.1,-10.1 0.1,7.6 0.1,-7.6 0.1,2.5 0.1,-5 0.2,-5 0.1,7.5 0.1,-2.5 0.1,5 0.1,-7.5 0.1,2.5 0.1,-5 0.1,0 0.1,15.1 0.2,5 0.1,-15.1 0.1,-5 0.1,12.5 0.1,-12.5 0.1,7.5 0.1,2.5 0.1,-2.5 0.1,10.1 0.2,0 0.1,-7.6 0.1,5.1 0.1,-7.6 0.1,-2.5 0.1,17.6 0.1,-10.1 0.1,-10 0.1,17.6 0.1,-12.6 0.2,7.6 0.1,2.5 0.1,-20.1 0.1,0 0.1,10 0.1,0 0.1,-12.5 0.1,2.5 0.1,7.5 0.2,-5 0.1,5 0.1,2.5 0.1,-5 0.1,5 0.1,-7.5 0.1,5 0.1,2.5 0.1,0 0.2,-7.5 0.1,-2.5 0.1,2.5 0.1,10 0.1,-7.5 0.1,10 0.1,2.6 0.1,-7.6 0.1,-7.5 0.1,0 0.2,2.5 0.1,-5 0.1,2.5 0.1,7.5 0.1,-7.5 0.1,7.5 0.1,-5 0.1,-2.5 0.1,5 0.2,7.5 0.1,-7.5 0.1,2.5 0.1,-2.5 0.1,2.5 0.1,5 0.1,2.6 0.1,-15.1 0.1,0 0.1,0 0.2,5 0.1,-15.1 0.1,7.6 0.1,2.5 0.1,-5 0.1,7.5 0.1,-5 0.1,2.5 0.1,-2.5 0.2,5 0.1,2.5 0.1,-5 0.1,-5 0.1,12.5 0.1,-2.5 0.1,2.5 0.1,-12.5 0.1,7.5 0.2,-7.5 0.1,12.5 0.1,-10 0.1,7.5 0.1,0 0.1,-5 0.1,5 0.1,0 0.1,-10 0.1,7.5 0.2,-7.5 0.1,-10.1 0.1,22.6 0.1,-2.5 0.1,7.5 0.1,-2.5 0.1,-12.5 0.1,2.5 0.1,0 0.2,0 0.1,7.5 0.1,7.6 0.1,-17.6 0.1,5 0.1,-5 0.1,7.5 0.1,-5 0.1,7.5 0.2,-2.5 0.1,0 0.1,-5 0.1,-7.5 0.1,2.5 0.1,20.1 0.1,-17.6 0.1,-2.5 0.1,-5.1 0.1,5.1 0.2,5 0.1,0 0.1,-2.5 0.1,5 0.1,-12.6 0.1,5.1 0.1,5 0.1,-5 0.1,-7.6 0.2,17.6 0.1,-2.5 0.1,5 0.1,5 0.1,-5 0.1,2.5 0.1,-7.5 0.1,-2.5 0.1,-2.5 0.2,10 0.1,-10 0.1,10 0.1,-5 0.1,-10 0.1,0 0.1,0 0.1,-5.1 0.1,5.1 0.1,10 0.2,0 0.1,2.5 0.1,-5 0.1,5 0.1,0 0.1,2.5 0.1,5 0.1,-27.6 0.1,10.1 0.2,20.1 0.1,-17.6 0.1,7.5 0.1,7.5 0.1,-12.5 0.1,-2.5 0.1,-2.5 0.1,-2.5 0.1,12.5 0.1,-5 0.2,-2.5 0.1,0 0.1,0 0.1,2.5 0.1,-7.5 0.1,17.5 0.1,0 0.1,-20.1 0.1,7.6 0.2,-2.5 0.1,5 0.1,2.5 0.1,2.5 0.1,-5 0.1,2.5 0.1,0 0.1,-2.5 0.1,-5 0.2,0 0.1,-5.1 0.1,15.1 0.1,-5 0.1,-7.5 0.1,5 0.1,17.6 0.1,-17.6 0.1,2.5 0.1,2.5 0.2,-2.5 0.1,2.5 0.1,-10 0.1,2.5 0.1,2.5 0.1,-5 0.1,2.5 0.1,10 0.1,2.5 0.2,0 0.1,-12.5 0.1,2.5 0.1,-7.6 0.1,2.6 0.1,7.5 0.1,5 0.1,-7.5 0.1,-15.1 0.2,17.6 0.1,0 0.1,-5 0.1,-10.1 0.1,10.1 0.1,7.5 0.1,-2.5 0.1,-2.5 0.1,-2.5 0.1,-7.6 0.2,-7.5 0.1,7.5 0.1,5.1 0.1,5 0.1,5 0.1,-10 0.1,-5.1 0.1,5.1 0.1,5 0.2,-5 0.1,5 0.1,0 0.1,2.5 0.1,-2.5 0.1,0 0.1,-7.6 0.1,7.6 0.1,-2.5 0.1,-5.1 0.2,2.6 0.1,-2.6 0.1,12.6 0.1,-12.6 0.1,10.1 0.1,7.5 0.1,-7.5 0.1,7.5 0.1,0 0.2,-5 0.1,-7.5 0.1,15 0.1,-10 0.1,2.5 0.1,-10 0.1,7.5 0.1,-2.5 0.1,-5 0.2,15 0.1,-5 0.1,10 0.1,-5 0.1,-7.5 0.1,2.5 0.1,-2.5 0.1,5 0.1,2.5 0.1,-5 0.2,5 0.1,2.5 0.1,2.5 0.1,-10 0.1,-2.5 0.1,10 0.1,-2.5 0.1,10.1 0.1,-5.1 0.2,-7.5 0.1,7.5 0.1,-12.5 0.1,5 0.1,-5 0.1,5 0.1,5 0.1,-7.5 0.1,-7.5 0.2,10 0.1,-5 0.1,7.5 0.1,-2.5 0.1,-10 0.1,7.5 0.1,5 0.1,-10 0.1,5 0.1,2.5 0.2,-7.5 0.1,22.6 0.1,-20.1 0.1,-10.1 0.1,10.1 0.1,12.5 0.1,-20 0.1,-7.6 0.1,12.6 0.2,10 0.1,-2.5 0.1,-2.5 0.1,-2.5 0.1,-5 0.1,2.5 0.1,17.6 0.1,-12.6 0.1,-2.5 0.2,-12.6 0.1,17.6 0.1,5 0.1,-7.5 0.1,-2.5 0.1,15.1 0.1,-20.1 0.1,10 0.1,-7.5 0.1,0 0.2,2.5 0.1,-7.5 0.1,0 0.1,12.5 0.1,-5 0.1,-7.5 0.1,5 0.1,7.5 0.1,-5 0.2,5 0.1,-2.5 0.1,20.1 0.1,-22.6 0.1,-12.6 0.1,7.6 0.1,0 0.1,2.5 0.1,7.5 0.1,-7.5 0.2,2.5 0.1,0 0.1,0 0.1,5 0.1,-5 0.1,-2.5 0.1,-2.5 0.1,5 0.1,-5 0.2,5 0.1,17.6 0.1,-5.1 0.1,-10 0.1,5 0.1,-12.5 0.1,12.5 0.1,-7.5 0.1,2.5 0.2,2.5 0.1,-2.5 0.1,-2.5 0.1,-2.5 0.1,5 0.1,-5 0.1,-2.5 0.1,5 0.1,2.5 0.1,2.5 0.2,-2.5 0.1,0 0.1,-2.5 0.1,-17.6 0.1,10.1 0.1,7.5 0.1,-2.5 0.1,0 0.1,-5 0.2,0 0.1,15 0.1,-20.1 0.1,20.1 0.1,-7.5 0.1,5 0.1,5 0.1,0 0.1,-25.1 0.2,5 0.1,15.1 0.1,2.5 0.1,-17.6 0.1,15.1 0.1,-7.5 0.1,-10.1 0.1,7.6 0.1,-5.1 0.1,10.1 0.2,12.5 0.1,-5 0.1,5 0.1,-15 0.1,12.5 0.1,-10 0.1,5 0.1,2.5 0.1,-7.5 0.2,5 0.1,2.5 0.1,-12.5 0.1,7.5 0.1,7.5 0.1,-17.5 0.1,15 0.1,-7.5 0.1,-5 0.1,5 0.2,5 0.1,-2.5 0.1,0 0.1,5 0.1,-15 0.1,10 0.1,2.5 0.1,-12.5 0.1,12.5 0.2,5 0.1,-7.5 0.1,-2.5 0.1,0 0.1,-12.6 0.1,17.6 0.1,-12.5 0.1,2.5 0.1,-2.5 0.2,10 0.1,2.5 0.1,-2.5 0.1,-5 0.1,-5 0.1,-2.6 0.1,20.1 0.1,-17.5 0.1,2.5 0.1,2.5 0.2,7.5 0.1,-10 0.1,15 0.1,-20.1 0.1,15.1 0.1,-7.5 0.1,2.5 0.1,-5 0.1,12.5 0.2,-15 0.1,2.5 0.1,-7.6 0.1,7.6 0.1,5 0.1,10 0.1,-10 0.1,-12.6 0.1,15.1 0.2,0 0.1,-2.5 0.1,-7.5 0.1,17.5 0.1,-25.1 0.1,10.1 0.1,0 0.1,2.5 0.1,-12.6 0.1,15.1 0.2,-7.5 0.1,5 0.1,7.5 0.1,-7.5 0.1,-2.5 0.1,5 0.1,2.5 0.1,-2.5 0.1,5 0.2,2.5 0.1,-7.5 0.1,7.5 0.1,-10 0.1,-2.5 0.1,-2.5 0.1,0 0.1,10 0.1,-5 0.2,10 0.1,-10 0.1,7.5 0.1,-12.5 0.1,12.5 0.1,-5 0.1,5 0.1,-7.5 0.1,0 0.1,10 0.2,-20.1 0.1,10.1 0.1,12.5 0.1,-2.5 0.1,5 0.1,0 0.1,-10 0.1,12.6 0.1,-17.6 0.2,15 0.1,-7.5 0.1,-15.1 0.1,12.6 0.1,-2.5 0.1,-7.5 0.1,10 0.1,-5 0.1,7.5 0.1,-2.5 0.2,-2.5 0.1,0 0.1,5 0.1,-7.5 0.1,-2.5 0.1,0 0.1,5 0.1,7.5 0.1,-10 0.2,-2.5 0.1,12.5 0.1,7.6 0.1,-12.6 0.1,-7.5 0.1,0 0.1,15 0.1,-17.5 0.1,15 0.2,-12.5 0.1,10 0.1,-10 0.1,2.5 0.1,5 0.1,-7.5 0.1,10 0.1,-2.5 0.1,0 0.1,2.5 0.2,-12.5 0.1,0 0.1,5 0.1,7.5 0.1,-10 0.1,2.5 0.1,-2.5 0.1,2.5 0.1,2.5 0.2,-12.6 0.1,12.6 0.1,-2.5 0.1,12.5 0.1,-10 0.1,0 0.1,0 0.1,-5 0.1,5 0.2,-5 0.1,5 0.1,0 0.1,7.5 0.1,-12.5 0.1,-2.5 0.1,12.5 0.1,-2.5 0.1,5 0.1,-7.5 0.2,5 0.1,-10 0.1,2.5 0.1,-5 0.1,10 0.1,5 0.1,-10 0.1,5 0.1,-15.1 0.2,10.1 0.1,-7.6 0.1,5.1 0.1,5 0.1,7.5 0.1,-7.5 0.1,-5 0.1,2.5 0.1,0 0.1,0 0.2,10 0.1,-10 0.1,10 0.1,-5 0.1,-10 0.1,22.6 0.1,-10.1 0.1,-5 0.1,-5 0.2,7.5 0.1,5 0.1,-10 0.1,2.5 0.1,15.1 0.1,-12.6 0.1,12.6 0.1,5 0.1,-10.1 0.2,-2.5 0.1,10.1 0.1,-27.7 0.1,22.6 0.1,-12.5 0.1,-2.5 0.1,-7.6 0.1,15.1 0.1,-12.5 0.1,17.5 0.2,-7.5 0.1,2.5 0.1,5 0.1,-10 0.1,-10.1 0.1,0 0.1,7.6 0.1,12.5 0.1,-2.5 0.2,-10 0.1,0 0.1,0 0.1,5 0.1,5 0.1,-10 0.1,2.5 0.1,-7.5 0.1,12.5 0.2,-10 0.1,-2.5 0.1,-5.1 0.1,2.5 0.1,17.6 0.1,2.5 0.1,-7.5 0.1,5 0.1,10.1 0.1,-25.1 0.2,7.5 0.1,-5 0.1,5 0.1,-5 0.1,5 0.1,0 0.1,-12.6 0.1,20.1 0.1,-10 0.2,15 0.1,-20 0.1,10 0.1,7.5 0.1,2.5 0.1,-10 0.1,-12.6 0.1,7.6 0.1,15 0.2,2.6 0.1,-30.2 0.1,22.6 0.1,5 0.1,-10 0.1,-2.5 0.1,-7.5 0.1,10 0.1,5 0.1,-10 0.2,10 0.1,-7.5 0.1,2.5 0.1,-5 0.1,10 0.1,0 0.1,-5 0.1,-2.5 0.1,12.5 0.2,-5 0.1,-7.5 0.1,5 0.1,-17.6 0.1,10.1 0.1,-2.5 0.1,7.5 0.1,0 0.1,0 0.1,-7.5 0.2,10 0.1,-12.5 0.1,15 0.1,-12.5 0.1,5 0.1,5 0.1,-12.5 0.1,2.5 0.1,10 0.2,2.5 0.1,-10 0.1,10 0.1,-7.5 0.1,7.5 0.1,-5 0.1,7.5 0.1,-5 0.1,-10 0.2,0 0.1,12.5 0.1,-2.5 0.1,10.1 0.1,-12.6 0.1,-7.5 0.1,12.5 0.1,0 0.1,-7.5 0.1,5 0.2,-5 0.1,-10.1 0.1,7.6 0.1,0 0.1,-7.6 0.1,10.1 0.1,-2.5 0.1,2.5 0.1,5 0.2,-15.1 0.1,20.1 0.1,-10 0.1,7.5 0.1,-2.5 0.1,2.5 0.1,-7.5 0.1,-2.5 0.1,-7.6 0.2,20.1 0.1,-15 0.1,5 0.1,0 0.1,-2.5 0.1,-2.5 0.1,2.5 0.1,-2.5 0.1,-15.1 0.1,12.6 0.2,-2.6 0.1,10.1 0.1,-15.1 0.1,10.1 0.1,-2.5" fill="none" stroke="#2020ff" stroke-width="0.6" stroke-linejoin="round" />
</g>
<rect x="307.5" y="216.0" width="165.9" height="100.4" fill="none" stroke="#444" stroke-width="1.3"/>
<line x1="304.0" y1="316.4" x2="307.5" y2="316.4" stroke="#444" stroke-width="1" />
<text x="300.7" y="320.2" font-size="11.8" font-family="'Liberation Serif', 'DejaVu Serif', serif" fill="#151515" text-anchor="end" >0</text>
<line x1="304.0" y1="291.3" x2="307.5" y2="291.3" stroke="#444" stroke-width="1" />
<text x="300.7" y="295.1" font-size="11.8" font-family="'Liberation Serif', 'DejaVu Serif', serif" fill="#151515" text-anchor="end" >10</text>
<line x1="304.0" y1="266.2" x2="307.5" y2="266.2" stroke="#444" stroke-width="1" />
<text x="300.7" y="270.0" font-size="11.8" font-family="'Liberation Serif', 'DejaVu Serif', serif" fill="#151515" text-anchor="end" >20</text>
<line x1="304.0" y1="241.1" x2="307.5" y2="241.1" stroke="#444" stroke-width="1" />
<text x="300.7" y="244.9" font-size="11.8" font-family="'Liberation Serif', 'DejaVu Serif', serif" fill="#151515" text-anchor="end" >30</text>
<line x1="304.0" y1="216.0" x2="307.5" y2="216.0" stroke="#444" stroke-width="1" />
<text x="300.7" y="219.8" font-size="11.8" font-family="'Liberation Serif', 'DejaVu Serif', serif" fill="#151515" text-anchor="end" >40</text>
<line x1="307.5" y1="316.4" x2="307.5" y2="319.9" stroke="#444" stroke-width="1" />
<text x="307.5" y="331.6" font-size="11.8" font-family="'Liberation Serif', 'DejaVu Serif', serif" fill="#151515" text-anchor="middle" >3.5</text>
<line x1="331.2" y1="316.4" x2="331.2" y2="319.9" stroke="#444" stroke-width="1" />
<text x="331.2" y="331.6" font-size="11.8" font-family="'Liberation Serif', 'DejaVu Serif', serif" fill="#151515" text-anchor="middle" >4.0</text>
<line x1="354.9" y1="316.4" x2="354.9" y2="319.9" stroke="#444" stroke-width="1" />
<text x="354.9" y="331.6" font-size="11.8" font-family="'Liberation Serif', 'DejaVu Serif', serif" fill="#151515" text-anchor="middle" >4.5</text>
<line x1="378.6" y1="316.4" x2="378.6" y2="319.9" stroke="#444" stroke-width="1" />
<text x="378.6" y="331.6" font-size="11.8" font-family="'Liberation Serif', 'DejaVu Serif', serif" fill="#151515" text-anchor="middle" >5.0</text>
<line x1="402.3" y1="316.4" x2="402.3" y2="319.9" stroke="#444" stroke-width="1" />
<text x="402.3" y="331.6" font-size="11.8" font-family="'Liberation Serif', 'DejaVu Serif', serif" fill="#151515" text-anchor="middle" >5.5</text>
<line x1="426.0" y1="316.4" x2="426.0" y2="319.9" stroke="#444" stroke-width="1" />
<text x="426.0" y="331.6" font-size="11.8" font-family="'Liberation Serif', 'DejaVu Serif', serif" fill="#151515" text-anchor="middle" >6.0</text>
<line x1="449.7" y1="316.4" x2="449.7" y2="319.9" stroke="#444" stroke-width="1" />
<text x="449.7" y="331.6" font-size="11.8" font-family="'Liberation Serif', 'DejaVu Serif', serif" fill="#151515" text-anchor="middle" >6.5</text>
<line x1="473.4" y1="316.4" x2="473.4" y2="319.9" stroke="#444" stroke-width="1" />
<text x="473.4" y="331.6" font-size="11.8" font-family="'Liberation Serif', 'DejaVu Serif', serif" fill="#151515" text-anchor="middle" >7.0</text>
<text x="311.1" y="227" font-size="13" font-family="'Liberation Sans', 'DejaVu Sans', sans-serif" font-weight="bold" stroke="#000" stroke-width="0.35" textLength="8.0" lengthAdjust="spacingAndGlyphs">i.</text>
<text x="382.6" y="228.9" font-size="18.4" font-family="'Liberation Serif', 'DejaVu Serif', serif" fill="#000" textLength="88" lengthAdjust="spacingAndGlyphs" >Supernatant</text>
<rect x="309.5" y="289.6" width="98.3" height="18.5" fill="#fff" stroke="#333" stroke-width="1.2"/>
<line x1="315.4" y1="296.9" x2="329.9" y2="296.9" stroke="#ff2a2a" stroke-width="0.9" />
<text x="330.4" y="301.2" font-size="14.5" font-family="'Liberation Serif', 'DejaVu Serif', serif" fill="#ff2a2a" >N</text>
<text x="340.0" y="302.7" font-size="10" font-family="'Liberation Serif', 'DejaVu Serif', serif" fill="#ff2a2a" textLength="10.6" lengthAdjust="spacingAndGlyphs" >Na</text>
<text x="351.2" y="297.6" font-size="9.5" font-family="'Liberation Serif', 'DejaVu Serif', serif" fill="#ff2a2a" >+</text>
<line x1="365.2" y1="296.9" x2="378.9" y2="296.9" stroke="#2a2aff" stroke-width="0.9" />
<text x="379.7" y="301.2" font-size="14.5" font-family="'Liberation Serif', 'DejaVu Serif', serif" fill="#2a2aff" >N</text>
<text x="389.9" y="302.7" font-size="10" font-family="'Liberation Serif', 'DejaVu Serif', serif" fill="#2a2aff" textLength="9.4" lengthAdjust="spacingAndGlyphs" >Cl</text>
<text x="400.2" y="298.0" font-size="10" font-family="'Liberation Serif', 'DejaVu Serif', serif" fill="#2a2aff" >-</text>
<g transform="translate(280.1,279.6) rotate(-90)" font-family="'Liberation Serif', 'DejaVu Serif', serif" stroke="#000" stroke-width="0.3"><text x="0" y="0" font-size="23" textLength="15.5" lengthAdjust="spacingAndGlyphs">N</text><text x="16" y="1.8" font-size="16.5" textLength="24.6" lengthAdjust="spacingAndGlyphs">ions</text></g>
<g clip-path="url(#cii)">
<path d="M508.3,236l0.1,12.1 0.1,-16.1 0.1,16.1 0.2,4 0.1,-8 0.1,0 0.1,0 0.1,4 0.1,8 0.1,-4 0.1,0 0.2,0 0.1,0 0.1,0 0.1,0 0.1,16 0.1,-8 0.1,-8 0.1,12 0.2,-4 0.1,4 0.1,0 0.1,0 0.1,8 0.1,-12 0.1,0 0.1,8 0.2,4 0.1,-4 0.1,4 0.1,-12 0.1,8 0.1,4 0.1,-4 0.1,-12 0.2,12 0.1,0 0.1,0 0.1,4 0.1,-8 0.1,12 0.1,-8 0.1,-4 0.2,0 0.1,8 0.1,0 0.1,0 0.1,0 0.1,-4 0.1,4 0.1,0 0.2,4 0.1,0 0.1,-8 0.1,4 0.1,0 0.1,-8 0.1,12 0.1,0 0.2,0 0.1,-4 0.1,12 0.1,-4 0.1,-8 0.1,12 0.1,-12 0.1,-4 0.2,8 0.1,4 0.1,0 0.1,0 0.1,-4 0.1,-4 0.1,0 0.2,16 0.1,-8 0.1,-4 0.1,4 0.1,8 0.1,-12 0.1,0 0.1,0 0.2,0 0.1,-4 0.1,12 0.1,-8 0.1,0 0.1,-16 0.1,20 0.1,-8 0.2,-4 0.1,4 0.1,0 0.1,-4 0.1,16 0.1,-12 0.1,8 0.1,-12 0.2,4 0.1,0 0.1,0 0.1,8 0.1,-8 0.1,8 0.1,-4 0.1,0 0.2,-8 0.1,4 0.1,4 0.1,-8 0.1,-4 0.1,12 0.1,-12 0.1,12 0.2,-4 0.1,0 0.1,4 0.1,-12 0.1,4 0.1,0 0.1,8 0.1,-8 0.2,8 0.1,-12 0.1,16 0.1,-12 0.1,12 0.1,0 0.1,-12 0.1,-4 0.2,0 0.1,8 0.1,0 0.1,-4 0.1,8 0.1,0 0.1,-8 0.1,0 0.2,4 0.1,-8 0.1,16 0.1,-12 0.1,-8 0.1,12 0.1,4 0.2,-12 0.1,4 0.1,-4 0.1,4 0.1,4 0.1,0 0.1,4 0.1,-16 0.2,16 0.1,-4 0.1,4 0.1,-8 0.1,-4 0.1,12 0.1,-4 0.1,0 0.2,-8 0.1,12 0.1,0 0.1,-8 0.1,16 0.1,-8 0.1,0 0.1,8 0.2,-4 0.1,0 0.1,-4 0.1,0 0.1,8 0.1,0 0.1,-8 0.1,12 0.2,-8 0.1,4 0.1,4 0.1,-8 0.1,4 0.1,0 0.1,-12 0.1,0 0.2,12 0.1,0 0.1,0 0.1,4 0.1,-16 0.1,4 0.1,4 0.1,4 0.2,-8 0.1,4 0.1,0 0.1,0 0.1,-4 0.1,8 0.1,0 0.1,4 0.2,-12 0.1,4 0.1,16.1 0.1,-12.1 0.1,-4 0.1,12.1 0.1,0 0.1,-12.1 0.2,8 0.1,4.1 0.1,-8.1 0.1,0 0.1,8.1 0.1,-4.1 0.1,-4 0.2,0 0.1,-8 0.1,0 0.1,4 0.1,8 0.1,-4 0.1,12.1 0.1,-12.1 0.2,0 0.1,4 0.1,-8 0.1,-4 0.1,16.1 0.1,-12.1 0.1,-4 0.1,4 0.2,0 0.1,-12 0.1,8 0.1,-8 0.1,16 0.1,0 0.1,-4 0.1,-4 0.2,-4 0.1,0 0.1,12 0.1,4 0.1,-12 0.1,0 0.1,0 0.1,-4 0.2,12 0.1,4 0.1,-20 0.1,12 0.1,0 0.1,-4 0.1,-8 0.1,12 0.2,-8 0.1,8 0.1,-12 0.1,12 0.1,-8 0.1,8 0.1,-4 0.1,4 0.2,4 0.1,-4 0.1,-4 0.1,4 0.1,4 0.1,-4 0.1,-4 0.1,4 0.2,8 0.1,-4 0.1,-4 0.1,-8 0.1,16 0.1,-12 0.1,8 0.1,0 0.2,0 0.1,-8 0.1,8 0.1,-8 0.1,-4 0.1,12 0.1,4 0.2,4.1 0.1,-12.1 0.1,8 0.1,0 0.1,0 0.1,-12 0.1,4 0.1,0 0.2,12.1 0.1,-4.1 0.1,-4 0.1,0 0.1,-4 0.1,-4 0.1,4 0.1,0 0.2,0 0.1,4 0.1,0 0.1,-4 0.1,8 0.1,-4 0.1,-4 0.1,4 0.2,-4 0.1,8 0.1,-4 0.1,-4 0.1,-4 0.1,4 0.1,4 0.1,0 0.2,0 0.1,0 0.1,-4 0.1,4 0.1,-4 0.1,4 0.1,8.1 0.1,0 0.2,-12.1 0.1,8 0.1,0 0.1,-16 0.1,16 0.1,-4 0.1,4 0.1,-4 0.2,-4 0.1,4 0.1,-12 0.1,16 0.1,-4 0.1,4 0.1,-8 0.1,4 0.2,-4 0.1,4 0.1,-4 0.1,4 0.1,-4 0.1,0 0.1,4 0.1,-4 0.2,0 0.1,0 0.1,12.1 0.1,-20.1 0.1,8 0.1,0 0.1,0 0.2,8 0.1,-8 0.1,0 0.1,4 0.1,-4 0.1,4 0.1,4 0.1,-8 0.2,0 0.1,0 0.1,4 0.1,-8 0.1,8 0.1,-4 0.1,4 0.1,0 0.2,-4 0.1,8 0.1,-8 0.1,0 0.1,4 0.1,0 0.1,4 0.1,-8 0.2,-8 0.1,12 0.1,0 0.1,0 0.1,-8 0.1,0 0.1,0 0.1,4 0.2,4 0.1,-8 0.1,4 0.1,0 0.1,0 0.1,0 0.1,-4 0.1,4 0.2,-12 0.1,4 0.1,4 0.1,4 0.1,-4 0.1,0 0.1,0 0.1,4 0.2,4 0.1,0 0.1,-4 0.1,-4 0.1,4 0.1,4 0.1,-4 0.1,-4 0.2,8 0.1,0 0.1,-4 0.1,0 0.1,8 0.1,-4 0.1,-4 0.1,0 0.2,-4 0.1,0 0.1,8 0.1,-16 0.1,12 0.1,-8 0.1,4 0.2,12 0.1,0 0.1,-8 0.1,0 0.1,-4 0.1,16.1 0.1,-8.1 0.1,-4 0.2,-4 0.1,4 0.1,8 0.1,-4 0.1,0 0.1,0 0.1,-8 0.1,0 0.2,0 0.1,12 0.1,0 0.1,4.1 0.1,-8.1 0.1,0 0.1,8.1 0.1,-8.1 0.2,0 0.1,0 0.1,0 0.1,4 0.1,0 0.1,-12 0.1,12 0.1,-8 0.2,8 0.1,8.1 0.1,-12.1 0.1,8.1 0.1,-4.1 0.1,-8 0.1,12.1 0.1,-4.1 0.2,-8 0.1,-4 0.1,12 0.1,-4 0.1,4 0.1,-8 0.1,8 0.1,-12 0.2,12 0.1,-8 0.1,-4 0.1,4 0.1,4 0.1,4 0.1,0 0.1,-8 0.2,0 0.1,0 0.1,8 0.1,0 0.1,-4 0.1,-8 0.1,-4 0.1,4 0.2,12 0.1,4.1 0.1,-12.1 0.1,0 0.1,-8 0.1,12 0.1,-8 0.2,8 0.1,-4 0.1,4 0.1,0 0.1,0 0.1,-4 0.1,4 0.1,0 0.2,-4 0.1,8 0.1,-8 0.1,4 0.1,-4 0.1,-8 0.1,12 0.1,-12 0.2,16 0.1,-4 0.1,-8 0.1,16.1 0.1,-12.1 0.1,-4 0.1,8 0.1,-12 0.2,-4 0.1,8 0.1,0 0.1,0 0.1,-4 0.1,8 0.1,0 0.1,-12 0.2,8 0.1,4 0.1,4 0.1,8.1 0.1,-12.1 0.1,0 0.1,0 0.1,0 0.2,-4 0.1,4 0.1,0 0.1,0 0.1,0 0.1,0 0.1,4 0.1,-8 0.2,4 0.1,0 0.1,-8 0.1,4 0.1,12 0.1,0 0.1,-8 0.1,4 0.2,-8 0.1,0 0.1,0 0.1,0 0.1,0 0.1,12 0.1,0 0.1,-4 0.2,-4 0.1,0 0.1,-8 0.1,4 0.1,0 0.1,8 0.1,0 0.2,-4 0.1,8 0.1,0 0.1,-12 0.1,-4 0.1,20.1 0.1,-8.1 0.1,8.1 0.2,4 0.1,-8.1 0.1,-4 0.1,0 0.1,0 0.1,-4 0.1,12.1 0.1,-4.1 0.2,-8 0.1,4 0.1,8.1 0.1,0 0.1,-4.1 0.1,0 0.1,0 0.1,0 0.2,0 0.1,4.1 0.1,-4.1 0.1,0 0.1,4.1 0.1,-8.1 0.1,8.1 0.1,0 0.2,-8.1 0.1,0 0.1,-4 0.1,0 0.1,8 0.1,0 0.1,4.1 0.1,0 0.2,-12.1 0.1,4 0.1,4 0.1,-12 0.1,8 0.1,0 0.1,8.1 0.1,8 0.2,-16.1 0.1,8.1 0.1,4 0.1,-12.1 0.1,0 0.1,8.1 0.1,-4.1 0.1,-4 0.2,0 0.1,4 0.1,-12 0.1,8 0.1,-4 0.1,4 0.1,0 0.1,-8 0.2,12 0.1,-8 0.1,0 0.1,0 0.1,4 0.1,8.1 0.1,0 0.2,0 0.1,-4.1 0.1,-4 0.1,0 0.1,0 0.1,0 0.1,0 0.1,-4 0.2,0 0.1,-12 0.1,12 0.1,0 0.1,4 0.1,0 0.1,-8 0.1,12 0.2,-16 0.1,16 0.1,-8 0.1,-4 0.1,0 0.1,0 0.1,12 0.1,-12 0.2,0 0.1,-4 0.1,8 0.1,0 0.1,8 0.1,-12 0.1,8 0.1,-4 0.2,-8 0.1,12 0.1,-4 0.1,4 0.1,0 0.1,8.1 0.1,-8.1 0.1,-4 0.2,-4 0.1,0 0.1,4 0.1,-4 0.1,4 0.1,4 0.1,0 0.1,-8 0.2,4 0.1,12.1 0.1,-12.1 0.1,4 0.1,-4 0.1,4 0.1,4 0.1,4.1 0.2,-8.1 0.1,0 0.1,0 0.1,4 0.1,-12 0.1,20.1 0.1,-16.1 0.1,8 0.2,0 0.1,-12 0.1,8 0.1,0 0.1,4 0.1,-8 0.1,0 0.2,-4 0.1,4 0.1,4 0.1,4 0.1,0 0.1,0 0.1,0 0.1,0 0.2,0 0.1,0 0.1,4.1 0.1,-8.1 0.1,12.1 0.1,-8.1 0.1,8.1 0.1,-8.1 0.2,-8 0.1,4 0.1,8.1 0.1,-4.1 0.1,0 0.1,0 0.1,-4 0.1,4 0.2,0 0.1,0 0.1,-4 0.1,4 0.1,4.1 0.1,-12.1 0.1,8 0.1,4.1 0.2,-8.1 0.1,4 0.1,0 0.1,4.1 0.1,-8.1 0.1,0 0.1,0 0.1,8.1 0.2,-16.1 0.1,12 0.1,4.1 0.1,-4.1 0.1,8.1 0.1,-8.1 0.1,0 0.1,-4 0.2,-4 0.1,4 0.1,4 0.1,-4 0.1,4 0.1,-12 0.1,8 0.1,0 0.2,4 0.1,0 0.1,0 0.1,0 0.1,0 0.1,-8 0.1,8 0.1,-8 0.2,0 0.1,0 0.1,-4 0.1,16.1 0.1,-12.1 0.1,4 0.1,-8 0.1,4 0.2,4 0.1,-4 0.1,0 0.1,-8 0.1,12 0.1,-4 0.1,4 0.2,-4 0.1,0 0.1,0 0.1,0 0.1,-8 0.1,4 0.1,0 0.1,8 0.2,-8 0.1,4 0.1,-4 0.1,0 0.1,4 0.1,-4 0.1,-8 0.1,8 0.2,4 0.1,0 0.1,-8 0.1,-4 0.1,12 0.1,-12 0.1,0 0.1,0 0.2,12 0.1,-8 0.1,-4 0.1,0 0.1,8 0.1,4 0.1,-4 0.1,-4 0.2,8 0.1,-4 0.1,-8 0.1,0 0.1,8 0.1,-8 0.1,8 0.1,4 0.2,0 0.1,4 0.1,-4 0.1,0 0.1,-12 0.1,4 0.1,-4 0.1,16 0.2,-8 0.1,4 0.1,8 0.1,-12 0.1,8 0.1,-8 0.1,-8 0.1,12 0.2,4 0.1,0 0.1,8.1 0.1,-8.1 0.1,4 0.1,-4 0.1,4 0.1,-4 0.2,0 0.1,-4 0.1,12.1 0.1,-4.1 0.1,-12 0.1,4 0.1,8 0.2,-16 0.1,28.1 0.1,-12.1 0.1,0 0.1,-4 0.1,8.1 0.1,-4.1 0.1,-4 0.2,-4 0.1,16.1 0.1,-4 0.1,0 0.1,-8.1 0.1,-4 0.1,0 0.1,12.1 0.2,-4.1 0.1,0 0.1,0 0.1,4.1 0.1,-4.1 0.1,0 0.1,-4 0.1,4 0.2,-16 0.1,20.1 0.1,-4.1 0.1,0 0.1,-4 0.1,-4 0.1,4 0.1,-16 0.2,12 0.1,-4 0.1,8 0.1,4 0.1,-16 0.1,16 0.1,0 0.1,-4 0.2,-4 0.1,-4 0.1,8 0.1,0 0.1,-4 0.1,-4 0.1,8 0.1,-4 0.2,4 0.1,-4 0.1,0 0.1,-4 0.1,-4 0.1,12 0.1,4 0.1,-8 0.2,4 0.1,0 0.1,-4 0.1,4 0.1,-4 0.1,4 0.1,0 0.1,4 0.2,-4 0.1,0 0.1,-4 0.1,4 0.1,4 0.1,0 0.1,0 0.2,0 0.1,4.1 0.1,-8.1 0.1,0 0.1,8.1 0.1,-8.1 0.1,0 0.1,8.1 0.2,0 0.1,-8.1 0.1,0 0.1,0 0.1,12.1 0.1,-4 0.1,-8.1 0.1,8.1 0.2,-8.1 0.1,-4 0.1,12.1 0.1,-8.1 0.1,0 0.1,0 0.1,4 0.1,0 0.2,-4 0.1,-8 0.1,8 0.1,-4 0.1,4 0.1,0 0.1,-4 0.1,4 0.2,4 0.1,-8 0.1,4 0.1,4 0.1,0 0.1,4.1 0.1,-8.1 0.1,4 0.2,0 0.1,-4 0.1,4 0.1,-8 0.1,-4 0.1,12 0.1,-4 0.1,-4 0.2,0 0.1,0 0.1,-4 0.1,4 0.1,-4 0.1,12 0.1,-4 0.1,-12 0.2,8 0.1,-4 0.1,-4 0.1,-4 0.1,12 0.1,0 0.1,0 0.1,0 0.2,-4 0.1,12 0.1,-12 0.1,0 0.1,-4 0.1,12 0.1,-12 0.2,8 0.1,0 0.1,-8 0.1,0 0.1,12 0.1,-12 0.1,4 0.1,4 0.2,0 0.1,-4 0.1,4 0.1,-4 0.1,12 0.1,-12 0.1,0 0.1,4 0.2,-4 0.1,0 0.1,-4 0.1,0 0.1,4 0.1,16.1 0.1,-20.1 0.1,4 0.2,-4 0.1,8 0.1,-4 0.1,0 0.1,-4 0.1,0 0.1,4 0.1,0 0.2,0 0.1,-4 0.1,4 0.1,4 0.1,-4 0.1,8 0.1,-4 0.1,-4 0.2,12 0.1,0 0.1,4.1 0.1,-20.1 0.1,8 0.1,0 0.1,0 0.1,0 0.2,4 0.1,-4 0.1,4 0.1,-4 0.1,-8 0.1,0 0.1,12 0.1,0 0.2,0 0.1,8.1 0.1,-4.1 0.1,-4 0.1,-8 0.1,0 0.1,12 0.1,-8 0.2,4 0.1,-4 0.1,-4 0.1,0 0.1,0 0.1,4 0.1,-4 0.2,0 0.1,0 0.1,0 0.1,0 0.1,0 0.1,-4 0.1,12 0.1,-4 0.2,-4 0.1,0 0.1,12 0.1,-16 0.1,0 0.1,12 0.1,-4 0.1,-8 0.2,12 0.1,-8 0.1,0 0.1,0 0.1,-4 0.1,8 0.1,4 0.1,-8 0.2,0 0.1,-4 0.1,0 0.1,-4 0.1,4 0.1,4 0.1,0 0.1,8 0.2,-4 0.1,0 0.1,4 0.1,-8 0.1,8 0.1,4 0.1,-4 0.1,-12 0.2,4 0.1,4 0.1,-4 0.1,16.1 0.1,-8.1 0.1,-4 0.1,4 0.1,4 0.2,-4 0.1,-4 0.1,-4 0.1,12 0.1,-12 0.1,12 0.1,-4 0.1,0 0.2,0 0.1,-8 0.1,4 0.1,4 0.1,-4 0.1,8 0.1,-4 0.1,-8 0.2,4 0.1,-8 0.1,16 0.1,0 0.1,-4 0.1,0 0.1,4 0.2,-12 0.1,8 0.1,4 0.1,0 0.1,-4 0.1,8.1 0.1,-8.1 0.1,8.1 0.2,-4.1 0.1,0 0.1,4.1 0.1,-4.1 0.1,0 0.1,0 0.1,-4 0.1,4 0.2,4.1 0.1,0 0.1,0 0.1,-4.1 0.1,-4 0.1,0 0.1,0 0.1,8.1 0.2,4 0.1,0 0.1,-4 0.1,4 0.1,0 0.1,-4 0.1,-8.1 0.1,8.1 0.2,-4.1 0.1,-8 0.1,12.1 0.1,-8.1 0.1,12.1 0.1,-4 0.1,-4.1 0.1,-4 0.2,4 0.1,0 0.1,-4 0.1,-4 0.1,0 0.1,12.1 0.1,-8.1 0.1,8.1 0.2,-8.1 0.1,0 0.1,12.1 0.1,-16.1 0.1,20.1 0.1,-12.1 0.1,12.1 0.1,-8 0.2,-8.1 0.1,0 0.1,-4 0.1,12.1 0.1,4 0.1,-4 0.1,-16.1 0.1,8 0.2,8.1 0.1,-4.1 0.1,4.1 0.1,-8.1 0.1,8.1 0.1,8 0.1,-8 0.2,-4.1 0.1,0 0.1,4.1 0.1,4 0.1,-12.1 0.1,4 0.1,8.1 0.1,-4 0.2,-12.1 0.1,12.1 0.1,-8.1 0.1,4 0.1,0 0.1,4.1 0.1,-8.1 0.1,0 0.2,4 0.1,-12 0.1,12 0.1,0 0.1,-8 0.1,8 0.1,0 0.1,-4 0.2,-4 0.1,12.1 0.1,-4.1 0.1,8.1 0.1,-16.1 0.1,4 0.1,0 0.1,0 0.2,4 0.1,-4 0.1,8.1 0.1,-4.1 0.1,-4 0.1,-4 0.1,8 0.1,-20 0.2,20 0.1,4.1 0.1,-8.1 0.1,4 0.1,-8 0.1,0 0.1,8 0.1,-8 0.2,8 0.1,-4 0.1,4 0.1,-4 0.1,0 0.1,-8 0.1,12 0.1,-8 0.2,-4 0.1,8 0.1,-8 0.1,8 0.1,-4 0.1,0 0.1,0 0.1,-4 0.2,0 0.1,4 0.1,0 0.1,0 0.1,0 0.1,0 0.1,8 0.2,-8 0.1,0 0.1,4 0.1,0 0.1,4 0.1,-8 0.1,4 0.1,0 0.2,-16 0.1,20 0.1,4.1 0.1,-16.1 0.1,16.1 0.1,-8.1 0.1,0 0.1,4 0.2,-8 0.1,4 0.1,0 0.1,4 0.1,0 0.1,-4 0.1,-8 0.1,8 0.2,-4 0.1,0 0.1,8 0.1,-8 0.1,8 0.1,4.1 0.1,0 0.1,-12.1 0.2,-4 0.1,4 0.1,0 0.1,8 0.1,8.1 0.1,-20.1 0.1,4 0.1,12.1 0.2,-8.1 0.1,0 0.1,0 0.1,4 0.1,-8 0.1,0 0.1,12.1 0.1,-8.1 0.2,8.1 0.1,-12.1 0.1,4 0.1,-4 0.1,0 0.1,12.1 0.1,-4.1 0.1,-4 0.2,-4 0.1,0 0.1,8 0.1,-4 0.1,-12 0.1,12 0.1,4 0.1,8.1 0.2,-12.1 0.1,-4 0.1,8 0.1,-8 0.1,0 0.1,-4 0.1,4 0.2,8 0.1,0 0.1,-8 0.1,12.1 0.1,-16.1 0.1,4 0.1,4 0.1,8.1 0.2,-8.1 0.1,4 0.1,0 0.1,-8 0.1,-8 0.1,16 0.1,0 0.1,-16 0.2,8 0.1,0 0.1,8 0.1,-12 0.1,4 0.1,0 0.1,0 0.1,-4 0.2,4 0.1,4 0.1,-4 0.1,4 0.1,8.1 0.1,-4.1 0.1,4.1 0.1,-8.1 0.2,4 0.1,-4 0.1,8.1 0.1,-12.1 0.1,4 0.1,-4 0.1,12.1 0.1,-4.1 0.2,0 0.1,-4 0.1,4 0.1,-4 0.1,8.1 0.1,-8.1 0.1,0 0.1,0 0.2,0 0.1,0 0.1,-4 0.1,0 0.1,0 0.1,4 0.1,0 0.1,4 0.2,-4 0.1,0 0.1,0 0.1,4 0.1,0 0.1,-8 0.1,4 0.1,0 0.2,0 0.1,-4 0.1,4 0.1,-4 0.1,4 0.1,4 0.1,-4 0.2,4 0.1,-4 0.1,-4 0.1,12.1 0.1,-12.1 0.1,4 0.1,-4 0.1,4 0.2,-4 0.1,4 0.1,-4 0.1,4 0.1,4 0.1,-4 0.1,0 0.1,-8 0.2,12 0.1,4.1 0.1,-16.1 0.1,12 0.1,4.1 0.1,-4.1 0.1,0 0.1,-4 0.2,-12 0.1,12 0.1,-4 0.1,4 0.1,4 0.1,4.1 0.1,-16.1 0.1,12 0.2,0 0.1,-4 0.1,4 0.1,0 0.1,-4 0.1,4 0.1,0 0.1,0 0.2,-8 0.1,16.1 0.1,8 0.1,-16.1 0.1,4.1 0.1,-16.1 0.1,16.1 0.1,0 0.2,-4.1 0.1,4.1 0.1,-4.1 0.1,8.1 0.1,0 0.1,-8.1 0.1,12.1 0.1,-4 0.2,-4 0.1,0 0.1,4 0.1,-4 0.1,0 0.1,4 0.1,4 0.1,-8 0.2,8 0.1,0 0.1,-8 0.1,4" fill="none" stroke="#ff2020" stroke-width="0.6" stroke-linejoin="round" />
<path d="M508.3,260.1l0.1,4 0.1,-4 0.1,-4 0.2,0 0.1,4 0.1,-12 0.1,16 0.1,4 0.1,-4 0.1,-4 0.1,4 0.2,4 0.1,-8 0.1,4 0.1,-4 0.1,12 0.1,-4 0.1,0 0.1,4 0.2,-12 0.1,8 0.1,0 0.1,12 0.1,-4 0.1,-4 0.1,0 0.1,8 0.2,-8 0.1,4 0.1,-8 0.1,4 0.1,-4 0.1,12 0.1,0 0.1,-12 0.2,-12 0.1,16 0.1,0 0.1,8 0.1,-16 0.1,12 0.1,4 0.1,-4 0.2,4 0.1,-4 0.1,4 0.1,0 0.1,8 0.1,0 0.1,-4 0.1,12.1 0.2,-8.1 0.1,-4 0.1,0 0.1,-16 0.1,28.1 0.1,-12.1 0.1,0 0.1,-4 0.2,4 0.1,4 0.1,-4 0.1,4 0.1,-16 0.1,16 0.1,-4 0.1,-4 0.2,4 0.1,4 0.1,0 0.1,0 0.1,4.1 0.1,-8.1 0.1,-8 0.2,0 0.1,16.1 0.1,-8.1 0.1,4 0.1,0 0.1,0 0.1,-8 0.1,12.1 0.2,0 0.1,-12.1 0.1,16.1 0.1,-8.1 0.1,-4 0.1,4 0.1,0 0.1,-16 0.2,4 0.1,8 0.1,-4 0.1,4 0.1,4 0.1,-8 0.1,-4 0.1,16.1 0.2,-16.1 0.1,-4 0.1,4 0.1,12 0.1,-8 0.1,8 0.1,-12 0.1,4 0.2,4 0.1,4 0.1,-8 0.1,0 0.1,8 0.1,-4 0.1,4 0.1,-12 0.2,4 0.1,4 0.1,-8 0.1,4 0.1,4 0.1,0 0.1,-12 0.1,8 0.2,12.1 0.1,-8.1 0.1,-4 0.1,12.1 0.1,-16.1 0.1,-4 0.1,12 0.1,-12 0.2,4 0.1,0 0.1,8 0.1,-16 0.1,12 0.1,4 0.1,-8 0.1,4 0.2,4 0.1,-8 0.1,0 0.1,16.1 0.1,-12.1 0.1,-4 0.1,0 0.2,-4 0.1,8 0.1,-4 0.1,12 0.1,-8 0.1,4 0.1,-8 0.1,-4 0.2,12 0.1,8.1 0.1,-12.1 0.1,-4 0.1,8 0.1,8.1 0.1,-12.1 0.1,8 0.2,-4 0.1,0 0.1,-4 0.1,16.1 0.1,-16.1 0.1,4 0.1,-8 0.1,20.1 0.2,4 0.1,-12.1 0.1,8.1 0.1,-8.1 0.1,12.1 0.1,-16.1 0.1,4 0.1,-4 0.2,4 0.1,8.1 0.1,-12.1 0.1,-4 0.1,0 0.1,12.1 0.1,-4.1 0.1,0 0.2,4.1 0.1,-4.1 0.1,0 0.1,-4 0.1,16.1 0.1,-20.1 0.1,8 0.1,0 0.2,8.1 0.1,-12.1 0.1,4 0.1,0 0.1,-4 0.1,12.1 0.1,-8.1 0.1,8.1 0.2,0 0.1,-16.1 0.1,16.1 0.1,4 0.1,-4 0.1,-4 0.1,0 0.1,0 0.2,4 0.1,0 0.1,-16.1 0.1,24.1 0.1,-12 0.1,-4.1 0.1,12.1 0.2,-8 0.1,-4.1 0.1,20.1 0.1,-28.1 0.1,4 0.1,4 0.1,8.1 0.1,-4 0.2,4 0.1,0 0.1,-12.1 0.1,20.1 0.1,0 0.1,-12 0.1,-8.1 0.1,8.1 0.2,-8.1 0.1,8.1 0.1,-4.1 0.1,0 0.1,-4 0.1,0 0.1,4 0.1,8.1 0.2,0 0.1,-16.1 0.1,4 0.1,0 0.1,8.1 0.1,-4.1 0.1,-4 0.1,-4 0.2,8 0.1,-8 0.1,16.1 0.1,-8.1 0.1,8.1 0.1,0 0.1,-8.1 0.1,-4 0.2,8.1 0.1,0 0.1,0 0.1,0 0.1,-8.1 0.1,0 0.1,12.1 0.1,-8.1 0.2,0 0.1,4.1 0.1,8 0.1,-8 0.1,4 0.1,-8.1 0.1,0 0.1,-8 0.2,12.1 0.1,-4.1 0.1,4.1 0.1,-4.1 0.1,4.1 0.1,4 0.1,4 0.1,-8 0.2,0 0.1,-12.1 0.1,8 0.1,4.1 0.1,-8.1 0.1,0 0.1,8.1 0.2,-4.1 0.1,4.1 0.1,0 0.1,0 0.1,4 0.1,0 0.1,-4 0.1,4 0.2,8 0.1,-8 0.1,-8.1 0.1,0 0.1,0 0.1,4.1 0.1,4 0.1,4 0.2,0 0.1,-8 0.1,0 0.1,-4.1 0.1,8.1 0.1,-20.1 0.1,20.1 0.1,-12.1 0.2,8.1 0.1,-12.1 0.1,0 0.1,0 0.1,0 0.1,8 0.1,12.1 0.1,0 0.2,-8 0.1,-8.1 0.1,16.1 0.1,-16.1 0.1,8.1 0.1,8 0.1,-8 0.1,-12.1 0.2,16.1 0.1,-4 0.1,0 0.1,4 0.1,-12.1 0.1,0 0.1,4 0.1,-4 0.2,8.1 0.1,-4.1 0.1,8.1 0.1,-12.1 0.1,8.1 0.1,8 0.1,-8 0.1,8 0.2,-4 0.1,-8.1 0.1,0 0.1,8.1 0.1,8 0.1,-16.1 0.1,8.1 0.1,-8.1 0.2,-4 0.1,4 0.1,-8 0.1,4 0.1,8.1 0.1,4 0.1,-4 0.2,-4.1 0.1,12.1 0.1,-8 0.1,0 0.1,8 0.1,0 0.1,-8 0.1,12 0.2,-20.1 0.1,4 0.1,4.1 0.1,4 0.1,4 0.1,-8 0.1,0 0.1,-4.1 0.2,20.1 0.1,-20.1 0.1,0 0.1,8.1 0.1,-8.1 0.1,8.1 0.1,0 0.1,4 0.2,-12.1 0.1,0 0.1,4.1 0.1,0 0.1,-4.1 0.1,-8 0.1,0 0.1,8 0.2,4.1 0.1,-4.1 0.1,12.1 0.1,-20.1 0.1,4 0.1,8.1 0.1,0 0.1,4 0.2,-8.1 0.1,8.1 0.1,-8.1 0.1,4.1 0.1,8 0.1,-12.1 0.1,4.1 0.1,4 0.2,4 0.1,-4 0.1,-4 0.1,4 0.1,-4 0.1,0 0.1,4 0.1,-12.1 0.2,4 0.1,0 0.1,8.1 0.1,0 0.1,-4 0.1,0 0.1,4 0.1,-4 0.2,-4.1 0.1,-4 0.1,-4 0.1,12.1 0.1,-4.1 0.1,0 0.1,0 0.2,0 0.1,4.1 0.1,-8.1 0.1,0 0.1,12.1 0.1,-4 0.1,4 0.1,-4 0.2,4 0.1,-8.1 0.1,-4 0.1,12.1 0.1,-12.1 0.1,8.1 0.1,0 0.1,0 0.2,0 0.1,-4.1 0.1,-8 0.1,12.1 0.1,4 0.1,-8.1 0.1,0 0.1,12.1 0.2,-12.1 0.1,8.1 0.1,-4 0.1,-4.1 0.1,8.1 0.1,0 0.1,-4 0.1,12 0.2,-8 0.1,8 0.1,-8 0.1,0 0.1,4 0.1,0 0.1,4 0.1,-8 0.2,4 0.1,-4 0.1,-8.1 0.1,8.1 0.1,8 0.1,-16.1 0.1,8.1 0.1,-8.1 0.2,0 0.1,0 0.1,8.1 0.1,8 0.1,-8 0.1,-4 0.1,-8.1 0.1,16.1 0.2,-8 0.1,8 0.1,-4 0.1,-12.1 0.1,4 0.1,0 0.1,4.1 0.1,-4.1 0.2,0 0.1,4.1 0.1,0 0.1,0 0.1,-4.1 0.1,12.1 0.1,-8 0.2,0 0.1,0 0.1,4 0.1,-12.1 0.1,0 0.1,4 0.1,-16 0.1,12 0.2,-4 0.1,8 0.1,-4 0.1,0 0.1,8.1 0.1,4 0.1,-20.1 0.1,20.1 0.2,0 0.1,-8.1 0.1,4.1 0.1,-4.1 0.1,-8 0.1,4 0.1,16.1 0.1,-8 0.2,-4.1 0.1,0 0.1,12.1 0.1,-8 0.1,-12.1 0.1,8 0.1,4.1 0.1,4 0.2,-12.1 0.1,-12 0.1,20.1 0.1,-8.1 0.1,4 0.1,8.1 0.1,4 0.1,-12.1 0.2,4.1 0.1,4 0.1,-8.1 0.1,0 0.1,-12 0.1,12 0.1,8.1 0.1,0 0.2,-8.1 0.1,-4 0.1,8.1 0.1,-8.1 0.1,8.1 0.1,0 0.1,0 0.1,0 0.2,-4.1 0.1,4.1 0.1,4 0.1,0 0.1,-12.1 0.1,8.1 0.1,-12.1 0.1,20.1 0.2,-8 0.1,0 0.1,8 0.1,4 0.1,-4 0.1,-16.1 0.1,16.1 0.2,-8 0.1,0 0.1,0 0.1,16 0.1,-12 0.1,8 0.1,-12 0.1,-4.1 0.2,0 0.1,4.1 0.1,-4.1 0.1,0 0.1,4.1 0.1,0 0.1,8 0.1,-4 0.2,8 0.1,-4 0.1,-4 0.1,-8.1 0.1,8.1 0.1,-4 0.1,4 0.1,-8.1 0.2,4.1 0.1,8 0.1,-8 0.1,0 0.1,4 0.1,-12.1 0.1,12.1 0.1,4 0.2,8 0.1,-4 0.1,-12 0.1,24 0.1,-24 0.1,12 0.1,0 0.1,-12 0.2,16 0.1,-8 0.1,0 0.1,-4 0.1,-8.1 0.1,-4 0.1,24.1 0.1,-4 0.2,-20.1 0.1,8.1 0.1,-8.1 0.1,0 0.1,12.1 0.1,4 0.1,-8 0.1,0 0.2,-8.1 0.1,8.1 0.1,-12.1 0.1,24.1 0.1,0 0.1,-8 0.1,4 0.1,-8 0.2,4 0.1,-12.1 0.1,8.1 0.1,0 0.1,4 0.1,-4 0.1,4 0.2,0 0.1,-8.1 0.1,16.1 0.1,-12 0.1,4 0.1,-12.1 0.1,8.1 0.1,8 0.2,-8 0.1,-4.1 0.1,0 0.1,-4 0.1,0 0.1,4 0.1,-8 0.1,12.1 0.2,-4.1 0.1,0 0.1,0 0.1,-4 0.1,8.1 0.1,0 0.1,-4.1 0.1,16.1 0.2,-20.1 0.1,0 0.1,8.1 0.1,0 0.1,0 0.1,-8.1 0.1,8.1 0.1,-8.1 0.2,16.1 0.1,-8 0.1,-12.1 0.1,12.1 0.1,8 0.1,-12.1 0.1,8.1 0.1,-4 0.2,-4.1 0.1,8.1 0.1,-8.1 0.1,4.1 0.1,0 0.1,0 0.1,8 0.1,-4 0.2,0 0.1,-8.1 0.1,8.1 0.1,4 0.1,-8 0.1,-4.1 0.1,4.1 0.1,4 0.2,4 0.1,-8 0.1,-4.1 0.1,8.1 0.1,-4 0.1,8 0.1,0 0.1,-8 0.2,4 0.1,-4 0.1,0 0.1,4 0.1,0 0.1,-4 0.1,8 0.2,-8 0.1,4 0.1,8 0.1,-4 0.1,0 0.1,-20.1 0.1,16.1 0.1,8 0.2,-12 0.1,12 0.1,0 0.1,-8 0.1,-4 0.1,-8.1 0.1,8.1 0.1,8 0.2,-4 0.1,-8.1 0.1,-4 0.1,16.1 0.1,-12.1 0.1,8.1 0.1,8 0.1,-12 0.2,0 0.1,12 0.1,-4 0.1,-8 0.1,0 0.1,8 0.1,-12.1 0.1,12.1 0.2,0 0.1,-8 0.1,-4.1 0.1,12.1 0.1,0 0.1,-4 0.1,-8.1 0.1,12.1 0.2,-4 0.1,4 0.1,4 0.1,-12 0.1,4 0.1,-8.1 0.1,12.1 0.1,-12.1 0.2,8.1 0.1,-8.1 0.1,16.1 0.1,-4 0.1,-4 0.1,-12.1 0.1,8.1 0.1,4 0.2,12 0.1,-8 0.1,-16.1 0.1,12.1 0.1,-8.1 0.1,16.1 0.1,-16.1 0.1,0 0.2,4.1 0.1,4 0.1,0 0.1,-8.1 0.1,8.1 0.1,4 0.1,-8 0.1,4 0.2,4 0.1,-8 0.1,0 0.1,8 0.1,-8 0.1,-8.1 0.1,4 0.2,-4 0.1,0 0.1,4 0.1,0 0.1,8.1 0.1,0 0.1,0 0.1,0 0.2,-20.1 0.1,4 0.1,20.1 0.1,-16.1 0.1,4 0.1,-4 0.1,0 0.1,-4 0.2,12.1 0.1,0 0.1,-4.1 0.1,-8 0.1,4 0.1,0 0.1,4 0.1,-8 0.2,4 0.1,-8 0.1,-4 0.1,8 0.1,8 0.1,4.1 0.1,-8.1 0.1,0 0.2,0 0.1,0 0.1,0 0.1,-8 0.1,8 0.1,-8 0.1,8 0.1,4 0.2,-4 0.1,8.1 0.1,-4.1 0.1,12.1 0.1,-12.1 0.1,-4 0.1,-4 0.1,12.1 0.2,4 0.1,-12.1 0.1,16.1 0.1,-8 0.1,0 0.1,-4.1 0.1,-4 0.1,0 0.2,20.1 0.1,-8 0.1,8 0.1,-8 0.1,8 0.1,-8 0.1,0 0.1,-4 0.2,0 0.1,4 0.1,-4 0.1,-4.1 0.1,8.1 0.1,0 0.1,4 0.2,4 0.1,-12 0.1,-4.1 0.1,8.1 0.1,12 0.1,-4 0.1,-8 0.1,0 0.2,8 0.1,-8 0.1,4 0.1,8 0.1,-4 0.1,-8 0.1,8 0.1,-4 0.2,-8 0.1,0 0.1,4 0.1,8 0.1,-4 0.1,-4 0.1,0 0.1,-4 0.2,0 0.1,-4.1 0.1,0 0.1,8.1 0.1,4 0.1,-12.1 0.1,4.1 0.1,0 0.2,4 0.1,-4 0.1,-12.1 0.1,24.1 0.1,-16.1 0.1,4.1 0.1,-4.1 0.1,8.1 0.2,-4 0.1,4 0.1,-4 0.1,4 0.1,-12.1 0.1,0 0.1,4 0.1,0 0.2,8.1 0.1,4 0.1,-8 0.1,4 0.1,0 0.1,4 0.1,-4 0.1,0 0.2,-12.1 0.1,0 0.1,8.1 0.1,0 0.1,4 0.1,-4 0.1,4 0.1,-4 0.2,12 0.1,8 0.1,-28.1 0.1,12.1 0.1,0 0.1,0 0.1,0 0.2,-4 0.1,12 0.1,-4 0.1,-12.1 0.1,8.1 0.1,4 0.1,4 0.1,-20.1 0.2,4 0.1,4.1 0.1,12 0.1,-4 0.1,4 0.1,4 0.1,-8 0.1,0 0.2,-16.1 0.1,20.1 0.1,-12 0.1,4 0.1,-4 0.1,4 0.1,-4 0.1,4 0.2,-8.1 0.1,4.1 0.1,8 0.1,-4 0.1,-12.1 0.1,0 0.1,16.1 0.1,-8 0.2,-8.1 0.1,4 0.1,8.1 0.1,-8.1 0.1,4.1 0.1,12 0.1,-12 0.1,0 0.2,-4.1 0.1,-8 0.1,0 0.1,0 0.1,0 0.1,16.1 0.1,0 0.1,-8.1 0.2,4.1 0.1,-8.1 0.1,8.1 0.1,-8.1 0.1,-4 0.1,8 0.1,0 0.1,4.1 0.2,8 0.1,-12.1 0.1,0 0.1,-4 0.1,4 0.1,-12 0.1,4 0.1,-4 0.2,28.1 0.1,-12 0.1,-8.1 0.1,0 0.1,0 0.1,4 0.1,-8 0.2,8 0.1,0 0.1,-16 0.1,16 0.1,-8 0.1,4 0.1,-4 0.1,4 0.2,-4 0.1,0 0.1,8 0.1,0 0.1,4.1 0.1,0 0.1,-16.1 0.1,0 0.2,20.1 0.1,-4 0.1,-8.1 0.1,-4 0.1,12.1 0.1,-4.1 0.1,-4 0.1,-4 0.2,12.1 0.1,-12.1 0.1,12.1 0.1,-12.1 0.1,8 0.1,0 0.1,-8 0.1,4 0.2,0 0.1,4 0.1,4.1 0.1,-12.1 0.1,0 0.1,8 0.1,0 0.1,8.1 0.2,-16.1 0.1,12.1 0.1,-4.1 0.1,-8 0.1,28.1 0.1,-16 0.1,8 0.1,-8 0.2,0 0.1,8 0.1,-16.1 0.1,-8 0.1,16.1 0.1,0 0.1,-12.1 0.1,8 0.2,8.1 0.1,-8.1 0.1,8.1 0.1,-12.1 0.1,12.1 0.1,-12.1 0.1,16.1 0.1,-8 0.2,12 0.1,-28.1 0.1,12 0.1,4.1 0.1,-4.1 0.1,0 0.1,-4 0.2,-12 0.1,4 0.1,12 0.1,-4 0.1,4 0.1,-4 0.1,8.1 0.1,-4.1 0.2,8.1 0.1,-12.1 0.1,8.1 0.1,-12.1 0.1,4 0.1,8.1 0.1,-16.1 0.1,20.1 0.2,-28.1 0.1,8 0.1,-4 0.1,0 0.1,4 0.1,8 0.1,4 0.1,-4 0.2,16.1 0.1,-20.1 0.1,4 0.1,0 0.1,4 0.1,4.1 0.1,-8.1 0.1,4 0.2,0 0.1,0 0.1,-8 0.1,0 0.1,16.1 0.1,-8.1 0.1,12.1 0.1,-4 0.2,0 0.1,-4 0.1,0 0.1,-4.1 0.1,4.1 0.1,0 0.1,8 0.1,-12.1 0.2,8.1 0.1,-8.1 0.1,4.1 0.1,-12.1 0.1,20.1 0.1,-12.1 0.1,0 0.1,8.1 0.2,0 0.1,-12.1 0.1,4 0.1,4.1 0.1,4 0.1,0 0.1,8 0.1,-20.1 0.2,8.1 0.1,-4.1 0.1,-4 0.1,4 0.1,4.1 0.1,-8.1 0.1,20.1 0.2,-20.1 0.1,4 0.1,4.1 0.1,-4.1 0.1,0 0.1,8.1 0.1,-4 0.1,4 0.2,0 0.1,-4 0.1,4 0.1,4 0.1,-4 0.1,-12.1 0.1,4 0.1,4.1 0.2,-4.1 0.1,8.1 0.1,4 0.1,0 0.1,-4 0.1,-4 0.1,12 0.1,-20.1 0.2,8.1 0.1,16 0.1,4 0.1,-12 0.1,0 0.1,8 0.1,-8 0.1,0 0.2,0 0.1,-8 0.1,16 0.1,-8 0.1,8 0.1,-12 0.1,0 0.1,-12.1 0.2,20.1 0.1,-8 0.1,4 0.1,-4 0.1,4 0.1,4 0.1,0 0.1,0 0.2,-12 0.1,8 0.1,-8 0.1,12 0.1,8 0.1,-8 0.1,0 0.1,-16.1 0.2,20.1 0.1,-12 0.1,4 0.1,4 0.1,-12 0.1,12 0.1,-16.1 0.1,8.1 0.2,-4 0.1,8 0.1,-4 0.1,-4 0.1,12 0.1,-4 0.1,4 0.2,0 0.1,-4 0.1,12 0.1,-12 0.1,4 0.1,-8 0.1,12 0.1,-8 0.2,0 0.1,-8 0.1,8 0.1,-12.1 0.1,4.1 0.1,12 0.1,0 0.1,-8 0.2,-4 0.1,4 0.1,4 0.1,-8 0.1,4 0.1,4 0.1,-4 0.1,0 0.2,8 0.1,-8 0.1,-4 0.1,8 0.1,4 0.1,-12 0.1,-4.1 0.1,8.1 0.2,0 0.1,4 0.1,-4 0.1,8 0.1,-8 0.1,-4 0.1,8 0.1,-4 0.2,-4 0.1,-8.1 0.1,12.1 0.1,4 0.1,-4 0.1,4 0.1,-8 0.1,-4.1 0.2,16.1 0.1,-12 0.1,0 0.1,4 0.1,0 0.1,4 0.1,-12.1 0.1,0 0.2,12.1 0.1,-8 0.1,8 0.1,-8 0.1,-4.1 0.1,16.1 0.1,-12 0.1,0 0.2,-12.1 0.1,8 0.1,0 0.1,4.1 0.1,0 0.1,-4.1 0.1,4.1 0.2,-4.1 0.1,4.1 0.1,8 0.1,-12.1 0.1,4.1 0.1,8 0.1,-4 0.1,0 0.2,-12.1 0.1,4 0.1,-8 0.1,24.1 0.1,-16.1 0.1,-4 0.1,12.1 0.1,-4 0.2,8 0.1,-8 0.1,4 0.1,8 0.1,-16.1 0.1,4.1 0.1,0 0.1,12 0.2,-16.1 0.1,8.1 0.1,-8.1 0.1,12.1 0.1,-12.1 0.1,8.1 0.1,-4 0.1,4 0.2,8 0.1,-8 0.1,-8.1 0.1,-4 0.1,12.1 0.1,-12.1 0.1,12.1 0.1,4 0.2,-8 0.1,0 0.1,-4.1 0.1,16.1 0.1,-20.1 0.1,4 0.1,0 0.1,16.1 0.2,-4 0.1,-12.1 0.1,8.1 0.1,-8.1 0.1,12.1 0.1,-12.1 0.1,4.1 0.1,8 0.2,-4 0.1,-12.1 0.1,12.1 0.1,-8.1 0.1,4.1 0.1,8 0.1,-4 0.1,4 0.2,-16.1 0.1,20.1 0.1,0 0.1,-8 0.1,-8.1 0.1,12.1 0.1,0 0.2,-4 0.1,0 0.1,0 0.1,0 0.1,-4 0.1,-4.1 0.1,12.1 0.1,0 0.2,-4 0.1,-4 0.1,-16.1 0.1,12 0.1,4.1 0.1,16 0.1,-4 0.1,-16.1 0.2,8.1 0.1,0 0.1,-8.1 0.1,-4 0.1,4 0.1,4.1 0.1,12 0.1,-12 0.2,-4.1 0.1,4.1 0.1,8 0.1,8 0.1,-12 0.1,-4 0.1,4 0.1,0 0.2,-4 0.1,4 0.1,0 0.1,0 0.1,0 0.1,-4 0.1,0 0.1,4 0.2,8 0.1,-12 0.1,-4.1 0.1,0 0.1,4.1 0.1,4 0.1,0 0.1,-4 0.2,-4.1 0.1,0 0.1,8.1 0.1,8 0.1,-16.1 0.1,4.1 0.1,0 0.1,-4.1 0.2,12.1 0.1,-4 0.1,-8.1 0.1,8.1 0.1,-4 0.1,-8.1 0.1,4 0.1,8.1 0.2,-8.1 0.1,8.1 0.1,-4 0.1,8 0.1,4 0.1,-20.1 0.1,0 0.2,12.1 0.1,-8.1 0.1,20.1 0.1,-16 0.1,-4.1 0.1,0 0.1,4.1 0.1,0 0.2,0 0.1,-12.1 0.1,16.1 0.1,-4 0.1,-4.1 0.1,12.1 0.1,-16.1 0.1,20.1 0.2,-12 0.1,4 0.1,-4 0.1,8 0.1,-4 0.1,-4 0.1,8 0.1,-12.1 0.2,16.1 0.1,-12 0.1,-8.1 0.1,16.1 0.1,-8 0.1,4 0.1,0 0.1,-4 0.2,8 0.1,-8 0.1,12 0.1,-8 0.1,-4 0.1,8 0.1,-4 0.1,-12.1 0.2,12.1 0.1,0 0.1,0 0.1,0 0.1,4 0.1,0 0.1,0 0.1,0 0.2,-8 0.1,8 0.1,-4 0.1,-4 0.1,20 0.1,-8 0.1,0 0.1,0 0.2,-8 0.1,8 0.1,0 0.1,-8 0.1,20 0.1,-4 0.1,0 0.1,-8 0.2,0 0.1,8 0.1,-16 0.1,0" fill="none" stroke="#2020ff" stroke-width="0.6" stroke-linejoin="round" />
</g>
<rect x="508.3" y="216.0" width="168.9" height="100.2" fill="none" stroke="#444" stroke-width="1.3"/>
<line x1="504.8" y1="316.2" x2="508.3" y2="316.2" stroke="#444" stroke-width="1" />
<text x="501.5" y="320.0" font-size="11.8" font-family="'Liberation Serif', 'DejaVu Serif', serif" fill="#151515" text-anchor="end" >0</text>
<line x1="504.8" y1="296.2" x2="508.3" y2="296.2" stroke="#444" stroke-width="1" />
<text x="501.5" y="300.0" font-size="11.8" font-family="'Liberation Serif', 'DejaVu Serif', serif" fill="#151515" text-anchor="end" >5</text>
<line x1="504.8" y1="276.1" x2="508.3" y2="276.1" stroke="#444" stroke-width="1" />
<text x="501.5" y="279.9" font-size="11.8" font-family="'Liberation Serif', 'DejaVu Serif', serif" fill="#151515" text-anchor="end" >10</text>
<line x1="504.8" y1="256.1" x2="508.3" y2="256.1" stroke="#444" stroke-width="1" />
<text x="501.5" y="259.9" font-size="11.8" font-family="'Liberation Serif', 'DejaVu Serif', serif" fill="#151515" text-anchor="end" >15</text>
<line x1="504.8" y1="236.0" x2="508.3" y2="236.0" stroke="#444" stroke-width="1" />
<text x="501.5" y="239.8" font-size="11.8" font-family="'Liberation Serif', 'DejaVu Serif', serif" fill="#151515" text-anchor="end" >20</text>
<line x1="504.8" y1="216.0" x2="508.3" y2="216.0" stroke="#444" stroke-width="1" />
<text x="501.5" y="219.8" font-size="11.8" font-family="'Liberation Serif', 'DejaVu Serif', serif" fill="#151515" text-anchor="end" >25</text>
<line x1="508.3" y1="316.2" x2="508.3" y2="319.7" stroke="#444" stroke-width="1" />
<text x="508.3" y="331.4" font-size="11.8" font-family="'Liberation Serif', 'DejaVu Serif', serif" fill="#151515" text-anchor="middle" >0.0</text>
<line x1="532.4" y1="316.2" x2="532.4" y2="319.7" stroke="#444" stroke-width="1" />
<text x="532.4" y="331.4" font-size="11.8" font-family="'Liberation Serif', 'DejaVu Serif', serif" fill="#151515" text-anchor="middle" >0.5</text>
<line x1="556.6" y1="316.2" x2="556.6" y2="319.7" stroke="#444" stroke-width="1" />
<text x="556.6" y="331.4" font-size="11.8" font-family="'Liberation Serif', 'DejaVu Serif', serif" fill="#151515" text-anchor="middle" >1.0</text>
<line x1="580.7" y1="316.2" x2="580.7" y2="319.7" stroke="#444" stroke-width="1" />
<text x="580.7" y="331.4" font-size="11.8" font-family="'Liberation Serif', 'DejaVu Serif', serif" fill="#151515" text-anchor="middle" >1.5</text>
<line x1="604.8" y1="316.2" x2="604.8" y2="319.7" stroke="#444" stroke-width="1" />
<text x="604.8" y="331.4" font-size="11.8" font-family="'Liberation Serif', 'DejaVu Serif', serif" fill="#151515" text-anchor="middle" >2.0</text>
<line x1="628.9" y1="316.2" x2="628.9" y2="319.7" stroke="#444" stroke-width="1" />
<text x="628.9" y="331.4" font-size="11.8" font-family="'Liberation Serif', 'DejaVu Serif', serif" fill="#151515" text-anchor="middle" >2.5</text>
<line x1="653.1" y1="316.2" x2="653.1" y2="319.7" stroke="#444" stroke-width="1" />
<text x="653.1" y="331.4" font-size="11.8" font-family="'Liberation Serif', 'DejaVu Serif', serif" fill="#151515" text-anchor="middle" >3.0</text>
<line x1="677.2" y1="316.2" x2="677.2" y2="319.7" stroke="#444" stroke-width="1" />
<text x="677.2" y="331.4" font-size="11.8" font-family="'Liberation Serif', 'DejaVu Serif', serif" fill="#151515" text-anchor="middle" >3.5</text>
<text x="512.3" y="227.2" font-size="13" font-family="'Liberation Sans', 'DejaVu Sans', sans-serif" font-weight="bold" stroke="#000" stroke-width="0.35" textLength="12.2" lengthAdjust="spacingAndGlyphs">ii.</text>
<text x="608.3" y="230.6" font-size="18" font-family="'Liberation Serif', 'DejaVu Serif', serif" fill="#000" textLength="65" lengthAdjust="spacingAndGlyphs" >DI water</text>
<rect x="516.5" y="233.5" width="97.9" height="19.2" fill="#fff" stroke="#333" stroke-width="1.2"/>
<line x1="521.5" y1="240.8" x2="536.0" y2="240.8" stroke="#ff2a2a" stroke-width="0.9" />
<text x="536.6" y="245.2" font-size="14.5" font-family="'Liberation Serif', 'DejaVu Serif', serif" fill="#ff2a2a" >N</text>
<text x="546.2" y="246.7" font-size="10" font-family="'Liberation Serif', 'DejaVu Serif', serif" fill="#ff2a2a" textLength="10.6" lengthAdjust="spacingAndGlyphs" >Na</text>
<text x="557.4" y="241.6" font-size="9.5" font-family="'Liberation Serif', 'DejaVu Serif', serif" fill="#ff2a2a" >+</text>
<line x1="570.6" y1="240.8" x2="584.3" y2="240.8" stroke="#2a2aff" stroke-width="0.9" />
<text x="585.6" y="245.2" font-size="14.5" font-family="'Liberation Serif', 'DejaVu Serif', serif" fill="#2a2aff" >N</text>
<text x="595.8" y="246.7" font-size="10" font-family="'Liberation Serif', 'DejaVu Serif', serif" fill="#2a2aff" textLength="9.4" lengthAdjust="spacingAndGlyphs" >Cl</text>
<text x="606.1" y="242.0" font-size="10" font-family="'Liberation Serif', 'DejaVu Serif', serif" fill="#2a2aff" >-</text>
<g clip-path="url(#ciii)">
<path d="M311.4,426.5l0.1,-0.9 0.1,1.7 0.1,-6 0.1,3.9 0.1,-7.9 0.2,2.3 0.1,3.9 0.1,3.1 0.1,2.1 0.1,-6.3 0.1,-0.7 0.1,1.7 0.1,3.2 0.1,-6.9 0.1,1 0.1,-2 0.2,2 0.1,-0.7 0.1,-0.1 0.1,9.4 0.1,-8.3 0.1,2.9 0.1,1.6 0.1,1.3 0.1,0.3 0.1,-1.8 0.1,-0.6 0.1,-1.3 0.2,7.1 0.1,-3.6 0.1,-5.7 0.1,-3.1 0.1,6.5 0.1,-2.7 0.1,-5.1 0.1,10.6 0.1,-7.5 0.1,0.7 0.1,1.7 0.2,-4.3 0.1,3.2 0.1,2.9 0.1,-4.1 0.1,-5.5 0.1,8.4 0.1,-3 0.1,-5.6 0.1,10.5 0.1,-1.2 0.1,3.4 0.2,-4.8 0.1,3.2 0.1,-7 0.1,6.1 0.1,-5.2 0.1,2.6 0.1,0 0.1,4.9 0.1,-7 0.1,4.1 0.1,0.4 0.2,-4 0.1,-3.3 0.1,8.3 0.1,0.9 0.1,-2.5 0.1,8 0.1,-12.4 0.1,5.9 0.1,-5.2 0.1,8 0.1,2.6 0.1,-5.9 0.2,-2.5 0.1,-3.7 0.1,0.1 0.1,-2.7 0.1,9.5 0.1,0.1 0.1,-3.3 0.1,-1.3 0.1,6.1 0.1,-1.2 0.1,2.6 0.2,-9.2 0.1,-3.1 0.1,6.4 0.1,0.8 0.1,-1.5 0.1,7.4 0.1,-5.8 0.1,-4.5 0.1,1.7 0.1,4.3 0.1,-4.1 0.2,0.9 0.1,3 0.1,-2.2 0.1,-7.2 0.1,10 0.1,3.8 0.1,-8.1 0.1,-0.4 0.1,1 0.1,2.3 0.1,-5.6 0.1,-2 0.2,1.8 0.1,12 0.1,-3.6 0.1,-6.3 0.1,11.1 0.1,-14.3 0.1,3.5 0.1,4.4 0.1,2.2 0.1,-7.9 0.1,5.4 0.2,-2.3 0.1,5 0.1,0.2 0.1,-2.4 0.1,-8 0.1,3.4 0.1,4.8 0.1,-4.7 0.1,-2.5 0.1,8.6 0.1,-2.2 0.2,-1.6 0.1,5.1 0.1,2.3 0.1,-8.7 0.1,1.1 0.1,-1.9 0.1,8.2 0.1,-4.2 0.1,2.9 0.1,-13.4 0.1,3.1 0.2,3.9 0.1,-2.9 0.1,10.4 0.1,-4.8 0.1,-1.3 0.1,-1.2 0.1,1.6 0.1,-2.2 0.1,1.5 0.1,-0.7 0.1,-2.8 0.1,6 0.2,-4.2 0.1,0.5 0.1,6.2 0.1,-2.7 0.1,-9 0.1,7.5 0.1,-2.4 0.1,4 0.1,-18.5 0.1,16.5 0.1,-12.4 0.2,9.5 0.1,6.3 0.1,-3.1 0.1,-2.4 0.1,6 0.1,-3.8 0.1,1 0.1,-3.9 0.1,5.4 0.1,-3.9 0.1,-1.7 0.2,-1.2 0.1,6 0.1,-10 0.1,9.2 0.1,-2.5 0.1,-2.6 0.1,9.2 0.1,-8 0.1,-1.2 0.1,9.6 0.1,-5.9 0.2,-1.9 0.1,4 0.1,-3.2 0.1,5.6 0.1,-3.9 0.1,-0.3 0.1,-2.1 0.1,2.5 0.1,-0.1 0.1,-3.3 0.1,2.1 0.1,3.6 0.2,-1.3 0.1,1.3 0.1,-13.1 0.1,1.3 0.1,2.6 0.1,4 0.1,5.6 0.1,-5.4 0.1,1.2 0.1,6.5 0.1,-1.6 0.2,-4.7 0.1,7.3 0.1,-7.8 0.1,2.3 0.1,-6.5 0.1,5.4 0.1,2.1 0.1,2.6 0.1,-1 0.1,-6.3 0.1,4.6 0.2,8.3 0.1,-7.5 0.1,-1.4 0.1,0.3 0.1,0.5 0.1,1.8 0.1,2.4 0.1,-10.7 0.1,2.5 0.1,1.4 0.1,3 0.1,-3.1 0.2,2.3 0.1,-3.2 0.1,2 0.1,0.4 0.1,-3.7 0.1,3.9 0.1,2.8 0.1,-1.7 0.1,-0.7 0.1,-7 0.1,-1.9 0.2,12.1 0.1,-1 0.1,-2.8 0.1,7 0.1,-4.8 0.1,-7 0.1,7.5 0.1,-1 0.1,-5.5 0.1,-2.6 0.1,1.1 0.2,5.4 0.1,-1.1 0.1,-2.7 0.1,10 0.1,-7.4 0.1,2.6 0.1,-2.5 0.1,-1.3 0.1,10.8 0.1,-12.1 0.1,3.3 0.2,-2.5 0.1,0.9 0.1,0 0.1,-6.1 0.1,5.2 0.1,-0.3 0.1,2.1 0.1,-1.6 0.1,5.7 0.1,-6 0.1,1.6 0.1,-7.2 0.2,2 0.1,11.5 0.1,-6.7 0.1,-1 0.1,-3.3 0.1,13 0.1,-8.8 0.1,6.6 0.1,-2.2 0.1,-9.7 0.1,5.1 0.2,1.6 0.1,1.6 0.1,0.3 0.1,-5 0.1,-10.8 0.1,13.8 0.1,6.8 0.1,-0.5 0.1,-0.1 0.1,-3.9 0.1,-9.1 0.2,8.8 0.1,0.5 0.1,-2.7 0.1,1.4 0.1,1.1 0.1,-2.6 0.1,3.5 0.1,-1.8 0.1,-0.7 0.1,2.1 0.1,-6.2 0.2,8 0.1,-5.6 0.1,4.2 0.1,-7.1 0.1,7.6 0.1,-3 0.1,-3.5 0.1,0.6 0.1,5.9 0.1,-2.4 0.1,1.4 0.1,-0.7 0.2,4.3 0.1,-4.1 0.1,1.6 0.1,-2.7 0.1,0.6 0.1,-0.6 0.1,-0.4 0.1,-3.3 0.1,4.3 0.1,1 0.1,-7 0.2,16.2 0.1,-7.6 0.1,0.1 0.1,-9.3 0.1,-0.1 0.1,2.4 0.1,3.2 0.1,-1.3 0.1,-3.7 0.1,11.2 0.1,-4.1 0.2,-3.7 0.1,4.7 0.1,-5.9 0.1,-0.1 0.1,-1.2 0.1,10 0.1,-11.2 0.1,1.4 0.1,5.4 0.1,-5.2 0.1,4.7 0.1,3.2 0.2,-10.4 0.1,11.4 0.1,-8.3 0.1,3.5 0.1,-0.3 0.1,2 0.1,4.2 0.1,-10.4 0.1,8 0.1,-10.8 0.1,8.4 0.2,1.4 0.1,-4.2 0.1,-1.8 0.1,-1.1 0.1,5.5 0.1,-1.1 0.1,0.3 0.1,-2.6 0.1,-2.9 0.1,1.4 0.1,5 0.2,-0.8 0.1,-0.3 0.1,1.8 0.1,1.8 0.1,-2.3 0.1,-3.4 0.1,0 0.1,5.7 0.1,-12.6 0.1,9.6 0.1,-2 0.2,-1.4 0.1,0.9 0.1,-1.7 0.1,0.8 0.1,-0.4 0.1,3.4 0.1,5.7 0.1,1.9 0.1,-7.3 0.1,-9.4 0.1,13.1 0.1,0.9 0.2,2.9 0.1,-12.4 0.1,12.8 0.1,-0.7 0.1,-9.8 0.1,-1 0.1,5.2 0.1,-6.6 0.1,-0.2 0.1,6.7 0.1,-11.7 0.2,7.5 0.1,0.4 0.1,-3.6 0.1,3.4 0.1,5 0.1,-3.1 0.1,-0.8 0.1,-0.7 0.1,0.4 0.1,0 0.1,2.6 0.2,-6.8 0.1,9.2 0.1,1 0.1,-12.9 0.1,5.2 0.1,4.6 0.1,-4.6 0.1,2.6 0.1,-1.1 0.1,-4.3 0.1,8 0.2,-1.4 0.1,-1.1 0.1,-2 0.1,-0.4 0.1,-3.7 0.1,-8.5 0.1,16.1 0.1,-4.5 0.1,0.6 0.1,-5.1 0.1,10.8 0.1,-5.7 0.2,-1.6 0.1,0.7 0.1,2.2 0.1,3.3 0.1,0.8 0.1,-1.2 0.1,-2.8 0.1,-1 0.1,0.7 0.1,-13.1 0.1,13.6 0.2,6.2 0.1,-14.4 0.1,3.8 0.1,4 0.1,0.9 0.1,0.1 0.1,-1.9 0.1,5.7 0.1,-10.9 0.1,4.5 0.1,8 0.2,-10.8 0.1,2.7 0.1,2.7 0.1,-1.1 0.1,-2.2 0.1,-4.6 0.1,4.2 0.1,-1.2 0.1,10.1 0.1,-2.3 0.1,1.8 0.1,-4.2 0.2,1.3 0.1,0.4 0.1,-1.2 0.1,-4.6 0.1,3.7 0.1,2 0.1,-5 0.1,3.6 0.1,-1.4 0.1,0.6 0.1,1.8 0.2,-8.5 0.1,7.8 0.1,-4.2 0.1,8.9 0.1,-1.5 0.1,-15.4 0.1,0.4 0.1,18 0.1,-10.6 0.1,3.6 0.1,-12.7 0.2,10 0.1,4.4 0.1,-5.5 0.1,2.8 0.1,0.1 0.1,7 0.1,-7.6 0.1,0.4 0.1,0.4 0.1,1.2 0.1,-2.5 0.2,2.2 0.1,4.2 0.1,-6.2 0.1,6.7 0.1,-6.2 0.1,-6.8 0.1,1.2 0.1,3.1 0.1,-0.8 0.1,0.6 0.1,5.1 0.1,-4.4 0.2,-9.5 0.1,16.6 0.1,-4.1 0.1,-6.7 0.1,0.5 0.1,-0.7 0.1,-0.3 0.1,14.6 0.1,-7.5 0.1,6.4 0.1,-0.9 0.2,-8.8 0.1,3.9 0.1,2.4 0.1,0.3 0.1,-0.4 0.1,1.5 0.1,-0.3 0.1,-12.7 0.1,9.1 0.1,2.3 0.1,-0.8 0.2,-1.6 0.1,1.6 0.1,-3.5 0.1,3.8 0.1,-8.5 0.1,4.3 0.1,1.8 0.1,1.6 0.1,-3.4 0.1,-1.3 0.1,-2 0.2,3.8 0.1,7 0.1,-10.6 0.1,10.8 0.1,-3 0.1,-10.6 0.1,6.8 0.1,-6.5 0.1,7.4 0.1,0.6 0.1,7.9 0.1,-8 0.2,-7.2 0.1,5.7 0.1,-9.1 0.1,7.1 0.1,1.2 0.1,-2 0.1,2.1 0.1,-0.4 0.1,4.8 0.1,4.2 0.1,-5.9 0.2,-2 0.1,0.3 0.1,-2.7 0.1,3.7 0.1,4.7 0.1,-5.6 0.1,-2.4 0.1,7.2 0.1,-11.3 0.1,9.9 0.1,-0.7 0.2,-8.1 0.1,6.7 0.1,-3.8 0.1,0.5 0.1,-0.4 0.1,-6.4 0.1,7 0.1,-1.5 0.1,-4.1 0.1,13.3 0.1,1.9 0.2,-5.9 0.1,-5.6 0.1,-2.5 0.1,-1.4 0.1,9.7 0.1,-1.6 0.1,-4.6 0.1,3 0.1,0.3 0.1,4.3 0.1,-9.1 0.1,4.4 0.2,2.9 0.1,-7.2 0.1,0.8 0.1,0.4 0.1,5.2 0.1,7.7 0.1,-10.8 0.1,5.4 0.1,1.8 0.1,0.4 0.1,1 0.2,-5 0.1,4 0.1,2 0.1,-0.9 0.1,-2.8 0.1,3.2 0.1,-2.3 0.1,-5.1 0.1,4.8 0.1,-1.6 0.1,-1.7 0.2,5 0.1,-12.4 0.1,-10.9 0.1,26.2 0.1,-6.5 0.1,-2.7 0.1,1.6 0.1,-1.8 0.1,2.9 0.1,-0.2 0.1,-3.4 0.1,2.3 0.2,-6.3 0.1,8.8 0.1,-1.8 0.1,1 0.1,-2.2 0.1,-2.5 0.1,4.8 0.1,0.4 0.1,1.5 0.1,-6.4 0.1,4 0.2,2.1 0.1,-4.7 0.1,1.9 0.1,-3.3 0.1,-1.6 0.1,3.3 0.1,3.5 0.1,0.5 0.1,-8.1 0.1,5.7 0.1,3.4 0.2,-6.9 0.1,1 0.1,-0.1 0.1,3.6 0.1,-2.7 0.1,-0.4 0.1,7.7 0.1,-7.8 0.1,5.8 0.1,-12.6 0.1,4.6 0.2,6 0.1,-1 0.1,-0.7 0.1,-11.4 0.1,7.3 0.1,7.6 0.1,-10.3 0.1,4.5 0.1,2.2 0.1,-4.9 0.1,5.8 0.1,-13.1 0.2,14.6 0.1,-9.5 0.1,6.9 0.1,2.1 0.1,-10.7 0.1,2.7 0.1,3 0.1,-6.4 0.1,17.8 0.1,-3.9 0.1,-5.2 0.2,2.2 0.1,-6 0.1,3.1 0.1,-2.3 0.1,3.7 0.1,3.8 0.1,-8.9 0.1,9.8 0.1,-1.7 0.1,-4.5 0.1,3.7 0.2,-1.7 0.1,-5.9 0.1,0.6 0.1,9.7 0.1,0.9 0.1,-4.9 0.1,4.8 0.1,-6 0.1,-1.6 0.1,-7.9 0.1,11 0.2,3.5 0.1,-3 0.1,-7.1 0.1,3.7 0.1,-13 0.1,15.9 0.1,-1.8 0.1,-6.4 0.1,8.5 0.1,-2.7 0.1,-2.1 0.1,1.2 0.2,-5.1 0.1,6.9 0.1,-1.7 0.1,-2.1 0.1,6.1 0.1,-5.2 0.1,-1.4 0.1,-1.2 0.1,8 0.1,0.6 0.1,0.7 0.2,-1.3 0.1,3.4 0.1,-10.7 0.1,-3.5 0.1,7.4 0.1,-10.6 0.1,14.2 0.1,-2.7 0.1,-8.7 0.1,7.2 0.1,0.6 0.2,4.7 0.1,-10.7 0.1,0.7 0.1,4.6 0.1,2.1 0.1,-0.3 0.1,-3.6 0.1,-2.7 0.1,6.9 0.1,1.8 0.1,-21.9 0.1,15.7 0.2,-0.7 0.1,6.6 0.1,-5.7 0.1,-1.3 0.1,3.1 0.1,5.5 0.1,-13.9 0.1,6.3 0.1,6.5 0.1,-7.2 0.1,3.2 0.2,4 0.1,0 0.1,-0.9 0.1,-4.2 0.1,-0.8 0.1,1.6 0.1,1.7 0.1,-4.6 0.1,2.9 0.1,5.7 0.1,-6 0.2,1 0.1,3.1 0.1,-1.1 0.1,3.7 0.1,-2.3 0.1,-1.1 0.1,-6.8 0.1,3.1 0.1,-7.7 0.1,-6.7 0.1,17.9 0.2,2.1 0.1,-4.9 0.1,-2 0.1,0.7 0.1,9.5 0.1,-7.9 0.1,1.9 0.1,-2.6 0.1,-18.1 0.1,12.6 0.1,-2.4 0.1,6.6 0.2,2 0.1,5.2 0.1,-9.3 0.1,4.5 0.1,-3 0.1,4.8 0.1,-4 0.1,-22.7 0.1,23.5 0.1,2.9 0.1,-5 0.2,3.9 0.1,-6.4 0.1,0.5 0.1,9.8 0.1,-1.9 0.1,-7.4 0.1,-2.4 0.1,8.6 0.1,1.3 0.1,-3.3 0.1,-1.3 0.2,5.8 0.1,-12.9 0.1,17.5 0.1,-12.6 0.1,10.4 0.1,-0.9 0.1,-6.2 0.1,-4.6 0.1,2.9 0.1,3.4 0.1,-5.1 0.2,7.9 0.1,-7.9 0.1,4.2 0.1,-1.4 0.1,5 0.1,-8.4 0.1,6.8 0.1,2.5 0.1,-2.9 0.1,-0.6 0.1,0.1 0.1,-3.1 0.2,2 0.1,-1.5 0.1,2.7 0.1,1 0.1,-7.1 0.1,3.2 0.1,6.9 0.1,-5.3 0.1,-1 0.1,-4.2 0.1,6.8 0.2,0.4 0.1,-5.1 0.1,0.2 0.1,8 0.1,0.1 0.1,0.6 0.1,-3.2 0.1,-3.2 0.1,4.2 0.1,-19.6 0.1,14.6 0.2,4.6 0.1,-3.3 0.1,3.4 0.1,-2.2 0.1,3.6 0.1,-6.5 0.1,-2 0.1,11.5 0.1,0.2 0.1,-4.4 0.1,-1.3 0.1,1.1 0.2,3.7 0.1,-3.6 0.1,2.7 0.1,-0.9 0.1,-4.7 0.1,7.4 0.1,-9.9 0.1,7.5 0.1,1.4 0.1,-2 0.1,-1.6 0.2,-5.2 0.1,0.3 0.1,-0.8 0.1,-4.3 0.1,10.9 0.1,-0.5 0.1,-2.4 0.1,-1.1 0.1,-2.6 0.1,5 0.1,-2.5 0.2,2 0.1,-5.8 0.1,11.7 0.1,-16.1 0.1,11.5 0.1,0.2 0.1,-7.8 0.1,4.6 0.1,-1.9 0.1,3 0.1,-8 0.2,8.1 0.1,2.2 0.1,-5.3 0.1,5.9 0.1,-3.8 0.1,0.6 0.1,-2.7 0.1,-1.5 0.1,2.2 0.1,-2.6 0.1,2 0.1,-4 0.2,7 0.1,0.9 0.1,-15.4 0.1,4.7 0.1,7 0.1,5.5 0.1,-4.5 0.1,-6.2 0.1,6.5 0.1,-1.8 0.1,-13.2 0.2,17.9 0.1,-3.7 0.1,-4.1 0.1,7.4 0.1,-8.3 0.1,12.5 0.1,-9.4 0.1,2.3 0.1,-5.5 0.1,7.2 0.1,-6.7 0.2,3.3 0.1,16.3 0.1,-14.6 0.1,2.4 0.1,-2.8 0.1,-3.9 0.1,8.7 0.1,-1.7 0.1,0.2 0.1,-1.4 0.1,-7.7 0.2,-4.1 0.1,7 0.1,6.9 0.1,0.8 0.1,-4.6 0.1,-1.5 0.1,5.2 0.1,-3.5 0.1,3.3 0.1,0.1 0.1,-6.7 0.1,3.6 0.2,-3.2 0.1,3.4 0.1,3.9 0.1,-0.2 0.1,4.7 0.1,-4.4 0.1,0.1 0.1,-7.2 0.1,5.9 0.1,-5.8 0.1,6.6 0.2,-5.7 0.1,2.3 0.1,0.4 0.1,3 0.1,-2.8 0.1,-4.4 0.1,4.3 0.1,-2.3 0.1,6.4 0.1,-13.7 0.1,10.4 0.2,-2.7 0.1,-4.2 0.1,1.8 0.1,3.4 0.1,1.8 0.1,-11.7 0.1,12 0.1,-8.6 0.1,8.5 0.1,3.9 0.1,-3.6 0.2,-2.8 0.1,4.2 0.1,-3.2 0.1,-6.9 0.1,2.3 0.1,1.6 0.1,4.5 0.1,0.1 0.1,-0.7 0.1,-2.8 0.1,-5.5 0.1,2.4 0.2,4.9 0.1,-1.4 0.1,5.5 0.1,-19.1 0.1,22.2 0.1,-10.3 0.1,1.6 0.1,-4.3 0.1,2.1 0.1,5.4 0.1,0 0.2,3 0.1,-0.6 0.1,0.1 0.1,-0.5 0.1,-5.2 0.1,4.1 0.1,-4.8 0.1,0.4 0.1,2 0.1,-0.8 0.1,-1.4 0.2,6 0.1,-13.6 0.1,14.6 0.1,-8.4 0.1,2.7 0.1,2.5 0.1,-1 0.1,-1.2 0.1,-8.7 0.1,8.9 0.1,3.2 0.1,-7.7 0.2,0.6 0.1,4.2 0.1,-3.6 0.1,-1.5 0.1,11.4 0.1,-8.7 0.1,2.8 0.1,2.5 0.1,-3.1 0.1,1 0.1,3.2 0.2,-1.8 0.1,-2.2 0.1,-0.2 0.1,-0.3 0.1,3 0.1,-1.4 0.1,-6.1 0.1,9.3 0.1,-8.2 0.1,-3.2 0.1,5.8 0.2,-5.7 0.1,13.4 0.1,-14.7 0.1,9.7 0.1,-9.6 0.1,2.1 0.1,8 0.1,-5.6 0.1,0.9 0.1,1.7 0.1,-4.6 0.2,3.7 0.1,7.1 0.1,1 0.1,-10.6 0.1,9.2 0.1,-0.5 0.1,-7.1 0.1,1 0.1,3.4 0.1,-0.9 0.1,-5.9 0.1,3.1 0.2,2.2 0.1,-8.2 0.1,4.2 0.1,3.8 0.1,-4.4 0.1,6 0.1,3.3 0.1,-1.5 0.1,-1.6 0.1,-7.2 0.1,0.9 0.2,12.8 0.1,-2.7 0.1,-4.8 0.1,-0.6 0.1,0.3 0.1,0.9 0.1,-5.2 0.1,3.5 0.1,2 0.1,-1.1 0.1,-3.1 0.2,-0.1 0.1,4.1 0.1,2.5 0.1,-10.8 0.1,-1.5 0.1,7.9 0.1,3.1 0.1,-11 0.1,3.1 0.1,7.6 0.1,-10.2 0.2,9 0.1,-3.2 0.1,-2.8 0.1,3.6 0.1,-4.5 0.1,9.1 0.1,-3.9 0.1,2.2 0.1,-16 0.1,12.9 0.1,-4.6 0.1,4.8 0.2,9.1 0.1,-7.4 0.1,6.1 0.1,-6.3 0.1,1.3 0.1,5.1 0.1,-4.7 0.1,-1.5 0.1,-2.9 0.1,7.3 0.1,-8.1 0.2,3.6 0.1,-3.6 0.1,3 0.1,3.3 0.1,-1.8 0.1,-7.1 0.1,2.6 0.1,1.1 0.1,7.4 0.1,-2.7 0.1,-6.1 0.2,2.2 0.1,-1.9 0.1,6.3 0.1,3.2 0.1,-2 0.1,6.1 0.1,-12.2 0.1,0.3 0.1,3.9 0.1,-5.1 0.1,2.9 0.1,-1.5 0.2,-5.5 0.1,6.2 0.1,0 0.1,3.2 0.1,-3.6 0.1,3 0.1,-3.4 0.1,5.1 0.1,-2.6 0.1,1.9 0.1,-6.5 0.2,-0.5 0.1,8.8 0.1,-7.8 0.1,7.5 0.1,-3.4 0.1,-2.8 0.1,-3.2 0.1,7.3 0.1,-4 0.1,2.1 0.1,-0.5 0.2,3.8 0.1,1.1 0.1,-4.6 0.1,-6.1 0.1,8.4 0.1,-13.3 0.1,12.5 0.1,-3.9 0.1,0.9 0.1,2.3 0.1,-4.6 0.2,1.5 0.1,-9.9 0.1,12 0.1,2.9 0.1,-7.2 0.1,1.5 0.1,8.7 0.1,-3.4 0.1,-4.2 0.1,0.4 0.1,5.6 0.1,-2.8 0.2,-0.2 0.1,-8.2 0.1,8.8 0.1,-2.8 0.1,3.7 0.1,-4.9 0.1,3.8 0.1,-10.3 0.1,14.3 0.1,-6.7 0.1,-5.1 0.2,4 0.1,4.2 0.1,-0.5 0.1,-6.3 0.1,5 0.1,-7.4 0.1,8.2 0.1,0.5 0.1,-0.6 0.1,-0.5 0.1,-1.3 0.2,3.9 0.1,0.1 0.1,-3.2 0.1,-3.3 0.1,2.6 0.1,-5 0.1,13.9 0.1,-7.2 0.1,-0.7 0.1,3.8 0.1,-7.5 0.2,2.2 0.1,-3.2 0.1,8.3 0.1,-13.5 0.1,7.9 0.1,-2.2 0.1,2.2 0.1,2.8 0.1,-12.2 0.1,14.3 0.1,-4.9 0.1,4.9 0.2,-7.6 0.1,5.2 0.1,-3.7 0.1,-8.4 0.1,6.6 0.1,1.7 0.1,-12.1 0.1,19.2 0.1,2.3 0.1,-3.2 0.1,0.5 0.2,-5.7 0.1,-1.8 0.1,6.5 0.1,-1.5 0.1,-4.5 0.1,4.9 0.1,-3.3 0.1,-0.8 0.1,5.6 0.1,-6.5 0.1,-2.7 0.2,4.7 0.1,-7.6 0.1,11.4 0.1,1.6 0.1,-5.8 0.1,-3.2 0.1,-3.7 0.1,22.2 0.1,-13.8 0.1,2.6 0.1,0.4 0.1,-2 0.2,0 0.1,-6.2 0.1,13.6 0.1,-9.3 0.1,-1.2 0.1,-4.8 0.1,1.2 0.1,2.8 0.1,-1 0.1,6 0.1,-1.8 0.2,-0.9 0.1,0.4 0.1,3.5 0.1,-6 0.1,-1.5 0.1,11 0.1,-5.8 0.1,-8.1 0.1,10.6 0.1,-0.3 0.1,0.3 0.2,3.4 0.1,-12.2 0.1,1.6 0.1,3.9 0.1,-8.5 0.1,14.8 0.1,-8.1 0.1,1.2 0.1,3.1 0.1,-2.5 0.1,-3.5 0.2,3.4 0.1,-3.2 0.1,-9.8 0.1,10.2 0.1,0.2 0.1,6.5 0.1,5.3 0.1,-5.7 0.1,-1.8 0.1,-5.9 0.1,7.8 0.1,-7.5 0.2,0.2 0.1,6.6 0.1,-4 0.1,4.4 0.1,8 0.1,-6.5 0.1,0.5 0.1,-5.5 0.1,1.3 0.1,-11.3 0.1,15.2 0.2,-2.4 0.1,-1.8 0.1,-10 0.1,9 0.1,-6.6 0.1,11.7 0.1,-2.1 0.1,-9.1 0.1,10.7 0.1,0.4 0.1,-3.4 0.2,-3.6 0.1,7.1 0.1,-5.5 0.1,4.6 0.1,2.6 0.1,-6.2 0.1,-6.4 0.1,1.6 0.1,8.8 0.1,-1.5 0.1,-3.6 0.2,-0.9 0.1,6.6 0.1,-9.2 0.1,5.6 0.1,-2.8 0.1,-1.5 0.1,-0.8 0.1,-0.4 0.1,5.4 0.1,0.1 0.1,-1.1 0.1,-5.6 0.2,9.4 0.1,-1.3 0.1,5.1 0.1,-8.6 0.1,2.8 0.1,3.3 0.1,-10 0.1,4.5 0.1,1.1 0.1,-0.6 0.1,-0.4 0.2,6.1 0.1,-4 0.1,-4.5 0.1,2.1 0.1,4.1 0.1,-23.2 0.1,22.3 0.1,1.5 0.1,-1.7 0.1,0.8 0.1,0.8 0.2,-4 0.1,6.7 0.1,-1.5 0.1,-0.9 0.1,-1 0.1,4.2 0.1,-10.3 0.1,-4.2 0.1,-1.9 0.1,14.1 0.1,-3.9 0.1,1.6 0.2,-1.4 0.1,-4.1 0.1,3.8 0.1,3.3 0.1,-4.1 0.1,-7.7 0.1,6.8 0.1,-5.8 0.1,6.2 0.1,-1.9 0.1,-5 0.2,11.4 0.1,-12.2 0.1,2.1 0.1,6.9 0.1,-10.8 0.1,10.4 0.1,-2.8 0.1,1.5 0.1,3.8 0.1,-9.9 0.1,0.4 0.2,5.7 0.1,-6.9 0.1,4.3 0.1,3.9 0.1,-11.2 0.1,7.6 0.1,8.1 0.1,3.9 0.1,-6.9 0.1,-3.2 0.1,1.4 0.2,0.8 0.1,1.2 0.1,-0.5 0.1,-5.5 0.1,0.9 0.1,4.5 0.1,0.9 0.1,-5.4 0.1,6 0.1,-4.4 0.1,0.2 0.1,4.5 0.2,-2.4 0.1,-1.1 0.1,3.3 0.1,2.5 0.1,-4.9 0.1,-1.4 0.1,-5.1 0.1,5.9 0.1,-1.4 0.1,10.1 0.1,-4 0.2,-5.8 0.1,-1.1 0.1,7 0.1,-3.7 0.1,-5.8 0.1,9.4" fill="none" stroke="#c050cc" stroke-width="0.6" stroke-linejoin="round" stroke-opacity="0.8"/>
<path d="M311.4,426.5l0.1,-0.5 0.1,0.5 0.1,-2.2 0.1,-1 0.1,-2 0.2,-2.9 0.1,3.2 0.1,3.5 0.1,2.5 0.1,-2.1 0.1,-3.4 0.1,0.5 0.1,2.4 0.1,-1.8 0.1,-3 0.1,-0.5 0.2,0 0.1,0.7 0.1,-0.5 0.1,4.7 0.1,0.6 0.1,-2.7 0.1,2.2 0.1,1.5 0.1,0.8 0.1,-0.8 0.1,-1.2 0.1,-1 0.2,2.9 0.1,1.8 0.1,-4.7 0.1,-4.3 0.1,1.7 0.1,1.9 0.1,-3.9 0.1,2.7 0.1,1.5 0.1,-3.4 0.1,1.2 0.2,-1.2 0.1,-0.6 0.1,3.1 0.1,-0.6 0.1,-4.9 0.1,1.5 0.1,2.7 0.1,-4.3 0.1,2.5 0.1,4.6 0.1,1.1 0.2,-0.7 0.1,-0.8 0.1,-1.9 0.1,-0.5 0.1,0.5 0.1,-1.3 0.1,1.3 0.1,2.4 0.1,-1 0.1,-1.5 0.1,2.3 0.2,-1.8 0.1,-3.7 0.1,2.5 0.1,4.6 0.1,-0.8 0.1,2.8 0.1,-2.2 0.1,-3.3 0.1,0.4 0.1,1.4 0.1,5.3 0.1,-1.7 0.2,-4.2 0.1,-3.1 0.1,-1.8 0.1,-1.3 0.1,3.5 0.1,4.8 0.1,-1.6 0.1,-2.3 0.1,2.4 0.1,2.4 0.1,0.7 0.2,-3.3 0.1,-6.1 0.1,1.6 0.1,3.6 0.1,-0.3 0.1,2.9 0.1,0.8 0.1,-5.2 0.1,-1.3 0.1,3 0.1,0.1 0.2,-1.6 0.1,1.9 0.1,0.4 0.1,-4.7 0.1,1.4 0.1,6.9 0.1,-2.2 0.1,-4.2 0.1,0.3 0.1,1.7 0.1,-1.7 0.1,-3.8 0.2,-0.1 0.1,6.9 0.1,4.2 0.1,-4.9 0.1,2.4 0.1,-1.6 0.1,-5.4 0.1,3.9 0.1,3.3 0.1,-2.8 0.1,-1.3 0.2,1.6 0.1,1.3 0.1,2.6 0.1,-1.1 0.1,-5.2 0.1,-2.3 0.1,4.1 0.1,0.1 0.1,-3.6 0.1,3 0.1,3.2 0.2,-1.9 0.1,1.7 0.1,3.8 0.1,-3.2 0.1,-3.8 0.1,-0.4 0.1,3.1 0.1,2 0.1,-0.7 0.1,-5.2 0.1,-5.1 0.2,3.4 0.1,0.5 0.1,3.8 0.1,2.8 0.1,-3 0.1,-1.3 0.1,0.2 0.1,-0.3 0.1,-0.4 0.1,0.4 0.1,-1.7 0.1,1.6 0.2,0.9 0.1,-1.8 0.1,3.3 0.1,1.7 0.1,-5.8 0.1,-0.8 0.1,2.6 0.1,0.8 0.1,-7.3 0.1,-1 0.1,2.1 0.2,-1.5 0.1,7.9 0.1,1.6 0.1,-2.7 0.1,1.8 0.1,1.1 0.1,-1.4 0.1,-1.4 0.1,0.7 0.1,0.8 0.1,-2.8 0.2,-1.5 0.1,2.4 0.1,-2 0.1,-0.4 0.1,3.3 0.1,-2.5 0.1,3.3 0.1,0.6 0.1,-4.6 0.1,4.2 0.1,1.8 0.2,-3.9 0.1,1.1 0.1,0.4 0.1,1.2 0.1,0.9 0.1,-2.1 0.1,-1.2 0.1,0.2 0.1,1.1 0.1,-1.7 0.1,-0.6 0.1,2.9 0.2,1.1 0.1,0 0.1,-5.9 0.1,-5.9 0.1,2 0.1,3.3 0.1,4.8 0.1,0.1 0.1,-2.1 0.1,3.8 0.1,2.5 0.2,-3.1 0.1,1.3 0.1,-0.3 0.1,-2.8 0.1,-2 0.1,-0.6 0.1,3.8 0.1,2.3 0.1,0.8 0.1,-3.6 0.1,-0.9 0.2,6.4 0.1,0.4 0.1,-4.4 0.1,-0.5 0.1,0.3 0.1,1.2 0.1,2.1 0.1,-4.2 0.1,-4.1 0.1,2 0.1,2.2 0.1,0 0.2,-0.5 0.1,-0.4 0.1,-0.6 0.1,1.2 0.1,-1.6 0.1,0.1 0.1,3.3 0.1,0.6 0.1,-1.3 0.1,-3.8 0.1,-4.4 0.2,5.1 0.1,5.5 0.1,-1.9 0.1,2.1 0.1,1.1 0.1,-5.9 0.1,0.3 0.1,3.2 0.1,-3.2 0.1,-4.1 0.1,-0.7 0.2,3.2 0.1,2.1 0.1,-1.9 0.1,3.7 0.1,1.3 0.1,-2.4 0.1,0.1 0.1,-1.9 0.1,4.7 0.1,-0.7 0.1,-4.4 0.2,0.5 0.1,-0.8 0.1,0.4 0.1,-3.1 0.1,-0.4 0.1,2.4 0.1,0.9 0.1,0.3 0.1,2 0.1,-0.1 0.1,-2.2 0.1,-2.8 0.2,-2.6 0.1,6.7 0.1,2.5 0.1,-3.9 0.1,-2.1 0.1,4.8 0.1,2.1 0.1,-1.1 0.1,2.2 0.1,-6 0.1,-2.3 0.2,3.4 0.1,1.6 0.1,1 0.1,-2.4 0.1,-7.9 0.1,1.5 0.1,10.3 0.1,3.2 0.1,-0.3 0.1,-2 0.1,-6.6 0.2,-0.1 0.1,4.7 0.1,-1.1 0.1,-0.7 0.1,1.3 0.1,-0.8 0.1,0.5 0.1,0.8 0.1,-1.3 0.1,0.7 0.1,-2 0.2,0.9 0.1,1.2 0.1,-0.7 0.1,-1.5 0.1,0.3 0.1,2.3 0.1,-3.2 0.1,-1.5 0.1,3.2 0.1,1.8 0.1,-0.5 0.1,0.3 0.2,1.9 0.1,0.1 0.1,-1.3 0.1,-0.5 0.1,-1.1 0.1,0 0.1,-0.5 0.1,-1.9 0.1,0.5 0.1,2.7 0.1,-3 0.2,4.6 0.1,4.3 0.1,-3.7 0.1,-4.6 0.1,-4.7 0.1,1.1 0.1,2.8 0.1,1 0.1,-2.5 0.1,3.7 0.1,3.5 0.2,-3.8 0.1,0.4 0.1,-0.6 0.1,-2.9 0.1,-0.7 0.1,4.4 0.1,-0.6 0.1,-4.9 0.1,3.4 0.1,0.1 0.1,-0.3 0.1,4 0.2,-3.6 0.1,0.5 0.1,1.5 0.1,-2.3 0.1,1.6 0.1,0.8 0.1,3.1 0.1,-3.1 0.1,-1.2 0.1,-1.4 0.1,-1.2 0.2,4.9 0.1,-1.4 0.1,-3 0.1,-1.5 0.1,2.2 0.1,2.2 0.1,-0.3 0.1,-1.2 0.1,-2.8 0.1,-0.7 0.1,3.2 0.2,2.1 0.1,-0.5 0.1,0.7 0.1,1.8 0.1,-0.3 0.1,-2.8 0.1,-1.7 0.1,2.8 0.1,-3.4 0.1,-1.5 0.1,3.8 0.2,-1.7 0.1,-0.3 0.1,-0.4 0.1,-0.4 0.1,0.2 0.1,1.5 0.1,4.6 0.1,3.8 0.1,-2.7 0.1,-8.4 0.1,1.8 0.1,7 0.2,1.9 0.1,-4.7 0.1,0.2 0.1,6.1 0.1,-5.3 0.1,-5.4 0.1,2.1 0.1,-0.7 0.1,-3.4 0.1,3.2 0.1,-2.5 0.2,-2 0.1,3.9 0.1,-1.6 0.1,-0.1 0.1,4.2 0.1,1 0.1,-2 0.1,-0.7 0.1,-0.2 0.1,0.2 0.1,1.3 0.2,-2.1 0.1,1.2 0.1,5.1 0.1,-5.9 0.1,-3.9 0.1,4.9 0.1,0 0.1,-1 0.1,0.7 0.1,-2.7 0.1,1.9 0.2,3.3 0.1,-1.3 0.1,-1.5 0.1,-1.2 0.1,-2.1 0.1,-6.1 0.1,3.9 0.1,5.8 0.1,-2 0.1,-2.2 0.1,2.8 0.1,2.5 0.2,-3.6 0.1,-0.4 0.1,1.4 0.1,2.8 0.1,2 0.1,-0.2 0.1,-2 0.1,-1.9 0.1,-0.1 0.1,-6.2 0.1,0.2 0.2,9.9 0.1,-4.1 0.1,-5.3 0.1,3.9 0.1,2.5 0.1,0.4 0.1,-0.9 0.1,1.9 0.1,-2.6 0.1,-3.2 0.1,6.3 0.2,-1.4 0.1,-4.1 0.1,2.7 0.1,0.9 0.1,-1.7 0.1,-3.4 0.1,-0.2 0.1,1.5 0.1,4.5 0.1,3.9 0.1,-0.3 0.1,-1.2 0.2,-1.5 0.1,0.9 0.1,-0.4 0.1,-2.9 0.1,-0.4 0.1,2.8 0.1,-1.5 0.1,-0.7 0.1,1.1 0.1,-0.4 0.1,1.2 0.2,-3.4 0.1,-0.3 0.1,1.8 0.1,2.3 0.1,3.7 0.1,-8.4 0.1,-7.5 0.1,9.2 0.1,3.7 0.1,-3.5 0.1,-4.5 0.2,-1.4 0.1,7.2 0.1,-0.5 0.1,-1.4 0.1,1.5 0.1,3.5 0.1,-0.3 0.1,-3.6 0.1,0.4 0.1,0.8 0.1,-0.6 0.2,-0.2 0.1,3.2 0.1,-1 0.1,0.3 0.1,0.2 0.1,-6.5 0.1,-2.8 0.1,2.2 0.1,1.1 0.1,-0.1 0.1,2.8 0.1,0.4 0.2,-7 0.1,3.6 0.1,6.3 0.1,-5.4 0.1,-3.1 0.1,-0.1 0.1,-0.5 0.1,7.1 0.1,3.6 0.1,-0.6 0.1,2.8 0.2,-4.9 0.1,-2.4 0.1,3.1 0.1,1.4 0.1,-0.1 0.1,0.5 0.1,0.6 0.1,-6.5 0.1,-1.8 0.1,5.8 0.1,0.7 0.2,-1.2 0.1,0 0.1,-1 0.1,0.2 0.1,-2.3 0.1,-2.2 0.1,3.1 0.1,1.7 0.1,-0.9 0.1,-2.3 0.1,-1.7 0.2,0.9 0.1,5.4 0.1,-1.8 0.1,0.1 0.1,3.9 0.1,-6.8 0.1,-1.9 0.1,0.1 0.1,0.5 0.1,4 0.1,4.3 0.1,-0.1 0.2,-7.6 0.1,-0.8 0.1,-1.6 0.1,-1 0.1,4.1 0.1,-0.4 0.1,0 0.1,0.9 0.1,2.2 0.1,4.5 0.1,-0.8 0.2,-4 0.1,-0.9 0.1,-1.1 0.1,0.5 0.1,4.2 0.1,-0.5 0.1,-4 0.1,2.4 0.1,-2 0.1,-0.8 0.1,4.7 0.2,-4.4 0.1,-0.8 0.1,1.5 0.1,-1.7 0.1,0.1 0.1,-3.4 0.1,0.3 0.1,2.7 0.1,-2.7 0.1,4.6 0.1,7.5 0.2,-2 0.1,-5.7 0.1,-4 0.1,-2 0.1,4.2 0.1,4 0.1,-3.1 0.1,-0.8 0.1,1.7 0.1,2.2 0.1,-2.4 0.1,-2.3 0.2,3.7 0.1,-2.2 0.1,-3.2 0.1,0.6 0.1,2.8 0.1,6.4 0.1,-1.5 0.1,-2.7 0.1,3.6 0.1,1.1 0.1,0.7 0.2,-2 0.1,-0.5 0.1,3 0.1,0.5 0.1,-1.8 0.1,0.2 0.1,0.5 0.1,-3.8 0.1,-0.1 0.1,1.6 0.1,-1.6 0.2,1.6 0.1,-3.7 0.1,-11.7 0.1,7.7 0.1,9.8 0.1,-4.6 0.1,-0.5 0.1,-0.1 0.1,0.5 0.1,1.4 0.1,-1.8 0.1,-0.5 0.2,-2.1 0.1,1.3 0.1,3.5 0.1,-0.4 0.1,-0.6 0.1,-2.3 0.1,1.1 0.1,2.6 0.1,1 0.1,-2.5 0.1,-1.2 0.2,3 0.1,-1.2 0.1,-1.4 0.1,-0.8 0.1,-2.4 0.1,0.8 0.1,3.5 0.1,2 0.1,-3.8 0.1,-1.2 0.1,4.5 0.2,-1.8 0.1,-2.9 0.1,0.4 0.1,1.8 0.1,0.4 0.1,-1.5 0.1,3.7 0.1,-0.1 0.1,-1 0.1,-3.4 0.1,-4 0.2,5.3 0.1,2.5 0.1,-0.8 0.1,-6.1 0.1,-2.1 0.1,7.5 0.1,-1.4 0.1,-2.8 0.1,3.3 0.1,-1.3 0.1,0.4 0.1,-3.7 0.2,0.8 0.1,2.5 0.1,-1.2 0.1,4.5 0.1,-4.3 0.1,-4.1 0.1,2.9 0.1,-1.7 0.1,5.7 0.1,7 0.1,-4.6 0.2,-1.5 0.1,-1.9 0.1,-1.4 0.1,0.4 0.1,0.6 0.1,3.8 0.1,-2.6 0.1,0.5 0.1,4 0.1,-3 0.1,-0.4 0.2,1 0.1,-3.8 0.1,-2.7 0.1,5.1 0.1,5.3 0.1,-2 0.1,0 0.1,-0.6 0.1,-3.8 0.1,-4.8 0.1,1.6 0.2,7.2 0.1,0.3 0.1,-5.1 0.1,-1.7 0.1,-4.6 0.1,1.4 0.1,7.1 0.1,-4.1 0.1,1.1 0.1,2.8 0.1,-2.4 0.1,-0.4 0.2,-1.9 0.1,0.9 0.1,2.5 0.1,-1.8 0.1,2 0.1,0.4 0.1,-3.3 0.1,-1.3 0.1,3.4 0.1,4.3 0.1,0.7 0.2,-0.3 0.1,1 0.1,-3.7 0.1,-7.1 0.1,2 0.1,-1.6 0.1,1.8 0.1,5.8 0.1,-5.8 0.1,-0.7 0.1,3.9 0.2,2.7 0.1,-3 0.1,-5 0.1,2.6 0.1,3.4 0.1,0.8 0.1,-1.9 0.1,-3.2 0.1,2.1 0.1,4.4 0.1,-10 0.1,-3.1 0.2,7.4 0.1,3 0.1,0.4 0.1,-3.5 0.1,0.9 0.1,4.4 0.1,-4.2 0.1,-3.9 0.1,6.4 0.1,-0.3 0.1,-2 0.2,3.6 0.1,2 0.1,-0.4 0.1,-2.6 0.1,-2.5 0.1,0.4 0.1,1.6 0.1,-1.4 0.1,-0.8 0.1,4.2 0.1,-0.1 0.2,-2.5 0.1,2.1 0.1,1 0.1,1.2 0.1,0.7 0.1,-1.7 0.1,-3.9 0.1,-1.9 0.1,-2.2 0.1,-7.3 0.1,5.6 0.2,10 0.1,-1.4 0.1,-3.4 0.1,-0.7 0.1,5.1 0.1,0.8 0.1,-3 0.1,-0.3 0.1,-10.4 0.1,-2.7 0.1,5.1 0.1,2.1 0.2,4.3 0.1,3.6 0.1,-2 0.1,-2.4 0.1,0.7 0.1,0.9 0.1,0.4 0.1,-13.4 0.1,0.4 0.1,13.2 0.1,-1 0.2,-0.5 0.1,-1.3 0.1,-2.9 0.1,5.1 0.1,3.9 0.1,-4.6 0.1,-4.9 0.1,3.1 0.1,4.9 0.1,-0.9 0.1,-2.4 0.2,2.3 0.1,-3.6 0.1,2.3 0.1,2.5 0.1,-1.1 0.1,4.7 0.1,-3.5 0.1,-5.4 0.1,-0.9 0.1,3.2 0.1,-0.8 0.2,1.4 0.1,-0.1 0.1,-1.8 0.1,1.4 0.1,1.8 0.1,-1.7 0.1,-0.8 0.1,4.7 0.1,-0.2 0.1,-1.8 0.1,-0.3 0.1,-1.4 0.2,-0.6 0.1,0.2 0.1,0.6 0.1,1.9 0.1,-3.1 0.1,-1.9 0.1,5 0.1,0.8 0.1,-3.1 0.1,-2.6 0.1,1.3 0.2,3.6 0.1,-2.3 0.1,-2.5 0.1,4.1 0.1,4 0.1,0.4 0.1,-1.3 0.1,-3.2 0.1,0.5 0.1,-7.7 0.1,-2.5 0.2,9.6 0.1,0.7 0.1,0 0.1,0.6 0.1,0.7 0.1,-1.5 0.1,-4.2 0.1,4.8 0.1,5.8 0.1,-2.1 0.1,-2.8 0.1,-0.2 0.2,2.5 0.1,0 0.1,-0.4 0.1,0.9 0.1,-2.9 0.1,1.4 0.1,-1.3 0.1,-1.2 0.1,4.5 0.1,-0.3 0.1,-1.8 0.2,-3.4 0.1,-2.4 0.1,-0.3 0.1,-2.6 0.1,3.4 0.1,5.2 0.1,-1.5 0.1,-1.7 0.1,-1.9 0.1,1.2 0.1,1.2 0.2,-0.2 0.1,-1.9 0.1,3 0.1,-2.2 0.1,-2.3 0.1,5.8 0.1,-3.8 0.1,-1.6 0.1,1.4 0.1,0.5 0.1,-2.5 0.2,0 0.1,5.2 0.1,-1.6 0.1,0.3 0.1,1.1 0.1,-1.6 0.1,-1.1 0.1,-2.1 0.1,0.4 0.1,-0.2 0.1,-0.3 0.1,-1 0.2,1.5 0.1,3.9 0.1,-7.2 0.1,-5.4 0.1,5.9 0.1,6.2 0.1,0.5 0.1,-5.3 0.1,0.2 0.1,2.3 0.1,-7.5 0.2,2.3 0.1,7.2 0.1,-4 0.1,1.7 0.1,-0.4 0.1,2.1 0.1,1.5 0.1,-3.6 0.1,-1.5 0.1,0.8 0.1,0.2 0.2,-1.7 0.1,9.8 0.1,0.9 0.1,-6.1 0.1,-0.2 0.1,-3.4 0.1,2.5 0.1,3.4 0.1,-0.7 0.1,-0.6 0.1,-4.6 0.2,-5.9 0.1,1.5 0.1,7 0.1,3.8 0.1,-1.9 0.1,-3.1 0.1,1.9 0.1,0.8 0.1,-0.1 0.1,1.8 0.1,-3.4 0.1,-1.5 0.2,0.2 0.1,0.1 0.1,3.7 0.1,1.8 0.1,2.3 0.1,0.1 0.1,-2.2 0.1,-3.5 0.1,-0.7 0.1,0.1 0.1,0.4 0.2,0.5 0.1,-1.7 0.1,1.3 0.1,1.7 0.1,0.1 0.1,-3.6 0.1,0 0.1,1 0.1,2 0.1,-3.7 0.1,-1.6 0.2,3.9 0.1,-3.5 0.1,-1.2 0.1,2.6 0.1,2.6 0.1,-4.9 0.1,0.1 0.1,1.7 0.1,-0.1 0.1,6.3 0.1,0.1 0.2,-3.2 0.1,0.7 0.1,0.5 0.1,-5.1 0.1,-2.2 0.1,1.9 0.1,3.1 0.1,2.3 0.1,-0.3 0.1,-1.8 0.1,-4.2 0.1,-1.5 0.2,3.7 0.1,1.7 0.1,2 0.1,-6.7 0.1,1.5 0.1,5.9 0.1,-4.3 0.1,-1.3 0.1,-1.2 0.1,3.8 0.1,2.7 0.2,1.5 0.1,1.2 0.1,-0.2 0.1,-0.2 0.1,-2.9 0.1,-0.5 0.1,-0.4 0.1,-2.2 0.1,1.2 0.1,0.6 0.1,-1.1 0.2,2.3 0.1,-3.8 0.1,0.5 0.1,3.1 0.1,-2.9 0.1,2.7 0.1,0.7 0.1,-1.1 0.1,-5 0.1,0.2 0.1,6 0.1,-2.2 0.2,-3.6 0.1,2.4 0.1,0.3 0.1,-2.6 0.1,5 0.1,1.3 0.1,-2.9 0.1,2.6 0.1,-0.2 0.1,-1.1 0.1,2.1 0.2,0.7 0.1,-2 0.1,-1.2 0.1,-0.3 0.1,1.4 0.1,0.8 0.1,-3.8 0.1,1.7 0.1,0.5 0.1,-5.7 0.1,1.3 0.2,0.1 0.1,3.8 0.1,-0.6 0.1,-2.6 0.1,0.1 0.1,-3.7 0.1,5 0.1,1.2 0.1,-2.3 0.1,1.2 0.1,-1.4 0.2,-0.5 0.1,5.5 0.1,4 0.1,-4.8 0.1,-0.7 0.1,4.3 0.1,-3.8 0.1,-3 0.1,2.2 0.1,1.2 0.1,-3.4 0.1,-1.3 0.2,2.6 0.1,-3 0.1,-2 0.1,4 0.1,-0.3 0.1,0.8 0.1,4.6 0.1,0.9 0.1,-1.5 0.1,-4.4 0.1,-3.2 0.2,6.9 0.1,5.1 0.1,-3.8 0.1,-2.7 0.1,-0.2 0.1,0.6 0.1,-2.1 0.1,-0.8 0.1,2.7 0.1,0.5 0.1,-2.1 0.2,-1.7 0.1,2 0.1,3.3 0.1,-4.1 0.1,-6.1 0.1,3.2 0.1,5.5 0.1,-4 0.1,-4 0.1,5.4 0.1,-1.3 0.2,-0.6 0.1,2.9 0.1,-3 0.1,0.4 0.1,-0.4 0.1,2.2 0.1,2.6 0.1,-0.8 0.1,-6.9 0.1,-1.6 0.1,4.2 0.1,0.1 0.2,7 0.1,0.8 0.1,-0.6 0.1,-0.1 0.1,-2.6 0.1,3.3 0.1,0.2 0.1,-3.2 0.1,-2.1 0.1,2.2 0.1,-0.4 0.2,-2.3 0.1,0 0.1,-0.3 0.1,3.2 0.1,0.7 0.1,-4.4 0.1,-2.3 0.1,1.9 0.1,4.2 0.1,2.3 0.1,-4.3 0.2,-2 0.1,0.1 0.1,2.2 0.1,4.8 0.1,0.6 0.1,2.1 0.1,-3.1 0.1,-6 0.1,2.1 0.1,-0.6 0.1,-1 0.1,0.7 0.2,-3.5 0.1,0.3 0.1,3.1 0.1,1.6 0.1,-0.2 0.1,-0.3 0.1,-0.2 0.1,0.9 0.1,1.2 0.1,-0.3 0.1,-2.4 0.2,-3.4 0.1,4.1 0.1,0.5 0.1,-0.1 0.1,2 0.1,-3.1 0.1,-3 0.1,2.1 0.1,1.6 0.1,-1 0.1,0.8 0.2,1.7 0.1,2.4 0.1,-1.7 0.1,-5.4 0.1,1.2 0.1,-2.4 0.1,-0.4 0.1,4.3 0.1,-1.5 0.1,1.6 0.1,-1.2 0.2,-1.6 0.1,-4.2 0.1,1.1 0.1,7.5 0.1,-2.2 0.1,-2.8 0.1,5.1 0.1,2.6 0.1,-3.8 0.1,-1.9 0.1,3 0.1,1.4 0.2,-1.5 0.1,-4.2 0.1,0.3 0.1,3 0.1,0.5 0.1,-0.7 0.1,-0.5 0.1,-3.2 0.1,2 0.1,3.7 0.1,-5.9 0.2,-0.5 0.1,4.1 0.1,1.8 0.1,-3.4 0.1,-0.6 0.1,-1.2 0.1,0.4 0.1,4.4 0.1,-0.1 0.1,-0.5 0.1,-1 0.2,1.4 0.1,1.9 0.1,-1.5 0.1,-3.3 0.1,-0.3 0.1,-1.2 0.1,4.5 0.1,3.3 0.1,-3.9 0.1,1.5 0.1,-1.9 0.2,-2.6 0.1,-0.5 0.1,2.5 0.1,-2.6 0.1,-2.8 0.1,2.9 0.1,0 0.1,2.5 0.1,-4.7 0.1,1.1 0.1,4.7 0.1,0 0.2,-1.4 0.1,-1.2 0.1,0.8 0.1,-6.1 0.1,-0.9 0.1,4.2 0.1,-5.2 0.1,3.5 0.1,10.7 0.1,-0.4 0.1,-1.3 0.2,-2.6 0.1,-3.8 0.1,2.3 0.1,2.5 0.1,-3 0.1,0.2 0.1,0.8 0.1,-2 0.1,2.4 0.1,-0.4 0.1,-4.6 0.2,0.9 0.1,-1.4 0.1,1.9 0.1,6.5 0.1,-2.1 0.1,-4.5 0.1,-3.4 0.1,9.2 0.1,4.2 0.1,-5.6 0.1,1.5 0.1,-0.8 0.2,-1 0.1,-3.1 0.1,3.7 0.1,2.2 0.1,-5.3 0.1,-3 0.1,-1.8 0.1,2 0.1,0.9 0.1,2.5 0.1,2.1 0.2,-1.3 0.1,-0.3 0.1,2 0.1,-1.3 0.1,-3.7 0.1,4.7 0.1,2.6 0.1,-6.9 0.1,1.2 0.1,5.2 0.1,-0.1 0.2,1.9 0.1,-4.4 0.1,-5.3 0.1,2.8 0.1,-2.4 0.1,3.2 0.1,3.4 0.1,-3.5 0.1,2.2 0.1,0.2 0.1,-3 0.2,0 0.1,0.1 0.1,-6.5 0.1,0.2 0.1,5.2 0.1,3.3 0.1,6 0.1,-0.3 0.1,-3.7 0.1,-3.9 0.1,1 0.1,0.1 0.2,-3.6 0.1,3.4 0.1,1.3 0.1,0.2 0.1,6.2 0.1,0.7 0.1,-3 0.1,-2.4 0.1,-2.1 0.1,-5 0.1,1.9 0.2,6.4 0.1,-2.1 0.1,-5.9 0.1,-0.5 0.1,1.2 0.1,2.5 0.1,4.9 0.1,-5.6 0.1,0.7 0.1,5.6 0.1,-1.5 0.2,-3.5 0.1,1.7 0.1,0.8 0.1,-0.4 0.1,3.6 0.1,-1.8 0.1,-6.3 0.1,-2.4 0.1,5.2 0.1,3.6 0.1,-2.5 0.2,-2.3 0.1,2.9 0.1,-1.3 0.1,-1.8 0.1,1.4 0.1,-2.1 0.1,-1.2 0.1,-0.6 0.1,2.5 0.1,2.8 0.1,-0.5 0.1,-3.4 0.2,1.9 0.1,4 0.1,1.9 0.1,-1.7 0.1,-2.9 0.1,3 0.1,-3.3 0.1,-2.8 0.1,2.9 0.1,0.2 0.1,-0.5 0.2,2.9 0.1,1 0.1,-4.2 0.1,-1.3 0.1,3.1 0.1,-9.5 0.1,-0.5 0.1,12 0.1,-0.1 0.1,-0.5 0.1,0.8 0.2,-1.6 0.1,1.4 0.1,2.5 0.1,-1.2 0.1,-0.9 0.1,1.6 0.1,-3 0.1,-7.3 0.1,-3 0.1,6 0.1,5.1 0.1,-1.1 0.2,0.1 0.1,-2.8 0.1,-0.1 0.1,3.6 0.1,-0.5 0.1,-5.8 0.1,-0.5 0.1,0.5 0.1,0.2 0.1,2.2 0.1,-3.5 0.2,3.2 0.1,-0.4 0.1,-5.1 0.1,4.6 0.1,-2 0.1,-0.2 0.1,3.8 0.1,-0.7 0.1,2.7 0.1,-3.1 0.1,-4.7 0.2,3 0.1,-0.6 0.1,-1.3 0.1,4.1 0.1,-3.6 0.1,-1.8 0.1,7.8 0.1,6.1 0.1,-1.5 0.1,-5.1 0.1,-0.9 0.2,1.1 0.1,1 0.1,0.4 0.1,-3 0.1,-2.4 0.1,2.7 0.1,2.7 0.1,-2.2 0.1,0.3 0.1,0.8 0.1,-2.1 0.1,2.4 0.2,1 0.1,-1.8 0.1,1.1 0.1,3 0.1,-1.3 0.1,-3.1 0.1,-3.3 0.1,0.4 0.1,2.3 0.1,4.3 0.1,3.1 0.2,-4.9 0.1,-3.4 0.1,2.9 0.1,1.7 0.1,-4.8 0.1,1.8" fill="none" stroke="#86158f" stroke-width="0.7" stroke-linejoin="round" />
<line x1="311.4" y1="428.9" x2="474.6" y2="428.9" stroke="#2828ff" stroke-width="1.3" stroke-dasharray="3.2 2"/>
<path d="M311.4,425.1l0.1,0 0.1,-0.1 0.1,-0.1 0.1,0 0.1,-0.1 0.2,-0.2 0.1,0 0.1,-0.1 0.1,-0.1 0.1,0 0.1,-0.2 0.1,-0.1 0.1,0 0.1,-0.1 0.1,-0.2 0.1,-0.1 0.2,-0.1 0.1,-0.2 0.1,0 0.1,-0.1 0.1,0.1 0.1,-0.1 0.1,0 0.1,-0.2 0.1,0 0.1,-0.1 0.1,-0.1 0.1,-0.1 0.2,0 0.1,-0.1 0.1,0 0.1,0 0.1,-0.2 0.1,0 0.1,0 0.1,0.1 0.1,0.1 0.1,0.1 0.1,-0.1 0.2,-0.1 0.1,0 0.1,0.1 0.1,0.1 0.1,0 0.1,0 0.1,0 0.1,0 0.1,-0.1 0.1,0.1 0.1,0.1 0.2,-0.1 0.1,0 0.1,0 0.1,0 0.1,0.1 0.1,-0.2 0.1,-0.1 0.1,-0.1 0.1,0 0.1,-0.1 0.1,0 0.2,0.1 0.1,0 0.1,-0.1 0.1,0.1 0.1,0 0.1,-0.1 0.1,0.1 0.1,0 0.1,-0.1 0.1,0.2 0.1,0.1 0.1,-0.1 0.2,0 0.1,0.2 0.1,0 0.1,-0.1 0.1,0.1 0.1,-0.1 0.1,0.1 0.1,0 0.1,-0.1 0.1,0.1 0.1,0 0.2,-0.1 0.1,0.1 0.1,0.1 0.1,0 0.1,0 0.1,0 0.1,0.1 0.1,0 0.1,0.1 0.1,0 0.1,-0.1 0.2,0 0.1,-0.1 0.1,-0.2 0.1,0.1 0.1,0 0.1,0.1 0.1,0 0.1,0 0.1,-0.1 0.1,0 0.1,0.1 0.1,0.1 0.2,0.2 0.1,0 0.1,-0.2 0.1,0 0.1,0 0.1,-0.2 0.1,0.1 0.1,-0.1 0.1,0.1 0.1,0 0.1,0.1 0.2,-0.1 0.1,0 0.1,-0.1 0.1,-0.1 0.1,0.1 0.1,0 0.1,0 0.1,0.1 0.1,0 0.1,-0.1 0.1,0 0.2,0.1 0.1,0 0.1,-0.4 0.1,0 0.1,-0.1 0.1,-0.1 0.1,0.1 0.1,0 0.1,0.1 0.1,0.2 0.1,-0.2 0.2,0 0.1,0 0.1,-0.1 0.1,0.1 0.1,0 0.1,-0.2 0.1,0 0.1,-0.1 0.1,0 0.1,0 0.1,-0.1 0.1,0 0.2,-0.1 0.1,0 0.1,0.1 0.1,0 0.1,0 0.1,0.1 0.1,-0.1 0.1,0 0.1,0 0.1,0 0.1,-0.2 0.2,0 0.1,0 0.1,0 0.1,-0.1 0.1,0 0.1,-0.1 0.1,0.2 0.1,-0.1 0.1,-0.1 0.1,0 0.1,-0.2 0.2,0 0.1,0 0.1,0 0.1,0.1 0.1,0.1 0.1,0 0.1,0.1 0.1,0 0.1,0 0.1,0 0.1,0 0.2,-0.1 0.1,0.1 0.1,0.2 0.1,-0.1 0.1,0.1 0.1,0.1 0.1,0.3 0.1,0 0.1,0.3 0.1,0 0.1,0 0.1,0.1 0.2,0 0.1,-0.1 0.1,0 0.1,0 0.1,0 0.1,0 0.1,0 0.1,0.1 0.1,0 0.1,0 0.1,0.1 0.2,0.1 0.1,0 0.1,0.1 0.1,-0.2 0.1,0 0.1,0.1 0.1,0 0.1,0 0.1,0.2 0.1,0 0.1,-0.1 0.2,0 0.1,0.1 0.1,-0.1 0.1,-0.1 0.1,0 0.1,0 0.1,0 0.1,0 0.1,0.1 0.1,-0.1 0.1,0 0.1,0.2 0.2,0.1 0.1,0.3 0.1,0 0.1,-0.1 0.1,0 0.1,0 0.1,-0.1 0.1,-0.1 0.1,-0.1 0.1,-0.1 0.1,0 0.2,0 0.1,0.1 0.1,0 0.1,-0.1 0.1,-0.2 0.1,-0.1 0.1,0.1 0.1,0 0.1,-0.2 0.1,-0.1 0.1,0.1 0.2,-0.1 0.1,0.1 0.1,0 0.1,-0.2 0.1,0 0.1,0.1 0.1,0 0.1,0 0.1,0 0.1,-0.3 0.1,0.1 0.2,0.1 0.1,0.1 0.1,0.1 0.1,0.1 0.1,-0.2 0.1,0 0.1,0 0.1,0.1 0.1,0.2 0.1,-0.1 0.1,0 0.1,0 0.2,-0.1 0.1,0 0.1,0.1 0.1,-0.1 0.1,0 0.1,0.1 0.1,0.1 0.1,0 0.1,0.1 0.1,0 0.1,0 0.2,-0.2 0.1,0.1 0.1,0 0.1,0.1 0.1,0 0.1,0 0.1,0.1 0.1,0 0.1,0.1 0.1,0 0.1,0.1 0.2,0.1 0.1,0 0.1,0.1 0.1,0 0.1,0 0.1,0.1 0.1,0.1 0.1,0.1 0.1,0.1 0.1,0 0.1,-0.1 0.2,0 0.1,0 0.1,0 0.1,0 0.1,0.1 0.1,-0.1 0.1,0 0.1,0.1 0.1,0 0.1,-0.1 0.1,0.1 0.1,-0.1 0.2,0 0.1,0.2 0.1,0 0.1,-0.1 0.1,0 0.1,-0.2 0.1,0 0.1,0.1 0.1,0 0.1,0 0.1,0 0.2,0.1 0.1,-0.1 0.1,0.1 0.1,-0.2 0.1,0 0.1,0.1 0.1,-0.1 0.1,0 0.1,-0.1 0.1,0 0.1,0 0.2,0.1 0.1,-0.1 0.1,-0.1 0.1,0 0.1,0.1 0.1,-0.1 0.1,0 0.1,0 0.1,0.1 0.1,-0.1 0.1,0 0.1,-0.1 0.2,0 0.1,-0.1 0.1,0 0.1,0 0.1,0 0.1,-0.1 0.1,-0.1 0.1,0.1 0.1,-0.3 0.1,0 0.1,0 0.2,0.2 0.1,0.2 0.1,-0.1 0.1,0 0.1,0.1 0.1,0.3 0.1,-0.2 0.1,0.1 0.1,0.2 0.1,-0.1 0.1,0 0.2,0.1 0.1,0 0.1,-0.2 0.1,0.1 0.1,-0.1 0.1,0 0.1,0 0.1,-0.1 0.1,-0.1 0.1,0.2 0.1,-0.1 0.2,0 0.1,0 0.1,0 0.1,-0.1 0.1,0 0.1,-0.1 0.1,0 0.1,0.2 0.1,-0.1 0.1,-0.1 0.1,0.1 0.1,0 0.2,0 0.1,0 0.1,-0.1 0.1,0 0.1,0.1 0.1,0.1 0.1,0 0.1,-0.1 0.1,-0.1 0.1,-0.2 0.1,0 0.2,-0.1 0.1,-0.1 0.1,-0.1 0.1,0.1 0.1,-0.1 0.1,0.1 0.1,-0.1 0.1,0 0.1,0.1 0.1,0.1 0.1,0 0.2,0.1 0.1,0 0.1,0 0.1,-0.4 0.1,-0.1 0.1,0.1 0.1,-0.1 0.1,-0.1 0.1,-0.1 0.1,-0.2 0.1,0.1 0.2,-0.2 0.1,0 0.1,-0.1 0.1,0 0.1,0 0.1,0 0.1,0 0.1,0 0.1,0.1 0.1,0 0.1,-0.1 0.1,0 0.2,-0.1 0.1,0.1 0.1,0 0.1,0.1 0.1,0 0.1,0.1 0.1,0 0.1,0 0.1,0 0.1,0 0.1,-0.1 0.2,0.1 0.1,0.1 0.1,-0.1 0.1,0 0.1,0.1 0.1,-0.1 0.1,0.1 0.1,-0.1 0.1,0.1 0.1,0 0.1,-0.1 0.2,-0.2 0.1,0.2 0.1,0.2 0.1,0 0.1,-0.2 0.1,0 0.1,0.2 0.1,-0.1 0.1,0 0.1,0 0.1,0.2 0.1,0 0.2,-0.1 0.1,0 0.1,0 0.1,-0.1 0.1,0.1 0.1,0.1 0.1,0.2 0.1,0.1 0.1,-0.1 0.1,0 0.1,0 0.2,-0.1 0.1,-0.1 0.1,0 0.1,0 0.1,-0.1 0.1,-0.1 0.1,0.1 0.1,-0.1 0.1,0 0.1,0 0.1,-0.2 0.2,-0.1 0.1,0.2 0.1,0.1 0.1,0.2 0.1,0.2 0.1,-0.2 0.1,0 0.1,0 0.1,0 0.1,0 0.1,0.1 0.2,0 0.1,-0.1 0.1,0 0.1,0 0.1,0.1 0.1,0 0.1,0 0.1,0 0.1,0 0.1,0 0.1,0 0.1,0 0.2,-0.1 0.1,-0.1 0.1,0.2 0.1,0.1 0.1,-0.2 0.1,0.2 0.1,-0.1 0.1,0.3 0.1,0.1 0.1,-0.2 0.1,0 0.2,-0.1 0.1,0 0.1,-0.1 0.1,0.2 0.1,0 0.1,-0.1 0.1,0 0.1,-0.2 0.1,0 0.1,-0.2 0.1,0 0.2,-0.1 0.1,0 0.1,0.1 0.1,0.3 0.1,0 0.1,0.1 0.1,0 0.1,-0.1 0.1,0.1 0.1,0.3 0.1,-0.1 0.2,-0.1 0.1,0.2 0.1,0 0.1,0.2 0.1,0.1 0.1,-0.2 0.1,0 0.1,-0.2 0.1,-0.1 0.1,0 0.1,-0.2 0.1,-0.1 0.2,-0.1 0.1,-0.2 0.1,0.1 0.1,0 0.1,0.2 0.1,-0.1 0.1,-0.2 0.1,-0.1 0.1,0 0.1,-0.1 0.1,0 0.2,-0.1 0.1,0.1 0.1,0.1 0.1,-0.1 0.1,-0.1 0.1,0.1 0.1,-0.1 0.1,0 0.1,-0.1 0.1,0 0.1,0.2 0.2,-0.2 0.1,0 0.1,0.2 0.1,0.1 0.1,0.2 0.1,0 0.1,0.1 0.1,0 0.1,0.1 0.1,0.1 0.1,0.2 0.2,0.2 0.1,0 0.1,0.1 0.1,0.1 0.1,0.1 0.1,0.1 0.1,-0.2 0.1,-0.4 0.1,0.1 0.1,0.1 0.1,0 0.1,0 0.2,0 0.1,0 0.1,0 0.1,0 0.1,0 0.1,0 0.1,0 0.1,0 0.1,0.1 0.1,0 0.1,0 0.2,0.1 0.1,0.1 0.1,0.2 0.1,0 0.1,0.1 0.1,0.2 0.1,-0.1 0.1,-0.1 0.1,-0.1 0.1,0 0.1,0.2 0.2,0.1 0.1,0.1 0.1,-0.1 0.1,0.1 0.1,0.1 0.1,0 0.1,-0.1 0.1,0.1 0.1,0.1 0.1,-0.1 0.1,0.1 0.1,0.2 0.2,0.1 0.1,0 0.1,-0.2 0.1,0 0.1,0 0.1,-0.1 0.1,0 0.1,-0.3 0.1,-0.1 0.1,0 0.1,-0.2 0.2,-0.1 0.1,0 0.1,-0.2 0.1,-0.1 0.1,-0.1 0.1,0 0.1,-0.2 0.1,0 0.1,0 0.1,0 0.1,0.2 0.2,-0.2 0.1,-0.2 0.1,0.2 0.1,0.1 0.1,0 0.1,0 0.1,-0.1 0.1,0.1 0.1,-0.1 0.1,0.1 0.1,0 0.2,-0.1 0.1,0.1 0.1,0.1 0.1,0 0.1,0 0.1,0 0.1,-0.2 0.1,0 0.1,0.1 0.1,0 0.1,0 0.1,0.1 0.2,0.1 0.1,0 0.1,-0.1 0.1,0 0.1,0 0.1,0.1 0.1,-0.1 0.1,-0.1 0.1,-0.2 0.1,0.1 0.1,0 0.2,-0.1 0.1,0 0.1,0.1 0.1,-0.2 0.1,0 0.1,-0.2 0.1,0.1 0.1,0.1 0.1,-0.1 0.1,0 0.1,-0.1 0.2,0.2 0.1,-0.1 0.1,0 0.1,0.2 0.1,0 0.1,0.1 0.1,0.2 0.1,-0.1 0.1,0 0.1,0 0.1,-0.1 0.2,0 0.1,0 0.1,0 0.1,0 0.1,0.1 0.1,0.2 0.1,-0.3 0.1,-0.2 0.1,0 0.1,0 0.1,0.1 0.1,-0.1 0.2,0 0.1,0 0.1,0 0.1,-0.3 0.1,-0.1 0.1,-0.1 0.1,0 0.1,-0.1 0.1,-0.1 0.1,0.1 0.1,0.1 0.2,-0.2 0.1,-0.2 0.1,0 0.1,-0.1 0.1,-0.1 0.1,0.1 0.1,0.2 0.1,0 0.1,-0.1 0.1,-0.1 0.1,0.1 0.2,0 0.1,0.2 0.1,-0.1 0.1,0.1 0.1,0.1 0.1,-0.1 0.1,0.1 0.1,0.1 0.1,0.1 0.1,0.1 0.1,0.1 0.1,-0.1 0.2,0 0.1,-0.2 0.1,-0.2 0.1,0.1 0.1,0.1 0.1,0 0.1,-0.1 0.1,-0.2 0.1,0.1 0.1,-0.1 0.1,0.1 0.2,0.1 0.1,-0.3 0.1,0 0.1,-0.2 0.1,0 0.1,0.1 0.1,0.1 0.1,-0.1 0.1,-0.1 0.1,0.1 0.1,0.1 0.2,0 0.1,-0.4 0.1,-0.1 0.1,0.1 0.1,0 0.1,0 0.1,-0.2 0.1,0.3 0.1,0.1 0.1,0.1 0.1,-0.2 0.2,0 0.1,0 0.1,0.1 0.1,-0.1 0.1,0.1 0.1,0.1 0.1,-0.2 0.1,0.2 0.1,0 0.1,0 0.1,0 0.1,0 0.2,-0.1 0.1,0 0.1,0 0.1,-0.1 0.1,0.1 0.1,0 0.1,-0.1 0.1,0 0.1,0 0.1,-0.1 0.1,0 0.2,0 0.1,-0.1 0.1,0 0.1,0.1 0.1,0 0.1,0.1 0.1,0.3 0.1,0 0.1,-0.1 0.1,0 0.1,0 0.2,0.1 0.1,-0.1 0.1,-0.1 0.1,-0.1 0.1,0.1 0.1,0.3 0.1,0.1 0.1,0.1 0.1,0.1 0.1,0.1 0.1,0 0.2,0.1 0.1,0 0.1,0.1 0.1,-0.3 0.1,0 0.1,0.5 0.1,0 0.1,0 0.1,0.1 0.1,0 0.1,0.1 0.1,0 0.2,0.1 0.1,0.1 0.1,0.1 0.1,0.2 0.1,0 0.1,0.1 0.1,0 0.1,0.1 0.1,0.1 0.1,0.1 0.1,0 0.2,0 0.1,0 0.1,0.1 0.1,0 0.1,0.2 0.1,0 0.1,0 0.1,0 0.1,-0.2 0.1,0.1 0.1,0.1 0.2,0.1 0.1,-0.1 0.1,0 0.1,0 0.1,0 0.1,0 0.1,-0.1 0.1,0.1 0.1,-0.1 0.1,0.1 0.1,0 0.1,0 0.2,-0.1 0.1,0.1 0.1,0 0.1,-0.2 0.1,0.1 0.1,0 0.1,0.1 0.1,0 0.1,0 0.1,0.1 0.1,0 0.2,-0.1 0.1,-0.1 0.1,-0.2 0.1,0 0.1,-0.1 0.1,-0.1 0.1,0.4 0.1,-0.2 0.1,-0.2 0.1,0 0.1,0 0.2,-0.1 0.1,-0.1 0.1,0 0.1,0 0.1,-0.4 0.1,0 0.1,-0.1 0.1,-0.1 0.1,0 0.1,-0.2 0.1,0 0.2,-0.1 0.1,-0.1 0.1,-0.1 0.1,-0.1 0.1,-0.1 0.1,-0.1 0.1,0.1 0.1,-0.1 0.1,0 0.1,0 0.1,0 0.1,0.1 0.2,0.1 0.1,0 0.1,0 0.1,-0.2 0.1,-0.1 0.1,-0.1 0.1,0 0.1,0.1 0.1,0 0.1,0 0.1,-0.1 0.2,0.1 0.1,0 0.1,0 0.1,0 0.1,0 0.1,0 0.1,0 0.1,0.2 0.1,0 0.1,0.1 0.1,0.1 0.2,0 0.1,-0.1 0.1,0 0.1,0 0.1,0.1 0.1,0 0.1,0.1 0.1,0 0.1,0.2 0.1,0 0.1,-0.1 0.2,0.2 0.1,0.1 0.1,0.1 0.1,-0.2 0.1,0 0.1,0.1 0.1,-0.1 0.1,0 0.1,0.2 0.1,0 0.1,-0.1 0.1,0.1 0.2,-0.2 0.1,0.2 0.1,0 0.1,0 0.1,0 0.1,0.2 0.1,0 0.1,0 0.1,-0.1 0.1,-0.3 0.1,0.1 0.2,0 0.1,0 0.1,0.1 0.1,-0.2 0.1,-0.1 0.1,-0.1 0.1,0 0.1,0.2 0.1,-0.1 0.1,0.2 0.1,-0.1 0.2,-0.1 0.1,-0.1 0.1,0 0.1,0 0.1,0 0.1,0.1 0.1,0 0.1,0.1 0.1,0.1 0.1,0 0.1,0.1 0.2,-0.1 0.1,-0.1 0.1,-0.1 0.1,-0.1 0.1,-0.1 0.1,0.1 0.1,-0.2 0.1,0.1 0.1,-0.1 0.1,0.1 0.1,0 0.1,0 0.2,-0.1 0.1,-0.1 0.1,0 0.1,0.1 0.1,-0.1 0.1,-0.1 0.1,0.1 0.1,0 0.1,-0.1 0.1,0.2 0.1,0 0.2,0 0.1,0.1 0.1,0.1 0.1,0 0.1,0.2 0.1,0 0.1,-0.1 0.1,0 0.1,0 0.1,0 0.1,0 0.2,0 0.1,0.2 0.1,0 0.1,-0.2 0.1,0 0.1,-0.2 0.1,0.2 0.1,0 0.1,0.1 0.1,-0.2 0.1,0 0.1,-0.1 0.2,0.2 0.1,-0.1 0.1,0 0.1,-0.1 0.1,0.1 0.1,0.1 0.1,0.1 0.1,-0.1 0.1,0 0.1,0 0.1,-0.1 0.2,-0.1 0.1,0 0.1,0 0.1,0 0.1,0 0.1,0 0.1,-0.2 0.1,0 0.1,-0.1 0.1,0.1 0.1,0 0.2,0.1 0.1,0.1 0.1,0 0.1,-0.1 0.1,-0.1 0.1,0.3 0.1,0.1 0.1,-0.1 0.1,0.1 0.1,0.1 0.1,0 0.2,0 0.1,0.1 0.1,-0.1 0.1,0 0.1,0 0.1,-0.1 0.1,0 0.1,0.1 0.1,-0.2 0.1,-0.2 0.1,0 0.1,0 0.2,-0.1 0.1,-0.1 0.1,0 0.1,0 0.1,-0.1 0.1,0 0.1,0.1 0.1,0 0.1,0 0.1,-0.1 0.1,0.2 0.2,0 0.1,-0.2 0.1,0.1 0.1,-0.1 0.1,0 0.1,0.2 0.1,0 0.1,0.2 0.1,0.1 0.1,-0.1 0.1,0 0.2,0.1 0.1,-0.1 0.1,-0.1 0.1,0.2 0.1,-0.1 0.1,0 0.1,-0.1 0.1,0.1 0.1,0.1 0.1,0 0.1,0.1 0.2,0 0.1,-0.1 0.1,0.2 0.1,0 0.1,-0.1 0.1,-0.1 0.1,-0.1 0.1,0.2 0.1,0.1 0.1,0 0.1,0.1 0.1,-0.1 0.2,0 0.1,0 0.1,-0.1 0.1,0.1 0.1,0 0.1,-0.2 0.1,0 0.1,0.1 0.1,0 0.1,0 0.1,0 0.2,0.1 0.1,0.2 0.1,0 0.1,0 0.1,0.1 0.1,0 0.1,0 0.1,0.1 0.1,0.1 0.1,0 0.1,0.1 0.2,-0.1 0.1,0.1 0.1,0 0.1,0 0.1,-0.1 0.1,0.4 0.1,0.1 0.1,0.1 0.1,-0.1 0.1,-0.1 0.1,-0.2 0.1,-0.1 0.2,0 0.1,-0.1 0.1,-0.1 0.1,0 0.1,-0.1 0.1,-0.1 0.1,-0.1 0.1,0.1 0.1,-0.1 0.1,0 0.1,0.1 0.2,0 0.1,0 0.1,0 0.1,0.2 0.1,0 0.1,0 0.1,-0.2 0.1,0.1 0.1,0 0.1,0.1 0.1,-0.1 0.2,-0.1 0.1,-0.2 0.1,0 0.1,0 0.1,-0.1 0.1,-0.1 0.1,0.1 0.1,0 0.1,0 0.1,0.1 0.1,-0.1 0.2,0 0.1,0 0.1,0 0.1,0 0.1,0 0.1,0 0.1,0.1 0.1,-0.1 0.1,0 0.1,0.1 0.1,-0.2 0.1,0.2 0.2,-0.1 0.1,0 0.1,0.1 0.1,0 0.1,0 0.1,-0.1 0.1,0.1 0.1,-0.2 0.1,-0.1 0.1,-0.1 0.1,0 0.2,0.1 0.1,-0.2 0.1,0.2 0.1,-0.1 0.1,0.1 0.1,0 0.1,0 0.1,0 0.1,-0.2 0.1,0.1 0.1,0 0.2,-0.3 0.1,0.1 0.1,0.2 0.1,-0.1 0.1,0.1 0.1,0 0.1,-0.1 0.1,0 0.1,0 0.1,-0.1 0.1,0.1 0.2,0 0.1,0 0.1,0 0.1,-0.1 0.1,-0.1 0.1,0.1 0.1,-0.2 0.1,0 0.1,0.2 0.1,0 0.1,-0.1 0.1,-0.2 0.2,0.3 0.1,0 0.1,0.2 0.1,0 0.1,0 0.1,0 0.1,-0.1 0.1,0.1 0.1,0 0.1,-0.1 0.1,-0.1 0.2,-0.1 0.1,0 0.1,0 0.1,-0.1 0.1,0 0.1,-0.1 0.1,0 0.1,0.1 0.1,-0.1 0.1,0 0.1,0.1 0.2,0.2 0.1,-0.1 0.1,0.1 0.1,0.1 0.1,0 0.1,0.3 0.1,-0.2 0.1,0 0.1,0 0.1,-0.1 0.1,0.1 0.1,0 0.2,0.2 0.1,0.1 0.1,0 0.1,0.2 0.1,0 0.1,-0.2 0.1,-0.3 0.1,-0.1 0.1,0 0.1,0.1 0.1,0.1 0.2,0.1 0.1,0 0.1,-0.1 0.1,0.1 0.1,0 0.1,-0.1 0.1,0.1 0.1,0.1 0.1,0 0.1,0.4 0.1,0 0.2,0 0.1,0 0.1,0.1 0.1,0 0.1,-0.1 0.1,0 0.1,0 0.1,-0.2 0.1,0 0.1,-0.2 0.1,0.2 0.2,-0.1 0.1,-0.1 0.1,0.1 0.1,0.2 0.1,0.2 0.1,0 0.1,0.1 0.1,0 0.1,0 0.1,0.2 0.1,0 0.1,-0.2 0.2,0 0.1,0.1 0.1,0 0.1,-0.1 0.1,0.1 0.1,0.1 0.1,-0.2 0.1,0 0.1,-0.1 0.1,0 0.1,0 0.2,-0.1 0.1,0.2 0.1,-0.1 0.1,0.1 0.1,-0.1 0.1,0 0.1,0 0.1,0.2 0.1,0 0.1,0.1 0.1,0.3 0.2,0 0.1,0 0.1,0 0.1,-0.2 0.1,0 0.1,0 0.1,0.2 0.1,-0.1 0.1,0 0.1,0.1 0.1,-0.3 0.2,0 0.1,0.1 0.1,-0.2 0.1,0 0.1,0 0.1,0 0.1,0.1 0.1,0.2 0.1,0 0.1,0.1 0.1,0.1 0.1,0.1 0.2,-0.1 0.1,-0.1 0.1,0.1 0.1,-0.1 0.1,0.2 0.1,-0.1 0.1,-0.1 0.1,0 0.1,0.1 0.1,0 0.1,-0.1 0.2,-0.1 0.1,-0.2 0.1,0 0.1,0.1 0.1,-0.1 0.1,0 0.1,-0.1 0.1,-0.1 0.1,0 0.1,-0.2 0.1,0.1 0.2,-0.1 0.1,0 0.1,0.1 0.1,0 0.1,0 0.1,-0.1 0.1,-0.1 0.1,0 0.1,0.1 0.1,-0.3 0.1,-0.1 0.1,0 0.2,0.2 0.1,0 0.1,-0.1 0.1,0.1 0.1,0 0.1,0 0.1,0.1 0.1,-0.1 0.1,-0.1 0.1,0 0.1,0.1 0.2,-0.1 0.1,0 0.1,0.3 0.1,0 0.1,0 0.1,0 0.1,-0.1 0.1,0 0.1,0.1 0.1,-0.1 0.1,-0.1 0.2,-0.2 0.1,0 0.1,-0.1 0.1,0.2 0.1,0.2 0.1,0.1 0.1,-0.1 0.1,0.1 0.1,-0.1 0.1,-0.1 0.1,0.2 0.2,0 0.1,0 0.1,0.1 0.1,0.2 0.1,0.1 0.1,0.2 0.1,0.1 0.1,0.1 0.1,0.2 0.1,0 0.1,0.3 0.1,0.1 0.2,0.1 0.1,0.2 0.1,0.1 0.1,0.1 0.1,0.1 0.1,0.1 0.1,0.2 0.1,0.2 0.1,0 0.1,0.3 0.1,0.1 0.2,0.1 0.1,0.2 0.1,0.2 0.1,0 0.1,-0.1 0.1,0" fill="none" stroke="#ffee10" stroke-width="1.7" stroke-linejoin="round" />
</g>
<rect x="311.4" y="337.5" width="163.2" height="99.7" fill="none" stroke="#444" stroke-width="1.3"/>
<line x1="307.9" y1="437.2" x2="311.4" y2="437.2" stroke="#444" stroke-width="1" />
<text x="304.6" y="441.0" font-size="11.8" font-family="'Liberation Serif', 'DejaVu Serif', serif" fill="#151515" text-anchor="end" >0.75</text>
<line x1="307.9" y1="420.6" x2="311.4" y2="420.6" stroke="#444" stroke-width="1" />
<text x="304.6" y="424.4" font-size="11.8" font-family="'Liberation Serif', 'DejaVu Serif', serif" fill="#151515" text-anchor="end" >1.25</text>
<line x1="307.9" y1="404.0" x2="311.4" y2="404.0" stroke="#444" stroke-width="1" />
<text x="304.6" y="407.8" font-size="11.8" font-family="'Liberation Serif', 'DejaVu Serif', serif" fill="#151515" text-anchor="end" >1.75</text>
<line x1="307.9" y1="387.4" x2="311.4" y2="387.4" stroke="#444" stroke-width="1" />
<text x="304.6" y="391.2" font-size="11.8" font-family="'Liberation Serif', 'DejaVu Serif', serif" fill="#151515" text-anchor="end" >2.25</text>
<line x1="307.9" y1="370.7" x2="311.4" y2="370.7" stroke="#444" stroke-width="1" />
<text x="304.6" y="374.5" font-size="11.8" font-family="'Liberation Serif', 'DejaVu Serif', serif" fill="#151515" text-anchor="end" >2.75</text>
<line x1="307.9" y1="354.1" x2="311.4" y2="354.1" stroke="#444" stroke-width="1" />
<text x="304.6" y="357.9" font-size="11.8" font-family="'Liberation Serif', 'DejaVu Serif', serif" fill="#151515" text-anchor="end" >3.25</text>
<line x1="307.9" y1="337.5" x2="311.4" y2="337.5" stroke="#444" stroke-width="1" />
<text x="304.6" y="341.3" font-size="11.8" font-family="'Liberation Serif', 'DejaVu Serif', serif" fill="#151515" text-anchor="end" >3.75</text>
<line x1="311.4" y1="437.2" x2="311.4" y2="440.7" stroke="#444" stroke-width="1" />
<text x="311.4" y="452.4" font-size="11.8" font-family="'Liberation Serif', 'DejaVu Serif', serif" fill="#151515" text-anchor="middle" >3.5</text>
<line x1="334.7" y1="437.2" x2="334.7" y2="440.7" stroke="#444" stroke-width="1" />
<text x="334.7" y="452.4" font-size="11.8" font-family="'Liberation Serif', 'DejaVu Serif', serif" fill="#151515" text-anchor="middle" >4.0</text>
<line x1="358.0" y1="437.2" x2="358.0" y2="440.7" stroke="#444" stroke-width="1" />
<text x="358.0" y="452.4" font-size="11.8" font-family="'Liberation Serif', 'DejaVu Serif', serif" fill="#151515" text-anchor="middle" >4.5</text>
<line x1="381.3" y1="437.2" x2="381.3" y2="440.7" stroke="#444" stroke-width="1" />
<text x="381.3" y="452.4" font-size="11.8" font-family="'Liberation Serif', 'DejaVu Serif', serif" fill="#151515" text-anchor="middle" >5.0</text>
<line x1="404.7" y1="437.2" x2="404.7" y2="440.7" stroke="#444" stroke-width="1" />
<text x="404.7" y="452.4" font-size="11.8" font-family="'Liberation Serif', 'DejaVu Serif', serif" fill="#151515" text-anchor="middle" >5.5</text>
<line x1="428.0" y1="437.2" x2="428.0" y2="440.7" stroke="#444" stroke-width="1" />
<text x="428.0" y="452.4" font-size="11.8" font-family="'Liberation Serif', 'DejaVu Serif', serif" fill="#151515" text-anchor="middle" >6.0</text>
<line x1="451.3" y1="437.2" x2="451.3" y2="440.7" stroke="#444" stroke-width="1" />
<text x="451.3" y="452.4" font-size="11.8" font-family="'Liberation Serif', 'DejaVu Serif', serif" fill="#151515" text-anchor="middle" >6.5</text>
<line x1="474.6" y1="437.2" x2="474.6" y2="440.7" stroke="#444" stroke-width="1" />
<text x="474.6" y="452.4" font-size="11.8" font-family="'Liberation Serif', 'DejaVu Serif', serif" fill="#151515" text-anchor="middle" >7.0</text>
<text x="314.6" y="350.6" font-size="13" font-family="'Liberation Sans', 'DejaVu Sans', sans-serif" font-weight="bold" stroke="#000" stroke-width="0.35" textLength="16.2" lengthAdjust="spacingAndGlyphs">iii.</text>
<rect x="312.4" y="358.5" width="71.9" height="18.5" fill="#fff" fill-opacity="0.85" stroke="#333" stroke-width="1.2"/>
<line x1="316.0" y1="367.3" x2="329.0" y2="367.3" stroke="#cc33cc" stroke-width="0.9" />
<text x="329.5" y="371.7" font-size="14.5" font-family="'Liberation Serif', 'DejaVu Serif', serif" fill="#cc33cc" >N</text>
<text x="339.1" y="373.2" font-size="10" font-family="'Liberation Serif', 'DejaVu Serif', serif" fill="#cc33cc" textLength="10.6" lengthAdjust="spacingAndGlyphs" >Na</text>
<text x="350.3" y="368.1" font-size="9.5" font-family="'Liberation Serif', 'DejaVu Serif', serif" fill="#cc33cc" >+</text>
<text x="355.5" y="371.7" font-size="14.5" font-family="'Liberation Serif', 'DejaVu Serif', serif" fill="#cc33cc" >/N</text>
<text x="369.5" y="373.2" font-size="10" font-family="'Liberation Serif', 'DejaVu Serif', serif" fill="#cc33cc" textLength="9.4" lengthAdjust="spacingAndGlyphs" >Cl</text>
<text x="379.8" y="368.5" font-size="10" font-family="'Liberation Serif', 'DejaVu Serif', serif" fill="#cc33cc" >-</text>
<g transform="translate(274.8,414.4) rotate(-90)" font-family="'Liberation Serif', 'DejaVu Serif', serif" stroke="#000" stroke-width="0.25"><text x="0" y="0" font-size="18.5" textLength="13.8" lengthAdjust="spacingAndGlyphs">N</text><text x="14.6" y="1.8" font-size="13.5" textLength="13.4" lengthAdjust="spacingAndGlyphs">Na</text><text x="29.6" y="-5.8" font-size="12" textLength="6" lengthAdjust="spacingAndGlyphs">+</text><text x="34.6" y="0" font-size="18.5" textLength="19" lengthAdjust="spacingAndGlyphs">/N</text><text x="53.6" y="1.8" font-size="13.5" textLength="11.6" lengthAdjust="spacingAndGlyphs">Cl</text><text x="65" y="-5" font-size="12" textLength="3.2" lengthAdjust="spacingAndGlyphs">-</text></g>
<g clip-path="url(#civ)">
<path d="M510.2,424.5l0.2,-18.1 0.2,-13.4 0.2,16.7 0.2,-11.9 0.2,11.4 0.2,10.3 0.3,-22.7 0.2,12.9 0.2,-0.6 0.2,9.8 0.2,5.6 0.2,-11.5 0.2,2.7 0.2,-6.5 0.2,11.4 0.2,3.3 0.2,-2.1 0.2,-4.8 0.3,5.1 0.2,-15.9 0.2,5.7 0.2,10.8 0.2,-10.5 0.2,7.4 0.2,-14.1 0.2,5.9 0.2,9.9 0.2,-3.8 0.2,-6.9 0.2,12.8 0.3,-33.8 0.2,3 0.2,21.2 0.2,1.2 0.2,-1.8 0.2,1.1 0.2,-0.7 0.2,21.6 0.2,-10.4 0.2,1 0.2,-0.7 0.2,-0.5 0.3,-25.4 0.2,-25.5 0.2,35.7 0.2,10.2 0.2,-38 0.2,34.3 0.2,-5 0.2,5.4 0.2,-13.2 0.2,6 0.2,-11.3 0.2,-4.5 0.3,29 0.2,-10.9 0.2,-4.4 0.2,14.6 0.2,1.2 0.2,-22.2 0.2,21.4 0.2,-28.5 0.2,8.9 0.2,10.6 0.2,-10.8 0.2,-14.2 0.3,25.3 0.2,13.5 0.2,-23.6 0.2,2.5 0.2,21.9 0.2,-27.2 0.2,16.7 0.2,5.4 0.2,-3.2 0.2,-16.8 0.2,-4.9 0.2,2.7 0.3,9.5 0.2,4.2 0.2,-7.4 0.2,6.5 0.2,-1.3 0.2,-20.4 0.2,19.9 0.2,9.1 0.2,-0.4 0.2,-7.4 0.2,-16 0.2,20.2 0.3,-18.5 0.2,-0.3 0.2,24.3 0.2,-11.2 0.2,-3.4 0.2,9.3 0.2,-25.2 0.2,39.2 0.2,-19.3 0.2,-0.4 0.2,5 0.2,-0.5 0.3,-22.3 0.2,-5.4 0.2,11.9 0.2,21.8 0.2,-11.4 0.2,-7.6 0.2,-3.6 0.2,15.4 0.2,-21.1 0.2,11.8 0.2,-3.3 0.2,20 0.2,-18.8 0.3,-1.7 0.2,9.5 0.2,3.5 0.2,-5.2 0.2,0.7 0.2,3 0.2,-0.2 0.2,2.1 0.2,-14.7 0.2,8.2 0.2,5.4 0.2,-12.3 0.3,11.6 0.2,-1.2 0.2,-2.7 0.2,3.5 0.2,-9.3 0.2,1.8 0.2,-12.8 0.2,17.5 0.2,-18.4 0.2,26.5 0.2,-8.5 0.2,-8.6 0.3,27.2 0.2,-27.9 0.2,9.6 0.2,11.7 0.2,-22.2 0.2,2.3 0.2,15.2 0.2,-9.2 0.2,1.1 0.2,6.9 0.2,-13.8 0.2,20.1 0.3,-19.1 0.2,12.3 0.2,-14.5 0.2,-11 0.2,9.4 0.2,19.6 0.2,-14.9 0.2,8.4 0.2,-10 0.2,-6.2 0.2,24.3 0.2,-1.9 0.3,-5.9 0.2,-0.3 0.2,6.3 0.2,-10.2 0.2,-1.2 0.2,0.9 0.2,1.1 0.2,2.1 0.2,-17.4 0.2,11.3 0.2,9.5 0.2,-15.7 0.3,17.4 0.2,8.8 0.2,-17.5 0.2,8.5 0.2,2.8 0.2,-35.6 0.2,27.8 0.2,-4.3 0.2,-8.2 0.2,19.8 0.2,-15.4 0.2,4.8 0.3,-8.9 0.2,5.9 0.2,1.7 0.2,-3.1 0.2,6.5 0.2,9 0.2,-4 0.2,-0.8 0.2,-3.1 0.2,-1.4 0.2,-0.6 0.2,-8.2 0.3,11.9 0.2,-0.1 0.2,-4.1 0.2,1.8 0.2,-4.1 0.2,-7.9 0.2,8.5 0.2,-11 0.2,7.2 0.2,7.2 0.2,-13.5 0.2,16 0.3,-8.4 0.2,-8.2 0.2,3.5 0.2,14.7 0.2,-8 0.2,-0.5 0.2,3.9 0.2,1.6 0.2,-4.1 0.2,17.3 0.2,-28.8 0.2,1.9 0.3,1.8 0.2,1 0.2,16.3 0.2,-10.5 0.2,-25.6 0.2,34.1 0.2,-19.5 0.2,16.3 0.2,10.1 0.2,-11.7 0.2,-11 0.2,14.2 0.2,-10.6 0.3,1.2 0.2,-4.7 0.2,11.2 0.2,-7 0.2,2.2 0.2,-26.9 0.2,24.8 0.2,14.2 0.2,-5 0.2,-66.9 0.2,51.3 0.2,3.3 0.3,-0.8 0.2,5.1 0.2,5.9 0.2,-13.6 0.2,5.2 0.2,3.1 0.2,3.4 0.2,-3.6 0.2,13.6 0.2,-2.3 0.2,-8 0.2,12.8 0.3,-16.1 0.2,9 0.2,-4 0.2,-7.6 0.2,13.7 0.2,-55.4 0.2,49.5 0.2,-9.2 0.2,-8.9 0.2,-1.2 0.2,3.3 0.2,11.9 0.3,9 0.2,-13.4 0.2,-8.8 0.2,13.5 0.2,-18.2 0.2,-41 0.2,-10.9 0.2,45.8 0.2,26.9 0.2,13.3 0.2,-10.4 0.2,-1.9 0.3,-6.9 0.2,6.2 0.2,-2.4 0.2,4.2 0.2,-0.1 0.2,-5 0.2,-3.3 0.2,13.3 0.2,5.7 0.2,-19.4 0.2,-6.2 0.2,-45.6 0.3,-11.3 0.2,35.2 0.2,29.7 0.2,-5.2 0.2,5.2 0.2,7.2 0.2,12.9 0.2,-4.7 0.2,-20.8 0.2,-11.5 0.2,11.4 0.2,10.2 0.3,-2.3 0.2,-1.9 0.2,8.6 0.2,-9.1 0.2,9.3 0.2,-2.8 0.2,-11.9 0.2,-4.8 0.2,9.5 0.2,12.3 0.2,-35.6 0.2,36.8 0.3,-23 0.2,-13.9 0.2,31.2 0.2,10 0.2,-18.1 0.2,8.6 0.2,5.9 0.2,-0.6 0.2,-41.9 0.2,41.8 0.2,-7.2 0.2,10.4 0.3,-35.6 0.2,24.1 0.2,-7.9 0.2,6.6 0.2,-17.3 0.2,8.9 0.2,2.3 0.2,-13.8 0.2,24.1 0.2,-17 0.2,19.8 0.2,1.4 0.2,-14.1 0.3,12.1 0.2,2.6 0.2,-10.6 0.2,8.8 0.2,-17.1 0.2,-9.8 0.2,6.5 0.2,-4.4 0.2,22.4 0.2,-0.5 0.2,-8.1 0.2,20.7 0.3,-25.7 0.2,25.1 0.2,-10.2 0.2,-2.1 0.2,-6.4 0.2,-0.4 0.2,-5 0.2,11.8 0.2,-15.4 0.2,21.3 0.2,-14.5 0.2,14.2 0.3,-20.2 0.2,16.3 0.2,-4.2 0.2,-10.7 0.2,9.2 0.2,-0.2 0.2,-4.1 0.2,19 0.2,-14.2 0.2,4.6 0.2,1.1 0.2,-5 0.3,8.3 0.2,-7.5 0.2,-10.5 0.2,6.8 0.2,-8 0.2,7.1 0.2,7.8 0.2,0.2 0.2,4.4 0.2,-3.7 0.2,-14.2 0.2,9.6 0.3,-6 0.2,-6.5 0.2,22.4 0.2,-7 0.2,7.4 0.2,-18.8 0.2,2.9 0.2,-0.8 0.2,6.6 0.2,-1.4 0.2,0.1 0.2,-11.2 0.3,29.8 0.2,-21.3 0.2,-7.3 0.2,4.3 0.2,5.3 0.2,-3.4 0.2,0 0.2,18.1 0.2,-14.6 0.2,-3.8 0.2,18.7 0.2,-14 0.3,5.1 0.2,-5.9 0.2,-2.7 0.2,12.9 0.2,-18.4 0.2,13.1 0.2,-6.2 0.2,5.2 0.2,-12.8 0.2,-9.4 0.2,19.8 0.2,3.6 0.3,-13.7 0.2,-1.4 0.2,5.3 0.2,10.6 0.2,-5.8 0.2,3.5 0.2,-14.2 0.2,7.1 0.2,-9.8 0.2,9.3 0.2,-6.2 0.2,-5.3 0.3,12.2 0.2,-7.7 0.2,22.9 0.2,-11.8 0.2,4.7 0.2,4.7 0.2,-3.8 0.2,-9.1 0.2,3.1 0.2,-6.5 0.2,17.5 0.2,-9.9 0.3,0.8 0.2,-9.8 0.2,12 0.2,-4.4 0.2,-2.6 0.2,13.3 0.2,-11.9 0.2,7.6 0.2,-5.8 0.2,-8.7 0.2,-1.7 0.2,10.8 0.2,-1.6 0.3,2 0.2,5.4 0.2,-18.3 0.2,-3.4 0.2,18.8 0.2,-9 0.2,10.3 0.2,-14.6 0.2,24.1 0.2,-5.2 0.2,-2.4 0.2,-5.6 0.3,2.9 0.2,-20.2 0.2,9.8 0.2,9.8 0.2,-13.1 0.2,6.5 0.2,2.2 0.2,7.6 0.2,-6 0.2,-1.2 0.2,4 0.2,-0.9 0.3,-6.5 0.2,-8.4 0.2,15.5 0.2,-0.5 0.2,-11.5 0.2,19.2 0.2,-16.5 0.2,-2.9 0.2,9.5 0.2,1.3 0.2,11.6 0.2,-51.5 0.3,42.9 0.2,-12.6 0.2,12.4 0.2,-2.9 0.2,11.8 0.2,-12.7 0.2,17.3 0.2,-11.5 0.2,-21 0.2,15.4 0.2,8.5 0.2,-11.8 0.3,7.3 0.2,-3.3 0.2,8 0.2,-10.4 0.2,7.6 0.2,-9.8 0.2,4 0.2,7.3 0.2,-2.1 0.2,-4.9 0.2,10.6 0.2,-11.1 0.3,-21.3 0.2,11.8 0.2,23.7 0.2,-15.2 0.2,-7.9 0.2,-5.5 0.2,24.6 0.2,-3.4 0.2,-8.2 0.2,-12.7 0.2,14.2 0.2,-0.1 0.3,-1.8 0.2,-14.3 0.2,31.8 0.2,-19.7 0.2,13.1 0.2,-8.4 0.2,-7.1 0.2,-2.9 0.2,13.5 0.2,3.7 0.2,-12.2 0.2,7.1 0.3,0.1 0.2,-8.4 0.2,0.4 0.2,-11.6 0.2,16.6 0.2,4.8 0.2,-1.8 0.2,-8.7 0.2,-9.1 0.2,17.9 0.2,7.4 0.2,-15.2 0.3,5.2 0.2,-1.3 0.2,2.9 0.2,-12.7 0.2,4.6 0.2,-2.3 0.2,18.5 0.2,-18 0.2,-10.8 0.2,15.7 0.2,2.6 0.2,1.7 0.2,-10.9 0.3,12.1 0.2,-3 0.2,-3.7 0.2,7.9 0.2,-5.6 0.2,0.8 0.2,-2.8 0.2,2.7 0.2,5 0.2,-11.8 0.2,9.7 0.2,8.8 0.3,-3.8 0.2,-9.3 0.2,11.8 0.2,-21.1 0.2,3.6 0.2,14.2 0.2,0.8 0.2,-8.4 0.2,-1.5 0.2,-5.9 0.2,-1.7 0.2,-1.2 0.3,17.3 0.2,-1.1 0.2,-2.6 0.2,-1.2 0.2,11.7 0.2,-2.8 0.2,-11.4 0.2,0 0.2,-1.5 0.2,-10.5 0.2,5.4 0.2,12.2 0.3,-3.2 0.2,0.9 0.2,-6.1 0.2,10.6 0.2,-8.7 0.2,13.2 0.2,-15.8 0.2,-3.6 0.2,12.8 0.2,-12.5 0.2,9.3 0.2,-20.7 0.3,25.7 0.2,-1.1 0.2,-7.4 0.2,6.2 0.2,-54.8 0.2,43 0.2,5 0.2,-131.1 0.2,147.6 0.2,-37.2 0.2,24.7 0.2,-18.6 0.3,34.2 0.2,-59.4 0.2,-48.3 0.2,37.3 0.2,39.4 0.2,-81.6 0.2,72.2 0.2,18.6 0.2,-37.8 0.2,29.4 0.2,-11.1 0.2,-0.8 0.3,9.1 0.2,7.9 0.2,-8.7 0.2,2.4 0.2,25.8 0.2,-17.7 0.2,1.2 0.2,-16.8 0.2,30.7 0.2,-4.2 0.2,0 0.2,-11.9 0.3,-26.7 0.2,55.7 0.2,-33.3 0.2,-20.8 0.2,-8.8 0.2,51.8 0.2,-1.7 0.2,-44.9 0.2,-61.2 0.2,78.4 0.2,32.6 0.2,-54.9 0.3,37.7 0.2,-14.3 0.2,19 0.2,13 0.2,1.1 0.2,1.8 0.2,-42 0.2,48.2 0.2,-115.4 0.2,86.6 0.2,-12.2 0.2,-22.3 0.3,26.6 0.2,9.2 0.2,-5.6 0.2,-10.6 0.2,7.6 0.2,15.3 0.2,-38.7 0.2,-28.7 0.2,12 0.2,48.9 0.2,-35.5 0.2,34.4 0.2,-1.9 0.3,14.6 0.2,-26.7 0.2,2.7 0.2,-25.9 0.2,39.4 0.2,0.2 0.2,-52.3 0.2,39.2 0.2,-8.6 0.2,19.2 0.2,-30.4 0.2,19.4 0.3,10.8 0.2,-179.3 0.2,156.2 0.2,-1.3 0.2,21.5 0.2,-19.1 0.2,32.3 0.2,-33.9 0.2,-27.4 0.2,41.7 0.2,-27.6 0.2,12 0.3,39.6 0.2,-6.1 0.2,5.1 0.2,-18.1 0.2,13.3 0.2,-33.3 0.2,37.1 0.2,-32.1 0.2,24.9 0.2,-19.7 0.2,15.4 0.2,15.1 0.3,-15.5 0.2,23.6 0.2,-40 0.2,0.9 0.2,-9.3 0.2,40.6 0.2,-3.3 0.2,-3 0.2,14.6 0.2,-77.3 0.2,-70.5 0.2,138.4 0.3,-17.2 0.2,32.5 0.2,-44.9 0.2,11.5 0.2,-9.5 0.2,4.1 0.2,32.9 0.2,-21.1 0.2,-0.6 0.2,-10.4 0.2,22.4 0.2,-2.9 0.3,11.1 0.2,-86.7 0.2,73.6 0.2,-105.6 0.2,103 0.2,19.7 0.2,-37.2 0.2,17 0.2,0.8 0.2,-2.7 0.2,-15.6 0.2,-11.2 0.3,43.1 0.2,-24.1 0.2,-127.4 0.2,181.2 0.2,-53.6 0.2,17.8 0.2,-7.7 0.2,-41.5 0.2,16.1 0.2,-14.3 0.2,10.5 0.2,53.9 0.3,-9.8 0.2,-23.9 0.2,-8.2 0.2,8.5 0.2,-19 0.2,-19.3 0.2,25.7 0.2,-0.8 0.2,33.3 0.2,-41.9 0.2,-32.6 0.2,-182.2 0.3,276.4 0.2,-23.4 0.2,-11.8 0.2,-13.6 0.2,31.5 0.2,-71.2 0.2,51.4" fill="none" stroke="#c070d0" stroke-width="0.7" stroke-linejoin="round" stroke-opacity="0.8"/>
<path d="M510.2,416.2l0.2,-3 0.2,-2.5 0.2,-3.9 0.2,-8.6 0.2,20.2 0.2,-9.3 0.3,-14.3 0.2,19.3 0.2,1.3 0.2,-6.6 0.2,14.9 0.2,1.7 0.2,-5.8 0.2,-9.5 0.2,12 0.2,-1.7 0.2,-9.2 0.2,-10.9 0.3,14.6 0.2,1.7 0.2,-5.7 0.2,8.3 0.2,-4.3 0.2,-15.1 0.2,8.8 0.2,11.4 0.2,0.8 0.2,-14.2 0.2,18.2 0.2,-19.4 0.3,5 0.2,1.1 0.2,8.3 0.2,-21.7 0.2,25.2 0.2,-16.6 0.2,3.4 0.2,-6.2 0.2,17.8 0.2,-6.7 0.2,7 0.2,-5.7 0.3,-5.1 0.2,-3.5 0.2,10.3 0.2,-22 0.2,32.7 0.2,-9.5 0.2,6.6 0.2,-12.9 0.2,8.3 0.2,-9.6 0.2,13.5 0.2,-5.6 0.3,-19.4 0.2,8.6 0.2,4.5 0.2,-1.5 0.2,-9.4 0.2,6.4 0.2,10 0.2,0.2 0.2,-15.6 0.2,9.4 0.2,-3.6 0.2,5.8 0.3,-16.3 0.2,21.8 0.2,-13.6 0.2,10.2 0.2,-14.7 0.2,9.8 0.2,-2.4 0.2,-6 0.2,8.3 0.2,-9 0.2,26.1 0.2,-12.3 0.3,-10.8 0.2,6.9 0.2,-4.5 0.2,-12.6 0.2,28.6 0.2,-13.8 0.2,16.4 0.2,-20.1 0.2,9 0.2,-10 0.2,-3.1 0.2,0.2 0.3,13.1 0.2,-24.7 0.2,21.9 0.2,-3.1 0.2,4.7 0.2,-3.8 0.2,-4.3 0.2,-4.4 0.2,7.1 0.2,9.7 0.2,-11.5 0.2,5.3 0.3,-10 0.2,16.2 0.2,-11.2 0.2,8.9 0.2,-8.5 0.2,6 0.2,-21.2 0.2,13 0.2,18.5 0.2,-26.2 0.2,14.8 0.2,-6.2 0.2,9.9 0.3,-10.5 0.2,3.3 0.2,8.1 0.2,-10.6 0.2,0 0.2,-0.2 0.2,12.2 0.2,0.5 0.2,-7.1 0.2,-7.6 0.2,17.1 0.2,-12.3 0.3,9.7 0.2,-18.1 0.2,5.1 0.2,5.3 0.2,-13.4 0.2,9.1 0.2,16.6 0.2,-2.1 0.2,-9.4 0.2,-18.2 0.2,14.5 0.2,5.7 0.3,0.9 0.2,-8.3 0.2,10 0.2,-4.4 0.2,-2.6 0.2,-1 0.2,0.2 0.2,-12 0.2,1 0.2,2.6 0.2,18.1 0.2,-16.5 0.3,4.6 0.2,-1.2 0.2,-0.1 0.2,3.2 0.2,-15.4 0.2,12.7 0.2,-2.7 0.2,-0.7 0.2,3.2 0.2,-1 0.2,4.3 0.2,1 0.3,2 0.2,-1.8 0.2,2.3 0.2,-3.3 0.2,-0.4 0.2,12.7 0.2,-15.9 0.2,-1.5 0.2,10.4 0.2,-21.6 0.2,18.3 0.2,-13.5 0.3,14.7 0.2,0.6 0.2,3.7 0.2,-7.1 0.2,-1.7 0.2,12.9 0.2,-22.8 0.2,4 0.2,0.3 0.2,4.7 0.2,-4.4 0.2,5.6 0.3,-21.8 0.2,18.3 0.2,-1.1 0.2,-4.4 0.2,9.6 0.2,0.4 0.2,-0.4 0.2,6.1 0.2,-4.8 0.2,-7.5 0.2,2.7 0.2,-1.5 0.3,-12.4 0.2,14.7 0.2,1.3 0.2,8.2 0.2,0.4 0.2,-5.4 0.2,-5.8 0.2,0.9 0.2,-0.2 0.2,-8 0.2,4.7 0.2,9.3 0.3,-10.5 0.2,11.1 0.2,-4.4 0.2,3.2 0.2,0.8 0.2,-8.9 0.2,6 0.2,10 0.2,-7.3 0.2,-7.3 0.2,3.1 0.2,-9.7 0.3,18.4 0.2,-16.3 0.2,11.6 0.2,10.8 0.2,-28.5 0.2,6.1 0.2,7.4 0.2,-1.4 0.2,9.4 0.2,-2.7 0.2,-21 0.2,29.2 0.2,-18.2 0.3,13.2 0.2,-6.4 0.2,-5.7 0.2,-6.6 0.2,12.1 0.2,8.8 0.2,-18.3 0.2,12.8 0.2,-15.4 0.2,17.1 0.2,-4.7 0.2,-12.2 0.3,9 0.2,22.9 0.2,-31.8 0.2,5 0.2,5.6 0.2,12 0.2,-4.4 0.2,-9.3 0.2,3.6 0.2,12.5 0.2,-13.7 0.2,-4.9 0.3,-5.2 0.2,9.3 0.2,9.7 0.2,-8 0.2,9.2 0.2,-15.5 0.2,-7.5 0.2,15 0.2,9.9 0.2,-16.1 0.2,4.2 0.2,-5.5 0.3,13.9 0.2,-9.8 0.2,6 0.2,1.2 0.2,-14.7 0.2,5.6 0.2,-9 0.2,14.5 0.2,-4.5 0.2,-4 0.2,-1.8 0.2,9 0.3,-15.4 0.2,21.3 0.2,-24.9 0.2,-3.5 0.2,6.9 0.2,13.2 0.2,7.7 0.2,1.7 0.2,-23.2 0.2,5.1 0.2,1.5 0.2,11.6 0.3,-15.9 0.2,-12.5 0.2,39.3 0.2,-16.8 0.2,5.5 0.2,0.1 0.2,-7.9 0.2,-4.7 0.2,0.1 0.2,11.1 0.2,-18.2 0.2,15.7 0.3,-0.7 0.2,-9.8 0.2,14 0.2,-5.9 0.2,11.8 0.2,-9.5 0.2,-17.9 0.2,4.7 0.2,12.3 0.2,4.2 0.2,-6 0.2,-5.9 0.3,-22.6 0.2,39.7 0.2,-12.1 0.2,0.7 0.2,13.5 0.2,-13.8 0.2,1.8 0.2,-2.9 0.2,2.7 0.2,12.4 0.2,-11.3 0.2,-9.5 0.3,6.7 0.2,-15.2 0.2,24.4 0.2,-13.1 0.2,8.7 0.2,-12.6 0.2,12.1 0.2,-12.9 0.2,7.2 0.2,-2.9 0.2,22.9 0.2,-19.4 0.2,0.7 0.3,1.6 0.2,2.3 0.2,-9.2 0.2,20.1 0.2,-7.1 0.2,-11.3 0.2,-1.4 0.2,-0.5 0.2,18.7 0.2,-4.8 0.2,-7.4 0.2,5.5 0.3,7.2 0.2,-12 0.2,3 0.2,-3.1 0.2,-8.2 0.2,16.5 0.2,-2.1 0.2,-0.1 0.2,-11.5 0.2,6.3 0.2,0.5 0.2,5.4 0.3,4.7 0.2,-20.1 0.2,5.9 0.2,-10.1 0.2,20.2 0.2,-0.5 0.2,-12.6 0.2,11.9 0.2,-7.6 0.2,9.8 0.2,0.2 0.2,-13 0.3,7.9 0.2,-8.1 0.2,-4.3 0.2,8.9 0.2,20.8 0.2,0.8 0.2,-24.2 0.2,2 0.2,1.2 0.2,-5.1 0.2,10.6 0.2,-3.2 0.3,14.5 0.2,-31.5 0.2,11.2 0.2,-8.8 0.2,8.6 0.2,8.2 0.2,-18.5 0.2,21.1 0.2,-12.5 0.2,5.3 0.2,2.1 0.2,7.1 0.3,-0.5 0.2,-9.5 0.2,-10.8 0.2,2.7 0.2,13.6 0.2,10.1 0.2,-23.9 0.2,11.8 0.2,-3.1 0.2,20.9 0.2,-29 0.2,-3.7 0.3,-0.5 0.2,20 0.2,-4.7 0.2,-12.4 0.2,20.9 0.2,-8.4 0.2,-10.5 0.2,2.6 0.2,14.9 0.2,-15 0.2,7.9 0.2,-4.4 0.3,10.6 0.2,1.5 0.2,-17.4 0.2,15.7 0.2,-5.6 0.2,-8.9 0.2,6.1 0.2,9.4 0.2,4 0.2,-21 0.2,-4.2 0.2,-2.1 0.3,21.9 0.2,-10.9 0.2,2.5 0.2,-8.7 0.2,12 0.2,-3.9 0.2,8.8 0.2,-9.7 0.2,-4.9 0.2,10 0.2,9.4 0.2,3.2 0.3,-23 0.2,-1.7 0.2,10.5 0.2,-0.2 0.2,25.8 0.2,-26.5 0.2,-7.5 0.2,-2.9 0.2,4.6 0.2,7.6 0.2,-13.5 0.2,5.3 0.2,15.2 0.3,-3.7 0.2,0.8 0.2,-14.5 0.2,8.7 0.2,-4.1 0.2,9.3 0.2,12.4 0.2,-4 0.2,-19.5 0.2,-1.4 0.2,14.9 0.2,-10.9 0.3,7.3 0.2,10.2 0.2,-19.5 0.2,27.6 0.2,-15.8 0.2,-21.2 0.2,30.3 0.2,-11.5 0.2,-4 0.2,-2.4 0.2,10.6 0.2,-5.4 0.3,-12.1 0.2,11.3 0.2,-9.7 0.2,13 0.2,4.1 0.2,-14 0.2,5 0.2,-14.8 0.2,10.1 0.2,0.7 0.2,16.7 0.2,-19.4 0.3,3.9 0.2,-5.8 0.2,-1.3 0.2,5.1 0.2,4.1 0.2,-1.5 0.2,9.5 0.2,-9 0.2,12.9 0.2,6.9 0.2,-16.9 0.2,10.6 0.3,-8.3 0.2,10.3 0.2,-12 0.2,-0.9 0.2,-5.4 0.2,17.7 0.2,0.2 0.2,-25 0.2,6.3 0.2,19.9 0.2,-2.3 0.2,-18.8 0.3,16.1 0.2,-16.1 0.2,-0.1 0.2,-5.9 0.2,15.2 0.2,5.1 0.2,-5.6 0.2,-8.6 0.2,17.1 0.2,-6.5 0.2,-6.9 0.2,4.8 0.3,-0.4 0.2,-2.2 0.2,-2.7 0.2,1.6 0.2,-13.3 0.2,25 0.2,-21.2 0.2,11.3 0.2,-1.2 0.2,5.4 0.2,-18.9 0.2,27.8 0.3,-9.7 0.2,4.1 0.2,-8.8 0.2,8.3 0.2,-18.5 0.2,3.4 0.2,2.8 0.2,-3.6 0.2,14.7 0.2,-16.8 0.2,17.6 0.2,-12.7 0.3,7.9 0.2,9.2 0.2,6.5 0.2,-12.2 0.2,6.9 0.2,-8.8 0.2,-15.1 0.2,16 0.2,6.1 0.2,-0.8 0.2,-8.6 0.2,-8.1 0.2,8 0.3,-5.9 0.2,2 0.2,4.2 0.2,-13.5 0.2,20.1 0.2,-21.9 0.2,20 0.2,-7.7 0.2,-0.5 0.2,-4.1 0.2,-17 0.2,5.8 0.3,20.7 0.2,-8.5 0.2,4.1 0.2,-4.5 0.2,3.9 0.2,8.1 0.2,-4.1 0.2,-7.6 0.2,-7.7 0.2,14.6 0.2,0.2 0.2,3.5 0.3,-9.2 0.2,13.1 0.2,1.1 0.2,-19.8 0.2,6.8 0.2,10.3 0.2,5 0.2,-20.7 0.2,7.1 0.2,-8.8 0.2,14.9 0.2,1.6 0.3,-7.8 0.2,5.4 0.2,-10.4 0.2,3.2 0.2,-22.5 0.2,9.6 0.2,16.6 0.2,-0.6 0.2,18.8 0.2,-23.8 0.2,-4.4 0.2,17.6 0.3,-2.9 0.2,-5.2 0.2,6.1 0.2,-25.5 0.2,14.2 0.2,16.6 0.2,-18 0.2,4.4 0.2,5.2 0.2,-6 0.2,-1.9 0.2,-22.9 0.3,28.4 0.2,-11.8 0.2,0.2 0.2,18.4 0.2,-34.9 0.2,21.3 0.2,22.6 0.2,-25.3 0.2,-4.3 0.2,-1.2 0.2,-11.1 0.2,-10.8 0.3,44.2 0.2,-1.4 0.2,-3.8 0.2,1.2 0.2,1 0.2,-17.2 0.2,20.9 0.2,-15.7 0.2,-2.6 0.2,8.6 0.2,13.3 0.2,-30.5 0.3,20.6 0.2,0.3 0.2,-7.2 0.2,55.9 0.2,-58.4 0.2,3.7 0.2,-15.2 0.2,11.3 0.2,-3.1 0.2,3.7 0.2,9.7 0.2,-0.7 0.3,-8.4 0.2,3.6 0.2,-4.6 0.2,10.1 0.2,-0.8 0.2,-1.8 0.2,-6.7 0.2,4.4 0.2,-27.2 0.2,29 0.2,-10.4 0.2,5.6 0.3,-1.2 0.2,-3.1 0.2,16.8 0.2,-3.4 0.2,10.7 0.2,-19 0.2,-11.5 0.2,49.3 0.2,-23.3 0.2,-29.1 0.2,12.1 0.2,7.6 0.2,-22.4 0.3,7.4 0.2,5.3 0.2,4.1 0.2,9.1 0.2,-32.8 0.2,1.2 0.2,17.1 0.2,-0.7 0.2,5 0.2,4.8 0.2,-37 0.2,6.3 0.3,36.6 0.2,-33.2 0.2,34 0.2,-11.1 0.2,-1.8 0.2,-10.1 0.2,-6.3 0.2,-3.3 0.2,27.1 0.2,-19.7 0.2,-5.4 0.2,9.8 0.3,16.5 0.2,-25.2 0.2,-18.3 0.2,22.9 0.2,5.5 0.2,-6 0.2,-7.8 0.2,36.1 0.2,-18.2 0.2,9.4 0.2,-15.8 0.2,25.8 0.3,-13 0.2,-18.5 0.2,-5.2 0.2,46.7 0.2,-37.9 0.2,35.8 0.2,5.7 0.2,-23.1 0.2,7.6 0.2,-5.1 0.2,7.4 0.2,-10.7 0.3,-6.9 0.2,2.6 0.2,-18.2 0.2,16.8 0.2,-12.6 0.2,18.1 0.2,-5.7 0.2,1.1 0.2,3.6 0.2,26.5 0.2,-48.8 0.2,23.1 0.3,13.4 0.2,-10.1 0.2,-4.7 0.2,7.9 0.2,22 0.2,-10.9 0.2,-29.1 0.2,-8.4 0.2,7.6 0.2,16.9 0.2,4.5 0.2,-22.6 0.3,14.9 0.2,-25.5 0.2,17.4 0.2,1.4 0.2,-5.6 0.2,2.9 0.2,6.6 0.2,1.2 0.2,-33.4 0.2,40.9 0.2,-21 0.2,-2.4 0.3,29.2 0.2,-6.6 0.2,-10.6 0.2,4.9 0.2,-16 0.2,42.3 0.2,-36.4 0.2,-1.2 0.2,0.9 0.2,-12 0.2,9.2 0.2,24.7 0.3,-24.4 0.2,16.5 0.2,8.7 0.2,-20.4 0.2,-5.6 0.2,9.7 0.2,-20" fill="none" stroke="#8a1c9a" stroke-width="0.9" stroke-linejoin="round" />
<line x1="510.2" y1="428.9" x2="676.6" y2="428.9" stroke="#2828ff" stroke-width="1.3" stroke-dasharray="3.2 2"/>
<path d="M510.2,419.5l0.2,0 0.2,-0.1 0.2,-0.1 0.2,-0.2 0.2,-0.1 0.2,-0.1 0.3,-0.2 0.2,-0.1 0.2,-0.2 0.2,-0.1 0.2,-0.1 0.2,-0.2 0.2,0 0.2,-0.1 0.2,-0.1 0.2,-0.1 0.2,-0.1 0.2,-0.1 0.3,0 0.2,-0.1 0.2,-0.1 0.2,0 0.2,0 0.2,-0.1 0.2,0 0.2,0 0.2,-0.1 0.2,0 0.2,0.1 0.2,0.1 0.3,0 0.2,0.2 0.2,0.2 0.2,0.2 0.2,0.2 0.2,0.2 0.2,0.1 0.2,0.1 0.2,0.2 0.2,0.1 0.2,0.1 0.2,0.1 0.3,0.1 0.2,0.1 0.2,0.1 0.2,0 0.2,0 0.2,-0.1 0.2,0 0.2,0 0.2,-0.1 0.2,-0.1 0.2,-0.1 0.2,-0.1 0.3,-0.2 0.2,-0.1 0.2,-0.1 0.2,-0.2 0.2,-0.2 0.2,-0.1 0.2,-0.2 0.2,-0.1 0.2,-0.1 0.2,-0.2 0.2,-0.2 0.2,-0.1 0.3,-0.1 0.2,-0.1 0.2,-0.1 0.2,-0.2 0.2,-0.2 0.2,-0.2 0.2,-0.2 0.2,-0.2 0.2,-0.2 0.2,-0.1 0.2,0 0.2,0 0.3,0.1 0.2,0 0.2,0.1 0.2,0.1 0.2,0.2 0.2,0.1 0.2,0.1 0.2,0.2 0.2,0.1 0.2,0 0.2,0.1 0.2,0.1 0.3,0 0.2,0 0.2,-0.1 0.2,-0.1 0.2,-0.2 0.2,-0.1 0.2,-0.1 0.2,-0.2 0.2,-0.1 0.2,-0.2 0.2,-0.2 0.2,-0.1 0.3,-0.1 0.2,-0.1 0.2,-0.1 0.2,-0.1 0.2,0 0.2,0 0.2,0.1 0.2,0 0.2,0 0.2,0 0.2,0.1 0.2,0 0.2,0.1 0.3,0.1 0.2,0 0.2,0 0.2,0.1 0.2,-0.1 0.2,-0.1 0.2,-0.1 0.2,-0.1 0.2,-0.1 0.2,-0.1 0.2,0 0.2,0 0.3,-0.1 0.2,-0.1 0.2,0 0.2,-0.1 0.2,-0.1 0.2,0 0.2,-0.1 0.2,0.1 0.2,0.1 0.2,0 0.2,0.1 0.2,0 0.3,0 0.2,-0.1 0.2,-0.1 0.2,-0.1 0.2,0 0.2,-0.1 0.2,-0.1 0.2,0 0.2,-0.1 0.2,-0.1 0.2,-0.1 0.2,-0.2 0.3,-0.2 0.2,-0.1 0.2,-0.1 0.2,0 0.2,0.1 0.2,0 0.2,0.1 0.2,0 0.2,0 0.2,0 0.2,0 0.2,0 0.3,0.1 0.2,0 0.2,0.1 0.2,0.1 0.2,0 0.2,0 0.2,0 0.2,0 0.2,-0.1 0.2,0 0.2,0 0.2,0.1 0.3,0.1 0.2,0.1 0.2,0.2 0.2,0.1 0.2,0.1 0.2,0 0.2,0.1 0.2,0 0.2,0 0.2,0 0.2,0 0.2,0 0.3,-0.1 0.2,-0.2 0.2,-0.1 0.2,-0.2 0.2,-0.2 0.2,-0.2 0.2,-0.3 0.2,-0.1 0.2,-0.2 0.2,-0.2 0.2,-0.1 0.2,-0.2 0.3,-0.1 0.2,-0.1 0.2,0 0.2,-0.1 0.2,-0.1 0.2,0 0.2,0 0.2,-0.1 0.2,0.1 0.2,0 0.2,0 0.2,0 0.3,0 0.2,0 0.2,0.1 0.2,0 0.2,-0.1 0.2,0 0.2,0 0.2,0 0.2,-0.1 0.2,-0.1 0.2,-0.1 0.2,-0.1 0.3,0 0.2,0 0.2,-0.1 0.2,-0.1 0.2,0 0.2,-0.1 0.2,0 0.2,0 0.2,-0.1 0.2,0 0.2,0.1 0.2,0.1 0.2,0 0.3,0.1 0.2,0 0.2,0.1 0.2,0.1 0.2,0.1 0.2,-0.1 0.2,0 0.2,0.1 0.2,0 0.2,0.1 0.2,0 0.2,0 0.3,0 0.2,0.1 0.2,0 0.2,-0.1 0.2,0 0.2,0 0.2,0 0.2,0 0.2,0.1 0.2,-0.1 0.2,0 0.2,-0.1 0.3,0 0.2,-0.1 0.2,-0.1 0.2,-0.2 0.2,-0.1 0.2,-0.1 0.2,0 0.2,-0.2 0.2,-0.1 0.2,-0.1 0.2,-0.1 0.2,0 0.3,-0.1 0.2,-0.2 0.2,-0.2 0.2,-0.1 0.2,-0.1 0.2,-0.1 0.2,-0.1 0.2,0 0.2,0 0.2,0 0.2,0.1 0.2,0.1 0.3,0.2 0.2,0.1 0.2,0.1 0.2,0.2 0.2,0.1 0.2,0.2 0.2,0.1 0.2,0.2 0.2,0.2 0.2,0.1 0.2,0 0.2,0.1 0.3,0 0.2,-0.2 0.2,-0.1 0.2,-0.2 0.2,-0.2 0.2,-0.1 0.2,0 0.2,0 0.2,0 0.2,0 0.2,0 0.2,0.1 0.3,0.1 0.2,0 0.2,0.1 0.2,0.2 0.2,0.2 0.2,0.2 0.2,0.2 0.2,0.1 0.2,0.1 0.2,0 0.2,0 0.2,0 0.3,-0.2 0.2,-0.1 0.2,-0.1 0.2,-0.1 0.2,-0.1 0.2,-0.1 0.2,-0.2 0.2,-0.1 0.2,-0.1 0.2,-0.1 0.2,0 0.2,0.1 0.3,0 0.2,0.1 0.2,0.1 0.2,0.1 0.2,0.1 0.2,0.1 0.2,0.1 0.2,0 0.2,0.1 0.2,0 0.2,0 0.2,0 0.2,0 0.3,0 0.2,0 0.2,0 0.2,0 0.2,-0.1 0.2,0 0.2,-0.1 0.2,0 0.2,-0.1 0.2,0 0.2,-0.1 0.2,0 0.3,0.1 0.2,0 0.2,0 0.2,0 0.2,0 0.2,0 0.2,0 0.2,0 0.2,0 0.2,0 0.2,0 0.2,0 0.3,0.1 0.2,0 0.2,0 0.2,0 0.2,0 0.2,0.1 0.2,0 0.2,-0.1 0.2,-0.1 0.2,0 0.2,0 0.2,-0.1 0.3,-0.2 0.2,-0.1 0.2,-0.2 0.2,-0.1 0.2,-0.1 0.2,-0.2 0.2,-0.2 0.2,-0.2 0.2,-0.1 0.2,0 0.2,0 0.2,0 0.3,0.1 0.2,0.1 0.2,0.2 0.2,0.3 0.2,0.1 0.2,0.2 0.2,0.1 0.2,0.1 0.2,0.2 0.2,0.1 0.2,0.1 0.2,0.1 0.3,0.1 0.2,0.1 0.2,0.1 0.2,0 0.2,0 0.2,-0.1 0.2,-0.1 0.2,0 0.2,-0.1 0.2,0 0.2,0 0.2,-0.1 0.3,0.1 0.2,0 0.2,-0.1 0.2,0 0.2,-0.1 0.2,0 0.2,-0.2 0.2,0 0.2,0 0.2,-0.1 0.2,0 0.2,-0.1 0.3,-0.1 0.2,0 0.2,-0.1 0.2,-0.1 0.2,-0.1 0.2,0 0.2,0 0.2,0 0.2,0.1 0.2,0.1 0.2,0.1 0.2,0.1 0.3,0.1 0.2,0.1 0.2,0.1 0.2,0 0.2,0 0.2,0 0.2,-0.1 0.2,0 0.2,-0.2 0.2,0 0.2,-0.1 0.2,0 0.3,0 0.2,-0.1 0.2,0 0.2,0 0.2,0.1 0.2,0 0.2,0.1 0.2,0.1 0.2,0.1 0.2,0 0.2,0.1 0.2,0.1 0.2,0 0.3,0.1 0.2,0 0.2,0 0.2,0 0.2,0 0.2,0.1 0.2,0 0.2,0 0.2,0 0.2,0 0.2,0 0.2,0.1 0.3,0 0.2,0 0.2,0 0.2,0 0.2,0 0.2,0 0.2,0 0.2,0 0.2,0 0.2,0 0.2,0.1 0.2,0 0.3,0.1 0.2,0 0.2,0.1 0.2,0 0.2,0.1 0.2,0.1 0.2,0.1 0.2,0 0.2,0 0.2,0.1 0.2,0 0.2,0 0.3,-0.1 0.2,0 0.2,-0.1 0.2,-0.1 0.2,-0.1 0.2,0 0.2,-0.1 0.2,-0.1 0.2,0 0.2,-0.1 0.2,0 0.2,-0.1 0.3,0.1 0.2,0 0.2,0.2 0.2,0.1 0.2,0.2 0.2,0.2 0.2,0.2 0.2,0.1 0.2,0.2 0.2,0.1 0.2,0 0.2,0 0.3,0 0.2,0 0.2,0 0.2,0 0.2,-0.1 0.2,-0.1 0.2,0 0.2,-0.1 0.2,0 0.2,0 0.2,0 0.2,0.1 0.3,0.1 0.2,0.1 0.2,0.2 0.2,0.1 0.2,0 0.2,0.1 0.2,0.1 0.2,0 0.2,-0.1 0.2,-0.1 0.2,-0.1 0.2,-0.1 0.3,-0.1 0.2,-0.2 0.2,-0.3 0.2,-0.3 0.2,-0.2 0.2,-0.3 0.2,-0.4 0.2,-0.3 0.2,-0.3 0.2,-0.2 0.2,-0.2 0.2,-0.1 0.3,-0.1 0.2,-0.1 0.2,0.1 0.2,0 0.2,0.1 0.2,0 0.2,0.1 0.2,0.2 0.2,0.1 0.2,0.1 0.2,0.1 0.2,0 0.2,0.1 0.3,0.1 0.2,-0.1 0.2,-0.1 0.2,-0.1 0.2,0 0.2,-0.1 0.2,0 0.2,-0.1 0.2,0 0.2,0 0.2,0.1 0.2,0.1 0.3,0.1 0.2,0.1 0.2,0.1 0.2,0.2 0.2,0.2 0.2,0.1 0.2,0.2 0.2,0.2 0.2,0.1 0.2,0.1 0.2,0.2 0.2,0 0.3,0 0.2,0 0.2,0 0.2,-0.1 0.2,-0.1 0.2,-0.2 0.2,-0.1 0.2,-0.2 0.2,-0.2 0.2,-0.2 0.2,-0.1 0.2,-0.1 0.3,-0.1 0.2,0 0.2,0 0.2,0 0.2,0.1 0.2,0.1 0.2,0 0.2,0.1 0.2,0.1 0.2,0.1 0.2,0.1 0.2,0.1 0.3,0.1 0.2,-0.1 0.2,0.1 0.2,-0.1 0.2,0 0.2,-0.2 0.2,-0.1 0.2,-0.1 0.2,-0.2 0.2,-0.2 0.2,-0.2 0.2,-0.3 0.3,-0.4 0.2,-0.4 0.2,-0.4 0.2,-0.5 0.2,-0.6 0.2,-0.5 0.2,-0.6 0.2,-0.5 0.2,-0.4 0.2,-0.5 0.2,-0.4 0.2,-0.3 0.3,-0.2 0.2,-0.2 0.2,-0.1 0.2,0 0.2,0 0.2,0.2 0.2,0.2 0.2,0.3 0.2,0.4 0.2,0.4 0.2,0.3 0.2,0.4 0.3,0.4 0.2,0.4 0.2,0.5 0.2,0.4 0.2,0.3 0.2,0.4 0.2,0.3 0.2,0.4 0.2,0.3 0.2,0.2 0.2,0.2 0.2,0.1 0.3,0.1 0.2,0.1 0.2,0 0.2,-0.1 0.2,-0.2 0.2,-0.1 0.2,-0.2 0.2,-0.1 0.2,-0.3 0.2,-0.3 0.2,-0.3 0.2,-0.3 0.3,-0.3 0.2,-0.3 0.2,-0.5 0.2,-0.4 0.2,-0.5 0.2,-0.5 0.2,-0.5 0.2,-0.6 0.2,-0.6 0.2,-0.8 0.2,-0.7 0.2,-0.8 0.2,-0.8 0.3,-0.9 0.2,-0.8 0.2,-0.9 0.2,-0.9 0.2,-0.7 0.2,-0.8 0.2,-0.6 0.2,-0.5 0.2,-0.6 0.2,-0.3 0.2,-0.2 0.2,-0.2 0.3,0 0.2,0.1 0.2,0.2 0.2,0.3 0.2,0.4 0.2,0.4 0.2,0.5 0.2,0.5 0.2,0.5 0.2,0.4 0.2,0.5 0.2,0.4 0.3,0.3 0.2,0.3 0.2,0.2 0.2,0.1 0.2,0.2 0.2,0.1 0.2,0.2 0.2,0.3 0.2,0.3 0.2,0.4 0.2,0.6 0.2,0.7 0.3,0.7 0.2,0.9 0.2,0.9 0.2,0.9 0.2,1 0.2,0.9 0.2,0.8 0.2,0.7 0.2,0.6 0.2,0.4 0.2,0.4 0.2,0.4 0.3,0.3 0.2,0.2 0.2,0.1 0.2,0.1 0.2,0.1 0.2,0.2 0.2,0.1 0.2,0.1 0.2,0 0.2,0 0.2,0.1 0.2,0.2 0.3,0.1 0.2,0 0.2,-0.1 0.2,-0.1 0.2,-0.1 0.2,-0.1 0.2,-0.2 0.2,-0.2 0.2,-0.1 0.2,-0.1 0.2,-0.1 0.2,0 0.3,0 0.2,0 0.2,0 0.2,0.2 0.2,0.1 0.2,0.1 0.2,0.1 0.2,0.1 0.2,0.2 0.2,0.1 0.2,0.1 0.2,0 0.3,0 0.2,0 0.2,0 0.2,0 0.2,0 0.2,-0.1 0.2,-0.1 0.2,0 0.2,0 0.2,0.1 0.2,0.1 0.2,0 0.3,0.1 0.2,0.2 0.2,0.2 0.2,0.3 0.2,0.2 0.2,0.2 0.2,0.2" fill="none" stroke="#ffee10" stroke-width="1.7" stroke-linejoin="round" />
</g>
<rect x="510.2" y="337.5" width="166.4" height="99.7" fill="none" stroke="#444" stroke-width="1.3"/>
<line x1="506.7" y1="437.2" x2="510.2" y2="437.2" stroke="#444" stroke-width="1" />
<text x="503.4" y="441.0" font-size="11.8" font-family="'Liberation Serif', 'DejaVu Serif', serif" fill="#151515" text-anchor="end" >0.75</text>
<line x1="506.7" y1="420.6" x2="510.2" y2="420.6" stroke="#444" stroke-width="1" />
<text x="503.4" y="424.4" font-size="11.8" font-family="'Liberation Serif', 'DejaVu Serif', serif" fill="#151515" text-anchor="end" >1.25</text>
<line x1="506.7" y1="404.0" x2="510.2" y2="404.0" stroke="#444" stroke-width="1" />
<text x="503.4" y="407.8" font-size="11.8" font-family="'Liberation Serif', 'DejaVu Serif', serif" fill="#151515" text-anchor="end" >1.75</text>
<line x1="506.7" y1="387.4" x2="510.2" y2="387.4" stroke="#444" stroke-width="1" />
<text x="503.4" y="391.2" font-size="11.8" font-family="'Liberation Serif', 'DejaVu Serif', serif" fill="#151515" text-anchor="end" >2.25</text>
<line x1="506.7" y1="370.7" x2="510.2" y2="370.7" stroke="#444" stroke-width="1" />
<text x="503.4" y="374.5" font-size="11.8" font-family="'Liberation Serif', 'DejaVu Serif', serif" fill="#151515" text-anchor="end" >2.75</text>
<line x1="506.7" y1="354.1" x2="510.2" y2="354.1" stroke="#444" stroke-width="1" />
<text x="503.4" y="357.9" font-size="11.8" font-family="'Liberation Serif', 'DejaVu Serif', serif" fill="#151515" text-anchor="end" >3.25</text>
<line x1="506.7" y1="337.5" x2="510.2" y2="337.5" stroke="#444" stroke-width="1" />
<text x="503.4" y="341.3" font-size="11.8" font-family="'Liberation Serif', 'DejaVu Serif', serif" fill="#151515" text-anchor="end" >3.75</text>
<line x1="510.2" y1="437.2" x2="510.2" y2="440.7" stroke="#444" stroke-width="1" />
<text x="510.2" y="452.4" font-size="11.8" font-family="'Liberation Serif', 'DejaVu Serif', serif" fill="#151515" text-anchor="middle" >0.0</text>
<line x1="534.0" y1="437.2" x2="534.0" y2="440.7" stroke="#444" stroke-width="1" />
<text x="534.0" y="452.4" font-size="11.8" font-family="'Liberation Serif', 'DejaVu Serif', serif" fill="#151515" text-anchor="middle" >0.5</text>
<line x1="557.7" y1="437.2" x2="557.7" y2="440.7" stroke="#444" stroke-width="1" />
<text x="557.7" y="452.4" font-size="11.8" font-family="'Liberation Serif', 'DejaVu Serif', serif" fill="#151515" text-anchor="middle" >1.0</text>
<line x1="581.5" y1="437.2" x2="581.5" y2="440.7" stroke="#444" stroke-width="1" />
<text x="581.5" y="452.4" font-size="11.8" font-family="'Liberation Serif', 'DejaVu Serif', serif" fill="#151515" text-anchor="middle" >1.5</text>
<line x1="605.3" y1="437.2" x2="605.3" y2="440.7" stroke="#444" stroke-width="1" />
<text x="605.3" y="452.4" font-size="11.8" font-family="'Liberation Serif', 'DejaVu Serif', serif" fill="#151515" text-anchor="middle" >2.0</text>
<line x1="629.1" y1="437.2" x2="629.1" y2="440.7" stroke="#444" stroke-width="1" />
<text x="629.1" y="452.4" font-size="11.8" font-family="'Liberation Serif', 'DejaVu Serif', serif" fill="#151515" text-anchor="middle" >2.5</text>
<line x1="652.8" y1="437.2" x2="652.8" y2="440.7" stroke="#444" stroke-width="1" />
<text x="652.8" y="452.4" font-size="11.8" font-family="'Liberation Serif', 'DejaVu Serif', serif" fill="#151515" text-anchor="middle" >3.0</text>
<line x1="676.6" y1="437.2" x2="676.6" y2="440.7" stroke="#444" stroke-width="1" />
<text x="676.6" y="452.4" font-size="11.8" font-family="'Liberation Serif', 'DejaVu Serif', serif" fill="#151515" text-anchor="middle" >3.5</text>
<text x="512.4" y="351" font-size="13" font-family="'Liberation Sans', 'DejaVu Sans', sans-serif" font-weight="bold" stroke="#000" stroke-width="0.35" textLength="14.6" lengthAdjust="spacingAndGlyphs">iv.</text>
<rect x="510.8" y="353.5" width="72.2" height="18.9" fill="#fff" fill-opacity="0.45" stroke="#333" stroke-width="1.2"/>
<line x1="514.0" y1="364.2" x2="527.0" y2="364.2" stroke="#cc33cc" stroke-width="0.9" />
<text x="527.5" y="368.0" font-size="14.5" font-family="'Liberation Serif', 'DejaVu Serif', serif" fill="#cc33cc" >N</text>
<text x="537.1" y="369.5" font-size="10" font-family="'Liberation Serif', 'DejaVu Serif', serif" fill="#cc33cc" textLength="10.6" lengthAdjust="spacingAndGlyphs" >Na</text>
<text x="548.3" y="364.4" font-size="9.5" font-family="'Liberation Serif', 'DejaVu Serif', serif" fill="#cc33cc" >+</text>
<text x="553.5" y="368.0" font-size="14.5" font-family="'Liberation Serif', 'DejaVu Serif', serif" fill="#cc33cc" >/N</text>
<text x="567.5" y="369.5" font-size="10" font-family="'Liberation Serif', 'DejaVu Serif', serif" fill="#cc33cc" textLength="9.4" lengthAdjust="spacingAndGlyphs" >Cl</text>
<text x="577.8" y="364.8" font-size="10" font-family="'Liberation Serif', 'DejaVu Serif', serif" fill="#cc33cc" >-</text>
<text x="451.5" y="471.0" font-size="18" font-family="'Liberation Serif', 'DejaVu Serif', serif" fill="#000" textLength="72" lengthAdjust="spacingAndGlyphs" stroke="#000" stroke-width="0.3">Time (<tspan font-style="italic">μ</tspan>s)</text>
</svg></body></html>
